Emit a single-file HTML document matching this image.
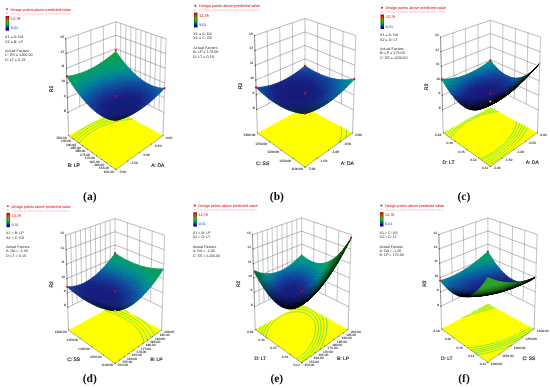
<!DOCTYPE html>
<html><head><meta charset="utf-8"><title>Response surface plots</title><style>html,body{margin:0;padding:0;background:#fff}svg{display:block}text{text-rendering:geometricPrecision}</style></head><body>
<svg width="550" height="388" viewBox="0 0 550 388" font-family="'Liberation Sans',sans-serif">
<defs><linearGradient id="cb" x1="0" y1="0" x2="0" y2="1"><stop offset="0" stop-color="#d80000"/><stop offset="0.12" stop-color="#ff1800"/><stop offset="0.3" stop-color="#a08000"/><stop offset="0.5" stop-color="#00e800"/><stop offset="0.7" stop-color="#008878"/><stop offset="0.86" stop-color="#0008e8"/><stop offset="1" stop-color="#000078"/></linearGradient><linearGradient id="ce" x1="0" y1="0" x2="1" y2="0"><stop offset="0" stop-color="#000" stop-opacity="0.5"/><stop offset="0.45" stop-color="#000" stop-opacity="0"/><stop offset="0.6" stop-color="#000" stop-opacity="0"/><stop offset="1" stop-color="#000" stop-opacity="0.5"/></linearGradient></defs>
<rect width="550" height="388" fill="#fff"/>
<g><g transform="translate(0 0) scale(1 1)">
<g font-size="3.75" stroke-width="0.06">
<circle cx="7.0" cy="9.1" r="0.95" fill="#e00"/>
<text x="10.6" y="10.8" fill="#e8202a" stroke="#e8202a">Design points above predicted value</text>
<circle cx="7.0" cy="13.4" r="0.85" fill="#f3b0b8"/>
<text x="10.6" y="14.7" fill="#f8c4cc">Design points below predicted value</text>
<rect x="5.7" y="16.0" width="3.3" height="14.6" fill="url(#cb)"/>
<rect x="5.7" y="16.0" width="3.3" height="14.6" fill="url(#ce)"/>
<text x="10.8" y="19.8" fill="#e8202a" stroke="#e8202a">12.78</text>
<text x="10.8" y="29.1" fill="#2030e0">9.01</text>
<g fill="#2a2a2a"><text x="5.0" y="38.0">X1 = A: DA</text>
<text x="5.0" y="42.6">X2 = B: LP</text>
<text x="5.0" y="52.2">Actual Factors</text>
<text x="5.0" y="56.4">C: SS = 1200.00</text>
<text x="5.0" y="61.2">D: LT = 0.15</text></g></g>
<path d="M67.8 112.4L65.7 38.8M79.8 106.5L78.2 34.5M91.8 100.6L90.7 30.3M103.8 94.6L103.3 26.1M115.8 88.7L115.8 21.8M163.8 112.5L166.2 38.8M159.0 110.1L161.2 37.1M154.2 107.7L156.1 35.4M149.4 105.3L151.1 33.7M144.6 103.0L146.0 32.0M139.8 100.6L141.0 30.3M135.0 98.2L136.0 28.6M130.2 95.8L130.9 26.9M125.4 93.4L125.9 25.2M120.6 91.1L120.8 23.5" stroke="#6a6a6a" stroke-width="0.4" fill="none"/>
<path d="M67.8 112.4L115.8 88.7M115.8 88.7L163.8 112.5M67.4 97.7L115.8 75.3M115.8 75.3L164.3 97.7M67.0 83.0L115.8 61.9M115.8 61.9L164.7 83.0M66.5 68.3L115.8 48.6M115.8 48.6L165.2 68.3M66.1 53.5L115.8 35.2M115.8 35.2L165.7 53.5M65.7 38.8L115.8 21.8M115.8 21.8L166.2 38.8M68.5 135.6L65.7 38.8M163.0 135.6L163.8 112.5" stroke="#555" stroke-width="0.42" fill="none"/>
<polygon points="115.8,169.6 163.0,135.6 115.8,109.7 68.5,135.6" fill="#ffff00"/>
<path d="M79.6 142.5L79.2 143.2M79.7 142.3L79.6 142.5M79.7 142.3L80.1 141.9M80.6 141.2L80.1 141.9M81.1 140.5L80.6 141.2M81.2 140.5L81.1 140.5M81.2 140.5L81.7 139.9M82.2 139.3L81.7 139.9M82.8 138.7L82.2 139.3M83.1 138.4L82.8 138.7M83.1 138.4L83.4 138.1M84.0 137.5L83.4 138.1M84.6 136.9L84.0 137.5M85.2 136.3L84.6 136.9M85.9 135.8L85.2 136.3M85.9 135.7L85.9 135.8M85.9 135.7L86.5 135.2M87.2 134.7L86.5 135.2M87.9 134.2L87.2 134.7M88.6 133.7L87.9 134.2M89.3 133.2L88.6 133.7M90.0 132.7L89.3 133.2M90.7 132.2L90.0 132.7M91.5 131.7L90.7 132.2M92.2 131.2L91.5 131.7M93.0 130.8L92.2 131.2M93.8 130.3L93.0 130.8M94.6 129.9L93.8 130.3M95.4 129.4L94.6 129.9M96.2 129.0L95.4 129.4M97.0 128.6L96.2 129.0M97.8 128.1L97.0 128.6M98.7 127.7L97.8 128.1M99.6 127.3L98.7 127.7M100.4 126.9L99.6 127.3M101.3 126.5L100.4 126.9M102.2 126.2L101.3 126.5M103.2 125.8L102.2 126.2M104.1 125.4L103.3 125.7M103.3 125.7L103.2 125.8M105.0 125.1L104.1 125.4M106.0 124.7L105.0 125.1M107.0 124.4L106.0 124.7M107.9 124.0L107.8 124.1M107.8 124.1L107.0 124.4M108.9 123.7L107.9 124.0M110.0 123.4L108.9 123.7M111.0 123.1L110.0 123.4M112.0 122.8L111.3 123.0M111.3 123.0L111.0 123.1M113.1 122.5L112.0 122.8M114.2 122.2L113.1 122.5M115.2 121.9L114.4 122.1M114.4 122.1L114.2 122.2M116.4 121.6L115.2 121.9M117.5 121.4L117.1 121.5M117.1 121.5L116.4 121.6M118.6 121.1L117.5 121.4M119.8 120.9L119.6 120.9M119.6 120.9L118.6 121.1M121.0 120.6L119.8 120.9M122.2 120.4L121.9 120.5M121.9 120.5L121.0 120.6M123.4 120.2L122.2 120.4M124.7 120.0L124.0 120.1M124.0 120.1L123.4 120.2M126.0 119.8L124.7 120.0M127.3 119.6L126.1 119.8M126.1 119.8L126.0 119.8M128.6 119.5L128.0 119.5M128.0 119.5L127.3 119.6M130.0 119.3L129.9 119.3M129.9 119.3L128.6 119.5M131.4 119.2L130.0 119.3M132.9 119.1L131.6 119.2M131.6 119.2L131.4 119.2" stroke="#6fe04a" stroke-width="0.5" fill="none" stroke-linecap="round"/>
<path d="M77.0 140.9L76.6 141.4M77.0 140.9L77.1 140.7M77.6 140.1L77.1 140.7M78.2 139.5L77.6 140.1M78.6 138.9L78.2 139.5M78.6 138.9L78.7 138.8M79.3 138.2L78.7 138.8M79.9 137.6L79.3 138.2M80.4 137.0L79.9 137.6M80.8 136.7L80.4 137.0M80.8 136.7L81.0 136.5M81.7 135.9L81.0 136.5M82.3 135.3L81.7 135.9M82.9 134.8L82.3 135.3M83.6 134.2L82.9 134.8M84.2 133.7L83.6 134.2M84.2 133.7L84.3 133.7M84.9 133.2L84.3 133.7M85.6 132.7L84.9 133.2M86.3 132.2L85.6 132.7M87.0 131.7L86.3 132.2M87.8 131.2L87.0 131.7M88.5 130.7L87.8 131.2M89.3 130.2L88.5 130.7M90.0 129.8L89.3 130.2M90.8 129.3L90.0 129.8M91.6 128.9L90.8 129.3M92.4 128.4L91.6 128.9M93.2 128.0L92.4 128.4M94.0 127.6L93.2 128.0M94.8 127.1L94.0 127.6M95.6 126.7L94.8 127.1M96.5 126.3L95.6 126.7M97.4 125.9L96.5 126.3M98.2 125.5L97.4 125.9M99.1 125.2L98.2 125.5M100.0 124.8L99.1 125.2M100.9 124.4L100.1 124.7M100.1 124.7L100.0 124.8M101.8 124.0L100.9 124.4M102.8 123.7L101.8 124.0M103.7 123.3L102.8 123.7M104.7 123.0L103.7 123.3M105.6 122.6L105.1 122.8M105.1 122.8L104.7 123.0M106.6 122.3L105.6 122.6M107.6 122.0L106.6 122.3M108.6 121.7L107.6 122.0M109.6 121.4L109.0 121.6M109.0 121.6L108.6 121.7M110.7 121.0L109.6 121.4M111.7 120.7L110.7 121.0M112.8 120.5L112.2 120.6M112.2 120.6L111.7 120.7M113.9 120.2L112.8 120.5M115.0 119.9L113.9 120.2M116.1 119.6L115.1 119.9M115.1 119.9L115.0 119.9M117.2 119.4L116.1 119.6M118.4 119.1L117.7 119.3M117.7 119.3L117.2 119.4M119.5 118.9L118.4 119.1M120.7 118.6L120.1 118.8M120.1 118.8L119.5 118.9M121.9 118.4L120.7 118.6M123.1 118.2L122.4 118.3M122.4 118.3L121.9 118.4M124.4 118.0L123.1 118.2M125.7 117.8L124.6 118.0M124.6 118.0L124.4 118.0M127.0 117.6L126.6 117.7M126.6 117.7L125.7 117.8M128.3 117.4L127.0 117.6M129.6 117.3L128.5 117.4M128.5 117.4L128.3 117.4" stroke="#6fe04a" stroke-width="0.5" fill="none" stroke-linecap="round"/>
<path d="M74.5 139.3L74.2 139.6M74.5 139.3L74.7 139.0M75.2 138.4L74.7 139.0M75.8 137.8L75.2 138.4M76.3 137.2L75.8 137.8M76.3 137.2L76.4 137.2M76.9 136.6L76.4 137.2M77.5 136.0L76.9 136.6M78.1 135.4L77.5 136.0M78.8 134.9L78.1 135.4M78.8 134.8L78.8 134.9M78.8 134.8L79.4 134.3M80.0 133.8L79.4 134.3M80.7 133.2L80.0 133.8M81.4 132.7L80.7 133.2M82.0 132.2L81.4 132.7M82.7 131.7L82.0 132.2M82.9 131.5L82.7 131.7M82.9 131.5L83.4 131.2M84.1 130.7L83.4 131.2M84.8 130.2L84.1 130.7M85.6 129.7L84.8 130.2M86.3 129.3L85.6 129.7M87.1 128.8L86.3 129.3M87.8 128.3L87.1 128.8M88.6 127.9L87.8 128.3M89.4 127.4L88.6 127.9M90.2 127.0L89.4 127.4M91.0 126.6L90.2 127.0M91.8 126.2L91.0 126.6M92.6 125.7L91.8 126.2M93.5 125.3L92.6 125.7M94.3 124.9L93.5 125.3M95.2 124.5L94.3 124.9M96.0 124.2L95.2 124.5M96.9 123.8L96.6 123.9M96.6 123.9L96.0 124.2M97.8 123.4L96.9 123.8M98.7 123.0L97.8 123.4M99.6 122.7L98.7 123.0M100.5 122.3L99.6 122.7M101.5 121.9L100.5 122.3M102.4 121.6L102.3 121.6M102.3 121.6L101.5 121.9M103.4 121.3L102.4 121.6M104.3 120.9L103.4 121.3M105.3 120.6L104.3 120.9M106.3 120.3L105.3 120.6M107.3 120.0L106.4 120.2M106.4 120.2L106.3 120.3M108.3 119.6L107.3 120.0M109.4 119.3L108.3 119.6M110.4 119.0L109.9 119.2M109.9 119.2L109.4 119.3M111.5 118.8L110.4 119.0M112.5 118.5L111.5 118.8M113.6 118.2L112.9 118.4M112.9 118.4L112.5 118.5M114.7 117.9L113.6 118.2M115.8 117.7L115.7 117.7M115.7 117.7L114.7 117.9M117.0 117.4L115.8 117.7M118.1 117.2L117.0 117.4M119.3 116.9L118.3 117.1M118.3 117.1L118.1 117.2M120.4 116.7L119.3 116.9M121.6 116.5L120.7 116.6M120.7 116.6L120.4 116.7M122.9 116.2L121.6 116.5M124.1 116.0L122.9 116.2M122.9 116.2L122.9 116.2M125.4 115.8L125.0 115.9M125.0 115.9L124.1 116.0M126.7 115.7L125.4 115.8" stroke="#6fe04a" stroke-width="0.5" fill="none" stroke-linecap="round"/>
<path d="M72.5 137.4L71.9 138.0M72.5 137.3L72.5 137.4M72.5 137.3L73.0 136.8M73.6 136.2L73.0 136.8M74.2 135.6L73.6 136.2M74.7 135.1L74.2 135.6M74.7 135.1L74.8 135.0M75.4 134.5L74.8 135.0M76.0 133.9L75.4 134.5M76.6 133.4L76.0 133.9M77.3 132.8L76.6 133.4M77.8 132.4L77.3 132.8M77.8 132.4L77.9 132.3M78.6 131.8L77.9 132.3M79.3 131.3L78.6 131.8M80.0 130.8L79.3 131.3M80.7 130.3L80.0 130.8M81.4 129.8L80.7 130.3M82.1 129.3L81.4 129.8M82.8 128.8L82.1 129.3M83.5 128.4L82.8 128.8M84.3 127.9L83.5 128.4M84.6 127.7L84.3 127.9M84.6 127.7L85.0 127.4M85.8 127.0L85.0 127.4M86.6 126.6L85.8 127.0M87.4 126.1L86.6 126.6M88.2 125.7L87.4 126.1M89.0 125.3L88.2 125.7M89.8 124.8L89.0 125.3M90.6 124.4L90.1 124.7M90.1 124.7L89.8 124.8M91.4 124.0L90.6 124.4M92.3 123.6L91.4 124.0M93.1 123.2L92.3 123.6M94.0 122.9L93.1 123.2M94.9 122.5L94.0 122.9M95.7 122.1L94.9 122.5M96.6 121.7L95.7 122.1M97.5 121.4L96.6 121.7M98.5 121.0L98.4 121.0M98.4 121.0L97.5 121.4M99.4 120.7L98.5 121.0M100.3 120.3L99.4 120.7M101.3 120.0L100.3 120.3M102.2 119.6L101.3 120.0M103.2 119.3L103.2 119.3M103.2 119.3L102.2 119.6M104.2 119.0L103.2 119.3M105.2 118.7L104.2 119.0M106.2 118.4L105.2 118.7M107.2 118.1L107.0 118.1M107.0 118.1L106.2 118.4M108.2 117.8L107.2 118.1M109.2 117.5L108.2 117.8M110.3 117.2L110.3 117.2M110.3 117.2L109.2 117.5M111.3 116.9L110.3 117.2M112.4 116.6L111.3 116.9M113.5 116.3L113.2 116.4M113.2 116.4L112.4 116.6M114.6 116.1L113.5 116.3M115.7 115.8L114.6 116.1M116.9 115.6L115.9 115.8M115.9 115.8L115.7 115.8M118.0 115.3L116.9 115.6M119.2 115.1L118.5 115.2M118.5 115.2L118.0 115.3M120.4 114.8L119.2 115.1M121.6 114.6L120.8 114.8M120.8 114.8L120.4 114.8M122.8 114.4L121.6 114.6M124.0 114.2L123.1 114.4M123.1 114.4L122.8 114.4" stroke="#6fe04a" stroke-width="0.5" fill="none" stroke-linecap="round"/>
<path d="M115.8 169.6L163.0 135.6M115.8 169.6L68.5 135.6" stroke="#333" stroke-width="0.4" fill="none"/>
<g fill="currentColor" stroke="currentColor" stroke-width="0.8" stroke-linejoin="round">
<path color="#0d9f48" d="M115.8 57.2l2.5-2.1l-2.5-3.5l-2.5 2.1z"/>
<path color="#0b9e4d" d="M113.4 59.2l2.4-2l-2.5-3.5l-2.4 2z"/>
<path color="#0a9e53" d="M118.3 60.5l2.4-2.2l-2.4-3.2l-2.5 2.1z"/>
<path color="#0a9e51" d="M110.9 61.1l2.5-1.9l-2.5-3.5l-2.5 1.9z"/>
<path color="#099d57" d="M115.8 62.5l2.5-2l-2.5-3.3l-2.4 2z"/>
<path color="#079d5e" d="M120.7 63.6l2.5-2.2l-2.5-3.1l-2.4 2.2z"/>
<path color="#099e55" d="M108.5 63l2.4-1.9l-2.5-3.5l-2.4 1.8z"/>
<path color="#029c6b" d="M123.1 66.6l2.5-2.2l-2.4-3l-2.5 2.2z"/>
<path color="#079d5d" d="M113.4 64.5l2.4-2l-2.4-3.3l-2.5 1.9z"/>
<path color="#049d65" d="M118.3 65.7l2.4-2.1l-2.4-3.1l-2.5 2z"/>
<path color="#089d58" d="M106 64.7l2.5-1.7l-2.5-3.6l-2.5 1.8z"/>
<path color="#059d62" d="M110.9 66.4l2.5-1.9l-2.5-3.4l-2.4 1.9z"/>
<path color="#029c6b" d="M115.8 67.7l2.5-2l-2.5-3.2l-2.4 2z"/>
<path color="#009b72" d="M120.7 68.7l2.4-2.1l-2.4-3l-2.4 2.1z"/>
<path color="#009879" d="M125.6 69.4l2.4-2.2l-2.4-2.8l-2.5 2.2z"/>
<path color="#079d5c" d="M103.6 66.4l2.4-1.7l-2.5-3.5l-2.4 1.6z"/>
<path color="#039c67" d="M108.5 68.2l2.4-1.8l-2.4-3.4l-2.5 1.7z"/>
<path color="#009c70" d="M113.4 69.6l2.4-1.9l-2.4-3.2l-2.5 1.9z"/>
<path color="#00977a" d="M118.3 70.7l2.4-2l-2.4-3l-2.5 2z"/>
<path color="#009481" d="M123.1 71.6l2.5-2.2l-2.5-2.8l-2.4 2.1z"/>
<path color="#009187" d="M128 72.1l2.5-2.3l-2.5-2.6l-2.4 2.2z"/>
<path color="#069d60" d="M101.1 68l2.5-1.6l-2.5-3.6l-2.5 1.6z"/>
<path color="#029c6b" d="M106 69.9l2.5-1.7l-2.5-3.5l-2.4 1.7z"/>
<path color="#009481" d="M115.8 72.7l2.5-2l-2.5-3l-2.4 1.9z"/>
<path color="#008a8e" d="M125.6 74.3l2.4-2.2l-2.4-2.7l-2.5 2.2z"/>
<path color="#008692" d="M130.4 74.6l2.5-2.3l-2.4-2.5l-2.5 2.3z"/>
<path color="#009977" d="M110.9 71.4l2.5-1.8l-2.5-3.2l-2.4 1.8z"/>
<path color="#008f89" d="M120.7 73.6l2.4-2l-2.4-2.9l-2.4 2z"/>
<path color="#059d63" d="M98.7 69.5l2.4-1.5l-2.5-3.6l-2.4 1.5z"/>
<path color="#009c6f" d="M103.6 71.5l2.4-1.6l-2.4-3.5l-2.5 1.6z"/>
<path color="#00967c" d="M108.5 73.2l2.4-1.8l-2.4-3.2l-2.5 1.7z"/>
<path color="#009187" d="M113.4 74.5l2.4-1.8l-2.4-3.1l-2.5 1.8z"/>
<path color="#00898f" d="M118.3 75.6l2.4-2l-2.4-2.9l-2.5 2z"/>
<path color="#008395" d="M123.1 76.3l2.5-2l-2.5-2.7l-2.4 2z"/>
<path color="#007f99" d="M128 76.8l2.4-2.2l-2.4-2.5l-2.4 2.2z"/>
<path color="#007d9b" d="M132.9 76.9l2.4-2.3l-2.4-2.3l-2.5 2.3z"/>
<path color="#049c66" d="M96.2 71l2.5-1.5l-2.5-3.6l-2.4 1.4z"/>
<path color="#008c8c" d="M110.9 76.3l2.5-1.8l-2.5-3.1l-2.4 1.8z"/>
<path color="#007d9b" d="M120.7 78.3l2.4-2l-2.4-2.7l-2.4 2z"/>
<path color="#03709d" d="M135.3 79.1l2.4-2.3l-2.4-2.2l-2.4 2.3z"/>
<path color="#009b73" d="M101.2 73.1l2.4-1.6l-2.5-3.5l-2.4 1.5z"/>
<path color="#009481" d="M106.1 74.8l2.4-1.6l-2.5-3.3l-2.4 1.6z"/>
<path color="#008395" d="M115.8 77.5l2.5-1.9l-2.5-2.9l-2.4 1.8z"/>
<path color="#02759c" d="M125.6 78.9l2.4-2.1l-2.4-2.5l-2.5 2z"/>
<path color="#03719d" d="M130.4 79.1l2.5-2.2l-2.5-2.3l-2.4 2.2z"/>
<path color="#039c68" d="M93.8 72.3l2.4-1.3l-2.4-3.7l-2.5 1.3z"/>
<path color="#009976" d="M98.7 74.5l2.5-1.4l-2.5-3.6l-2.5 1.5z"/>
<path color="#009285" d="M103.6 76.4l2.5-1.6l-2.5-3.3l-2.4 1.6z"/>
<path color="#008890" d="M108.5 78l2.4-1.7l-2.4-3.1l-2.4 1.6z"/>
<path color="#007e9a" d="M113.4 79.3l2.4-1.8l-2.4-3l-2.5 1.8z"/>
<path color="#02749c" d="M118.2 80.2l2.5-1.9l-2.4-2.7l-2.5 1.9z"/>
<path color="#046c9e" d="M123.1 80.9l2.5-2l-2.5-2.6l-2.4 2z"/>
<path color="#06679f" d="M128 81.3l2.4-2.2l-2.4-2.3l-2.4 2.1z"/>
<path color="#06659f" d="M132.8 81.3l2.5-2.2l-2.4-2.2l-2.5 2.2z"/>
<path color="#06659f" d="M137.7 81.1l2.5-2.4l-2.5-1.9l-2.4 2.3z"/>
<path color="#039c69" d="M91.4 73.5l2.4-1.2l-2.5-3.7l-2.4 1.2z"/>
<path color="#009879" d="M96.3 75.9l2.4-1.4l-2.5-3.5l-2.4 1.3z"/>
<path color="#009088" d="M101.2 77.9l2.4-1.5l-2.4-3.3l-2.5 1.4z"/>
<path color="#008494" d="M106.1 79.6l2.4-1.6l-2.4-3.2l-2.5 1.6z"/>
<path color="#01799c" d="M110.9 81l2.5-1.7l-2.5-3l-2.4 1.7z"/>
<path color="#046d9e" d="M115.8 82.1l2.4-1.9l-2.4-2.7l-2.4 1.8z"/>
<path color="#07639f" d="M120.7 82.8l2.4-1.9l-2.4-2.6l-2.5 1.9z"/>
<path color="#085da0" d="M125.5 83.3l2.5-2l-2.4-2.4l-2.5 2z"/>
<path color="#095a9f" d="M130.4 83.5l2.4-2.2l-2.4-2.2l-2.4 2.2z"/>
<path color="#09599f" d="M135.3 83.3l2.4-2.2l-2.4-2l-2.5 2.2z"/>
<path color="#085ca0" d="M140.1 82.9l2.5-2.4l-2.4-1.8l-2.5 2.4z"/>
<path color="#029c6a" d="M88.9 74.7l2.5-1.2l-2.5-3.7l-2.5 1.1z"/>
<path color="#008197" d="M103.6 81.1l2.5-1.5l-2.5-3.2l-2.4 1.5z"/>
<path color="#06669f" d="M113.4 83.8l2.4-1.7l-2.4-2.8l-2.5 1.7z"/>
<path color="#095c9f" d="M118.2 84.7l2.5-1.9l-2.5-2.6l-2.4 1.9z"/>
<path color="#0c4f9d" d="M128 85.6l2.4-2.1l-2.4-2.2l-2.5 2z"/>
<path color="#0b559e" d="M142.6 84.5l2.4-2.4l-2.4-1.6l-2.5 2.4z"/>
<path color="#00977b" d="M93.8 77.1l2.5-1.2l-2.5-3.6l-2.4 1.2z"/>
<path color="#008e8a" d="M98.7 79.3l2.5-1.4l-2.5-3.4l-2.4 1.4z"/>
<path color="#02739d" d="M108.5 82.6l2.4-1.6l-2.4-3l-2.4 1.6z"/>
<path color="#0b549e" d="M123.1 85.3l2.4-2l-2.4-2.4l-2.4 1.9z"/>
<path color="#0d4e9c" d="M132.8 85.5l2.5-2.2l-2.5-2l-2.4 2.2z"/>
<path color="#0c509d" d="M137.7 85.2l2.4-2.3l-2.4-1.8l-2.4 2.2z"/>
<path color="#029c6a" d="M86.5 75.7l2.4-1l-2.5-3.8l-2.4 1z"/>
<path color="#00967c" d="M91.4 78.3l2.4-1.2l-2.4-3.6l-2.5 1.2z"/>
<path color="#008c8c" d="M96.3 80.5l2.4-1.2l-2.4-3.4l-2.5 1.2z"/>
<path color="#007f99" d="M101.2 82.5l2.4-1.4l-2.4-3.2l-2.5 1.4z"/>
<path color="#046f9d" d="M106.1 84.1l2.4-1.5l-2.4-3l-2.5 1.5z"/>
<path color="#0761a0" d="M111 85.4l2.4-1.6l-2.5-2.8l-2.4 1.6z"/>
<path color="#0b559e" d="M115.8 86.4l2.4-1.7l-2.4-2.6l-2.4 1.7z"/>
<path color="#0d4c9c" d="M120.7 87.1l2.4-1.8l-2.4-2.5l-2.5 1.9z"/>
<path color="#0f469a" d="M125.5 87.5l2.5-1.9l-2.5-2.3l-2.4 2z"/>
<path color="#10449a" d="M130.4 87.6l2.4-2.1l-2.4-2l-2.4 2.1z"/>
<path color="#10449a" d="M135.2 87.4l2.5-2.2l-2.4-1.9l-2.5 2.2z"/>
<path color="#0e499b" d="M140.1 86.8l2.5-2.3l-2.5-1.6l-2.4 2.3z"/>
<path color="#0c509d" d="M145 86l2.4-2.4l-2.4-1.5l-2.4 2.4z"/>
<path color="#029c6a" d="M84 76.7l2.5-1l-2.5-3.8l-2.5 1z"/>
<path color="#095ca0" d="M108.5 87l2.5-1.6l-2.5-2.8l-2.4 1.5z"/>
<path color="#113e98" d="M123.1 89.4l2.4-1.9l-2.4-2.2l-2.4 1.8z"/>
<path color="#0d4d9c" d="M147.4 87.2l2.5-2.4l-2.5-1.2l-2.4 2.4z"/>
<path color="#00967c" d="M89 79.4l2.4-1.1l-2.5-3.6l-2.4 1z"/>
<path color="#008b8d" d="M93.9 81.7l2.4-1.2l-2.5-3.4l-2.4 1.2z"/>
<path color="#007d9b" d="M98.8 83.8l2.4-1.3l-2.5-3.2l-2.4 1.2z"/>
<path color="#056c9e" d="M103.6 85.5l2.5-1.4l-2.5-3l-2.4 1.4z"/>
<path color="#0c4f9c" d="M113.4 88.1l2.4-1.7l-2.4-2.6l-2.4 1.6z"/>
<path color="#0f459a" d="M118.2 88.9l2.5-1.8l-2.5-2.4l-2.4 1.7z"/>
<path color="#123b97" d="M127.9 89.6l2.5-2l-2.4-2l-2.5 1.9z"/>
<path color="#123a97" d="M132.8 89.5l2.4-2.1l-2.4-1.9l-2.4 2.1z"/>
<path color="#123d98" d="M137.7 89.1l2.4-2.3l-2.4-1.6l-2.5 2.2z"/>
<path color="#10439a" d="M142.5 88.3l2.5-2.3l-2.4-1.5l-2.5 2.3z"/>
<path color="#039c69" d="M81.6 77.5l2.4-0.8l-2.5-3.8l-2.4 0.8z"/>
<path color="#00977b" d="M86.5 80.3l2.5-0.9l-2.5-3.7l-2.5 1z"/>
<path color="#008b8d" d="M91.4 82.8l2.5-1.1l-2.5-3.4l-2.4 1.1z"/>
<path color="#007c9b" d="M96.3 85l2.5-1.2l-2.5-3.3l-2.4 1.2z"/>
<path color="#05699e" d="M101.2 86.9l2.4-1.4l-2.4-3l-2.4 1.3z"/>
<path color="#0a589f" d="M106.1 88.4l2.4-1.4l-2.4-2.9l-2.5 1.4z"/>
<path color="#0e4a9b" d="M111 89.7l2.4-1.6l-2.4-2.7l-2.5 1.6z"/>
<path color="#113f99" d="M115.8 90.6l2.4-1.7l-2.4-2.5l-2.4 1.7z"/>
<path color="#123895" d="M120.7 91.2l2.4-1.8l-2.4-2.3l-2.5 1.8z"/>
<path color="#133492" d="M125.5 91.5l2.4-1.9l-2.4-2.1l-2.4 1.9z"/>
<path color="#133391" d="M130.4 91.5l2.4-2l-2.4-1.9l-2.5 2z"/>
<path color="#123592" d="M135.2 91.2l2.5-2.1l-2.5-1.7l-2.4 2.1z"/>
<path color="#123995" d="M140.1 90.5l2.4-2.2l-2.4-1.5l-2.4 2.3z"/>
<path color="#114099" d="M145 89.6l2.4-2.4l-2.4-1.2l-2.5 2.3z"/>
<path color="#0d4c9c" d="M149.8 88.3l2.5-2.4l-2.4-1.1l-2.5 2.4z"/>
<path color="#039c67" d="M79.1 78.3l2.5-0.8l-2.5-3.8l-2.5 0.7z"/>
<path color="#00977a" d="M84.1 81.2l2.4-0.9l-2.5-3.6l-2.4 0.8z"/>
<path color="#008b8d" d="M89 83.8l2.4-1l-2.4-3.4l-2.5 0.9z"/>
<path color="#007c9b" d="M93.9 86.1l2.4-1.1l-2.4-3.3l-2.5 1.1z"/>
<path color="#05689e" d="M98.8 88.1l2.4-1.2l-2.4-3.1l-2.5 1.2z"/>
<path color="#0a569e" d="M103.7 89.8l2.4-1.4l-2.5-2.9l-2.4 1.4z"/>
<path color="#0f469a" d="M108.5 91.2l2.5-1.5l-2.5-2.7l-2.4 1.4z"/>
<path color="#123a97" d="M113.4 92.2l2.4-1.6l-2.4-2.5l-2.4 1.6z"/>
<path color="#133391" d="M118.2 92.9l2.5-1.7l-2.5-2.3l-2.4 1.7z"/>
<path color="#132f8d" d="M123.1 93.4l2.4-1.9l-2.4-2.1l-2.4 1.8z"/>
<path color="#132d8c" d="M127.9 93.5l2.5-2l-2.5-1.9l-2.4 1.9z"/>
<path color="#132d8c" d="M132.8 93.2l2.4-2l-2.4-1.7l-2.4 2z"/>
<path color="#13318f" d="M137.6 92.7l2.5-2.2l-2.4-1.4l-2.5 2.1z"/>
<path color="#123694" d="M142.5 91.9l2.5-2.3l-2.5-1.3l-2.4 2.2z"/>
<path color="#114099" d="M147.4 90.7l2.4-2.4l-2.4-1.1l-2.4 2.4z"/>
<path color="#0d4e9c" d="M152.3 89.2l2.4-2.5l-2.4-0.8l-2.5 2.4z"/>
<path color="#049d65" d="M76.7 79l2.4-0.7l-2.5-3.9l-2.4 0.7z"/>
<path color="#009878" d="M81.6 82l2.5-0.8l-2.5-3.7l-2.5 0.8z"/>
<path color="#007d9b" d="M91.5 87.2l2.4-1.1l-2.5-3.3l-2.4 1z"/>
<path color="#0b559e" d="M101.2 91.1l2.5-1.3l-2.5-2.9l-2.4 1.2z"/>
<path color="#132f8e" d="M115.8 94.6l2.4-1.7l-2.4-2.3l-2.4 1.6z"/>
<path color="#132787" d="M130.4 95.2l2.4-2l-2.4-1.7l-2.5 2z"/>
<path color="#132e8d" d="M140.1 94l2.4-2.1l-2.4-1.4l-2.5 2.2z"/>
<path color="#104199" d="M149.8 91.6l2.5-2.4l-2.5-0.9l-2.4 2.4z"/>
<path color="#0c519d" d="M154.7 89.9l2.5-2.5l-2.5-0.7l-2.4 2.5z"/>
<path color="#008c8c" d="M86.5 84.7l2.5-0.9l-2.5-3.5l-2.4 0.9z"/>
<path color="#06689e" d="M96.4 89.3l2.4-1.2l-2.5-3.1l-2.4 1.1z"/>
<path color="#10449a" d="M106.1 92.6l2.4-1.4l-2.4-2.8l-2.4 1.4z"/>
<path color="#123894" d="M111 93.7l2.4-1.5l-2.4-2.5l-2.5 1.5z"/>
<path color="#132a8a" d="M120.7 95.1l2.4-1.7l-2.4-2.2l-2.5 1.7z"/>
<path color="#132787" d="M125.5 95.3l2.4-1.8l-2.4-2l-2.4 1.9z"/>
<path color="#132989" d="M135.2 94.8l2.4-2.1l-2.4-1.5l-2.4 2z"/>
<path color="#123693" d="M144.9 93l2.5-2.3l-2.4-1.1l-2.5 2.3z"/>
<path color="#059d62" d="M74.2 79.5l2.5-0.5l-2.5-3.9l-2.5 0.5z"/>
<path color="#009a75" d="M79.2 82.7l2.4-0.7l-2.5-3.7l-2.4 0.7z"/>
<path color="#008e8a" d="M84.1 85.5l2.4-0.8l-2.4-3.5l-2.5 0.8z"/>
<path color="#007e9a" d="M89 88.1l2.5-0.9l-2.5-3.4l-2.5 0.9z"/>
<path color="#05689e" d="M93.9 90.3l2.5-1l-2.5-3.2l-2.4 1.1z"/>
<path color="#0b549e" d="M98.8 92.2l2.4-1.1l-2.4-3l-2.4 1.2z"/>
<path color="#10439a" d="M103.7 93.8l2.4-1.2l-2.4-2.8l-2.5 1.3z"/>
<path color="#123693" d="M108.5 95.1l2.5-1.4l-2.5-2.5l-2.4 1.4z"/>
<path color="#132d8c" d="M113.4 96.1l2.4-1.5l-2.4-2.4l-2.4 1.5z"/>
<path color="#132687" d="M118.2 96.7l2.5-1.6l-2.5-2.2l-2.4 1.7z"/>
<path color="#142284" d="M123.1 97.1l2.4-1.8l-2.4-1.9l-2.4 1.7z"/>
<path color="#142183" d="M127.9 97.1l2.5-1.9l-2.5-1.7l-2.4 1.8z"/>
<path color="#142384" d="M132.8 96.8l2.4-2l-2.4-1.6l-2.4 2z"/>
<path color="#132787" d="M137.6 96.1l2.5-2.1l-2.5-1.3l-2.4 2.1z"/>
<path color="#132e8d" d="M142.5 95.2l2.4-2.2l-2.4-1.1l-2.4 2.1z"/>
<path color="#123794" d="M147.4 93.9l2.4-2.3l-2.4-0.9l-2.5 2.3z"/>
<path color="#0f459a" d="M152.3 92.3l2.4-2.4l-2.4-0.7l-2.5 2.4z"/>
<path color="#0a579e" d="M157.2 90.4l2.4-2.5l-2.4-0.5l-2.5 2.5z"/>
<path color="#0b559e" d="M96.4 93.3l2.4-1.1l-2.4-2.9l-2.5 1z"/>
<path color="#142182" d="M135.2 98.1l2.4-2l-2.4-1.3l-2.4 2z"/>
<path color="#069d5f" d="M71.7 80l2.5-0.5l-2.5-3.9l-2.5 0.4z"/>
<path color="#009b72" d="M76.7 83.3l2.5-0.6l-2.5-3.7l-2.5 0.5z"/>
<path color="#009187" d="M81.7 86.2l2.4-0.7l-2.5-3.5l-2.4 0.7z"/>
<path color="#008098" d="M86.6 88.9l2.4-0.8l-2.5-3.4l-2.4 0.8z"/>
<path color="#056a9e" d="M91.5 91.3l2.4-1l-2.4-3.1l-2.5 0.9z"/>
<path color="#104299" d="M101.2 95l2.5-1.2l-2.5-2.7l-2.4 1.1z"/>
<path color="#123592" d="M106.1 96.4l2.4-1.3l-2.4-2.5l-2.4 1.2z"/>
<path color="#132b8a" d="M111 97.5l2.4-1.4l-2.4-2.4l-2.5 1.4z"/>
<path color="#142384" d="M115.8 98.3l2.4-1.6l-2.4-2.1l-2.4 1.5z"/>
<path color="#141f81" d="M120.7 98.7l2.4-1.6l-2.4-2l-2.5 1.6z"/>
<path color="#141e7f" d="M125.5 98.8l2.4-1.7l-2.4-1.8l-2.4 1.8z"/>
<path color="#141e80" d="M130.3 98.6l2.5-1.8l-2.4-1.6l-2.5 1.9z"/>
<path color="#132687" d="M140.1 97.3l2.4-2.1l-2.4-1.2l-2.5 2.1z"/>
<path color="#132f8e" d="M144.9 96.1l2.5-2.2l-2.5-0.9l-2.4 2.2z"/>
<path color="#123a97" d="M149.8 94.6l2.5-2.3l-2.5-0.7l-2.4 2.3z"/>
<path color="#0e4b9c" d="M154.7 92.8l2.5-2.4l-2.5-0.5l-2.4 2.4z"/>
<path color="#085fa0" d="M159.6 90.7l2.5-2.5l-2.5-0.3l-2.4 2.5z"/>
<path color="#089d5b" d="M69.3 80.3l2.4-0.3l-2.5-4l-2.4 0.4z"/>
<path color="#019c6e" d="M74.3 83.7l2.4-0.4l-2.5-3.8l-2.5 0.5z"/>
<path color="#009384" d="M79.2 86.8l2.5-0.6l-2.5-3.5l-2.5 0.6z"/>
<path color="#008296" d="M84.1 89.6l2.5-0.7l-2.5-3.4l-2.4 0.7z"/>
<path color="#046d9e" d="M89 92.1l2.5-0.8l-2.5-3.2l-2.4 0.8z"/>
<path color="#0a579e" d="M93.9 94.3l2.5-1l-2.5-3l-2.4 1z"/>
<path color="#10439a" d="M98.8 96.1l2.4-1.1l-2.4-2.8l-2.4 1.1z"/>
<path color="#133492" d="M103.7 97.6l2.4-1.2l-2.4-2.6l-2.5 1.2z"/>
<path color="#132a89" d="M108.5 98.8l2.5-1.3l-2.5-2.4l-2.4 1.3z"/>
<path color="#142183" d="M113.4 99.7l2.4-1.4l-2.4-2.2l-2.4 1.4z"/>
<path color="#141d7f" d="M118.2 100.3l2.5-1.6l-2.5-2l-2.4 1.6z"/>
<path color="#141c7e" d="M123.1 100.5l2.4-1.7l-2.4-1.7l-2.4 1.6z"/>
<path color="#141c7e" d="M127.9 100.4l2.4-1.8l-2.4-1.5l-2.4 1.7z"/>
<path color="#141d7f" d="M132.8 100l2.4-1.9l-2.4-1.3l-2.5 1.8z"/>
<path color="#142082" d="M137.6 99.3l2.5-2l-2.5-1.2l-2.4 2z"/>
<path color="#132888" d="M142.5 98.2l2.4-2.1l-2.4-0.9l-2.4 2.1z"/>
<path color="#133290" d="M147.4 96.9l2.4-2.3l-2.4-0.7l-2.5 2.2z"/>
<path color="#114099" d="M152.3 95.2l2.4-2.4l-2.4-0.5l-2.5 2.3z"/>
<path color="#0b539d" d="M157.2 93.2l2.4-2.5l-2.4-0.3l-2.5 2.4z"/>
<path color="#05699e" d="M162.1 90.8l2.5-2.5l-2.5-0.1l-2.5 2.5z"/>
<path color="#029c6a" d="M71.8 84.1l2.5-0.4l-2.6-3.7l-2.4 0.3z"/>
<path color="#008692" d="M81.7 90.2l2.4-0.6l-2.4-3.4l-2.5 0.6z"/>
<path color="#03719d" d="M86.6 92.8l2.4-0.7l-2.4-3.2l-2.5 0.7z"/>
<path color="#095a9f" d="M91.5 95.1l2.4-0.8l-2.4-3l-2.5 0.8z"/>
<path color="#0f459a" d="M96.4 97.1l2.4-1l-2.4-2.8l-2.5 1z"/>
<path color="#123593" d="M101.3 98.8l2.4-1.2l-2.5-2.6l-2.4 1.1z"/>
<path color="#132989" d="M106.1 100.1l2.4-1.3l-2.4-2.4l-2.4 1.2z"/>
<path color="#142082" d="M111 101.1l2.4-1.4l-2.4-2.2l-2.5 1.3z"/>
<path color="#141b7d" d="M120.7 102.1l2.4-1.6l-2.4-1.8l-2.5 1.6z"/>
<path color="#141b7c" d="M125.5 102.1l2.4-1.7l-2.4-1.6l-2.4 1.7z"/>
<path color="#141c7d" d="M130.3 101.8l2.5-1.8l-2.5-1.4l-2.4 1.8z"/>
<path color="#141d7f" d="M135.2 101.2l2.4-1.9l-2.4-1.2l-2.4 1.9z"/>
<path color="#142183" d="M140.1 100.3l2.4-2.1l-2.4-0.9l-2.5 2z"/>
<path color="#132b8a" d="M144.9 99l2.5-2.1l-2.5-0.8l-2.4 2.1z"/>
<path color="#123794" d="M149.8 97.4l2.5-2.2l-2.5-0.6l-2.4 2.3z"/>
<path color="#085da0" d="M159.6 93.3l2.5-2.5l-2.5-0.1l-2.4 2.5z"/>
<path color="#00957f" d="M76.8 87.3l2.4-0.5l-2.5-3.5l-2.4 0.4z"/>
<path color="#141d7e" d="M115.8 101.8l2.4-1.5l-2.4-2l-2.4 1.4z"/>
<path color="#0f489b" d="M154.7 95.5l2.5-2.3l-2.5-0.4l-2.4 2.4z"/>
<path color="#00898f" d="M79.2 90.8l2.5-0.6l-2.5-3.4l-2.4 0.5z"/>
<path color="#085fa0" d="M89.1 95.9l2.4-0.8l-2.5-3l-2.4 0.7z"/>
<path color="#132a8a" d="M103.7 101.2l2.4-1.1l-2.4-2.5l-2.4 1.2z"/>
<path color="#141a7b" d="M127.9 103.6l2.4-1.8l-2.4-1.4l-2.4 1.7z"/>
<path color="#142585" d="M142.5 101.1l2.4-2.1l-2.4-0.8l-2.4 2.1z"/>
<path color="#113e98" d="M152.3 97.8l2.4-2.3l-2.4-0.3l-2.5 2.2z"/>
<path color="#00977a" d="M74.3 87.7l2.5-0.4l-2.5-3.6l-2.5 0.4z"/>
<path color="#02769c" d="M84.2 93.5l2.4-0.7l-2.5-3.2l-2.4 0.6z"/>
<path color="#0e489b" d="M94 98l2.4-0.9l-2.5-2.8l-2.4 0.8z"/>
<path color="#123794" d="M98.8 99.8l2.5-1l-2.5-2.7l-2.4 1z"/>
<path color="#142082" d="M108.5 102.3l2.5-1.2l-2.5-2.3l-2.4 1.3z"/>
<path color="#141c7e" d="M113.4 103.1l2.4-1.3l-2.4-2.1l-2.4 1.4z"/>
<path color="#141b7c" d="M118.2 103.6l2.5-1.5l-2.5-1.8l-2.4 1.5z"/>
<path color="#141a7b" d="M123.1 103.7l2.4-1.6l-2.4-1.6l-2.4 1.6z"/>
<path color="#141b7d" d="M132.8 103l2.4-1.8l-2.4-1.2l-2.5 1.8z"/>
<path color="#141d7f" d="M137.6 102.2l2.5-1.9l-2.5-1l-2.4 1.9z"/>
<path color="#13308e" d="M147.4 99.6l2.4-2.2l-2.4-0.5l-2.5 2.1z"/>
<path color="#0b529d" d="M157.2 95.6l2.4-2.3l-2.4-0.1l-2.5 2.3z"/>
<path color="#008e8a" d="M76.8 91.2l2.4-0.4l-2.4-3.5l-2.5 0.4z"/>
<path color="#007c9b" d="M81.7 94l2.5-0.5l-2.5-3.3l-2.5 0.6z"/>
<path color="#07649f" d="M86.6 96.6l2.5-0.7l-2.5-3.1l-2.4 0.7z"/>
<path color="#0d4d9c" d="M91.5 98.8l2.5-0.8l-2.5-2.9l-2.4 0.8z"/>
<path color="#132c8b" d="M101.3 102.2l2.4-1l-2.4-2.4l-2.5 1z"/>
<path color="#142183" d="M106.1 103.5l2.4-1.2l-2.4-2.2l-2.4 1.1z"/>
<path color="#141b7c" d="M115.8 105l2.4-1.4l-2.4-1.8l-2.4 1.3z"/>
<path color="#141a7a" d="M125.5 105.2l2.4-1.6l-2.4-1.5l-2.4 1.6z"/>
<path color="#141a7b" d="M130.3 104.8l2.5-1.8l-2.5-1.2l-2.4 1.8z"/>
<path color="#141f81" d="M140 103l2.5-1.9l-2.4-0.8l-2.5 1.9z"/>
<path color="#132989" d="M144.9 101.6l2.5-2l-2.5-0.6l-2.4 2.1z"/>
<path color="#123693" d="M149.8 99.9l2.5-2.1l-2.5-0.4l-2.4 2.2z"/>
<path color="#0e489b" d="M154.7 97.9l2.5-2.3l-2.5-0.1l-2.4 2.3z"/>
<path color="#123996" d="M96.4 100.7l2.4-0.9l-2.4-2.7l-2.4 0.9z"/>
<path color="#141c7e" d="M111 104.4l2.4-1.3l-2.4-2l-2.5 1.2z"/>
<path color="#141a7a" d="M120.7 105.2l2.4-1.5l-2.4-1.6l-2.5 1.5z"/>
<path color="#141c7d" d="M135.2 104.1l2.4-1.9l-2.4-1l-2.4 1.8z"/>
<path color="#008197" d="M79.3 94.4l2.4-0.4l-2.5-3.2l-2.4 0.4z"/>
<path color="#056a9e" d="M84.2 97.1l2.4-0.5l-2.4-3.1l-2.5 0.5z"/>
<path color="#0b529d" d="M89.1 99.4l2.4-0.6l-2.4-2.9l-2.5 0.7z"/>
<path color="#123d98" d="M94 101.5l2.4-0.8l-2.4-2.7l-2.5 0.8z"/>
<path color="#132f8d" d="M98.8 103.1l2.5-0.9l-2.5-2.4l-2.4 0.9z"/>
<path color="#142384" d="M103.7 104.5l2.4-1l-2.4-2.3l-2.4 1z"/>
<path color="#141d7e" d="M108.5 105.5l2.5-1.1l-2.5-2.1l-2.4 1.2z"/>
<path color="#141b7c" d="M113.4 106.3l2.4-1.3l-2.4-1.9l-2.4 1.3z"/>
<path color="#14197a" d="M118.2 106.6l2.5-1.4l-2.5-1.6l-2.4 1.4z"/>
<path color="#14197a" d="M123.1 106.7l2.4-1.5l-2.4-1.5l-2.4 1.5z"/>
<path color="#14197a" d="M127.9 106.4l2.4-1.6l-2.4-1.2l-2.4 1.6z"/>
<path color="#141b7c" d="M132.8 105.8l2.4-1.7l-2.4-1.1l-2.5 1.8z"/>
<path color="#141d7f" d="M137.6 104.9l2.4-1.9l-2.4-0.8l-2.4 1.9z"/>
<path color="#142485" d="M142.5 103.6l2.4-2l-2.4-0.5l-2.5 1.9z"/>
<path color="#13308e" d="M147.4 102l2.4-2.1l-2.4-0.3l-2.5 2z"/>
<path color="#113f99" d="M152.3 100.1l2.4-2.2l-2.4-0.1l-2.5 2.1z"/>
<path color="#03719d" d="M81.7 97.5l2.5-0.4l-2.5-3.1l-2.4 0.4z"/>
<path color="#133290" d="M96.4 104l2.4-0.9l-2.4-2.4l-2.4 0.8z"/>
<path color="#141b7c" d="M111 107.4l2.4-1.1l-2.4-1.9l-2.5 1.1z"/>
<path color="#141979" d="M120.6 108.1l2.5-1.4l-2.4-1.5l-2.5 1.4z"/>
<path color="#141c7d" d="M135.2 106.6l2.4-1.7l-2.4-0.8l-2.4 1.7z"/>
<path color="#123895" d="M149.8 102.2l2.5-2.1l-2.5-0.2l-2.4 2.1z"/>
<path color="#0a599f" d="M86.6 100l2.5-0.6l-2.5-2.8l-2.4 0.5z"/>
<path color="#10439a" d="M91.5 102.1l2.5-0.6l-2.5-2.7l-2.4 0.6z"/>
<path color="#132686" d="M101.3 105.4l2.4-0.9l-2.4-2.3l-2.5 0.9z"/>
<path color="#141d7f" d="M106.1 106.6l2.4-1.1l-2.4-2l-2.4 1z"/>
<path color="#14197a" d="M115.8 107.9l2.4-1.3l-2.4-1.6l-2.4 1.3z"/>
<path color="#14197a" d="M125.5 107.9l2.4-1.5l-2.4-1.2l-2.4 1.5z"/>
<path color="#141a7b" d="M130.3 107.4l2.5-1.6l-2.5-1l-2.4 1.6z"/>
<path color="#142081" d="M140.1 105.5l2.4-1.9l-2.5-0.6l-2.4 1.9z"/>
<path color="#132b8a" d="M144.9 104l2.5-2l-2.5-0.4l-2.4 2z"/>
<path color="#0760a0" d="M84.2 100.5l2.4-0.5l-2.4-2.9l-2.5 0.4z"/>
<path color="#123794" d="M94 104.7l2.4-0.7l-2.4-2.5l-2.5 0.6z"/>
<path color="#132989" d="M98.8 106.3l2.5-0.9l-2.5-2.3l-2.4 0.9z"/>
<path color="#141b7d" d="M108.5 108.5l2.5-1.1l-2.5-1.9l-2.4 1.1z"/>
<path color="#141a7a" d="M113.4 109.1l2.4-1.2l-2.4-1.6l-2.4 1.1z"/>
<path color="#141979" d="M118.2 109.4l2.4-1.3l-2.4-1.5l-2.4 1.3z"/>
<path color="#141979" d="M123.1 109.4l2.4-1.5l-2.4-1.2l-2.5 1.4z"/>
<path color="#141b7c" d="M132.8 108.3l2.4-1.7l-2.4-0.8l-2.5 1.6z"/>
<path color="#141d7f" d="M137.6 107.2l2.5-1.7l-2.5-0.6l-2.4 1.7z"/>
<path color="#133391" d="M147.4 104.2l2.4-2l-2.4-0.2l-2.5 2z"/>
<path color="#0e499b" d="M89.1 102.7l2.4-0.6l-2.4-2.7l-2.5 0.6z"/>
<path color="#141e80" d="M103.7 107.6l2.4-1l-2.4-2.1l-2.4 0.9z"/>
<path color="#14197a" d="M127.9 109l2.4-1.6l-2.4-1l-2.4 1.5z"/>
<path color="#132687" d="M142.5 105.9l2.4-1.9l-2.4-0.4l-2.4 1.9z"/>
<path color="#123c98" d="M91.5 105.3l2.5-0.6l-2.5-2.6l-2.4 0.6z"/>
<path color="#14197a" d="M115.8 110.6l2.4-1.2l-2.4-1.5l-2.4 1.2z"/>
<path color="#142384" d="M140.1 107.6l2.4-1.7l-2.4-0.4l-2.5 1.7z"/>
<path color="#0c519d" d="M86.6 103.2l2.5-0.5l-2.5-2.7l-2.4 0.5z"/>
<path color="#132e8c" d="M96.4 107l2.4-0.7l-2.4-2.3l-2.4 0.7z"/>
<path color="#142283" d="M101.3 108.4l2.4-0.8l-2.4-2.2l-2.5 0.9z"/>
<path color="#141c7e" d="M106.1 109.5l2.4-1l-2.4-1.9l-2.4 1z"/>
<path color="#141a7b" d="M111 110.2l2.4-1.1l-2.4-1.7l-2.5 1.1z"/>
<path color="#141979" d="M120.6 110.7l2.5-1.3l-2.5-1.3l-2.4 1.3z"/>
<path color="#14197a" d="M125.5 110.4l2.4-1.4l-2.4-1.1l-2.4 1.5z"/>
<path color="#141a7b" d="M130.3 109.8l2.5-1.5l-2.5-0.9l-2.4 1.6z"/>
<path color="#141d7e" d="M135.2 108.9l2.4-1.7l-2.4-0.6l-2.4 1.7z"/>
<path color="#122d87" d="M144.9 106.1l2.5-1.9l-2.5-0.2l-2.4 1.9z"/>
<path color="#10449a" d="M89.1 105.8l2.4-0.5l-2.4-2.6l-2.5 0.5z"/>
<path color="#133391" d="M94 107.6l2.4-0.6l-2.4-2.3l-2.5 0.6z"/>
<path color="#141d7f" d="M103.7 110.3l2.4-0.8l-2.4-1.9l-2.4 0.8z"/>
<path color="#141a7a" d="M113.4 111.7l2.4-1.1l-2.4-1.5l-2.4 1.1z"/>
<path color="#14197a" d="M118.2 111.9l2.4-1.2l-2.4-1.3l-2.4 1.2z"/>
<path color="#141a7b" d="M127.9 111.3l2.4-1.5l-2.4-0.8l-2.4 1.4z"/>
<path color="#142080" d="M137.6 109.3l2.5-1.7l-2.5-0.4l-2.4 1.7z"/>
<path color="#11277e" d="M142.5 107.8l2.4-1.7l-2.4-0.2l-2.4 1.7z"/>
<path color="#132687" d="M98.8 109.1l2.5-0.7l-2.5-2.1l-2.4 0.7z"/>
<path color="#141b7c" d="M108.5 111.2l2.5-1l-2.5-1.7l-2.4 1z"/>
<path color="#14197a" d="M123.1 111.8l2.4-1.4l-2.4-1l-2.5 1.3z"/>
<path color="#141c7d" d="M132.8 110.5l2.4-1.6l-2.4-0.6l-2.5 1.5z"/>
<path color="#123996" d="M91.5 108.1l2.5-0.5l-2.5-2.3l-2.4 0.5z"/>
<path color="#132c8b" d="M96.4 109.8l2.4-0.7l-2.4-2.1l-2.4 0.6z"/>
<path color="#142182" d="M101.3 111.1l2.4-0.8l-2.4-1.9l-2.5 0.7z"/>
<path color="#141c7e" d="M106.1 112.1l2.4-0.9l-2.4-1.7l-2.4 0.8z"/>
<path color="#141a7c" d="M111 112.7l2.4-1l-2.4-1.5l-2.5 1z"/>
<path color="#14197a" d="M115.8 113l2.4-1.1l-2.4-1.3l-2.4 1.1z"/>
<path color="#14197a" d="M120.6 113l2.5-1.2l-2.5-1.1l-2.4 1.2z"/>
<path color="#141a7b" d="M125.5 112.6l2.4-1.3l-2.4-0.9l-2.4 1.4z"/>
<path color="#141c7d" d="M130.3 111.9l2.5-1.4l-2.5-0.7l-2.4 1.5z"/>
<path color="#131c77" d="M135.2 110.9l2.4-1.6l-2.4-0.4l-2.4 1.6z"/>
<path color="#112375" d="M140.1 109.5l2.4-1.7l-2.4-0.2l-2.5 1.7z"/>
<path color="#141c7d" d="M108.5 113.6l2.5-0.9l-2.5-1.5l-2.4 0.9z"/>
<path color="#141a7c" d="M123.1 113.9l2.4-1.3l-2.4-0.8l-2.5 1.2z"/>
<path color="#133290" d="M94 110.3l2.4-0.5l-2.4-2.2l-2.5 0.5z"/>
<path color="#132687" d="M98.8 111.7l2.5-0.6l-2.5-2l-2.4 0.7z"/>
<path color="#141e80" d="M103.7 112.8l2.4-0.7l-2.4-1.8l-2.4 0.8z"/>
<path color="#141a7b" d="M113.4 114l2.4-1l-2.4-1.3l-2.4 1z"/>
<path color="#141a7b" d="M118.2 114.1l2.4-1.1l-2.4-1.1l-2.4 1.1z"/>
<path color="#131a76" d="M127.9 113.3l2.4-1.4l-2.4-0.6l-2.4 1.3z"/>
<path color="#121a70" d="M132.8 112.4l2.4-1.5l-2.4-0.4l-2.5 1.4z"/>
<path color="#10206d" d="M137.6 111.1l2.5-1.6l-2.5-0.2l-2.4 1.6z"/>
<path color="#132d8c" d="M96.4 112.3l2.4-0.6l-2.4-1.9l-2.4 0.5z"/>
<path color="#141d7f" d="M106.1 114.4l2.4-0.8l-2.4-1.5l-2.4 0.7z"/>
<path color="#141c7d" d="M111 114.9l2.4-0.9l-2.4-1.3l-2.5 0.9z"/>
<path color="#131975" d="M120.7 115l2.4-1.1l-2.5-0.9l-2.4 1.1z"/>
<path color="#12196f" d="M125.5 114.6l2.4-1.3l-2.4-0.7l-2.4 1.3z"/>
<path color="#0f1d66" d="M135.2 112.6l2.4-1.5l-2.4-0.2l-2.4 1.5z"/>
<path color="#142384" d="M101.3 113.5l2.4-0.7l-2.4-1.7l-2.5 0.6z"/>
<path color="#141b7c" d="M115.8 115.2l2.4-1.1l-2.4-1.1l-2.4 1z"/>
<path color="#101969" d="M130.4 113.8l2.4-1.4l-2.5-0.5l-2.4 1.4z"/>
<path color="#142182" d="M103.7 115l2.4-0.6l-2.4-1.6l-2.4 0.7z"/>
<path color="#0f1863" d="M127.9 115l2.5-1.2l-2.5-0.5l-2.4 1.3z"/>
<path color="#132989" d="M98.8 114l2.5-0.5l-2.5-1.8l-2.4 0.6z"/>
<path color="#141c7c" d="M108.5 115.7l2.5-0.8l-2.5-1.3l-2.4 0.8z"/>
<path color="#131a75" d="M113.4 116.1l2.4-0.9l-2.4-1.2l-2.4 0.9z"/>
<path color="#12196f" d="M118.2 116.1l2.5-1.1l-2.5-0.9l-2.4 1.1z"/>
<path color="#101868" d="M123.1 115.7l2.4-1.1l-2.4-0.7l-2.4 1.1z"/>
<path color="#0e1b5f" d="M132.8 114l2.4-1.4l-2.4-0.2l-2.4 1.4z"/>
<path color="#122580" d="M101.3 115.6l2.4-0.6l-2.4-1.5l-2.5 0.5z"/>
<path color="#0d1a58" d="M130.4 115.3l2.4-1.3l-2.4-0.2l-2.5 1.2z"/>
<path color="#121e76" d="M106.1 116.4l2.4-0.7l-2.4-1.3l-2.4 0.6z"/>
<path color="#101868" d="M115.8 117l2.4-0.9l-2.4-0.9l-2.4 0.9z"/>
<path color="#0e175d" d="M125.5 116.2l2.4-1.2l-2.4-0.4l-2.4 1.1z"/>
<path color="#111a6f" d="M111 116.9l2.4-0.8l-2.4-1.2l-2.5 0.8z"/>
<path color="#0f1762" d="M120.7 116.7l2.4-1l-2.4-0.7l-2.5 1.1z"/>
<path color="#102172" d="M103.7 117l2.4-0.6l-2.4-1.4l-2.4 0.6z"/>
<path color="#101c6a" d="M108.5 117.5l2.5-0.6l-2.5-1.2l-2.4 0.7z"/>
<path color="#0f1862" d="M113.4 117.8l2.4-0.8l-2.4-0.9l-2.4 0.8z"/>
<path color="#0e175c" d="M118.2 117.7l2.5-1l-2.5-0.6l-2.4 0.9z"/>
<path color="#0d1757" d="M123.1 117.2l2.4-1l-2.4-0.5l-2.4 1z"/>
<path color="#0c1952" d="M127.9 116.4l2.5-1.1l-2.5-0.3l-2.4 1.2z"/>
<path color="#0e1e65" d="M106.1 118.1l2.4-0.6l-2.4-1.1l-2.4 0.6z"/>
<path color="#0e1a5e" d="M111 118.5l2.4-0.7l-2.4-0.9l-2.5 0.6z"/>
<path color="#0d1857" d="M115.8 118.5l2.4-0.8l-2.4-0.7l-2.4 0.8z"/>
<path color="#0c1851" d="M120.7 118.1l2.4-0.9l-2.4-0.5l-2.5 1z"/>
<path color="#0a184d" d="M125.5 117.5l2.4-1.1l-2.4-0.2l-2.4 1z"/>
<path color="#0c1c59" d="M108.5 119l2.5-0.5l-2.5-1l-2.4 0.6z"/>
<path color="#0b1a52" d="M113.4 119.2l2.4-0.7l-2.4-0.7l-2.4 0.7z"/>
<path color="#0a184c" d="M118.2 119l2.5-0.9l-2.5-0.4l-2.4 0.8z"/>
<path color="#091847" d="M123.1 118.4l2.4-0.9l-2.4-0.3l-2.4 0.9z"/>
<path color="#091947" d="M115.8 119.7l2.4-0.7l-2.4-0.5l-2.4 0.7z"/>
<path color="#0a1b4d" d="M110.9 119.7l2.5-0.5l-2.4-0.7l-2.5 0.5z"/>
<path color="#081842" d="M120.7 119.2l2.4-0.8l-2.4-0.3l-2.5 0.9z"/>
<path color="#081942" d="M113.4 120.2l2.4-0.5l-2.4-0.5l-2.5 0.5z"/>
<path color="#07173c" d="M118.2 119.9l2.5-0.7l-2.5-0.2l-2.4 0.7z"/>
<path color="#061836" d="M115.8 120.5l2.4-0.6l-2.4-0.2l-2.4 0.5z"/>
</g>
<circle cx="115.8" cy="120.5" r="1.05" fill="#e00"/>
<circle cx="164.6" cy="88.3" r="1.05" fill="#e00"/>
<circle cx="66.8" cy="76.4" r="1.05" fill="#e00"/>
<circle cx="115.8" cy="50.3" r="1.05" fill="#e00"/>
<circle cx="115.8" cy="96.1" r="1.05" fill="#e00"/>
<g font-size="3.3" fill="#1a1a1a" stroke="#1a1a1a" stroke-width="0.07">
<text x="65.9" y="111.5" text-anchor="end">8</text>
<circle cx="67.8" cy="112.4" r="0.5" fill="#222"/>
<text x="65.5" y="96.8" text-anchor="end">9</text>
<circle cx="67.4" cy="97.7" r="0.5" fill="#222"/>
<text x="65.1" y="82.1" text-anchor="end">10</text>
<circle cx="67.0" cy="83.0" r="0.5" fill="#222"/>
<text x="64.6" y="67.4" text-anchor="end">11</text>
<circle cx="66.5" cy="68.3" r="0.5" fill="#222"/>
<text x="64.2" y="52.6" text-anchor="end">12</text>
<circle cx="66.1" cy="53.5" r="0.5" fill="#222"/>
<text x="63.8" y="37.9" text-anchor="end">13</text>
<circle cx="65.7" cy="38.8" r="0.5" fill="#222"/>
<circle cx="115.8" cy="169.6" r="0.45" fill="#222"/>
<text x="118.6" y="172.7">-2.00</text>
<circle cx="127.6" cy="161.1" r="0.45" fill="#222"/>
<text x="130.4" y="164.2">-1.50</text>
<circle cx="139.4" cy="152.6" r="0.45" fill="#222"/>
<text x="142.2" y="155.7">-1.00</text>
<circle cx="151.2" cy="144.1" r="0.45" fill="#222"/>
<text x="154.0" y="147.2">-0.50</text>
<circle cx="163.0" cy="135.6" r="0.45" fill="#222"/>
<text x="165.8" y="138.7">0.00</text>
<circle cx="115.8" cy="169.6" r="0.45" fill="#222"/>
<text x="113.8" y="172.7" text-anchor="end">150.00</text>
<circle cx="111.1" cy="166.2" r="0.45" fill="#222"/>
<text x="109.1" y="169.3" text-anchor="end">155.00</text>
<circle cx="106.3" cy="162.8" r="0.45" fill="#222"/>
<text x="104.3" y="165.9" text-anchor="end">160.00</text>
<circle cx="101.6" cy="159.4" r="0.45" fill="#222"/>
<text x="99.6" y="162.5" text-anchor="end">165.00</text>
<circle cx="96.9" cy="156.0" r="0.45" fill="#222"/>
<text x="94.9" y="159.1" text-anchor="end">170.00</text>
<circle cx="92.2" cy="152.6" r="0.45" fill="#222"/>
<text x="90.2" y="155.7" text-anchor="end">175.00</text>
<circle cx="87.4" cy="149.2" r="0.45" fill="#222"/>
<text x="85.4" y="152.3" text-anchor="end">180.00</text>
<circle cx="82.7" cy="145.8" r="0.45" fill="#222"/>
<text x="80.7" y="148.9" text-anchor="end">185.00</text>
<circle cx="78.0" cy="142.4" r="0.45" fill="#222"/>
<text x="76.0" y="145.5" text-anchor="end">190.00</text>
<circle cx="73.2" cy="139.0" r="0.45" fill="#222"/>
<text x="71.2" y="142.1" text-anchor="end">195.00</text>
<circle cx="68.5" cy="135.6" r="0.45" fill="#222"/>
<text x="66.5" y="138.7" text-anchor="end">200.00</text>
</g>
<g font-size="5" fill="#222" stroke="#222" stroke-width="0.18">
<text x="157.8" y="167.2" text-anchor="middle">A: DA</text>
<text x="73.8" y="167.2" text-anchor="middle">B: LP</text>
<text transform="translate(53.0 89.0) rotate(-90)" text-anchor="middle">R2</text>
</g>
</g>
<text x="89.8" y="199.6" text-anchor="middle" font-family="'Liberation Serif',serif" font-size="11.5" font-weight="bold" fill="#111">(a)</text></g>
<g><g transform="translate(188.3 -3.4) scale(1.008 1.0054)">
<g font-size="3.75" stroke-width="0.06">
<circle cx="7.0" cy="9.1" r="0.95" fill="#e00"/>
<text x="10.6" y="10.8" fill="#e8202a" stroke="#e8202a">Design points above predicted value</text>
<circle cx="7.0" cy="13.4" r="0.85" fill="#f3b0b8"/>
<text x="10.6" y="14.7" fill="#f8c4cc">Design points below predicted value</text>
<rect x="5.7" y="16.0" width="3.3" height="14.6" fill="url(#cb)"/>
<rect x="5.7" y="16.0" width="3.3" height="14.6" fill="url(#ce)"/>
<text x="10.8" y="19.8" fill="#e8202a" stroke="#e8202a">12.78</text>
<text x="10.8" y="29.1" fill="#2030e0">9.01</text>
<g fill="#2a2a2a"><text x="5.0" y="38.0">X1 = A: DA</text>
<text x="5.0" y="42.6">X2 = C: SS</text>
<text x="5.0" y="52.2">Actual Factors</text>
<text x="5.0" y="56.4">B: LP = 175.00</text>
<text x="5.0" y="61.2">D: LT = 0.15</text></g></g>
<path d="M67.8 112.4L65.7 38.8M79.8 106.5L78.2 34.5M91.8 100.6L90.7 30.3M103.8 94.6L103.3 26.1M115.8 88.7L115.8 21.8M163.8 112.5L166.2 38.8M151.8 106.5L153.6 34.5M139.8 100.6L141.0 30.3M127.8 94.6L128.4 26.1" stroke="#6a6a6a" stroke-width="0.4" fill="none"/>
<path d="M67.8 112.4L115.8 88.7M115.8 88.7L163.8 112.5M67.4 97.7L115.8 75.3M115.8 75.3L164.3 97.7M67.0 83.0L115.8 61.9M115.8 61.9L164.7 83.0M66.5 68.3L115.8 48.6M115.8 48.6L165.2 68.3M66.1 53.5L115.8 35.2M115.8 35.2L165.7 53.5M65.7 38.8L115.8 21.8M115.8 21.8L166.2 38.8M68.5 135.6L65.7 38.8M163.0 135.6L163.8 112.5" stroke="#555" stroke-width="0.42" fill="none"/>
<polygon points="115.8,169.6 163.0,135.6 115.8,109.7 68.5,135.6" fill="#ffff00"/>
<path d="M149.6 145.3L149.6 145.2M150.0 144.4L149.6 145.2M150.2 143.8L150.0 144.4M150.2 143.8L150.3 143.6M150.6 142.7L150.3 143.6M150.7 142.4L150.6 142.7M150.7 142.4L150.8 141.8M151.0 141.1L150.8 141.8M151.0 141.1L151.1 141.0M151.3 140.1L151.1 141.0M151.3 139.9L151.3 140.1M151.3 139.9L151.5 139.2M151.6 138.7L151.5 139.2M151.6 138.7L151.7 138.3M151.8 137.6L151.7 138.3M151.8 137.6L151.8 137.3M151.9 136.5L151.8 137.3M151.9 136.5L151.9 136.4M151.9 135.5L151.9 136.4M151.9 135.5L151.9 135.4M152.0 134.5L151.9 135.4M152.0 134.5L152.0 134.4M152.0 133.5L152.0 134.4M152.0 133.5L152.0 133.4M151.9 132.5L152.0 133.4M151.9 132.5L151.9 132.4M151.8 131.6L151.9 132.4M151.8 131.6L151.8 131.4M151.7 130.7L151.8 131.4M151.7 130.7L151.6 130.3M151.5 129.9L151.6 130.3M151.5 129.9L151.4 129.2" stroke="#6fe04a" stroke-width="0.5" fill="none" stroke-linecap="round"/>
<path d="M156.1 140.6L156.2 139.9M156.3 139.4L156.2 139.9M156.3 139.4L156.4 139.0M156.6 138.2L156.4 139.0M156.6 138.2L156.6 138.0M156.7 137.1L156.6 138.0M156.7 137.1L156.7 137.1M156.8 136.2L156.7 137.1M156.8 136.0L156.8 136.2M156.8 136.0L156.9 135.2M156.9 135.0L156.9 135.2M156.9 135.0L156.9 134.2M156.9 134.0L156.9 134.2M156.9 134.0L156.9 133.2M156.9 133.0L156.9 133.2M156.9 133.0L156.8 132.2" stroke="#6fe04a" stroke-width="0.5" fill="none" stroke-linecap="round"/>
<path d="M115.8 169.6L163.0 135.6M115.8 169.6L68.5 135.6" stroke="#333" stroke-width="0.4" fill="none"/>
<g fill="currentColor" stroke="currentColor" stroke-width="0.8" stroke-linejoin="round">
<path color="#0c529d" d="M115.8 72.5l2.4-2l-2.4-1.6l-2.4 2z"/>
<path color="#0f479b" d="M113.4 74.5l2.4-2l-2.4-1.6l-2.5 1.9z"/>
<path color="#0d4c9c" d="M118.2 74.1l2.5-2.1l-2.5-1.5l-2.4 2z"/>
<path color="#123d98" d="M110.9 76.3l2.5-1.8l-2.5-1.7l-2.4 1.8z"/>
<path color="#114199" d="M115.8 76.1l2.4-2l-2.4-1.6l-2.4 2z"/>
<path color="#0f479b" d="M120.7 75.5l2.4-2.1l-2.4-1.4l-2.5 2.1z"/>
<path color="#123693" d="M108.5 78.1l2.4-1.8l-2.4-1.7l-2.4 1.7z"/>
<path color="#10439a" d="M123.1 76.9l2.4-2.1l-2.4-1.4l-2.4 2.1z"/>
<path color="#123895" d="M113.4 77.9l2.4-1.8l-2.4-1.6l-2.5 1.8z"/>
<path color="#123c98" d="M118.2 77.6l2.5-2.1l-2.5-1.4l-2.4 2z"/>
<path color="#13308f" d="M106.1 79.7l2.4-1.6l-2.4-1.8l-2.4 1.6z"/>
<path color="#13318f" d="M111 79.7l2.4-1.8l-2.5-1.6l-2.4 1.8z"/>
<path color="#133491" d="M115.8 79.5l2.4-1.9l-2.4-1.5l-2.4 1.8z"/>
<path color="#123995" d="M120.7 79l2.4-2.1l-2.4-1.4l-2.5 2.1z"/>
<path color="#114199" d="M125.5 78.2l2.5-2.2l-2.5-1.2l-2.4 2.1z"/>
<path color="#132c8b" d="M103.7 81.3l2.4-1.6l-2.4-1.8l-2.4 1.6z"/>
<path color="#132b8a" d="M108.5 81.4l2.5-1.7l-2.5-1.6l-2.4 1.6z"/>
<path color="#132d8c" d="M113.4 81.3l2.4-1.8l-2.4-1.6l-2.4 1.8z"/>
<path color="#13308f" d="M118.2 80.9l2.5-1.9l-2.5-1.4l-2.4 1.9z"/>
<path color="#123794" d="M123.1 80.3l2.4-2.1l-2.4-1.3l-2.4 2.1z"/>
<path color="#114099" d="M127.9 79.3l2.5-2.2l-2.4-1.1l-2.5 2.2z"/>
<path color="#132888" d="M101.3 82.8l2.4-1.5l-2.4-1.8l-2.5 1.4z"/>
<path color="#132686" d="M106.1 83.1l2.4-1.7l-2.4-1.7l-2.4 1.6z"/>
<path color="#132989" d="M115.8 82.8l2.4-1.9l-2.4-1.4l-2.4 1.8z"/>
<path color="#123593" d="M125.5 81.5l2.4-2.2l-2.4-1.1l-2.4 2.1z"/>
<path color="#114099" d="M130.4 80.4l2.4-2.2l-2.4-1.1l-2.5 2.2z"/>
<path color="#132687" d="M111 83.1l2.4-1.8l-2.4-1.6l-2.5 1.7z"/>
<path color="#132e8d" d="M120.7 82.3l2.4-2l-2.4-1.3l-2.5 1.9z"/>
<path color="#142585" d="M98.8 84.2l2.5-1.4l-2.5-1.9l-2.4 1.4z"/>
<path color="#142283" d="M103.7 84.6l2.4-1.5l-2.4-1.8l-2.4 1.5z"/>
<path color="#142183" d="M108.5 84.7l2.5-1.6l-2.5-1.7l-2.4 1.7z"/>
<path color="#142384" d="M113.4 84.6l2.4-1.8l-2.4-1.5l-2.4 1.8z"/>
<path color="#132787" d="M118.2 84.2l2.5-1.9l-2.5-1.4l-2.4 1.9z"/>
<path color="#132d8c" d="M123.1 83.5l2.4-2l-2.4-1.2l-2.4 2z"/>
<path color="#123593" d="M127.9 82.6l2.5-2.2l-2.5-1.1l-2.4 2.2z"/>
<path color="#114199" d="M132.8 81.4l2.5-2.3l-2.5-0.9l-2.4 2.2z"/>
<path color="#142384" d="M96.4 85.4l2.4-1.2l-2.4-1.9l-2.4 1.2z"/>
<path color="#141e80" d="M111 86.3l2.4-1.7l-2.4-1.5l-2.5 1.6z"/>
<path color="#142586" d="M120.7 85.5l2.4-2l-2.4-1.2l-2.5 1.9z"/>
<path color="#10439a" d="M135.2 82.3l2.5-2.4l-2.4-0.8l-2.5 2.3z"/>
<path color="#141f81" d="M101.3 86l2.4-1.4l-2.4-1.8l-2.5 1.4z"/>
<path color="#141e80" d="M106.1 86.3l2.4-1.6l-2.4-1.6l-2.4 1.5z"/>
<path color="#142082" d="M115.8 86l2.4-1.8l-2.4-1.4l-2.4 1.8z"/>
<path color="#132d8c" d="M125.5 84.7l2.4-2.1l-2.4-1.1l-2.4 2z"/>
<path color="#123693" d="M130.4 83.6l2.4-2.2l-2.4-1l-2.5 2.2z"/>
<path color="#142283" d="M94 86.6l2.4-1.2l-2.4-1.9l-2.4 1.1z"/>
<path color="#141e80" d="M98.9 87.3l2.4-1.3l-2.5-1.8l-2.4 1.2z"/>
<path color="#141d7e" d="M103.7 87.7l2.4-1.4l-2.4-1.7l-2.4 1.4z"/>
<path color="#141d7e" d="M108.5 87.8l2.5-1.5l-2.5-1.6l-2.4 1.6z"/>
<path color="#141d7f" d="M113.4 87.7l2.4-1.7l-2.4-1.4l-2.4 1.7z"/>
<path color="#141f81" d="M118.2 87.3l2.5-1.8l-2.5-1.3l-2.4 1.8z"/>
<path color="#142586" d="M123.1 86.6l2.4-1.9l-2.4-1.2l-2.4 2z"/>
<path color="#132d8c" d="M127.9 85.7l2.5-2.1l-2.5-1l-2.4 2.1z"/>
<path color="#123895" d="M132.8 84.5l2.4-2.2l-2.4-0.9l-2.4 2.2z"/>
<path color="#0f479b" d="M137.7 83l2.4-2.3l-2.4-0.8l-2.5 2.4z"/>
<path color="#142283" d="M91.6 87.7l2.4-1.1l-2.4-2l-2.5 1.1z"/>
<path color="#141d7f" d="M96.4 88.5l2.5-1.2l-2.5-1.9l-2.4 1.2z"/>
<path color="#141c7d" d="M101.3 89.1l2.4-1.4l-2.4-1.7l-2.4 1.3z"/>
<path color="#141b7d" d="M106.1 89.3l2.4-1.5l-2.4-1.5l-2.4 1.4z"/>
<path color="#141c7d" d="M111 89.3l2.4-1.6l-2.4-1.4l-2.5 1.5z"/>
<path color="#141c7e" d="M115.8 89.1l2.4-1.8l-2.4-1.3l-2.4 1.7z"/>
<path color="#141e80" d="M120.7 88.5l2.4-1.9l-2.4-1.1l-2.5 1.8z"/>
<path color="#132686" d="M125.5 87.7l2.4-2l-2.4-1l-2.4 1.9z"/>
<path color="#132f8e" d="M130.4 86.6l2.4-2.1l-2.4-0.9l-2.5 2.1z"/>
<path color="#123b97" d="M135.2 85.3l2.5-2.3l-2.5-0.7l-2.4 2.2z"/>
<path color="#0d4c9c" d="M140.1 83.7l2.5-2.4l-2.5-0.6l-2.4 2.3z"/>
<path color="#142384" d="M89.1 88.7l2.5-1l-2.5-2l-2.4 0.9z"/>
<path color="#141b7c" d="M103.7 90.7l2.4-1.4l-2.4-1.6l-2.4 1.4z"/>
<path color="#141b7c" d="M113.4 90.7l2.4-1.6l-2.4-1.4l-2.4 1.6z"/>
<path color="#141c7e" d="M118.2 90.3l2.5-1.8l-2.5-1.2l-2.4 1.8z"/>
<path color="#132787" d="M127.9 88.7l2.5-2.1l-2.5-0.9l-2.4 2z"/>
<path color="#0b529d" d="M142.6 84.2l2.4-2.4l-2.4-0.5l-2.5 2.4z"/>
<path color="#141d7f" d="M94 89.6l2.4-1.1l-2.4-1.9l-2.4 1.1z"/>
<path color="#141c7d" d="M98.9 90.3l2.4-1.2l-2.4-1.8l-2.5 1.2z"/>
<path color="#141a7c" d="M108.5 90.9l2.5-1.6l-2.5-1.5l-2.4 1.5z"/>
<path color="#141f81" d="M123.1 89.6l2.4-1.9l-2.4-1.1l-2.4 1.9z"/>
<path color="#133290" d="M132.8 87.5l2.4-2.2l-2.4-0.8l-2.4 2.1z"/>
<path color="#113f99" d="M137.7 86l2.4-2.3l-2.4-0.7l-2.5 2.3z"/>
<path color="#142586" d="M86.7 89.6l2.4-0.9l-2.4-2.1l-2.4 0.9z"/>
<path color="#141e7f" d="M91.6 90.7l2.4-1.1l-2.4-1.9l-2.5 1z"/>
<path color="#141c7d" d="M96.4 91.5l2.5-1.2l-2.5-1.8l-2.4 1.1z"/>
<path color="#141a7b" d="M101.3 92l2.4-1.3l-2.4-1.6l-2.4 1.2z"/>
<path color="#141a7b" d="M106.1 92.3l2.4-1.4l-2.4-1.6l-2.4 1.4z"/>
<path color="#141a7b" d="M111 92.3l2.4-1.6l-2.4-1.4l-2.5 1.6z"/>
<path color="#141b7c" d="M115.8 92l2.4-1.7l-2.4-1.2l-2.4 1.6z"/>
<path color="#141c7e" d="M120.7 91.5l2.4-1.9l-2.4-1.1l-2.5 1.8z"/>
<path color="#142082" d="M125.5 90.7l2.4-2l-2.4-1l-2.4 1.9z"/>
<path color="#132a89" d="M130.4 89.6l2.4-2.1l-2.4-0.9l-2.5 2.1z"/>
<path color="#123593" d="M135.2 88.2l2.5-2.2l-2.5-0.7l-2.4 2.2z"/>
<path color="#0f459a" d="M140.1 86.6l2.5-2.4l-2.5-0.5l-2.4 2.3z"/>
<path color="#095a9f" d="M145 84.7l2.5-2.5l-2.5-0.4l-2.4 2.4z"/>
<path color="#132888" d="M84.3 90.3l2.4-0.7l-2.4-2.1l-2.4 0.7z"/>
<path color="#14197a" d="M108.5 93.7l2.5-1.4l-2.5-1.4l-2.4 1.4z"/>
<path color="#141d7e" d="M123.1 92.5l2.4-1.8l-2.4-1.1l-2.4 1.9z"/>
<path color="#07629f" d="M147.5 85l2.4-2.5l-2.4-0.3l-2.5 2.5z"/>
<path color="#141e80" d="M89.2 91.6l2.4-0.9l-2.5-2l-2.4 0.9z"/>
<path color="#141c7d" d="M94 92.5l2.4-1l-2.4-1.9l-2.4 1.1z"/>
<path color="#141a7b" d="M98.9 93.2l2.4-1.2l-2.4-1.7l-2.5 1.2z"/>
<path color="#14197a" d="M103.7 93.6l2.4-1.3l-2.4-1.6l-2.4 1.3z"/>
<path color="#14197a" d="M113.4 93.6l2.4-1.6l-2.4-1.3l-2.4 1.6z"/>
<path color="#141b7c" d="M118.2 93.2l2.5-1.7l-2.5-1.2l-2.4 1.7z"/>
<path color="#142384" d="M127.9 91.6l2.5-2l-2.5-0.9l-2.4 2z"/>
<path color="#132d8c" d="M132.8 90.3l2.4-2.1l-2.4-0.7l-2.4 2.1z"/>
<path color="#123a96" d="M137.7 88.8l2.4-2.2l-2.4-0.6l-2.5 2.2z"/>
<path color="#0d4c9c" d="M142.6 87.1l2.4-2.4l-2.4-0.5l-2.5 2.4z"/>
<path color="#132c8b" d="M81.9 91l2.4-0.7l-2.4-2.1l-2.5 0.6z"/>
<path color="#142183" d="M86.7 92.4l2.5-0.8l-2.5-2l-2.4 0.7z"/>
<path color="#141c7e" d="M91.6 93.5l2.4-1l-2.4-1.8l-2.4 0.9z"/>
<path color="#141a7b" d="M96.4 94.3l2.5-1.1l-2.5-1.7l-2.4 1z"/>
<path color="#14197a" d="M101.3 94.8l2.4-1.2l-2.4-1.6l-2.4 1.2z"/>
<path color="#141879" d="M106.1 95.1l2.4-1.4l-2.4-1.4l-2.4 1.3z"/>
<path color="#141979" d="M111 95.1l2.4-1.5l-2.4-1.3l-2.5 1.4z"/>
<path color="#14197a" d="M115.8 94.8l2.4-1.6l-2.4-1.2l-2.4 1.6z"/>
<path color="#141b7c" d="M120.7 94.3l2.4-1.8l-2.4-1l-2.5 1.7z"/>
<path color="#141d7f" d="M125.5 93.5l2.4-1.9l-2.4-0.9l-2.4 1.8z"/>
<path color="#132686" d="M130.4 92.4l2.4-2.1l-2.4-0.7l-2.5 2z"/>
<path color="#133290" d="M135.2 91l2.5-2.2l-2.5-0.6l-2.4 2.1z"/>
<path color="#114199" d="M140.1 89.3l2.5-2.2l-2.5-0.5l-2.4 2.2z"/>
<path color="#0b559e" d="M145 87.4l2.5-2.4l-2.5-0.3l-2.4 2.4z"/>
<path color="#056b9e" d="M149.9 85.2l2.5-2.5l-2.5-0.2l-2.4 2.5z"/>
<path color="#13318f" d="M79.4 91.6l2.5-0.6l-2.5-2.2l-2.4 0.6z"/>
<path color="#142586" d="M84.3 93.1l2.4-0.7l-2.4-2.1l-2.4 0.7z"/>
<path color="#141d7f" d="M89.2 94.3l2.4-0.8l-2.4-1.9l-2.5 0.8z"/>
<path color="#141b7c" d="M94 95.3l2.4-1l-2.4-1.8l-2.4 1z"/>
<path color="#14197a" d="M98.9 96l2.4-1.2l-2.4-1.6l-2.5 1.1z"/>
<path color="#141879" d="M103.7 96.4l2.4-1.3l-2.4-1.5l-2.4 1.2z"/>
<path color="#141878" d="M108.5 96.5l2.5-1.4l-2.5-1.4l-2.4 1.4z"/>
<path color="#141979" d="M113.4 96.4l2.4-1.6l-2.4-1.2l-2.4 1.5z"/>
<path color="#141a7b" d="M118.2 96l2.5-1.7l-2.5-1.1l-2.4 1.6z"/>
<path color="#141c7d" d="M123.1 95.3l2.4-1.8l-2.4-1l-2.4 1.8z"/>
<path color="#142081" d="M127.9 94.3l2.5-1.9l-2.5-0.8l-2.4 1.9z"/>
<path color="#132a8a" d="M132.8 93.1l2.4-2.1l-2.4-0.7l-2.4 2.1z"/>
<path color="#123794" d="M137.7 91.5l2.4-2.2l-2.4-0.5l-2.5 2.2z"/>
<path color="#0e499b" d="M142.5 89.7l2.5-2.3l-2.4-0.3l-2.5 2.2z"/>
<path color="#085ea0" d="M147.5 87.7l2.4-2.5l-2.4-0.2l-2.5 2.4z"/>
<path color="#02759c" d="M152.4 85.4l2.4-2.6l-2.4-0.1l-2.5 2.5z"/>
<path color="#123794" d="M77 92l2.4-0.4l-2.4-2.2l-2.5 0.4z"/>
<path color="#132a8a" d="M81.9 93.7l2.4-0.6l-2.4-2.1l-2.5 0.6z"/>
<path color="#141c7d" d="M91.6 96.1l2.4-0.8l-2.4-1.8l-2.4 0.8z"/>
<path color="#141879" d="M101.3 97.5l2.4-1.1l-2.4-1.6l-2.4 1.2z"/>
<path color="#141979" d="M115.8 97.5l2.4-1.5l-2.4-1.2l-2.4 1.6z"/>
<path color="#142485" d="M130.4 95l2.4-1.9l-2.4-0.7l-2.5 1.9z"/>
<path color="#113e98" d="M140.1 92l2.4-2.3l-2.4-0.4l-2.4 2.2z"/>
<path color="#05689e" d="M149.9 87.8l2.5-2.4l-2.5-0.2l-2.4 2.5z"/>
<path color="#007f99" d="M154.8 85.4l2.5-2.6l-2.5 0l-2.4 2.6z"/>
<path color="#141f81" d="M86.7 95l2.5-0.7l-2.5-1.9l-2.4 0.7z"/>
<path color="#141a7a" d="M96.4 97l2.5-1l-2.5-1.7l-2.4 1z"/>
<path color="#141878" d="M106.1 97.8l2.4-1.3l-2.4-1.4l-2.4 1.3z"/>
<path color="#141878" d="M111 97.8l2.4-1.4l-2.4-1.3l-2.5 1.4z"/>
<path color="#141a7c" d="M120.7 97l2.4-1.7l-2.4-1l-2.5 1.7z"/>
<path color="#141d7e" d="M125.5 96.1l2.4-1.8l-2.4-0.8l-2.4 1.8z"/>
<path color="#13308e" d="M135.2 93.6l2.5-2.1l-2.5-0.5l-2.4 2.1z"/>
<path color="#0b529d" d="M145 90l2.5-2.3l-2.5-0.3l-2.5 2.3z"/>
<path color="#113e99" d="M74.5 92.3l2.5-0.3l-2.5-2.2l-2.4 0.3z"/>
<path color="#13308e" d="M79.4 94.1l2.5-0.4l-2.5-2.1l-2.4 0.4z"/>
<path color="#142485" d="M84.3 95.7l2.4-0.7l-2.4-1.9l-2.4 0.6z"/>
<path color="#141d7e" d="M89.2 96.9l2.4-0.8l-2.4-1.8l-2.5 0.7z"/>
<path color="#141a7b" d="M94 97.9l2.4-0.9l-2.4-1.7l-2.4 0.8z"/>
<path color="#141979" d="M98.9 98.6l2.4-1.1l-2.4-1.5l-2.5 1z"/>
<path color="#141878" d="M103.7 99l2.4-1.2l-2.4-1.4l-2.4 1.1z"/>
<path color="#141878" d="M108.5 99.1l2.5-1.3l-2.5-1.3l-2.4 1.3z"/>
<path color="#141879" d="M113.4 99l2.4-1.5l-2.4-1.1l-2.4 1.4z"/>
<path color="#14197a" d="M118.2 98.6l2.5-1.6l-2.5-1l-2.4 1.5z"/>
<path color="#141b7d" d="M123.1 97.9l2.4-1.8l-2.4-0.8l-2.4 1.7z"/>
<path color="#141e80" d="M127.9 96.9l2.5-1.9l-2.5-0.7l-2.4 1.8z"/>
<path color="#132989" d="M132.8 95.6l2.4-2l-2.4-0.5l-2.4 1.9z"/>
<path color="#123693" d="M137.7 94.1l2.4-2.1l-2.4-0.5l-2.5 2.1z"/>
<path color="#0f479b" d="M142.5 92.3l2.5-2.3l-2.5-0.3l-2.4 2.3z"/>
<path color="#085da0" d="M147.5 90.2l2.4-2.4l-2.4-0.1l-2.5 2.3z"/>
<path color="#03739d" d="M152.4 87.9l2.4-2.5l-2.4 0l-2.5 2.4z"/>
<path color="#008791" d="M157.3 85.2l2.5-2.6l-2.5 0.2l-2.5 2.6z"/>
<path color="#14197a" d="M96.4 99.5l2.5-0.9l-2.5-1.6l-2.4 0.9z"/>
<path color="#132f8e" d="M135.2 96.1l2.5-2l-2.5-0.5l-2.4 2z"/>
<path color="#0e489b" d="M72.1 92.6l2.4-0.3l-2.4-2.2l-2.5 0.2z"/>
<path color="#123694" d="M77 94.5l2.4-0.4l-2.4-2.1l-2.5 0.3z"/>
<path color="#132989" d="M81.9 96.2l2.4-0.5l-2.4-2l-2.5 0.4z"/>
<path color="#141f81" d="M86.7 97.6l2.5-0.7l-2.5-1.9l-2.4 0.7z"/>
<path color="#141b7d" d="M91.6 98.7l2.4-0.8l-2.4-1.8l-2.4 0.8z"/>
<path color="#141879" d="M101.3 100.1l2.4-1.1l-2.4-1.5l-2.4 1.1z"/>
<path color="#141878" d="M106.1 100.3l2.4-1.2l-2.4-1.3l-2.4 1.2z"/>
<path color="#141878" d="M111 100.3l2.4-1.3l-2.4-1.2l-2.5 1.3z"/>
<path color="#141979" d="M115.8 100.1l2.4-1.5l-2.4-1.1l-2.4 1.5z"/>
<path color="#141a7b" d="M120.7 99.5l2.4-1.6l-2.4-0.9l-2.5 1.6z"/>
<path color="#141d7e" d="M125.5 98.7l2.4-1.8l-2.4-0.8l-2.4 1.8z"/>
<path color="#142384" d="M130.4 97.5l2.4-1.9l-2.4-0.6l-2.5 1.9z"/>
<path color="#123d98" d="M140.1 94.5l2.4-2.2l-2.4-0.3l-2.4 2.1z"/>
<path color="#0c529d" d="M145 92.5l2.5-2.3l-2.5-0.2l-2.5 2.3z"/>
<path color="#05689e" d="M149.9 90.3l2.5-2.4l-2.5-0.1l-2.4 2.4z"/>
<path color="#007f99" d="M154.8 87.8l2.5-2.6l-2.5 0.2l-2.4 2.5z"/>
<path color="#008f89" d="M159.8 85l2.5-2.7l-2.5 0.3l-2.5 2.6z"/>
<path color="#0b539d" d="M69.6 92.7l2.5-0.1l-2.5-2.3l-2.4 0z"/>
<path color="#113f99" d="M74.5 94.7l2.5-0.2l-2.5-2.2l-2.4 0.3z"/>
<path color="#13308e" d="M79.4 96.6l2.5-0.4l-2.5-2.1l-2.4 0.4z"/>
<path color="#142485" d="M84.3 98.1l2.4-0.5l-2.4-1.9l-2.4 0.5z"/>
<path color="#141d7f" d="M89.2 99.4l2.4-0.7l-2.4-1.8l-2.5 0.7z"/>
<path color="#141a7c" d="M94 100.3l2.4-0.8l-2.4-1.6l-2.4 0.8z"/>
<path color="#14197a" d="M98.9 101l2.4-0.9l-2.4-1.5l-2.5 0.9z"/>
<path color="#141878" d="M103.7 101.5l2.4-1.2l-2.4-1.3l-2.4 1.1z"/>
<path color="#141878" d="M108.5 101.6l2.5-1.3l-2.5-1.2l-2.4 1.2z"/>
<path color="#141879" d="M113.4 101.5l2.4-1.4l-2.4-1.1l-2.4 1.3z"/>
<path color="#14197a" d="M118.2 101l2.5-1.5l-2.5-0.9l-2.4 1.5z"/>
<path color="#141b7d" d="M123.1 100.3l2.4-1.6l-2.4-0.8l-2.4 1.6z"/>
<path color="#141f81" d="M127.9 99.3l2.5-1.8l-2.5-0.6l-2.4 1.8z"/>
<path color="#132989" d="M132.8 98.1l2.4-2l-2.4-0.5l-2.4 1.9z"/>
<path color="#123693" d="M137.7 96.5l2.4-2l-2.4-0.4l-2.5 2z"/>
<path color="#0f489b" d="M142.6 94.7l2.4-2.2l-2.5-0.2l-2.4 2.2z"/>
<path color="#085da0" d="M147.5 92.6l2.4-2.3l-2.4-0.1l-2.5 2.3z"/>
<path color="#02749d" d="M152.4 90.2l2.4-2.4l-2.4 0.1l-2.5 2.4z"/>
<path color="#008791" d="M157.3 87.6l2.5-2.6l-2.5 0.2l-2.5 2.6z"/>
<path color="#00957e" d="M162.3 84.7l2.5-2.7l-2.5 0.3l-2.5 2.7z"/>
<path color="#0e499b" d="M72.1 94.9l2.4-0.2l-2.4-2.1l-2.5 0.1z"/>
<path color="#132b8a" d="M81.9 98.5l2.4-0.4l-2.4-1.9l-2.5 0.4z"/>
<path color="#142081" d="M86.7 99.9l2.5-0.5l-2.5-1.8l-2.4 0.5z"/>
<path color="#141c7d" d="M91.6 101.1l2.4-0.8l-2.4-1.6l-2.4 0.7z"/>
<path color="#141a7b" d="M96.4 101.9l2.5-0.9l-2.5-1.5l-2.4 0.8z"/>
<path color="#141979" d="M101.3 102.5l2.4-1l-2.4-1.4l-2.4 0.9z"/>
<path color="#141878" d="M106.1 102.7l2.4-1.1l-2.4-1.3l-2.4 1.2z"/>
<path color="#141879" d="M111 102.7l2.4-1.2l-2.4-1.2l-2.5 1.3z"/>
<path color="#141b7c" d="M120.7 101.9l2.4-1.6l-2.4-0.8l-2.5 1.5z"/>
<path color="#141d7f" d="M125.5 101l2.4-1.7l-2.4-0.6l-2.4 1.6z"/>
<path color="#142485" d="M130.4 99.9l2.4-1.8l-2.4-0.6l-2.5 1.8z"/>
<path color="#13308f" d="M135.2 98.5l2.5-2l-2.5-0.4l-2.4 2z"/>
<path color="#113f99" d="M140.1 96.8l2.5-2.1l-2.5-0.2l-2.4 2z"/>
<path color="#0b539d" d="M145 94.8l2.5-2.2l-2.5-0.1l-2.4 2.2z"/>
<path color="#05699e" d="M149.9 92.6l2.5-2.4l-2.5 0.1l-2.4 2.3z"/>
<path color="#009088" d="M159.8 87.3l2.5-2.6l-2.5 0.3l-2.5 2.6z"/>
<path color="#123894" d="M77 96.8l2.4-0.2l-2.4-2.1l-2.5 0.2z"/>
<path color="#14197a" d="M115.8 102.5l2.4-1.5l-2.4-0.9l-2.4 1.4z"/>
<path color="#007f99" d="M154.8 90.1l2.5-2.5l-2.5 0.2l-2.4 2.4z"/>
<path color="#133290" d="M79.4 98.8l2.5-0.3l-2.5-1.9l-2.4 0.2z"/>
<path color="#141e7f" d="M89.2 101.7l2.4-0.6l-2.4-1.7l-2.5 0.5z"/>
<path color="#141979" d="M103.7 103.8l2.4-1.1l-2.4-1.2l-2.4 1z"/>
<path color="#142182" d="M127.9 101.6l2.5-1.7l-2.5-0.6l-2.4 1.7z"/>
<path color="#0e4a9b" d="M142.6 97l2.4-2.2l-2.4-0.1l-2.5 2.1z"/>
<path color="#02769c" d="M152.4 92.4l2.4-2.3l-2.4 0.1l-2.5 2.4z"/>
<path color="#104199" d="M74.5 97l2.5-0.2l-2.5-2.1l-2.4 0.2z"/>
<path color="#132687" d="M84.3 100.4l2.4-0.5l-2.4-1.8l-2.4 0.4z"/>
<path color="#141b7c" d="M94 102.7l2.4-0.8l-2.4-1.6l-2.4 0.8z"/>
<path color="#14197a" d="M98.9 103.4l2.4-0.9l-2.4-1.5l-2.5 0.9z"/>
<path color="#141879" d="M108.5 103.9l2.5-1.2l-2.5-1.1l-2.4 1.1z"/>
<path color="#14197a" d="M113.4 103.8l2.4-1.3l-2.4-1l-2.4 1.2z"/>
<path color="#141a7b" d="M118.2 103.3l2.5-1.4l-2.5-0.9l-2.4 1.5z"/>
<path color="#141c7e" d="M123.1 102.6l2.4-1.6l-2.4-0.7l-2.4 1.6z"/>
<path color="#132b8b" d="M132.8 100.4l2.4-1.9l-2.4-0.4l-2.4 1.8z"/>
<path color="#123895" d="M137.7 98.8l2.4-2l-2.4-0.3l-2.5 2z"/>
<path color="#0860a0" d="M147.5 94.8l2.4-2.2l-2.4 0l-2.5 2.2z"/>
<path color="#00868d" d="M157.3 89.8l2.5-2.5l-2.5 0.3l-2.5 2.5z"/>
<path color="#123a97" d="M77 99l2.4-0.2l-2.4-2l-2.5 0.2z"/>
<path color="#132d8c" d="M81.8 100.7l2.5-0.3l-2.4-1.9l-2.5 0.3z"/>
<path color="#142384" d="M86.7 102.2l2.5-0.5l-2.5-1.8l-2.4 0.5z"/>
<path color="#141d7e" d="M91.6 103.3l2.4-0.6l-2.4-1.6l-2.4 0.6z"/>
<path color="#14197a" d="M101.3 104.7l2.4-0.9l-2.4-1.3l-2.4 0.9z"/>
<path color="#14197a" d="M106.1 105l2.4-1.1l-2.4-1.2l-2.4 1.1z"/>
<path color="#141a7b" d="M115.8 104.7l2.4-1.4l-2.4-0.8l-2.4 1.3z"/>
<path color="#141e80" d="M125.5 103.3l2.4-1.7l-2.4-0.6l-2.4 1.6z"/>
<path color="#132787" d="M130.4 102.1l2.4-1.7l-2.4-0.5l-2.5 1.7z"/>
<path color="#104299" d="M140.1 99l2.5-2l-2.5-0.2l-2.4 2z"/>
<path color="#0a579e" d="M145 97l2.5-2.2l-2.5 0l-2.4 2.2z"/>
<path color="#046b9c" d="M149.9 94.7l2.5-2.3l-2.5 0.2l-2.4 2.2z"/>
<path color="#007c90" d="M154.9 92.2l2.4-2.4l-2.5 0.3l-2.4 2.3z"/>
<path color="#141b7c" d="M96.4 104.1l2.5-0.7l-2.5-1.5l-2.4 0.8z"/>
<path color="#14197a" d="M111 105l2.4-1.2l-2.4-1.1l-2.5 1.2z"/>
<path color="#141c7d" d="M120.7 104.1l2.4-1.5l-2.4-0.7l-2.5 1.4z"/>
<path color="#133391" d="M135.2 100.7l2.5-1.9l-2.5-0.3l-2.4 1.9z"/>
<path color="#123590" d="M79.4 101l2.4-0.3l-2.4-1.9l-2.4 0.2z"/>
<path color="#132a89" d="M84.3 102.5l2.4-0.3l-2.4-1.8l-2.5 0.3z"/>
<path color="#142082" d="M89.1 103.8l2.5-0.5l-2.4-1.6l-2.5 0.5z"/>
<path color="#141c7e" d="M94 104.8l2.4-0.7l-2.4-1.4l-2.4 0.6z"/>
<path color="#141b7c" d="M98.9 105.5l2.4-0.8l-2.4-1.3l-2.5 0.7z"/>
<path color="#141a7b" d="M103.7 105.9l2.4-0.9l-2.4-1.2l-2.4 0.9z"/>
<path color="#141a7a" d="M108.5 106.1l2.5-1.1l-2.5-1.1l-2.4 1.1z"/>
<path color="#141a7b" d="M113.4 105.9l2.4-1.2l-2.4-0.9l-2.4 1.2z"/>
<path color="#141b7d" d="M118.2 105.5l2.5-1.4l-2.5-0.8l-2.4 1.4z"/>
<path color="#141d7f" d="M123.1 104.8l2.4-1.5l-2.4-0.7l-2.4 1.5z"/>
<path color="#142485" d="M127.9 103.8l2.5-1.7l-2.5-0.5l-2.4 1.7z"/>
<path color="#132f8e" d="M132.8 102.5l2.4-1.8l-2.4-0.3l-2.4 1.7z"/>
<path color="#123c98" d="M137.7 100.9l2.4-1.9l-2.4-0.2l-2.5 1.9z"/>
<path color="#0c4d9a" d="M142.6 99.1l2.4-2.1l-2.4 0l-2.5 2z"/>
<path color="#065f98" d="M147.5 96.9l2.4-2.2l-2.4 0.1l-2.5 2.2z"/>
<path color="#017190" d="M152.4 94.5l2.5-2.3l-2.5 0.2l-2.5 2.3z"/>
<path color="#122f88" d="M81.8 102.8l2.5-0.3l-2.5-1.8l-2.4 0.3z"/>
<path color="#141c7e" d="M96.4 106.2l2.5-0.7l-2.5-1.4l-2.4 0.7z"/>
<path color="#141a7c" d="M111 107.1l2.4-1.2l-2.4-0.9l-2.5 1.1z"/>
<path color="#141d7f" d="M120.7 106.2l2.4-1.4l-2.4-0.7l-2.5 1.4z"/>
<path color="#123690" d="M135.2 102.7l2.5-1.8l-2.5-0.2l-2.4 1.8z"/>
<path color="#03658c" d="M149.9 96.7l2.5-2.2l-2.5 0.2l-2.4 2.2z"/>
<path color="#132683" d="M86.7 104.2l2.4-0.4l-2.4-1.6l-2.4 0.3z"/>
<path color="#141e7f" d="M91.6 105.4l2.4-0.6l-2.4-1.5l-2.5 0.5z"/>
<path color="#141b7c" d="M101.3 106.8l2.4-0.9l-2.4-1.2l-2.4 0.8z"/>
<path color="#141a7b" d="M106.1 107.1l2.4-1l-2.4-1.1l-2.4 0.9z"/>
<path color="#141b7d" d="M115.8 106.8l2.4-1.3l-2.4-0.8l-2.4 1.2z"/>
<path color="#142283" d="M125.5 105.3l2.4-1.5l-2.4-0.5l-2.4 1.5z"/>
<path color="#132b89" d="M130.4 104.2l2.4-1.7l-2.4-0.4l-2.5 1.7z"/>
<path color="#0e4492" d="M140.1 101l2.5-1.9l-2.5-0.1l-2.4 1.9z"/>
<path color="#085593" d="M145 99l2.5-2.1l-2.5 0.1l-2.4 2.1z"/>
<path color="#112b80" d="M84.3 104.5l2.4-0.3l-2.4-1.7l-2.5 0.3z"/>
<path color="#131c79" d="M94 106.8l2.4-0.6l-2.4-1.4l-2.4 0.6z"/>
<path color="#131b79" d="M98.8 107.5l2.5-0.7l-2.4-1.3l-2.5 0.7z"/>
<path color="#131b79" d="M108.5 108.1l2.5-1l-2.5-1l-2.4 1z"/>
<path color="#131b7a" d="M113.4 107.9l2.4-1.1l-2.4-0.9l-2.4 1.2z"/>
<path color="#131c7b" d="M118.2 107.5l2.5-1.3l-2.5-0.7l-2.4 1.3z"/>
<path color="#13207d" d="M123.1 106.8l2.4-1.5l-2.4-0.5l-2.4 1.4z"/>
<path color="#113087" d="M132.8 104.5l2.4-1.8l-2.4-0.2l-2.4 1.7z"/>
<path color="#0f3c8b" d="M137.7 102.9l2.4-1.9l-2.4-0.1l-2.5 1.8z"/>
<path color="#045b88" d="M147.5 98.8l2.4-2.1l-2.4 0.2l-2.5 2.1z"/>
<path color="#12237c" d="M89.1 105.8l2.5-0.4l-2.5-1.6l-2.4 0.4z"/>
<path color="#131b79" d="M103.7 108l2.4-0.9l-2.4-1.2l-2.4 0.9z"/>
<path color="#122782" d="M127.9 105.8l2.5-1.6l-2.5-0.4l-2.4 1.5z"/>
<path color="#094c8c" d="M142.6 101l2.4-2l-2.4 0.1l-2.5 1.9z"/>
<path color="#112076" d="M91.6 107.3l2.4-0.5l-2.4-1.4l-2.5 0.4z"/>
<path color="#121b75" d="M115.8 108.7l2.4-1.2l-2.4-0.7l-2.4 1.1z"/>
<path color="#0a4485" d="M140.1 102.9l2.5-1.9l-2.5 0l-2.4 1.9z"/>
<path color="#102779" d="M86.7 106.1l2.4-0.3l-2.4-1.6l-2.4 0.3z"/>
<path color="#121b73" d="M96.4 108.1l2.4-0.6l-2.4-1.3l-2.4 0.6z"/>
<path color="#121a73" d="M101.3 108.7l2.4-0.7l-2.4-1.2l-2.5 0.7z"/>
<path color="#121a74" d="M106.1 109l2.4-0.9l-2.4-1l-2.4 0.9z"/>
<path color="#121a74" d="M111 109l2.4-1.1l-2.4-0.8l-2.5 1z"/>
<path color="#121e77" d="M120.7 108.1l2.4-1.3l-2.4-0.6l-2.5 1.3z"/>
<path color="#11247b" d="M125.5 107.2l2.4-1.4l-2.4-0.5l-2.4 1.5z"/>
<path color="#112c80" d="M130.4 106.1l2.4-1.6l-2.4-0.3l-2.5 1.6z"/>
<path color="#0f3685" d="M135.2 104.6l2.5-1.7l-2.5-0.2l-2.4 1.8z"/>
<path color="#065284" d="M145 100.9l2.5-2.1l-2.5 0.2l-2.4 2z"/>
<path color="#102573" d="M89.1 107.6l2.5-0.3l-2.5-1.5l-2.4 0.3z"/>
<path color="#101f70" d="M94 108.6l2.4-0.5l-2.4-1.3l-2.4 0.5z"/>
<path color="#111a6e" d="M103.7 109.8l2.4-0.8l-2.4-1l-2.4 0.7z"/>
<path color="#111a6f" d="M113.4 109.8l2.4-1.1l-2.4-0.8l-2.4 1.1z"/>
<path color="#111d71" d="M118.2 109.3l2.5-1.2l-2.5-0.6l-2.4 1.2z"/>
<path color="#102978" d="M127.9 107.6l2.5-1.5l-2.5-0.3l-2.4 1.4z"/>
<path color="#0b3d7e" d="M137.7 104.7l2.4-1.8l-2.4 0l-2.5 1.7z"/>
<path color="#064a7f" d="M142.6 102.8l2.4-1.9l-2.4 0.1l-2.5 1.9z"/>
<path color="#111b6e" d="M98.8 109.4l2.5-0.7l-2.5-1.2l-2.4 0.6z"/>
<path color="#111a6e" d="M108.5 109.9l2.5-0.9l-2.5-0.9l-2.4 0.9z"/>
<path color="#112274" d="M123.1 108.6l2.4-1.4l-2.4-0.4l-2.4 1.3z"/>
<path color="#0f317d" d="M132.8 106.3l2.4-1.7l-2.4-0.1l-2.4 1.6z"/>
<path color="#0f236d" d="M91.5 109l2.5-0.4l-2.4-1.3l-2.5 0.3z"/>
<path color="#0f1e6b" d="M96.4 109.9l2.4-0.5l-2.4-1.3l-2.4 0.5z"/>
<path color="#101c6a" d="M101.3 110.5l2.4-0.7l-2.4-1.1l-2.5 0.7z"/>
<path color="#101a6a" d="M106.1 110.8l2.4-0.9l-2.4-0.9l-2.4 0.8z"/>
<path color="#101b6a" d="M111 110.7l2.4-0.9l-2.4-0.8l-2.5 0.9z"/>
<path color="#101d6c" d="M115.8 110.4l2.4-1.1l-2.4-0.6l-2.4 1.1z"/>
<path color="#10216e" d="M120.7 109.9l2.4-1.3l-2.4-0.5l-2.5 1.2z"/>
<path color="#0f2672" d="M125.5 109l2.4-1.4l-2.4-0.4l-2.4 1.4z"/>
<path color="#0e2d76" d="M130.4 107.8l2.4-1.5l-2.4-0.2l-2.5 1.5z"/>
<path color="#0b3777" d="M135.3 106.3l2.4-1.6l-2.5-0.1l-2.4 1.7z"/>
<path color="#074378" d="M140.1 104.6l2.5-1.8l-2.5 0.1l-2.4 1.8z"/>
<path color="#0f1c66" d="M108.5 111.6l2.5-0.9l-2.5-0.8l-2.4 0.9z"/>
<path color="#0e256c" d="M123.1 110.3l2.4-1.3l-2.4-0.4l-2.4 1.3z"/>
<path color="#0e2268" d="M94 110.3l2.4-0.4l-2.4-1.3l-2.5 0.4z"/>
<path color="#0e1e66" d="M98.8 111l2.5-0.5l-2.5-1.1l-2.4 0.5z"/>
<path color="#0f1c65" d="M103.7 111.5l2.4-0.7l-2.4-1l-2.4 0.7z"/>
<path color="#0f1d67" d="M113.4 111.4l2.4-1l-2.4-0.6l-2.4 0.9z"/>
<path color="#0f2069" d="M118.2 111l2.5-1.1l-2.5-0.6l-2.4 1.1z"/>
<path color="#0e2a6f" d="M128 109.2l2.4-1.4l-2.5-0.2l-2.4 1.4z"/>
<path color="#0b3371" d="M132.8 107.9l2.5-1.6l-2.5 0l-2.4 1.5z"/>
<path color="#073d71" d="M137.7 106.3l2.4-1.7l-2.4 0.1l-2.4 1.6z"/>
<path color="#0d2163" d="M96.4 111.5l2.4-0.5l-2.4-1.1l-2.4 0.4z"/>
<path color="#0e1e61" d="M106.1 112.3l2.4-0.7l-2.4-0.8l-2.4 0.7z"/>
<path color="#0e1e62" d="M111 112.3l2.4-0.9l-2.4-0.7l-2.5 0.9z"/>
<path color="#0d2366" d="M120.7 111.4l2.4-1.1l-2.4-0.4l-2.5 1.1z"/>
<path color="#0d2869" d="M125.5 110.5l2.5-1.3l-2.5-0.2l-2.4 1.3z"/>
<path color="#08386b" d="M135.3 107.9l2.4-1.6l-2.4 0l-2.5 1.6z"/>
<path color="#0d1f62" d="M101.2 112l2.5-0.5l-2.4-1l-2.5 0.5z"/>
<path color="#0d2064" d="M115.8 112l2.4-1l-2.4-0.6l-2.4 1z"/>
<path color="#0b2f6a" d="M130.4 109.3l2.4-1.4l-2.4-0.1l-2.4 1.4z"/>
<path color="#0c1f5d" d="M103.7 112.9l2.4-0.6l-2.4-0.8l-2.5 0.5z"/>
<path color="#0a2d64" d="M128 110.7l2.4-1.4l-2.4-0.1l-2.5 1.3z"/>
<path color="#0c215e" d="M98.8 112.5l2.4-0.5l-2.4-1l-2.4 0.5z"/>
<path color="#0c1f5e" d="M108.5 113.1l2.5-0.8l-2.5-0.7l-2.4 0.7z"/>
<path color="#0c205f" d="M113.4 112.9l2.4-0.9l-2.4-0.6l-2.4 0.9z"/>
<path color="#0c2360" d="M118.2 112.5l2.5-1.1l-2.5-0.4l-2.4 1z"/>
<path color="#0c2763" d="M123.1 111.7l2.4-1.2l-2.4-0.2l-2.4 1.1z"/>
<path color="#073464" d="M132.8 109.3l2.5-1.4l-2.5 0l-2.4 1.4z"/>
<path color="#0b2159" d="M101.2 113.4l2.5-0.5l-2.5-0.9l-2.4 0.5z"/>
<path color="#07315e" d="M130.4 110.7l2.4-1.4l-2.4 0l-2.4 1.4z"/>
<path color="#0b2059" d="M106.1 113.7l2.4-0.6l-2.4-0.8l-2.4 0.6z"/>
<path color="#0b225b" d="M115.8 113.4l2.4-0.9l-2.4-0.5l-2.4 0.9z"/>
<path color="#092b5d" d="M125.5 111.9l2.5-1.2l-2.5-0.2l-2.4 1.2z"/>
<path color="#0b215a" d="M110.9 113.7l2.5-0.8l-2.4-0.6l-2.5 0.8z"/>
<path color="#0b255d" d="M120.7 112.8l2.4-1.1l-2.4-0.3l-2.5 1.1z"/>
<path color="#0a2155" d="M103.7 114.2l2.4-0.5l-2.4-0.8l-2.5 0.5z"/>
<path color="#0a2155" d="M108.5 114.4l2.4-0.7l-2.4-0.6l-2.4 0.6z"/>
<path color="#0a2256" d="M113.4 114.2l2.4-0.8l-2.4-0.5l-2.5 0.8z"/>
<path color="#092556" d="M118.2 113.8l2.5-1l-2.5-0.3l-2.4 0.9z"/>
<path color="#082957" d="M123.1 113l2.4-1.1l-2.4-0.2l-2.4 1.1z"/>
<path color="#062e57" d="M128 111.9l2.4-1.2l-2.4 0l-2.5 1.2z"/>
<path color="#08234f" d="M106.1 114.9l2.4-0.5l-2.4-0.7l-2.4 0.5z"/>
<path color="#082350" d="M110.9 114.9l2.5-0.7l-2.5-0.5l-2.4 0.7z"/>
<path color="#082550" d="M115.8 114.6l2.4-0.8l-2.4-0.4l-2.4 0.8z"/>
<path color="#072851" d="M120.7 114l2.4-1l-2.4-0.2l-2.5 1z"/>
<path color="#052c51" d="M125.5 113.1l2.5-1.2l-2.5 0l-2.4 1.1z"/>
<path color="#062449" d="M108.5 115.5l2.4-0.6l-2.4-0.5l-2.4 0.5z"/>
<path color="#06254a" d="M113.4 115.3l2.4-0.7l-2.4-0.4l-2.5 0.7z"/>
<path color="#05274a" d="M118.2 114.8l2.5-0.8l-2.5-0.2l-2.4 0.8z"/>
<path color="#042a4b" d="M123.1 114.1l2.4-1l-2.4-0.1l-2.4 1z"/>
<path color="#042644" d="M115.8 115.6l2.4-0.8l-2.4-0.2l-2.4 0.7z"/>
<path color="#042544" d="M110.9 115.9l2.5-0.6l-2.5-0.4l-2.4 0.6z"/>
<path color="#032944" d="M120.7 115l2.4-0.9l-2.4-0.1l-2.5 0.8z"/>
<path color="#03253e" d="M113.4 116.2l2.4-0.6l-2.4-0.3l-2.5 0.6z"/>
<path color="#02273e" d="M118.2 115.7l2.5-0.7l-2.5-0.2l-2.4 0.8z"/>
<path color="#022537" d="M115.8 116.4l2.4-0.7l-2.4-0.1l-2.4 0.6z"/>
</g>
<circle cx="115.8" cy="116.4" r="1.05" fill="#e00"/>
<circle cx="164.8" cy="82.0" r="1.05" fill="#e00"/>
<circle cx="67.2" cy="90.3" r="1.05" fill="#e00"/>
<circle cx="115.8" cy="68.9" r="1.05" fill="#e00"/>
<circle cx="115.8" cy="96.1" r="1.05" fill="#e00"/>
<g font-size="3.3" fill="#1a1a1a" stroke="#1a1a1a" stroke-width="0.07">
<text x="65.9" y="111.5" text-anchor="end">8</text>
<circle cx="67.8" cy="112.4" r="0.5" fill="#222"/>
<text x="65.5" y="96.8" text-anchor="end">9</text>
<circle cx="67.4" cy="97.7" r="0.5" fill="#222"/>
<text x="65.1" y="82.1" text-anchor="end">10</text>
<circle cx="67.0" cy="83.0" r="0.5" fill="#222"/>
<text x="64.6" y="67.4" text-anchor="end">11</text>
<circle cx="66.5" cy="68.3" r="0.5" fill="#222"/>
<text x="64.2" y="52.6" text-anchor="end">12</text>
<circle cx="66.1" cy="53.5" r="0.5" fill="#222"/>
<text x="63.8" y="37.9" text-anchor="end">13</text>
<circle cx="65.7" cy="38.8" r="0.5" fill="#222"/>
<circle cx="115.8" cy="169.6" r="0.45" fill="#222"/>
<text x="118.6" y="172.7">-2.00</text>
<circle cx="127.6" cy="161.1" r="0.45" fill="#222"/>
<text x="130.4" y="164.2">-1.50</text>
<circle cx="139.4" cy="152.6" r="0.45" fill="#222"/>
<text x="142.2" y="155.7">-1.00</text>
<circle cx="151.2" cy="144.1" r="0.45" fill="#222"/>
<text x="154.0" y="147.2">-0.50</text>
<circle cx="163.0" cy="135.6" r="0.45" fill="#222"/>
<text x="165.8" y="138.7">0.00</text>
<circle cx="115.8" cy="169.6" r="0.45" fill="#222"/>
<text x="113.8" y="172.7" text-anchor="end">1100.00</text>
<circle cx="104.0" cy="161.1" r="0.45" fill="#222"/>
<text x="102.0" y="164.2" text-anchor="end">1150.00</text>
<circle cx="92.2" cy="152.6" r="0.45" fill="#222"/>
<text x="90.2" y="155.7" text-anchor="end">1200.00</text>
<circle cx="80.3" cy="144.1" r="0.45" fill="#222"/>
<text x="78.3" y="147.2" text-anchor="end">1250.00</text>
<circle cx="68.5" cy="135.6" r="0.45" fill="#222"/>
<text x="66.5" y="138.7" text-anchor="end">1300.00</text>
</g>
<g font-size="5" fill="#222" stroke="#222" stroke-width="0.18">
<text x="157.8" y="167.2" text-anchor="middle">A: DA</text>
<text x="73.8" y="167.2" text-anchor="middle">C: SS</text>
<text transform="translate(53.0 89.0) rotate(-90)" text-anchor="middle">R2</text>
</g>
</g>
<text x="276.9" y="199.6" text-anchor="middle" font-family="'Liberation Serif',serif" font-size="11.5" font-weight="bold" fill="#111">(b)</text></g>
<g><g transform="translate(375.0 -1.25) scale(0.9965 0.9885)">
<g font-size="3.75" stroke-width="0.06">
<circle cx="7.0" cy="9.1" r="0.95" fill="#e00"/>
<text x="10.6" y="10.8" fill="#e8202a" stroke="#e8202a">Design points above predicted value</text>
<circle cx="7.0" cy="13.4" r="0.85" fill="#f3b0b8"/>
<text x="10.6" y="14.7" fill="#f8c4cc">Design points below predicted value</text>
<rect x="5.7" y="16.0" width="3.3" height="14.6" fill="url(#cb)"/>
<rect x="5.7" y="16.0" width="3.3" height="14.6" fill="url(#ce)"/>
<text x="10.8" y="19.8" fill="#e8202a" stroke="#e8202a">12.78</text>
<text x="10.8" y="29.1" fill="#2030e0">9.01</text>
<g fill="#2a2a2a"><text x="5.0" y="38.0">X1 = A: DA</text>
<text x="5.0" y="42.6">X2 = D: LT</text>
<text x="5.0" y="52.2">Actual Factors</text>
<text x="5.0" y="56.4">B: LP = 175.00</text>
<text x="5.0" y="61.2">C: SS = 1200.00</text></g></g>
<path d="M67.8 112.4L65.7 38.8M79.8 106.5L78.2 34.5M91.8 100.6L90.7 30.3M103.8 94.6L103.3 26.1M115.8 88.7L115.8 21.8M163.8 112.5L166.2 38.8M151.8 106.5L153.6 34.5M139.8 100.6L141.0 30.3M127.8 94.6L128.4 26.1" stroke="#6a6a6a" stroke-width="0.4" fill="none"/>
<path d="M67.8 112.4L115.8 88.7M115.8 88.7L163.8 112.5M67.4 97.7L115.8 75.3M115.8 75.3L164.3 97.7M67.0 83.0L115.8 61.9M115.8 61.9L164.7 83.0M66.5 68.3L115.8 48.6M115.8 48.6L165.2 68.3M66.1 53.5L115.8 35.2M115.8 35.2L165.7 53.5M65.7 38.8L115.8 21.8M115.8 21.8L166.2 38.8M68.5 135.6L65.7 38.8M163.0 135.6L163.8 112.5" stroke="#555" stroke-width="0.42" fill="none"/>
<polygon points="115.8,169.6 163.0,135.6 115.8,109.7 68.5,135.6" fill="#ffff00"/>
<path d="M106.1 161.5L105.1 161.9M76.7 140.4L76.3 141.2M107.1 161.1L106.1 161.5M77.0 139.9L76.7 140.4M77.0 139.9L77.1 139.7M108.1 160.7L107.2 161.1M107.2 161.1L107.1 161.1M77.5 139.0L77.1 139.7M109.0 160.3L108.1 160.7M78.0 138.3L77.5 139.0M110.0 159.9L109.0 160.3M78.0 138.3L78.0 138.3M78.0 138.3L78.4 137.6M110.9 159.5L110.0 159.9M78.9 137.0L78.4 137.6M111.8 159.0L110.9 159.5M79.2 136.6L78.9 137.0M79.2 136.6L79.4 136.3M112.7 158.5L111.9 159.0M111.9 159.0L111.8 159.0M79.9 135.7L79.4 136.3M113.6 158.1L112.7 158.5M80.4 135.0L79.9 135.7M114.5 157.6L113.6 158.1M80.6 134.8L80.4 135.0M80.6 134.8L81.0 134.4M115.4 157.1L114.5 157.6M81.5 133.8L81.0 134.4M116.2 156.6L115.4 157.1M82.1 133.2L81.5 133.8M117.0 156.1L116.2 156.6M82.5 132.7L82.1 133.2M82.5 132.7L82.6 132.6M117.9 155.6L117.0 156.1M83.2 132.0L82.6 132.6M118.7 155.1L117.9 155.6M83.8 131.5L83.2 132.0M119.5 154.5L118.7 155.1M84.4 130.9L83.8 131.5M120.3 154.0L119.5 154.5M85.0 130.4L84.4 130.9M85.0 130.4L85.0 130.3M121.0 153.4L120.3 154.0M85.7 129.8L85.0 130.3M121.8 152.9L121.0 153.4M86.3 129.3L85.7 129.8M122.6 152.3L121.8 152.9M87.0 128.7L86.3 129.3M123.3 151.8L122.6 152.3M87.6 128.2L87.0 128.7M124.0 151.2L123.3 151.8M88.3 127.7L87.6 128.2M124.8 150.6L124.0 151.2M88.9 127.2L88.3 127.7M88.9 127.2L89.0 127.2M125.5 150.0L124.8 150.6M89.7 126.7L89.0 127.2M126.2 149.4L125.5 150.0M90.4 126.2L89.7 126.7M126.9 148.8L126.2 149.4M91.1 125.7L90.4 126.2M127.4 148.3L126.9 148.8M127.4 148.3L127.6 148.2M91.8 125.2L91.1 125.7M128.2 147.6L127.6 148.2M92.6 124.8L91.8 125.2M128.9 147.0L128.2 147.6M93.3 124.3L92.6 124.8M129.5 146.3L128.9 147.0M94.1 123.8L93.3 124.3M130.2 145.7L129.5 146.3M94.8 123.4L94.1 123.8M130.8 145.1L130.2 145.7M95.6 122.9L94.8 123.4M131.1 144.8L130.8 145.1M131.1 144.8L131.4 144.4M96.4 122.5L95.6 122.9M132.0 143.8L131.4 144.4M97.2 122.1L96.4 122.5M132.6 143.1L132.0 143.8M98.0 121.7L97.2 122.1M133.2 142.5L132.6 143.1M98.8 121.2L98.0 121.7M133.5 142.1L133.2 142.5M133.5 142.1L133.8 141.8M99.7 120.8L98.8 121.2M134.3 141.1L133.8 141.8M100.5 120.4L99.7 120.8M134.9 140.4L134.3 141.1M101.4 120.1L100.5 120.4M135.4 139.8L134.9 140.4M135.4 139.8L135.4 139.8M102.3 119.7L101.4 120.1M135.9 139.1L135.4 139.8M103.1 119.3L102.3 119.7M136.5 138.4L135.9 139.1M104.0 118.9L103.5 119.2M103.5 119.2L103.1 119.3M136.8 137.9L136.5 138.4M136.8 137.9L136.9 137.7M105.0 118.6L104.0 118.9M137.4 136.9L136.9 137.7M105.9 118.2L105.0 118.6M137.9 136.2L137.4 136.9M106.8 117.9L105.9 118.2M138.0 136.1L137.9 136.2M138.0 136.1L138.3 135.5M107.8 117.5L106.8 117.9M138.8 134.8L138.3 135.5M108.8 117.2L108.4 117.3M108.4 117.3L107.8 117.5M138.9 134.4L138.8 134.8M138.9 134.4L139.2 134.0M109.8 116.9L108.8 117.2M139.6 133.3L139.2 134.0M110.8 116.6L109.8 116.9M139.7 132.9L139.6 133.3M139.7 132.9L139.9 132.5M111.8 116.3L110.8 116.6M140.3 131.7L139.9 132.5M112.9 116.0L111.9 116.2M111.9 116.2L111.8 116.3M140.4 131.5L140.3 131.7M140.4 131.5L140.6 130.9M114.0 115.7L112.9 116.0M140.9 130.2L140.6 130.9M140.9 130.2L140.9 130.1M115.1 115.4L114.8 115.5M114.8 115.5L114.0 115.7M141.2 129.3L140.9 130.1M116.2 115.2L115.1 115.4M141.3 129.0L141.2 129.3M141.3 129.0L141.4 128.5M117.4 115.0L116.2 115.2M141.6 127.8L141.4 128.5M141.6 127.8L141.6 127.7M118.6 114.7L117.4 115.0M117.4 115.0L117.4 115.0M141.8 126.8L141.6 127.7M119.8 114.5L119.6 114.6M119.6 114.6L118.6 114.7M141.8 126.7L141.8 126.8M141.8 126.7L141.9 125.9M121.1 114.4L119.8 114.5M142.0 125.7L141.9 125.9M142.0 125.7L142.0 125.0M122.4 114.2L121.6 114.3M121.6 114.3L121.1 114.4M142.0 124.7L142.0 125.0M142.0 124.7L142.0 124.1M123.8 114.1L123.5 114.1M123.5 114.1L122.4 114.2" stroke="#6fe04a" stroke-width="0.5" fill="none" stroke-linecap="round"/>
<path d="M108.1 163.0L107.2 163.4M74.5 139.3L74.2 139.7M74.5 139.3L74.7 139.0M109.1 162.6L108.1 163.0M75.1 138.3L74.7 139.0M110.1 162.1L109.1 162.6M75.5 137.7L75.1 138.3M75.5 137.7L75.6 137.6M111.0 161.7L110.1 162.1M76.0 136.9L75.6 137.6M111.9 161.2L111.5 161.4M111.5 161.4L111.0 161.7M76.5 136.3L76.0 136.9M112.8 160.8L111.9 161.2M76.8 136.0L76.5 136.3M76.8 136.0L77.0 135.6M113.7 160.3L112.8 160.8M77.5 135.0L77.0 135.6M114.6 159.8L113.7 160.3M78.1 134.4L77.5 135.0M115.4 159.3L114.6 159.8M78.3 134.1L78.1 134.4M78.3 134.1L78.6 133.8M116.3 158.8L115.4 159.3M79.2 133.2L78.6 133.8M117.1 158.3L116.3 158.8M79.7 132.6L79.2 133.2M118.0 157.8L117.1 158.3M80.2 132.1L79.7 132.6M80.2 132.1L80.3 132.0M118.8 157.3L118.0 157.8M80.9 131.4L80.3 132.0M119.6 156.8L118.8 157.3M81.5 130.8L80.9 131.4M120.4 156.2L119.6 156.8M82.1 130.3L81.5 130.8M121.2 155.7L120.4 156.2M82.7 129.7L82.1 130.3M122.0 155.1L121.2 155.7M82.7 129.7L82.7 129.7M82.7 129.7L83.3 129.2M122.8 154.6L122.0 155.1M84.0 128.6L83.3 129.2M123.5 154.0L122.8 154.6M84.6 128.1L84.0 128.6M124.3 153.5L123.5 154.0M85.3 127.6L84.6 128.1M125.0 152.9L124.3 153.5M85.9 127.1L85.3 127.6M125.8 152.3L125.0 152.9M86.4 126.7L85.9 127.1M86.4 126.7L86.6 126.6M126.5 151.7L125.8 152.3M87.3 126.1L86.6 126.6M127.2 151.1L126.5 151.7M88.0 125.6L87.3 126.1M127.9 150.5L127.2 151.1M88.7 125.1L88.0 125.6M128.6 149.9L127.9 150.5M89.4 124.6L88.7 125.1M129.3 149.3L128.6 149.9M90.1 124.1L89.4 124.6M129.9 148.7L129.3 149.3M129.9 148.7L129.9 148.7M90.9 123.7L90.1 124.1M130.6 148.1L129.9 148.7M91.6 123.2L90.9 123.7M131.3 147.4L130.6 148.1M92.3 122.8L91.6 123.2M131.9 146.8L131.3 147.4M93.1 122.3L92.3 122.8M132.5 146.2L131.9 146.8M93.9 121.9L93.1 122.3M133.2 145.5L132.5 146.2M94.7 121.4L93.9 121.9M133.4 145.3L133.2 145.5M133.4 145.3L133.8 144.9M95.5 121.0L94.7 121.4M134.4 144.2L133.8 144.9M96.3 120.6L95.5 121.0M135.0 143.6L134.4 144.2M97.1 120.2L96.3 120.6M135.6 142.9L135.0 143.6M97.9 119.8L97.1 120.2M135.9 142.6L135.6 142.9M135.9 142.6L136.1 142.2M98.7 119.3L97.9 119.8M136.7 141.5L136.1 142.2M99.6 119.0L98.7 119.3M137.2 140.9L136.7 141.5M100.4 118.6L99.6 119.0M137.7 140.3L137.2 140.9M137.7 140.3L137.8 140.2M101.3 118.2L100.4 118.6M138.3 139.5L137.8 140.2M102.2 117.8L101.3 118.2M138.8 138.8L138.3 139.5M103.1 117.4L102.2 117.8M139.2 138.2L138.8 138.8M139.2 138.2L139.3 138.1M104.0 117.1L103.9 117.1M103.9 117.1L103.1 117.4M139.8 137.4L139.3 138.1M104.9 116.7L104.0 117.1M140.3 136.6L139.8 137.4M105.8 116.4L104.9 116.7M140.5 136.4L140.3 136.6M140.5 136.4L140.8 135.9M106.8 116.0L105.8 116.4M141.2 135.2L140.8 135.9M107.7 115.7L106.8 116.0M141.5 134.7L141.2 135.2M141.5 134.7L141.6 134.5M108.7 115.4L108.6 115.4M108.6 115.4L107.7 115.7M142.0 133.7L141.6 134.5M109.7 115.0L108.7 115.4M142.3 133.1L142.0 133.7M142.3 133.1L142.4 133.0M110.7 114.7L109.7 115.0M142.8 132.2L142.4 133.0M111.8 114.4L110.7 114.7M143.1 131.7L142.8 132.2M143.1 131.7L143.2 131.4M112.8 114.2L112.2 114.3M112.2 114.3L111.8 114.4M143.5 130.6L143.2 131.4M113.9 113.9L112.8 114.2M143.7 130.3L143.5 130.6M143.7 130.3L143.8 129.9M115.0 113.6L113.9 113.9M144.1 129.1L143.8 129.9M116.1 113.3L115.1 113.6M115.1 113.6L115.0 113.6M144.1 129.0L144.1 129.1M144.1 129.0L144.4 128.2M117.2 113.1L116.1 113.3M144.5 127.8L144.4 128.2M144.5 127.8L144.6 127.4M118.4 112.9L117.7 113.0M117.7 113.0L117.2 113.1M144.8 126.7L144.6 127.4M144.8 126.7L144.8 126.6M119.6 112.7L118.4 112.9M145.0 125.7L144.8 126.6M120.8 112.5L120.0 112.6M120.0 112.6L119.6 112.7" stroke="#6fe04a" stroke-width="0.5" fill="none" stroke-linecap="round"/>
<path d="M110.3 164.6L109.9 164.8M109.9 164.8L109.4 165.0M72.4 137.4L72.0 138.1M111.3 164.1L110.3 164.6M72.5 137.4L72.4 137.4M72.5 137.4L72.9 136.7M112.2 163.7L111.3 164.1M73.4 136.1L72.9 136.7M113.1 163.2L112.2 163.7M73.7 135.7L73.4 136.1M73.7 135.7L73.9 135.4M114.0 162.7L113.1 163.2M74.4 134.8L73.9 135.4M114.9 162.2L114.0 162.7M74.9 134.2L74.4 134.8M115.8 161.8L114.9 162.2M75.2 133.8L74.9 134.2M75.2 133.8L75.5 133.6M116.6 161.3L116.1 161.5M116.1 161.5L115.8 161.8M76.0 133.0L75.5 133.6M117.5 160.7L116.6 161.3M76.6 132.4L76.0 133.0M118.3 160.2L117.5 160.7M77.1 131.8L76.6 132.4M77.1 131.8L77.1 131.8M119.1 159.7L118.3 160.2M77.7 131.2L77.1 131.8M120.0 159.2L119.1 159.7M78.3 130.6L77.7 131.2M120.8 158.6L120.0 159.2M78.9 130.1L78.3 130.6M121.6 158.1L120.8 158.6M79.4 129.6L78.9 130.1M122.4 157.6L121.6 158.1M123.2 157.0L122.4 157.6M123.9 156.4L123.2 157.0M124.7 155.9L123.9 156.4M125.4 155.3L124.7 155.9M126.2 154.7L125.4 155.3M126.9 154.1L126.2 154.7M127.7 153.6L126.9 154.1M128.4 153.0L127.7 153.6M128.5 152.9L128.4 153.0M128.5 152.9L129.1 152.4M129.8 151.8L129.1 152.4M130.5 151.1L129.8 151.8M131.2 150.5L130.5 151.1M131.9 149.9L131.2 150.5M132.5 149.3L131.9 149.9M133.2 148.7L132.5 149.3M133.6 148.3L133.2 148.7M133.6 148.3L133.8 148.0M134.5 147.4L133.8 148.0M135.1 146.7L134.5 147.4M135.7 146.1L135.1 146.7M136.3 145.4L135.7 146.1M136.7 145.1L136.3 145.4M136.7 145.1L136.9 144.8M137.5 144.1L136.9 144.8M138.1 143.4L137.5 144.1M138.7 142.8L138.1 143.4M139.0 142.5L138.7 142.8M139.0 142.5L139.3 142.1M139.8 141.4L139.3 142.1M140.4 140.7L139.8 141.4M140.8 140.2L140.4 140.7M140.8 140.2L140.9 140.0M141.4 139.3L140.9 140.0M141.9 138.6L141.4 139.3M142.3 138.2L141.9 138.6M142.3 138.2L142.4 137.9M142.9 137.2L142.4 137.9M143.4 136.5L142.9 137.2M143.5 136.3L143.4 136.5M143.5 136.3L143.9 135.7M144.3 135.0L143.9 135.7M144.6 134.6L144.3 135.0M144.6 134.6L144.7 134.3M145.2 133.5L144.7 134.3M145.5 133.0L145.2 133.5M145.5 133.0L145.6 132.8M110.4 112.8L109.8 113.0M146.0 132.0L145.6 132.8M111.4 112.5L110.4 112.8M146.2 131.5L146.0 132.0M146.2 131.5L146.3 131.3M112.5 112.2L111.4 112.5M146.7 130.5L146.3 131.3M113.5 111.9L113.2 112.0M113.2 112.0L112.5 112.2M146.9 130.1L146.7 130.5M146.9 130.1L147.0 129.7M114.6 111.6L113.5 111.9M147.3 128.9L147.0 129.7M115.7 111.4L114.6 111.6M147.4 128.8L147.3 128.9M147.4 128.8L147.6 128.1M116.8 111.1L116.1 111.3M116.1 111.3L115.7 111.4M147.8 127.5L147.6 128.1M147.8 127.5L147.9 127.3M117.9 110.9L116.8 111.1" stroke="#6fe04a" stroke-width="0.5" fill="none" stroke-linecap="round"/>
<path d="M112.4 166.1L111.5 166.5M70.4 135.9L69.9 136.5M113.3 165.6L112.4 166.1M70.8 135.3L70.4 135.9M70.8 135.3L70.9 135.2M114.2 165.1L114.0 165.2M114.0 165.2L113.3 165.6M71.4 134.6L70.9 135.2M115.1 164.6L114.2 165.1M71.9 134.0L71.4 134.6M116.0 164.1L115.1 164.6M72.4 133.4L71.9 134.0M116.9 163.6L116.0 164.1M117.7 163.1L116.9 163.6M118.6 162.6L117.7 163.1M119.4 162.1L118.6 162.6M120.2 161.6L119.4 162.1M121.1 161.0L120.2 161.6M121.9 160.5L121.1 161.0M122.7 159.9L121.9 160.5M123.5 159.4L122.7 159.9M124.3 158.8L123.5 159.4M125.0 158.3L124.3 158.8M125.8 157.7L125.0 158.3M126.6 157.1L125.8 157.7M127.3 156.6L126.6 157.1M128.1 156.0L127.3 156.6M128.8 155.4L128.1 156.0M129.5 154.8L128.8 155.4M130.2 154.2L129.5 154.8M131.0 153.6L130.2 154.2M131.7 153.0L131.0 153.6M132.4 152.3L131.7 153.0M132.6 152.1L132.4 152.3M132.6 152.1L133.0 151.7M133.7 151.1L133.0 151.7M134.4 150.5L133.7 151.1M135.1 149.8L134.4 150.5M135.7 149.2L135.1 149.8M136.4 148.6L135.7 149.2M136.8 148.1L136.4 148.6M136.8 148.1L137.0 147.9M137.6 147.3L137.0 147.9M138.2 146.6L137.6 147.3M138.9 145.9L138.2 146.6M139.5 145.3L138.9 145.9M139.7 145.1L139.5 145.3M139.7 145.1L140.1 144.6M140.6 143.9L140.1 144.6M141.2 143.3L140.6 143.9M141.8 142.6L141.2 143.3M141.9 142.5L141.8 142.6M141.9 142.5L142.3 141.9M142.9 141.2L142.3 141.9M143.4 140.5L142.9 141.2M143.6 140.2L143.4 140.5M143.6 140.2L144.0 139.8M144.5 139.1L144.0 139.8M145.0 138.4L144.5 139.1M145.1 138.2L145.0 138.4M145.1 138.2L145.5 137.7M146.0 137.0L145.5 137.7M146.4 136.3L146.0 137.0M146.4 136.3L146.4 136.3M146.9 135.5L146.4 136.3M147.4 134.8L146.9 135.5M147.5 134.6L147.4 134.8M147.5 134.6L147.8 134.1M148.2 133.3L147.8 134.1M148.4 133.0L148.2 133.3M148.4 133.0L148.6 132.6M149.0 131.8L148.6 132.6M149.2 131.4L149.0 131.8M149.2 131.4L149.4 131.0M149.8 130.3L149.4 131.0M149.9 130.0L149.8 130.3M149.9 130.0L150.1 129.5M150.5 128.7L150.1 129.5" stroke="#6fe04a" stroke-width="0.5" fill="none" stroke-linecap="round"/>
<path d="M114.8 167.7L113.9 168.2M115.7 167.2L114.8 167.7M116.5 166.7L115.7 167.2M117.4 166.2L117.1 166.4M117.1 166.4L116.5 166.7M118.3 165.7L117.4 166.2M119.1 165.2L118.3 165.7M120.0 164.7L119.1 165.2M120.8 164.2L120.0 164.7M121.6 163.6L120.8 164.2M122.4 163.1L121.6 163.6M123.2 162.5L122.4 163.1M124.0 162.0L123.2 162.5M124.8 161.4L124.0 162.0M125.6 160.9L124.8 161.4M126.4 160.3L125.6 160.9M127.2 159.7L126.4 160.3M127.9 159.1L127.2 159.7M128.7 158.6L127.9 159.1M129.4 158.0L128.7 158.6M130.2 157.4L129.4 158.0M130.9 156.8L130.2 157.4M131.6 156.2L130.9 156.8M132.4 155.6L131.6 156.2M132.7 155.3L132.4 155.6M132.7 155.3L133.1 154.9M133.8 154.3L133.1 154.9M134.5 153.7L133.8 154.3M135.1 153.1L134.5 153.7M135.8 152.5L135.1 153.1M136.5 151.8L135.8 152.5M137.2 151.2L136.5 151.8M137.8 150.5L137.2 151.2M137.9 150.5L137.8 150.5M137.9 150.5L138.5 149.9M139.1 149.2L138.5 149.9M139.8 148.6L139.1 149.2M140.4 147.9L139.8 148.6M141.0 147.3L140.4 147.9M141.1 147.1L141.0 147.3M141.1 147.1L141.6 146.6M142.2 145.9L141.6 146.6M142.8 145.3L142.2 145.9M143.4 144.6L142.8 145.3M143.6 144.3L143.4 144.6M143.6 144.3L144.0 143.9M144.6 143.2L144.0 143.9M145.1 142.5L144.6 143.2M145.6 141.9L145.1 142.5M145.6 141.9L145.7 141.9M146.2 141.2L145.7 141.9M146.8 140.5L146.2 141.2M147.3 139.8L146.8 140.5M147.3 139.7L147.3 139.8M147.3 139.7L147.8 139.0M148.3 138.3L147.8 139.0M148.8 137.7L148.3 138.3M148.8 137.7L148.8 137.6M149.3 136.9L148.8 137.6M149.8 136.2L149.3 136.9M150.0 135.8L149.8 136.2M150.0 135.8L150.2 135.4M150.7 134.7L150.2 135.4M151.1 134.1L150.7 134.7M151.1 134.1L151.1 134.0M151.6 133.2L151.1 134.0M152.0 132.5L151.6 133.2M152.0 132.5L152.0 132.5M152.0 132.5L152.4 131.7M152.8 131.0L152.4 131.7M152.8 130.9L152.8 131.0M152.8 130.9L153.2 130.2" stroke="#6fe04a" stroke-width="0.5" fill="none" stroke-linecap="round"/>
<path d="M115.8 169.6L163.0 135.6M115.8 169.6L68.5 135.6" stroke="#333" stroke-width="0.4" fill="none"/>
<g fill="currentColor" stroke="currentColor" stroke-width="0.8" stroke-linejoin="round">
<path color="#008f89" d="M115.4 66.8l2.4-1.9l-2-2.6l-2.4 1.9z"/>
<path color="#008395" d="M117.3 69.2l2.5-1.9l-2-2.4l-2.4 1.9z"/>
<path color="#00898f" d="M112.9 68.7l2.5-1.9l-2-2.6l-2.5 1.8z"/>
<path color="#02759c" d="M119.3 71.4l2.4-2l-1.9-2.1l-2.5 1.9z"/>
<path color="#007c9b" d="M114.9 71.1l2.4-1.9l-1.9-2.4l-2.5 1.9z"/>
<path color="#008494" d="M110.5 70.4l2.4-1.7l-2-2.7l-2.4 1.7z"/>
<path color="#05689e" d="M121.2 73.4l2.4-2.1l-1.9-1.9l-2.4 2z"/>
<path color="#046c9e" d="M116.8 73.4l2.5-2l-2-2.2l-2.4 1.9z"/>
<path color="#02749c" d="M112.5 72.9l2.4-1.8l-2-2.4l-2.4 1.7z"/>
<path color="#007f99" d="M108.1 72.1l2.4-1.7l-2-2.7l-2.4 1.6z"/>
<path color="#095ca0" d="M123.1 75.2l2.4-2.1l-1.9-1.8l-2.4 2.1z"/>
<path color="#085ea0" d="M118.8 75.4l2.4-2l-1.9-2l-2.5 2z"/>
<path color="#07639f" d="M114.4 75.2l2.4-1.8l-1.9-2.3l-2.4 1.8z"/>
<path color="#046d9e" d="M110 74.6l2.5-1.7l-2-2.5l-2.4 1.7z"/>
<path color="#0b529d" d="M124.9 76.8l2.5-2.2l-1.9-1.5l-2.4 2.1z"/>
<path color="#017b9b" d="M105.6 73.6l2.5-1.5l-2-2.8l-2.5 1.5z"/>
<path color="#0c519d" d="M120.6 77.2l2.5-2l-1.9-1.8l-2.4 2z"/>
<path color="#0b549e" d="M116.3 77.3l2.5-1.9l-2-2l-2.4 1.8z"/>
<path color="#095c9f" d="M112 77l2.4-1.8l-1.9-2.3l-2.5 1.7z"/>
<path color="#0e4b9b" d="M126.8 78.1l2.4-2.2l-1.8-1.3l-2.5 2.2z"/>
<path color="#06679f" d="M107.6 76.2l2.4-1.6l-1.9-2.5l-2.5 1.5z"/>
<path color="#0f479b" d="M122.5 78.8l2.4-2l-1.8-1.6l-2.5 2z"/>
<path color="#02769c" d="M103.2 75.1l2.4-1.5l-2-2.8l-2.4 1.4z"/>
<path color="#0f479b" d="M118.2 79.2l2.4-2l-1.8-1.8l-2.5 1.9z"/>
<path color="#0d4c9c" d="M113.9 79.1l2.4-1.8l-1.9-2.1l-2.4 1.8z"/>
<path color="#0f469a" d="M128.6 79.3l2.4-2.2l-1.8-1.2l-2.4 2.2z"/>
<path color="#0b559e" d="M109.6 78.6l2.4-1.6l-2-2.4l-2.4 1.6z"/>
<path color="#113f99" d="M124.3 80.3l2.5-2.2l-1.9-1.3l-2.4 2z"/>
<path color="#07629f" d="M105.2 77.8l2.4-1.6l-2-2.6l-2.4 1.5z"/>
<path color="#123c98" d="M120.1 80.8l2.4-2l-1.9-1.6l-2.4 2z"/>
<path color="#03739d" d="M100.8 76.5l2.4-1.4l-2-2.9l-2.5 1.3z"/>
<path color="#113e99" d="M115.8 81l2.4-1.8l-1.9-1.9l-2.4 1.8z"/>
<path color="#10439a" d="M130.4 80.3l2.4-2.3l-1.8-0.9l-2.4 2.2z"/>
<path color="#10449a" d="M111.5 80.8l2.4-1.7l-1.9-2.1l-2.4 1.6z"/>
<path color="#123a96" d="M126.2 81.5l2.4-2.2l-1.8-1.2l-2.5 2.2z"/>
<path color="#0c4f9c" d="M107.1 80.2l2.5-1.6l-2-2.4l-2.4 1.6z"/>
<path color="#123693" d="M121.9 82.3l2.4-2l-1.8-1.5l-2.4 2z"/>
<path color="#085ea0" d="M102.7 79.2l2.5-1.4l-2-2.7l-2.4 1.4z"/>
<path color="#104299" d="M132.1 81.1l2.5-2.3l-1.8-0.8l-2.4 2.3z"/>
<path color="#123592" d="M117.7 82.7l2.4-1.9l-1.9-1.6l-2.4 1.8z"/>
<path color="#03709d" d="M98.3 77.7l2.5-1.2l-2.1-3l-2.4 1.2z"/>
<path color="#123895" d="M113.4 82.8l2.4-1.8l-1.9-1.9l-2.4 1.7z"/>
<path color="#123794" d="M127.9 82.5l2.5-2.2l-1.8-1l-2.4 2.2z"/>
<path color="#113e99" d="M109 82.4l2.5-1.6l-1.9-2.2l-2.5 1.6z"/>
<path color="#13318f" d="M123.7 83.6l2.5-2.1l-1.9-1.2l-2.4 2z"/>
<path color="#0e4b9b" d="M104.7 81.7l2.4-1.5l-1.9-2.4l-2.5 1.4z"/>
<path color="#10439a" d="M133.9 81.7l2.4-2.3l-1.7-0.6l-2.5 2.3z"/>
<path color="#132e8d" d="M119.5 84.2l2.4-1.9l-1.8-1.5l-2.4 1.9z"/>
<path color="#095b9f" d="M100.3 80.5l2.4-1.3l-1.9-2.7l-2.5 1.2z"/>
<path color="#123693" d="M129.7 83.4l2.4-2.3l-1.7-0.8l-2.5 2.2z"/>
<path color="#132f8d" d="M115.2 84.5l2.5-1.8l-1.9-1.7l-2.4 1.8z"/>
<path color="#046f9d" d="M95.9 78.9l2.4-1.2l-2-3l-2.4 1.2z"/>
<path color="#133391" d="M110.9 84.4l2.5-1.6l-1.9-2l-2.5 1.6z"/>
<path color="#132e8d" d="M125.5 84.6l2.4-2.1l-1.7-1l-2.5 2.1z"/>
<path color="#0f469a" d="M135.6 82.2l2.4-2.4l-1.7-0.4l-2.4 2.3z"/>
<path color="#123a97" d="M106.6 83.9l2.4-1.5l-1.9-2.2l-2.4 1.5z"/>
<path color="#132989" d="M121.3 85.5l2.4-1.9l-1.8-1.3l-2.4 1.9z"/>
<path color="#0f479b" d="M102.3 83l2.4-1.3l-2-2.5l-2.4 1.3z"/>
<path color="#123794" d="M131.4 84l2.5-2.3l-1.8-0.6l-2.4 2.3z"/>
<path color="#132888" d="M117.1 86.1l2.4-1.9l-1.8-1.5l-2.5 1.8z"/>
<path color="#095a9f" d="M97.9 81.7l2.4-1.2l-2-2.8l-2.4 1.2z"/>
<path color="#132d8c" d="M127.3 85.5l2.4-2.1l-1.8-0.9l-2.4 2.1z"/>
<path color="#132989" d="M112.8 86.2l2.4-1.7l-1.8-1.7l-2.5 1.6z"/>
<path color="#046f9d" d="M93.5 80l2.4-1.1l-2-3l-2.5 1z"/>
<path color="#0e4b9b" d="M137.2 82.5l2.5-2.4l-1.7-0.3l-2.4 2.4z"/>
<path color="#132f8d" d="M108.5 86l2.4-1.6l-1.9-2l-2.4 1.5z"/>
<path color="#132687" d="M123.1 86.7l2.4-2.1l-1.8-1l-2.4 1.9z"/>
<path color="#123996" d="M133.1 84.5l2.5-2.3l-1.7-0.5l-2.5 2.3z"/>
<path color="#123794" d="M104.2 85.4l2.4-1.5l-1.9-2.2l-2.4 1.3z"/>
<path color="#142384" d="M118.9 87.4l2.4-1.9l-1.8-1.3l-2.4 1.9z"/>
<path color="#0f459a" d="M99.8 84.3l2.5-1.3l-2-2.5l-2.4 1.2z"/>
<path color="#132d8c" d="M129 86.2l2.4-2.2l-1.7-0.6l-2.4 2.1z"/>
<path color="#142283" d="M114.6 87.8l2.5-1.7l-1.9-1.6l-2.4 1.7z"/>
<path color="#0c519d" d="M138.9 82.7l2.4-2.5l-1.6-0.1l-2.5 2.4z"/>
<path color="#09599f" d="M95.5 82.8l2.4-1.1l-2-2.8l-2.4 1.1z"/>
<path color="#142585" d="M124.8 87.6l2.5-2.1l-1.8-0.9l-2.4 2.1z"/>
<path color="#142586" d="M110.4 87.8l2.4-1.6l-1.9-1.8l-2.4 1.6z"/>
<path color="#03709d" d="M91 80.9l2.5-0.9l-2.1-3.1l-2.4 0.9z"/>
<path color="#123d98" d="M134.8 84.9l2.4-2.4l-1.6-0.3l-2.5 2.3z"/>
<path color="#132c8b" d="M106.1 87.5l2.4-1.5l-1.9-2.1l-2.4 1.5z"/>
<path color="#141f81" d="M120.6 88.6l2.5-1.9l-1.8-1.2l-2.4 1.9z"/>
<path color="#132f8e" d="M130.7 86.8l2.4-2.3l-1.7-0.5l-2.4 2.2z"/>
<path color="#095699" d="M140.5 82.6l2.4-2.5l-1.6 0.1l-2.4 2.5z"/>
<path color="#123593" d="M101.8 86.7l2.4-1.3l-1.9-2.4l-2.5 1.3z"/>
<path color="#141e7f" d="M116.4 89.2l2.5-1.8l-1.8-1.3l-2.5 1.7z"/>
<path color="#0f459a" d="M97.4 85.5l2.4-1.2l-1.9-2.6l-2.4 1.1z"/>
<path color="#142586" d="M126.5 88.3l2.5-2.1l-1.7-0.7l-2.5 2.1z"/>
<path color="#141e80" d="M112.2 89.5l2.4-1.7l-1.8-1.6l-2.4 1.6z"/>
<path color="#10439a" d="M136.4 85l2.5-2.3l-1.7-0.2l-2.4 2.4z"/>
<path color="#095a9f" d="M93 83.9l2.5-1.1l-2-2.8l-2.5 0.9z"/>
<path color="#141e80" d="M122.4 89.6l2.4-2l-1.7-0.9l-2.5 1.9z"/>
<path color="#142283" d="M108 89.4l2.4-1.6l-1.9-1.8l-2.4 1.5z"/>
<path color="#03729d" d="M88.6 81.8l2.4-0.9l-2-3.1l-2.4 0.8z"/>
<path color="#06568a" d="M142.1 82.5l2.4-2.5l-1.6 0.1l-2.4 2.5z"/>
<path color="#133391" d="M132.3 87.1l2.5-2.2l-1.7-0.4l-2.4 2.3z"/>
<path color="#132989" d="M103.7 88.8l2.4-1.3l-1.9-2.1l-2.4 1.3z"/>
<path color="#141c7e" d="M118.2 90.4l2.4-1.8l-1.7-1.2l-2.5 1.8z"/>
<path color="#132787" d="M128.2 88.9l2.5-2.1l-1.7-0.6l-2.5 2.1z"/>
<path color="#0d4691" d="M138 85.1l2.5-2.5l-1.6 0.1l-2.5 2.3z"/>
<path color="#123592" d="M99.3 87.9l2.5-1.2l-2-2.4l-2.4 1.2z"/>
<path color="#141c7e" d="M114 90.9l2.4-1.7l-1.8-1.4l-2.4 1.7z"/>
<path color="#0f459a" d="M95 86.5l2.4-1l-1.9-2.7l-2.5 1.1z"/>
<path color="#141e80" d="M124.1 90.3l2.4-2l-1.7-0.7l-2.4 2z"/>
<path color="#03557b" d="M143.6 82.2l2.5-2.6l-1.6 0.4l-2.4 2.5z"/>
<path color="#141d7e" d="M109.8 91l2.4-1.5l-1.8-1.7l-2.4 1.6z"/>
<path color="#123895" d="M134 87.4l2.4-2.4l-1.6-0.1l-2.5 2.2z"/>
<path color="#095ca0" d="M90.6 84.8l2.4-0.9l-2-3l-2.4 0.9z"/>
<path color="#141c7d" d="M120 91.4l2.4-1.8l-1.8-1l-2.4 1.8z"/>
<path color="#141f81" d="M105.5 90.8l2.5-1.4l-1.9-1.9l-2.4 1.3z"/>
<path color="#02759c" d="M86.2 82.6l2.4-0.8l-2-3.2l-2.5 0.7z"/>
<path color="#094785" d="M139.6 85l2.5-2.5l-1.6 0.1l-2.5 2.5z"/>
<path color="#132a8a" d="M129.9 89.3l2.4-2.2l-1.6-0.3l-2.5 2.1z"/>
<path color="#132888" d="M101.2 90.1l2.5-1.3l-1.9-2.1l-2.5 1.2z"/>
<path color="#141b7c" d="M115.8 92.2l2.4-1.8l-1.8-1.2l-2.4 1.7z"/>
<path color="#01546d" d="M145.2 81.8l2.4-2.6l-1.5 0.4l-2.5 2.6z"/>
<path color="#141f81" d="M125.8 91l2.4-2.1l-1.7-0.6l-2.4 2z"/>
<path color="#10398a" d="M135.6 87.4l2.4-2.3l-1.6-0.1l-2.4 2.4z"/>
<path color="#123592" d="M96.9 89l2.4-1.1l-1.9-2.4l-2.4 1z"/>
<path color="#141b7c" d="M111.6 92.5l2.4-1.6l-1.8-1.4l-2.4 1.5z"/>
<path color="#0f479b" d="M92.6 87.5l2.4-1l-2-2.6l-2.4 0.9z"/>
<path color="#141c7d" d="M121.7 92.3l2.4-2l-1.7-0.7l-2.4 1.8z"/>
<path color="#064878" d="M141.2 84.7l2.4-2.5l-1.5 0.3l-2.5 2.5z"/>
<path color="#141c7d" d="M107.4 92.5l2.4-1.5l-1.8-1.6l-2.5 1.4z"/>
<path color="#122d8a" d="M131.5 89.6l2.5-2.2l-1.7-0.3l-2.4 2.2z"/>
<path color="#085fa0" d="M88.2 85.6l2.4-0.8l-2-3l-2.4 0.8z"/>
<path color="#00505d" d="M146.6 81.3l2.5-2.6l-1.5 0.5l-2.4 2.6z"/>
<path color="#141a7b" d="M117.5 93.2l2.5-1.8l-1.8-1l-2.4 1.8z"/>
<path color="#141e80" d="M103.1 92.1l2.4-1.3l-1.8-2l-2.5 1.3z"/>
<path color="#017a9c" d="M83.7 83.2l2.5-0.6l-2.1-3.3l-2.4 0.6z"/>
<path color="#0c3a7e" d="M137.2 87.3l2.4-2.3l-1.6 0.1l-2.4 2.3z"/>
<path color="#142283" d="M127.5 91.4l2.4-2.1l-1.7-0.4l-2.4 2.1z"/>
<path color="#132888" d="M98.8 91.3l2.4-1.2l-1.9-2.2l-2.4 1.1z"/>
<path color="#14197a" d="M113.4 93.8l2.4-1.6l-1.8-1.3l-2.4 1.6z"/>
<path color="#03476a" d="M142.7 84.3l2.5-2.5l-1.6 0.4l-2.4 2.5z"/>
<path color="#141c7e" d="M123.4 92.9l2.4-1.9l-1.7-0.7l-2.4 2z"/>
<path color="#102e80" d="M133.2 89.7l2.4-2.3l-1.6 0l-2.5 2.2z"/>
<path color="#123693" d="M94.5 90l2.4-1l-1.9-2.5l-2.4 1z"/>
<path color="#141a7b" d="M109.2 94l2.4-1.5l-1.8-1.5l-2.4 1.5z"/>
<path color="#004b4d" d="M148.1 80.7l2.5-2.7l-1.5 0.7l-2.5 2.6z"/>
<path color="#0e4a9b" d="M90.1 88.4l2.5-0.9l-2-2.7l-2.4 0.8z"/>
<path color="#141a7b" d="M119.3 94.1l2.4-1.8l-1.7-0.9l-2.5 1.8z"/>
<path color="#083b72" d="M138.7 87.1l2.5-2.4l-1.6 0.3l-2.4 2.3z"/>
<path color="#141b7d" d="M105 93.8l2.4-1.3l-1.9-1.7l-2.4 1.3z"/>
<path color="#12247f" d="M129.1 91.7l2.4-2.1l-1.6-0.3l-2.4 2.1z"/>
<path color="#07639f" d="M85.7 86.3l2.5-0.7l-2-3l-2.5 0.6z"/>
<path color="#01465c" d="M144.2 83.9l2.4-2.6l-1.4 0.5l-2.5 2.5z"/>
<path color="#141979" d="M115.1 94.9l2.4-1.7l-1.7-1l-2.4 1.6z"/>
<path color="#141e80" d="M100.7 93.3l2.4-1.2l-1.9-2l-2.4 1.2z"/>
<path color="#007e9a" d="M81.3 83.8l2.4-0.6l-2-3.3l-2.5 0.5z"/>
<path color="#0e2f77" d="M134.7 89.6l2.5-2.3l-1.6 0.1l-2.4 2.3z"/>
<path color="#141d7f" d="M125 93.4l2.5-2l-1.7-0.4l-2.4 1.9z"/>
<path color="#00463f" d="M149.5 79.9l2.5-2.6l-1.4 0.7l-2.5 2.7z"/>
<path color="#132989" d="M96.4 92.3l2.4-1l-1.9-2.3l-2.4 1z"/>
<path color="#141879" d="M111 95.3l2.4-1.5l-1.8-1.3l-2.4 1.5z"/>
<path color="#053c66" d="M140.2 86.8l2.5-2.5l-1.5 0.4l-2.5 2.4z"/>
<path color="#141a7b" d="M121 94.8l2.4-1.9l-1.7-0.6l-2.4 1.8z"/>
<path color="#102576" d="M130.7 91.8l2.5-2.1l-1.7-0.1l-2.4 2.1z"/>
<path color="#123895" d="M92.1 90.9l2.4-0.9l-1.9-2.5l-2.5 0.9z"/>
<path color="#14197a" d="M106.8 95.4l2.4-1.4l-1.8-1.5l-2.4 1.3z"/>
<path color="#00434e" d="M145.6 83.2l2.5-2.5l-1.5 0.6l-2.4 2.6z"/>
<path color="#0d4e9c" d="M87.7 89.1l2.4-0.7l-1.9-2.8l-2.5 0.7z"/>
<path color="#003f32" d="M150.9 79.1l2.5-2.7l-1.4 0.9l-2.5 2.6z"/>
<path color="#141879" d="M116.8 95.8l2.5-1.7l-1.8-0.9l-2.4 1.7z"/>
<path color="#0b306b" d="M136.3 89.4l2.4-2.3l-1.5 0.2l-2.5 2.3z"/>
<path color="#141b7c" d="M102.5 95.1l2.5-1.3l-1.9-1.7l-2.4 1.2z"/>
<path color="#121c75" d="M126.7 93.7l2.4-2l-1.6-0.3l-2.5 2z"/>
<path color="#05689e" d="M83.3 86.9l2.4-0.6l-2-3.1l-2.4 0.6z"/>
<path color="#033b59" d="M141.7 86.3l2.5-2.4l-1.5 0.4l-2.5 2.5z"/>
<path color="#141878" d="M112.7 96.5l2.4-1.6l-1.7-1.1l-2.4 1.5z"/>
<path color="#141e80" d="M98.3 94.4l2.4-1.1l-1.9-2l-2.4 1z"/>
<path color="#008395" d="M78.8 84.2l2.5-0.4l-2.1-3.4l-2.4 0.4z"/>
<path color="#0e266d" d="M132.3 91.8l2.4-2.2l-1.5 0.1l-2.5 2.1z"/>
<path color="#131a79" d="M122.6 95.3l2.4-1.9l-1.6-0.5l-2.4 1.9z"/>
<path color="#003e40" d="M147.1 82.6l2.4-2.7l-1.4 0.8l-2.5 2.5z"/>
<path color="#132b8a" d="M94 93.3l2.4-1l-1.9-2.3l-2.4 0.9z"/>
<path color="#003727" d="M152.3 78.2l2.4-2.7l-1.3 0.9l-2.5 2.7z"/>
<path color="#141878" d="M108.5 96.8l2.5-1.5l-1.8-1.3l-2.4 1.4z"/>
<path color="#073260" d="M137.8 89.1l2.4-2.3l-1.5 0.3l-2.4 2.3z"/>
<path color="#141979" d="M118.5 96.5l2.5-1.7l-1.7-0.7l-2.5 1.7z"/>
<path color="#101e6c" d="M128.3 93.9l2.4-2.1l-1.6-0.1l-2.4 2z"/>
<path color="#123b97" d="M89.6 91.7l2.5-0.8l-2-2.5l-2.4 0.7z"/>
<path color="#14197a" d="M104.3 96.7l2.5-1.3l-1.8-1.6l-2.5 1.3z"/>
<path color="#013a4c" d="M143.2 85.7l2.4-2.5l-1.4 0.7l-2.5 2.4z"/>
<path color="#0b539d" d="M85.3 89.8l2.4-0.7l-2-2.8l-2.4 0.6z"/>
<path color="#003833" d="M148.4 81.8l2.5-2.7l-1.4 0.8l-2.4 2.7z"/>
<path color="#141778" d="M114.4 97.4l2.4-1.6l-1.7-0.9l-2.4 1.6z"/>
<path color="#0c2764" d="M133.8 91.6l2.5-2.2l-1.6 0.2l-2.4 2.2z"/>
<path color="#012f1e" d="M153.6 77.3l2.4-2.8l-1.3 1l-2.4 2.7z"/>
<path color="#141b7c" d="M100.1 96.2l2.4-1.1l-1.8-1.8l-2.4 1.1z"/>
<path color="#12196e" d="M124.3 95.6l2.4-1.9l-1.7-0.3l-2.4 1.9z"/>
<path color="#046f9d" d="M80.8 87.4l2.5-0.5l-2-3.1l-2.5 0.4z"/>
<path color="#043255" d="M139.3 88.7l2.4-2.4l-1.5 0.5l-2.4 2.3z"/>
<path color="#141777" d="M110.3 97.9l2.4-1.4l-1.7-1.2l-2.5 1.5z"/>
<path color="#142081" d="M95.8 95.4l2.5-1l-1.9-2.1l-2.4 1z"/>
<path color="#008890" d="M76.4 84.5l2.4-0.3l-2-3.4l-2.5 0.3z"/>
<path color="#0e1f64" d="M129.9 93.9l2.4-2.1l-1.6 0l-2.4 2.1z"/>
<path color="#131873" d="M120.2 97.1l2.4-1.8l-1.6-0.5l-2.5 1.7z"/>
<path color="#00363f" d="M144.6 85.1l2.5-2.5l-1.5 0.6l-2.4 2.5z"/>
<path color="#132d8c" d="M91.5 94.1l2.5-0.8l-1.9-2.4l-2.5 0.8z"/>
<path color="#003127" d="M149.8 80.9l2.5-2.7l-1.4 0.9l-2.5 2.7z"/>
<path color="#141778" d="M106.1 98.1l2.4-1.3l-1.7-1.4l-2.5 1.3z"/>
<path color="#022717" d="M154.8 76.3l2.5-2.8l-1.3 1l-2.4 2.8z"/>
<path color="#092859" d="M135.3 91.4l2.5-2.3l-1.5 0.3l-2.5 2.2z"/>
<path color="#141777" d="M116.1 98.2l2.4-1.7l-1.7-0.7l-2.4 1.6z"/>
<path color="#101764" d="M125.9 95.8l2.4-1.9l-1.6-0.2l-2.4 1.9z"/>
<path color="#113f99" d="M87.2 92.4l2.4-0.7l-1.9-2.6l-2.4 0.7z"/>
<path color="#14197a" d="M101.9 97.9l2.4-1.2l-1.8-1.6l-2.4 1.1z"/>
<path color="#023048" d="M140.7 88.1l2.5-2.4l-1.5 0.6l-2.4 2.4z"/>
<path color="#095a9f" d="M82.8 90.3l2.5-0.5l-2-2.9l-2.5 0.5z"/>
<path color="#003132" d="M146 84.3l2.4-2.5l-1.3 0.8l-2.5 2.5z"/>
<path color="#141676" d="M112 98.9l2.4-1.5l-1.7-0.9l-2.4 1.4z"/>
<path color="#0c205b" d="M131.4 93.8l2.4-2.2l-1.5 0.2l-2.4 2.1z"/>
<path color="#022011" d="M156 75.2l2.5-2.7l-1.2 1l-2.5 2.8z"/>
<path color="#002a1d" d="M151.1 80l2.5-2.7l-1.3 0.9l-2.5 2.7z"/>
<path color="#141c7d" d="M97.7 97.3l2.4-1.1l-1.8-1.8l-2.5 1z"/>
<path color="#111668" d="M121.8 97.5l2.5-1.9l-1.7-0.3l-2.4 1.8z"/>
<path color="#02769c" d="M78.4 87.7l2.4-0.3l-2-3.2l-2.4 0.3z"/>
<path color="#06294e" d="M136.8 91l2.5-2.3l-1.5 0.4l-2.5 2.3z"/>
<path color="#141676" d="M107.9 99.3l2.4-1.4l-1.8-1.1l-2.4 1.3z"/>
<path color="#142283" d="M93.4 96.3l2.4-0.9l-1.8-2.1l-2.5 0.8z"/>
<path color="#008d8b" d="M73.9 84.7l2.5-0.2l-2.1-3.4l-2.5 0.1z"/>
<path color="#0d195b" d="M127.4 95.9l2.5-2l-1.6 0l-2.4 1.9z"/>
<path color="#12166c" d="M117.8 98.8l2.4-1.7l-1.7-0.6l-2.4 1.7z"/>
<path color="#002e3c" d="M142.1 87.5l2.5-2.4l-1.4 0.6l-2.5 2.4z"/>
<path color="#02190c" d="M157.2 74.2l2.5-2.8l-1.2 1.1l-2.5 2.7z"/>
<path color="#13318f" d="M89.1 94.8l2.4-0.7l-1.9-2.4l-2.4 0.7z"/>
<path color="#002b26" d="M147.3 83.5l2.5-2.6l-1.4 0.9l-2.4 2.5z"/>
<path color="#141778" d="M103.7 99.3l2.4-1.2l-1.8-1.4l-2.4 1.2z"/>
<path color="#012216" d="M152.3 79l2.5-2.7l-1.2 1l-2.5 2.7z"/>
<path color="#0a2152" d="M132.9 93.5l2.4-2.1l-1.5 0.2l-2.4 2.2z"/>
<path color="#131571" d="M113.7 99.7l2.4-1.5l-1.7-0.8l-2.4 1.5z"/>
<path color="#0f155d" d="M123.4 97.7l2.5-1.9l-1.6-0.2l-2.5 1.9z"/>
<path color="#0f469a" d="M84.8 93l2.4-0.6l-1.9-2.6l-2.5 0.5z"/>
<path color="#14197a" d="M99.5 99l2.4-1.1l-1.8-1.7l-2.4 1.1z"/>
<path color="#032843" d="M138.3 90.4l2.4-2.3l-1.4 0.6l-2.5 2.3z"/>
<path color="#011208" d="M158.2 73.1l2.6-2.8l-1.1 1.1l-2.5 2.8z"/>
<path color="#0761a0" d="M80.4 90.7l2.4-0.4l-2-2.9l-2.4 0.3z"/>
<path color="#002a30" d="M143.5 86.7l2.5-2.4l-1.4 0.8l-2.5 2.4z"/>
<path color="#141675" d="M109.6 100.3l2.4-1.4l-1.7-1l-2.4 1.4z"/>
<path color="#0b1a53" d="M129 95.8l2.4-2l-1.5 0.1l-2.5 2z"/>
<path color="#011a0f" d="M153.5 78l2.5-2.8l-1.2 1.1l-2.5 2.7z"/>
<path color="#00241c" d="M148.6 82.5l2.5-2.5l-1.3 0.9l-2.5 2.6z"/>
<path color="#141c7e" d="M95.3 98.2l2.4-0.9l-1.9-1.9l-2.4 0.9z"/>
<path color="#101462" d="M119.4 99.2l2.4-1.7l-1.6-0.4l-2.4 1.7z"/>
<path color="#007e9a" d="M75.9 88l2.5-0.3l-2-3.2l-2.5 0.2z"/>
<path color="#072148" d="M134.4 93.1l2.4-2.1l-1.5 0.4l-2.4 2.1z"/>
<path color="#141676" d="M105.5 100.6l2.4-1.3l-1.8-1.2l-2.4 1.2z"/>
<path color="#132686" d="M91 97l2.4-0.7l-1.9-2.2l-2.4 0.7z"/>
<path color="#009384" d="M71.4 84.8l2.5-0.1l-2.1-3.5l-2.4 0.1z"/>
<path color="#010c05" d="M159.3 72l2.5-2.8l-1 1.1l-2.6 2.8z"/>
<path color="#0d1453" d="M125 97.8l2.4-1.9l-1.5-0.1l-2.5 1.9z"/>
<path color="#111466" d="M115.4 100.4l2.4-1.6l-1.7-0.6l-2.4 1.5z"/>
<path color="#012637" d="M139.7 89.8l2.4-2.3l-1.4 0.6l-2.4 2.3z"/>
<path color="#01130a" d="M154.7 76.9l2.5-2.7l-1.2 1l-2.5 2.8z"/>
<path color="#123693" d="M86.7 95.5l2.4-0.7l-1.9-2.4l-2.4 0.6z"/>
<path color="#002424" d="M144.8 85.9l2.5-2.4l-1.3 0.8l-2.5 2.4z"/>
<path color="#141878" d="M101.3 100.5l2.4-1.2l-1.8-1.4l-2.4 1.1z"/>
<path color="#001d14" d="M149.8 81.6l2.5-2.6l-1.2 1l-2.5 2.5z"/>
<path color="#091b4a" d="M130.5 95.6l2.4-2.1l-1.5 0.3l-2.4 2z"/>
<path color="#12146b" d="M111.3 101.2l2.4-1.5l-1.7-0.8l-2.4 1.4z"/>
<path color="#0e1357" d="M121 99.5l2.4-1.8l-1.6-0.2l-2.4 1.7z"/>
<path color="#010602" d="M160.2 71l2.5-2.9l-0.9 1.1l-2.5 2.8z"/>
<path color="#0d4d9c" d="M82.3 93.5l2.5-0.5l-2-2.7l-2.4 0.4z"/>
<path color="#141a7b" d="M97.1 99.9l2.4-0.9l-1.8-1.7l-2.4 0.9z"/>
<path color="#04213d" d="M135.8 92.6l2.5-2.2l-1.5 0.6l-2.4 2.1z"/>
<path color="#010c06" d="M155.7 75.8l2.5-2.7l-1 1.1l-2.5 2.7z"/>
<path color="#05699e" d="M77.9 91l2.5-0.3l-2-3l-2.5 0.3z"/>
<path color="#00232c" d="M141 89.1l2.5-2.4l-1.4 0.8l-2.4 2.3z"/>
<path color="#131570" d="M107.2 101.7l2.4-1.4l-1.7-1l-2.4 1.3z"/>
<path color="#0b154b" d="M126.5 97.7l2.5-1.9l-1.6 0.1l-2.4 1.9z"/>
<path color="#01150d" d="M151 80.6l2.5-2.6l-1.2 1l-2.5 2.6z"/>
<path color="#001e1a" d="M146.1 85l2.5-2.5l-1.3 1l-2.5 2.4z"/>
<path color="#141d7f" d="M92.8 99l2.5-0.8l-1.9-1.9l-2.4 0.7z"/>
<path color="#0f125c" d="M117 100.8l2.4-1.6l-1.6-0.4l-2.4 1.6z"/>
<path color="#020702" d="M161.1 70l2.5-2.8l-0.9 0.9l-2.5 2.9z"/>
<path color="#008494" d="M73.5 88.1l2.4-0.1l-2-3.3l-2.5 0.1z"/>
<path color="#071b41" d="M131.9 95.2l2.5-2.1l-1.5 0.4l-2.4 2.1z"/>
<path color="#141674" d="M103 101.8l2.5-1.2l-1.8-1.3l-2.4 1.2z"/>
<path color="#132a8a" d="M88.6 97.7l2.4-0.7l-1.9-2.2l-2.4 0.7z"/>
<path color="#00967c" d="M69 84.8l2.4 0l-2-3.5l-2.5-0.1z"/>
<path color="#010603" d="M156.8 74.8l2.5-2.8l-1.1 1.1l-2.5 2.7z"/>
<path color="#0c114d" d="M122.6 99.6l2.4-1.8l-1.6-0.1l-2.4 1.8z"/>
<path color="#101260" d="M112.9 101.9l2.5-1.5l-1.7-0.7l-2.4 1.5z"/>
<path color="#020702" d="M161.8 69.1l2.5-2.8l-0.7 0.9l-2.5 2.8z"/>
<path color="#021f32" d="M137.2 92l2.5-2.2l-1.4 0.6l-2.5 2.2z"/>
<path color="#010d08" d="M152.2 79.5l2.5-2.6l-1.2 1.1l-2.5 2.6z"/>
<path color="#123c98" d="M84.2 96l2.5-0.5l-1.9-2.5l-2.5 0.5z"/>
<path color="#001e21" d="M142.4 88.3l2.4-2.4l-1.3 0.8l-2.5 2.4z"/>
<path color="#141879" d="M98.9 101.5l2.4-1l-1.8-1.5l-2.4 0.9z"/>
<path color="#001711" d="M147.4 84.1l2.4-2.5l-1.2 0.9l-2.5 2.5z"/>
<path color="#091642" d="M128 97.5l2.5-1.9l-1.5 0.2l-2.5 1.9z"/>
<path color="#020702" d="M162.4 68.4l2.6-2.9l-0.7 0.8l-2.5 2.8z"/>
<path color="#111365" d="M108.9 102.5l2.4-1.3l-1.7-0.9l-2.4 1.4z"/>
<path color="#0d1151" d="M118.6 101.1l2.4-1.6l-1.6-0.3l-2.4 1.6z"/>
<path color="#010603" d="M157.7 73.8l2.5-2.8l-0.9 1l-2.5 2.8z"/>
<path color="#0a569e" d="M79.9 93.8l2.4-0.3l-1.9-2.8l-2.5 0.3z"/>
<path color="#141b7c" d="M94.7 100.8l2.4-0.9l-1.8-1.7l-2.5 0.8z"/>
<path color="#020702" d="M162.8 67.9l2.5-2.9l-0.3 0.5l-2.6 2.9z"/>
<path color="#051b36" d="M133.4 94.7l2.4-2.1l-1.4 0.5l-2.5 2.1z"/>
<path color="#000603" d="M153.3 78.5l2.4-2.7l-1 1.1l-2.5 2.6z"/>
<path color="#03739d" d="M75.5 91.2l2.4-0.2l-2-3l-2.4 0.1z"/>
<path color="#011c27" d="M138.6 91.3l2.4-2.2l-1.3 0.7l-2.5 2.2z"/>
<path color="#12146a" d="M104.7 102.9l2.5-1.2l-1.7-1.1l-2.5 1.2z"/>
<path color="#0a1143" d="M124.1 99.5l2.4-1.8l-1.5 0.1l-2.4 1.8z"/>
<path color="#000f0a" d="M148.6 83.1l2.4-2.5l-1.2 1l-2.4 2.5z"/>
<path color="#001817" d="M143.7 87.4l2.4-2.4l-1.3 0.9l-2.4 2.4z"/>
<path color="#142082" d="M90.4 99.7l2.4-0.7l-1.8-2l-2.4 0.7z"/>
<path color="#0e1156" d="M114.6 102.3l2.4-1.5l-1.6-0.4l-2.5 1.5z"/>
<path color="#020702" d="M158.6 72.8l2.5-2.8l-0.9 1l-2.5 2.8z"/>
<path color="#008a8c" d="M71 88.2l2.5-0.1l-2.1-3.3l-2.4 0z"/>
<path color="#07163a" d="M129.5 97.2l2.4-2l-1.4 0.4l-2.5 1.9z"/>
<path color="#13156f" d="M100.6 102.8l2.4-1l-1.7-1.3l-2.4 1z"/>
<path color="#13308e" d="M86.1 98.3l2.5-0.6l-1.9-2.2l-2.5 0.5z"/>
<path color="#000603" d="M154.3 77.5l2.5-2.7l-1.1 1l-2.4 2.7z"/>
<path color="#0b1047" d="M120.1 101.3l2.5-1.7l-1.6-0.1l-2.4 1.6z"/>
<path color="#0f115a" d="M110.5 103.2l2.4-1.3l-1.6-0.7l-2.4 1.3z"/>
<path color="#020702" d="M159.3 71.9l2.5-2.8l-0.7 0.9l-2.5 2.8z"/>
<path color="#03192c" d="M134.8 94.2l2.4-2.2l-1.4 0.6l-2.4 2.1z"/>
<path color="#000704" d="M149.7 82.1l2.5-2.6l-1.2 1.1l-2.4 2.5z"/>
<path color="#104499" d="M81.8 96.4l2.4-0.4l-1.9-2.5l-2.4 0.3z"/>
<path color="#00171c" d="M139.9 90.6l2.5-2.3l-1.4 0.8l-2.4 2.2z"/>
<path color="#131874" d="M96.4 102.4l2.5-0.9l-1.8-1.6l-2.4 0.9z"/>
<path color="#00100e" d="M144.9 86.5l2.5-2.4l-1.3 0.9l-2.4 2.4z"/>
<path color="#08123b" d="M125.6 99.4l2.4-1.9l-1.5 0.2l-2.4 1.8z"/>
<path color="#020702" d="M159.9 71.2l2.5-2.8l-0.6 0.7l-2.5 2.8z"/>
<path color="#101260" d="M106.4 103.8l2.5-1.3l-1.7-0.8l-2.5 1.2z"/>
<path color="#0c0f4b" d="M116.2 102.7l2.4-1.6l-1.6-0.3l-2.4 1.5z"/>
<path color="#020702" d="M155.2 76.4l2.5-2.6l-0.9 1l-2.5 2.7z"/>
<path color="#075e9d" d="M77.4 94l2.5-0.2l-2-2.8l-2.4 0.2z"/>
<path color="#131b79" d="M92.2 101.6l2.5-0.8l-1.9-1.8l-2.4 0.7z"/>
<path color="#020702" d="M160.3 70.7l2.5-2.8l-0.4 0.5l-2.5 2.8z"/>
<path color="#051530" d="M130.9 96.8l2.5-2.1l-1.5 0.5l-2.4 2z"/>
<path color="#000604" d="M150.8 81.1l2.5-2.6l-1.1 1l-2.5 2.6z"/>
<path color="#007996" d="M73 91.3l2.5-0.1l-2-3.1l-2.5 0.1z"/>
<path color="#011621" d="M136.1 93.5l2.5-2.2l-1.4 0.7l-2.4 2.2z"/>
<path color="#111364" d="M102.3 103.9l2.4-1l-1.7-1.1l-2.4 1z"/>
<path color="#0a0e3d" d="M121.7 101.3l2.4-1.8l-1.5 0.1l-2.5 1.7z"/>
<path color="#000806" d="M146.1 85.5l2.5-2.4l-1.2 1l-2.5 2.4z"/>
<path color="#001112" d="M141.2 89.7l2.5-2.3l-1.3 0.9l-2.5 2.3z"/>
<path color="#132481" d="M88 100.3l2.4-0.6l-1.8-2l-2.5 0.6z"/>
<path color="#0d0f50" d="M112.1 103.8l2.5-1.5l-1.7-0.4l-2.4 1.3z"/>
<path color="#020702" d="M156.1 75.5l2.5-2.7l-0.9 1l-2.5 2.6z"/>
<path color="#061232" d="M127.1 99.1l2.4-1.9l-1.5 0.3l-2.4 1.9z"/>
<path color="#121569" d="M98.2 103.8l2.4-1l-1.7-1.3l-2.5 0.9z"/>
<path color="#12348d" d="M83.7 98.7l2.4-0.4l-1.9-2.3l-2.4 0.4z"/>
<path color="#000603" d="M151.8 80l2.5-2.5l-1 1l-2.5 2.6z"/>
<path color="#0a0e41" d="M117.7 102.9l2.4-1.6l-1.5-0.2l-2.4 1.6z"/>
<path color="#0e1055" d="M108.1 104.5l2.4-1.3l-1.6-0.7l-2.5 1.3z"/>
<path color="#020702" d="M156.8 74.6l2.5-2.7l-0.7 0.9l-2.5 2.7z"/>
<path color="#031325" d="M132.3 96.2l2.5-2l-1.4 0.5l-2.5 2.1z"/>
<path color="#000604" d="M147.2 84.5l2.5-2.4l-1.1 1l-2.5 2.4z"/>
<path color="#0c4994" d="M79.3 96.6l2.5-0.2l-1.9-2.6l-2.5 0.2z"/>
<path color="#001117" d="M137.5 92.8l2.4-2.2l-1.3 0.7l-2.5 2.2z"/>
<path color="#12176e" d="M94 103.2l2.4-0.8l-1.7-1.6l-2.5 0.8z"/>
<path color="#000a09" d="M142.4 88.8l2.5-2.3l-1.2 0.9l-2.5 2.3z"/>
<path color="#080e34" d="M123.2 101.1l2.4-1.7l-1.5 0.1l-2.4 1.8z"/>
<path color="#020702" d="M157.4 73.9l2.5-2.7l-0.6 0.7l-2.5 2.7z"/>
<path color="#0f115a" d="M104 104.9l2.4-1.1l-1.7-0.9l-2.4 1z"/>
<path color="#0b0e45" d="M113.7 104.1l2.5-1.4l-1.6-0.4l-2.5 1.5z"/>
<path color="#020702" d="M152.7 79l2.5-2.6l-0.9 1.1l-2.5 2.5z"/>
<path color="#056394" d="M75 94.2l2.4-0.2l-1.9-2.8l-2.5 0.1z"/>
<path color="#121b74" d="M89.8 102.2l2.4-0.6l-1.8-1.9l-2.4 0.6z"/>
<path color="#020702" d="M157.8 73.4l2.5-2.7l-0.4 0.5l-2.5 2.7z"/>
<path color="#051029" d="M128.5 98.7l2.4-1.9l-1.4 0.4l-2.4 1.9z"/>
<path color="#000604" d="M148.3 83.5l2.5-2.4l-1.1 1l-2.5 2.4z"/>
<path color="#01101b" d="M133.7 95.6l2.4-2.1l-1.3 0.7l-2.5 2z"/>
<path color="#10125f" d="M99.9 104.9l2.4-1l-1.7-1.1l-2.4 1z"/>
<path color="#090c37" d="M119.3 102.9l2.4-1.6l-1.6 0l-2.4 1.6z"/>
<path color="#000605" d="M143.6 87.9l2.5-2.4l-1.2 1l-2.5 2.3z"/>
<path color="#000b0d" d="M138.7 91.9l2.5-2.2l-1.3 0.9l-2.4 2.2z"/>
<path color="#11287e" d="M85.5 100.8l2.5-0.5l-1.9-2l-2.4 0.4z"/>
<path color="#0c0e4a" d="M109.7 105.1l2.4-1.3l-1.6-0.6l-2.4 1.3z"/>
<path color="#020702" d="M153.6 78.1l2.5-2.6l-0.9 0.9l-2.5 2.6z"/>
<path color="#060e2b" d="M124.6 100.9l2.5-1.8l-1.5 0.3l-2.4 1.7z"/>
<path color="#101464" d="M95.8 104.6l2.4-0.8l-1.8-1.4l-2.4 0.8z"/>
<path color="#10388a" d="M81.2 99l2.5-0.3l-1.9-2.3l-2.5 0.2z"/>
<path color="#020702" d="M149.3 82.5l2.5-2.5l-1 1.1l-2.5 2.4z"/>
<path color="#0a0c3b" d="M115.3 104.3l2.4-1.4l-1.5-0.2l-2.5 1.4z"/>
<path color="#0d0f4f" d="M105.7 105.7l2.4-1.2l-1.7-0.7l-2.4 1.1z"/>
<path color="#020702" d="M154.3 77.2l2.5-2.6l-0.7 0.9l-2.5 2.6z"/>
<path color="#030f1f" d="M129.9 98.1l2.4-1.9l-1.4 0.6l-2.4 1.9z"/>
<path color="#000604" d="M144.7 86.9l2.5-2.4l-1.1 1l-2.5 2.4z"/>
<path color="#094f8f" d="M76.9 96.8l2.4-0.2l-1.9-2.6l-2.4 0.2z"/>
<path color="#000b10" d="M135 94.8l2.5-2l-1.4 0.7l-2.4 2.1z"/>
<path color="#11176a" d="M91.6 103.8l2.4-0.6l-1.8-1.6l-2.4 0.6z"/>
<path color="#000606" d="M140 91l2.4-2.2l-1.2 0.9l-2.5 2.2z"/>
<path color="#070c2d" d="M120.8 102.8l2.4-1.7l-1.5 0.2l-2.4 1.6z"/>
<path color="#020702" d="M154.9 76.5l2.5-2.6l-0.6 0.7l-2.5 2.6z"/>
<path color="#0e1054" d="M101.6 105.9l2.4-1l-1.7-1l-2.4 1z"/>
<path color="#0b0d40" d="M111.3 105.5l2.4-1.4l-1.6-0.3l-2.4 1.3z"/>
<path color="#020702" d="M150.2 81.5l2.5-2.5l-0.9 1l-2.5 2.5z"/>
<path color="#111e71" d="M87.4 102.7l2.4-0.5l-1.8-1.9l-2.5 0.5z"/>
<path color="#020702" d="M155.3 76.1l2.5-2.7l-0.4 0.5l-2.5 2.6z"/>
<path color="#040d22" d="M126.1 100.5l2.4-1.8l-1.4 0.4l-2.5 1.8z"/>
<path color="#000604" d="M145.8 85.9l2.5-2.4l-1.1 1l-2.5 2.4z"/>
<path color="#010b14" d="M131.3 97.5l2.4-1.9l-1.4 0.6l-2.4 1.9z"/>
<path color="#0f125a" d="M97.5 105.8l2.4-0.9l-1.7-1.1l-2.4 0.8z"/>
<path color="#080b31" d="M116.8 104.4l2.5-1.5l-1.6 0l-2.4 1.4z"/>
<path color="#000605" d="M141.2 90.1l2.4-2.2l-1.2 0.9l-2.4 2.2z"/>
<path color="#000506" d="M136.3 94l2.4-2.1l-1.2 0.9l-2.5 2z"/>
<path color="#102c7c" d="M83.1 101.2l2.4-0.4l-1.8-2.1l-2.5 0.3z"/>
<path color="#0b0d44" d="M107.3 106.3l2.4-1.2l-1.6-0.6l-2.4 1.2z"/>
<path color="#020702" d="M151.1 80.6l2.5-2.5l-0.9 0.9l-2.5 2.5z"/>
<path color="#050b24" d="M122.2 102.5l2.4-1.6l-1.4 0.2l-2.4 1.7z"/>
<path color="#0f145f" d="M93.3 105.3l2.5-0.7l-1.8-1.4l-2.4 0.6z"/>
<path color="#0c3e85" d="M78.8 99.2l2.4-0.2l-1.9-2.4l-2.4 0.2z"/>
<path color="#020702" d="M146.8 84.9l2.5-2.4l-1 1l-2.5 2.4z"/>
<path color="#090b35" d="M112.9 105.7l2.4-1.4l-1.6-0.2l-2.4 1.4z"/>
<path color="#0c0e4a" d="M103.3 106.7l2.4-1l-1.7-0.8l-2.4 1z"/>
<path color="#020702" d="M151.8 79.7l2.5-2.5l-0.7 0.9l-2.5 2.5z"/>
<path color="#020a17" d="M127.5 100l2.4-1.9l-1.4 0.6l-2.4 1.8z"/>
<path color="#000605" d="M142.3 89.1l2.4-2.2l-1.1 1l-2.4 2.2z"/>
<path color="#000609" d="M132.6 96.8l2.4-2l-1.3 0.8l-2.4 1.9z"/>
<path color="#101765" d="M89.1 104.4l2.5-0.6l-1.8-1.6l-2.4 0.5z"/>
<path color="#000506" d="M137.5 93.2l2.5-2.2l-1.3 0.9l-2.4 2.1z"/>
<path color="#060a27" d="M118.3 104.3l2.5-1.5l-1.5 0.1l-2.5 1.5z"/>
<path color="#020702" d="M152.4 79l2.5-2.5l-0.6 0.7l-2.5 2.5z"/>
<path color="#0d104f" d="M99.2 106.8l2.4-0.9l-1.7-1l-2.4 0.9z"/>
<path color="#0a0c3a" d="M108.9 106.7l2.4-1.2l-1.6-0.4l-2.4 1.2z"/>
<path color="#020702" d="M147.7 83.9l2.5-2.4l-0.9 1l-2.5 2.4z"/>
<path color="#0f226e" d="M84.9 103.1l2.5-0.4l-1.9-1.9l-2.4 0.4z"/>
<path color="#020702" d="M152.8 78.6l2.5-2.5l-0.4 0.4l-2.5 2.5z"/>
<path color="#030a1b" d="M123.6 102.2l2.5-1.7l-1.5 0.4l-2.4 1.6z"/>
<path color="#020702" d="M143.3 88.2l2.5-2.3l-1.1 1l-2.4 2.2z"/>
<path color="#01070c" d="M128.8 99.4l2.5-1.9l-1.4 0.6l-2.4 1.9z"/>
<path color="#0e1154" d="M95.1 106.6l2.4-0.8l-1.7-1.2l-2.5 0.7z"/>
<path color="#07092b" d="M114.4 105.8l2.4-1.4l-1.5-0.1l-2.4 1.4z"/>
<path color="#000605" d="M138.7 92.3l2.5-2.2l-1.2 0.9l-2.5 2.2z"/>
<path color="#000506" d="M133.8 96l2.5-2l-1.3 0.8l-2.4 2z"/>
<path color="#0f307a" d="M80.6 101.4l2.5-0.2l-1.9-2.2l-2.4 0.2z"/>
<path color="#0a0c3f" d="M104.9 107.4l2.4-1.1l-1.6-0.6l-2.4 1z"/>
<path color="#020702" d="M148.6 83l2.5-2.4l-0.9 0.9l-2.5 2.4z"/>
<path color="#04091d" d="M119.8 104.1l2.4-1.6l-1.4 0.3l-2.5 1.5z"/>
<path color="#0e145a" d="M90.9 105.9l2.4-0.6l-1.7-1.5l-2.5 0.6z"/>
<path color="#020702" d="M144.3 87.2l2.5-2.3l-1 1l-2.5 2.3z"/>
<path color="#080a2f" d="M110.5 107l2.4-1.3l-1.6-0.2l-2.4 1.2z"/>
<path color="#0b0d44" d="M100.8 107.7l2.5-1l-1.7-0.8l-2.4 0.9z"/>
<path color="#020702" d="M149.3 82.2l2.5-2.5l-0.7 0.9l-2.5 2.4z"/>
<path color="#020710" d="M125 101.7l2.5-1.7l-1.4 0.5l-2.5 1.7z"/>
<path color="#000605" d="M139.8 91.3l2.5-2.2l-1.1 1l-2.5 2.2z"/>
<path color="#000406" d="M130.1 98.7l2.5-1.9l-1.3 0.7l-2.5 1.9z"/>
<path color="#0e1a61" d="M86.7 104.9l2.4-0.5l-1.7-1.7l-2.5 0.4z"/>
<path color="#000506" d="M135.1 95.2l2.4-2l-1.2 0.8l-2.5 2z"/>
<path color="#050820" d="M115.9 105.7l2.4-1.4l-1.5 0.1l-2.4 1.4z"/>
<path color="#020702" d="M149.9 81.5l2.5-2.5l-0.6 0.7l-2.5 2.5z"/>
<path color="#0c0f4a" d="M96.7 107.6l2.5-0.8l-1.7-1l-2.4 0.8z"/>
<path color="#090b34" d="M106.5 107.8l2.4-1.1l-1.6-0.4l-2.4 1.1z"/>
<path color="#020702" d="M145.3 86.2l2.4-2.3l-0.9 1l-2.5 2.3z"/>
<path color="#0e256c" d="M82.5 103.4l2.4-0.3l-1.8-1.9l-2.5 0.2z"/>
<path color="#020702" d="M150.3 81l2.5-2.4l-0.4 0.4l-2.5 2.5z"/>
<path color="#030713" d="M121.2 103.8l2.4-1.6l-1.4 0.3l-2.4 1.6z"/>
<path color="#020702" d="M140.9 90.3l2.4-2.1l-1 0.9l-2.5 2.2z"/>
<path color="#010306" d="M126.4 101.1l2.4-1.7l-1.3 0.6l-2.5 1.7z"/>
<path color="#0d114f" d="M92.6 107.2l2.5-0.6l-1.8-1.3l-2.4 0.6z"/>
<path color="#060825" d="M112 107.1l2.4-1.3l-1.5-0.1l-2.4 1.3z"/>
<path color="#000606" d="M136.2 94.3l2.5-2l-1.2 0.9l-2.4 2z"/>
<path color="#000406" d="M131.4 97.9l2.4-1.9l-1.2 0.8l-2.5 1.9z"/>
<path color="#090c39" d="M102.5 108.3l2.4-0.9l-1.6-0.7l-2.5 1z"/>
<path color="#020702" d="M146.1 85.3l2.5-2.3l-0.9 0.9l-2.4 2.3z"/>
<path color="#030717" d="M117.4 105.6l2.4-1.5l-1.5 0.2l-2.4 1.4z"/>
<path color="#0d1455" d="M88.5 106.4l2.4-0.5l-1.8-1.5l-2.4 0.5z"/>
<path color="#020702" d="M141.9 89.4l2.4-2.2l-1 1l-2.4 2.1z"/>
<path color="#070929" d="M108 108.1l2.5-1.1l-1.6-0.3l-2.4 1.1z"/>
<path color="#0a0d3f" d="M98.4 108.5l2.4-0.8l-1.6-0.9l-2.5 0.8z"/>
<path color="#020702" d="M146.8 84.5l2.5-2.3l-0.7 0.8l-2.5 2.3z"/>
<path color="#010308" d="M122.6 103.3l2.4-1.6l-1.4 0.5l-2.4 1.6z"/>
<path color="#020702" d="M137.4 93.4l2.4-2.1l-1.1 1l-2.5 2z"/>
<path color="#000406" d="M127.7 100.5l2.4-1.8l-1.3 0.7l-2.4 1.7z"/>
<path color="#0d1d5e" d="M84.3 105.2l2.4-0.3l-1.8-1.8l-2.4 0.3z"/>
<path color="#000506" d="M132.6 97.1l2.5-1.9l-1.3 0.8l-2.4 1.9z"/>
<path color="#04061a" d="M113.5 107.1l2.4-1.4l-1.5 0.1l-2.4 1.3z"/>
<path color="#020702" d="M147.4 83.8l2.5-2.3l-0.6 0.7l-2.5 2.3z"/>
<path color="#0b0f44" d="M94.3 108.3l2.4-0.7l-1.6-1l-2.5 0.6z"/>
<path color="#080a2e" d="M104.1 108.8l2.4-1l-1.6-0.4l-2.4 0.9z"/>
<path color="#020702" d="M142.8 88.4l2.5-2.2l-1 1l-2.4 2.2z"/>
<path color="#020702" d="M147.8 83.3l2.5-2.3l-0.4 0.5l-2.5 2.3z"/>
<path color="#02040c" d="M118.8 105.3l2.4-1.5l-1.4 0.3l-2.4 1.5z"/>
<path color="#020702" d="M138.4 92.4l2.5-2.1l-1.1 1l-2.4 2.1z"/>
<path color="#010306" d="M123.9 102.8l2.5-1.7l-1.4 0.6l-2.4 1.6z"/>
<path color="#0c114a" d="M90.2 107.7l2.4-0.5l-1.7-1.3l-2.4 0.5z"/>
<path color="#05071e" d="M109.6 108.3l2.4-1.2l-1.5-0.1l-2.5 1.1z"/>
<path color="#000506" d="M133.8 96.2l2.4-1.9l-1.1 0.9l-2.5 1.9z"/>
<path color="#000406" d="M129 99.7l2.4-1.8l-1.3 0.8l-2.4 1.8z"/>
<path color="#080b33" d="M100 109.2l2.5-0.9l-1.7-0.6l-2.4 0.8z"/>
<path color="#020702" d="M143.6 87.5l2.5-2.2l-0.8 0.9l-2.5 2.2z"/>
<path color="#020410" d="M114.9 106.9l2.5-1.3l-1.5 0.1l-2.4 1.4z"/>
<path color="#0c1752" d="M86 106.8l2.5-0.4l-1.8-1.5l-2.4 0.3z"/>
<path color="#020702" d="M139.4 91.5l2.5-2.1l-1 0.9l-2.5 2.1z"/>
<path color="#060823" d="M105.6 109.2l2.4-1.1l-1.5-0.3l-2.4 1z"/>
<path color="#090c39" d="M96 109.2l2.4-0.7l-1.7-0.9l-2.4 0.7z"/>
<path color="#020702" d="M144.4 86.7l2.4-2.2l-0.7 0.8l-2.5 2.2z"/>
<path color="#010206" d="M120.2 104.8l2.4-1.5l-1.4 0.5l-2.4 1.5z"/>
<path color="#020702" d="M134.9 95.3l2.5-1.9l-1.2 0.9l-2.4 1.9z"/>
<path color="#000406" d="M125.3 102.1l2.4-1.6l-1.3 0.6l-2.5 1.7z"/>
<path color="#000506" d="M130.2 98.9l2.4-1.8l-1.2 0.8l-2.4 1.8z"/>
<path color="#030514" d="M111.1 108.3l2.4-1.2l-1.5 0l-2.4 1.2z"/>
<path color="#020702" d="M145 86l2.4-2.2l-0.6 0.7l-2.4 2.2z"/>
<path color="#0a0e3f" d="M91.9 108.8l2.4-0.5l-1.7-1.1l-2.4 0.5z"/>
<path color="#070928" d="M101.6 109.7l2.5-0.9l-1.6-0.5l-2.5 0.9z"/>
<path color="#020702" d="M140.3 90.5l2.5-2.1l-0.9 1l-2.5 2.1z"/>
<path color="#020702" d="M145.3 85.6l2.5-2.3l-0.4 0.5l-2.4 2.2z"/>
<path color="#010206" d="M116.4 106.6l2.4-1.3l-1.4 0.3l-2.5 1.3z"/>
<path color="#020702" d="M136 94.4l2.4-2l-1 1l-2.5 1.9z"/>
<path color="#010306" d="M121.5 104.3l2.4-1.5l-1.3 0.5l-2.4 1.5z"/>
<path color="#0a1246" d="M87.8 108.1l2.4-0.4l-1.7-1.3l-2.5 0.4z"/>
<path color="#040518" d="M107.1 109.3l2.5-1l-1.6-0.2l-2.4 1.1z"/>
<path color="#000506" d="M131.3 98.1l2.5-1.9l-1.2 0.9l-2.4 1.8z"/>
<path color="#000406" d="M126.5 101.4l2.5-1.7l-1.3 0.8l-2.4 1.6z"/>
<path color="#070a2e" d="M97.6 109.9l2.4-0.7l-1.6-0.7l-2.4 0.7z"/>
<path color="#020702" d="M141.2 89.6l2.4-2.1l-0.8 0.9l-2.5 2.1z"/>
<path color="#010208" d="M112.5 108.1l2.4-1.2l-1.4 0.2l-2.4 1.2z"/>
<path color="#020702" d="M137 93.4l2.4-1.9l-1 0.9l-2.4 2z"/>
<path color="#05061d" d="M103.2 110.1l2.4-0.9l-1.5-0.4l-2.5 0.9z"/>
<path color="#080c33" d="M93.5 109.8l2.5-0.6l-1.7-0.9l-2.4 0.5z"/>
<path color="#020702" d="M141.9 88.8l2.5-2.1l-0.8 0.8l-2.4 2.1z"/>
<path color="#010206" d="M117.7 106.2l2.5-1.4l-1.4 0.5l-2.4 1.3z"/>
<path color="#020702" d="M132.5 97.2l2.4-1.9l-1.1 0.9l-2.5 1.9z"/>
<path color="#000306" d="M122.8 103.7l2.5-1.6l-1.4 0.7l-2.4 1.5z"/>
<path color="#000506" d="M127.7 100.6l2.5-1.7l-1.2 0.8l-2.5 1.7z"/>
<path color="#02030d" d="M108.6 109.4l2.5-1.1l-1.5 0l-2.5 1z"/>
<path color="#020702" d="M142.5 88.1l2.5-2.1l-0.6 0.7l-2.5 2.1z"/>
<path color="#090e3a" d="M89.5 109.3l2.4-0.5l-1.7-1.1l-2.4 0.4z"/>
<path color="#050822" d="M99.2 110.5l2.4-0.8l-1.6-0.5l-2.4 0.7z"/>
<path color="#020702" d="M137.9 92.5l2.4-2l-0.9 1l-2.4 1.9z"/>
<path color="#020702" d="M142.8 87.7l2.5-2.1l-0.3 0.4l-2.5 2.1z"/>
<path color="#010206" d="M113.9 107.9l2.5-1.3l-1.5 0.3l-2.4 1.2z"/>
<path color="#020702" d="M133.5 96.2l2.5-1.8l-1.1 0.9l-2.4 1.9z"/>
<path color="#010306" d="M119.1 105.7l2.4-1.4l-1.3 0.5l-2.5 1.4z"/>
<path color="#030411" d="M104.7 110.3l2.4-1l-1.5-0.1l-2.4 0.9z"/>
<path color="#020702" d="M128.9 99.8l2.4-1.7l-1.1 0.8l-2.5 1.7z"/>
<path color="#000406" d="M124.1 103l2.4-1.6l-1.2 0.7l-2.5 1.6z"/>
<path color="#060928" d="M95.2 110.6l2.4-0.7l-1.6-0.7l-2.5 0.6z"/>
<path color="#020702" d="M138.7 91.7l2.5-2.1l-0.9 0.9l-2.4 2z"/>
<path color="#010205" d="M110.1 109.3l2.4-1.2l-1.4 0.2l-2.5 1.1z"/>
<path color="#020702" d="M134.5 95.3l2.5-1.9l-1 1l-2.5 1.8z"/>
<path color="#040516" d="M100.8 110.9l2.4-0.8l-1.6-0.4l-2.4 0.8z"/>
<path color="#070b2e" d="M91.1 110.3l2.4-0.5l-1.6-1l-2.4 0.5z"/>
<path color="#020702" d="M139.4 90.8l2.5-2l-0.7 0.8l-2.5 2.1z"/>
<path color="#010206" d="M115.3 107.5l2.4-1.3l-1.3 0.4l-2.5 1.3z"/>
<path color="#020702" d="M130 98.9l2.5-1.7l-1.2 0.9l-2.4 1.7z"/>
<path color="#000306" d="M120.4 105.1l2.4-1.4l-1.3 0.6l-2.4 1.4z"/>
<path color="#000506" d="M125.3 102.2l2.4-1.6l-1.2 0.8l-2.4 1.6z"/>
<path color="#010105" d="M106.2 110.4l2.4-1l-1.5-0.1l-2.4 1z"/>
<path color="#020702" d="M140 90.2l2.5-2.1l-0.6 0.7l-2.5 2z"/>
<path color="#04061c" d="M96.8 111.2l2.4-0.7l-1.6-0.6l-2.4 0.7z"/>
<path color="#020702" d="M135.4 94.4l2.5-1.9l-0.9 0.9l-2.5 1.9z"/>
<path color="#020702" d="M140.4 89.8l2.4-2.1l-0.3 0.4l-2.5 2.1z"/>
<path color="#010206" d="M111.5 109l2.4-1.1l-1.4 0.2l-2.4 1.2z"/>
<path color="#020702" d="M131.1 98l2.4-1.8l-1 1l-2.5 1.7z"/>
<path color="#010306" d="M116.7 107l2.4-1.3l-1.4 0.5l-2.4 1.3z"/>
<path color="#02030a" d="M102.3 111.1l2.4-0.8l-1.5-0.2l-2.4 0.8z"/>
<path color="#020702" d="M126.5 101.4l2.4-1.6l-1.2 0.8l-2.4 1.6z"/>
<path color="#000406" d="M121.6 104.5l2.5-1.5l-1.3 0.7l-2.4 1.4z"/>
<path color="#050822" d="M92.7 111.1l2.5-0.5l-1.7-0.8l-2.4 0.5z"/>
<path color="#020702" d="M136.2 93.6l2.5-1.9l-0.8 0.8l-2.5 1.9z"/>
<path color="#010206" d="M107.7 110.3l2.4-1l-1.5 0.1l-2.4 1z"/>
<path color="#020702" d="M132 97.1l2.5-1.8l-1 0.9l-2.4 1.8z"/>
<path color="#02040f" d="M98.3 111.6l2.5-0.7l-1.6-0.4l-2.4 0.7z"/>
<path color="#020702" d="M137 92.8l2.4-2l-0.7 0.9l-2.5 1.9z"/>
<path color="#010206" d="M112.9 108.7l2.4-1.2l-1.4 0.4l-2.4 1.1z"/>
<path color="#020702" d="M127.6 100.5l2.4-1.6l-1.1 0.9l-2.4 1.6z"/>
<path color="#000306" d="M118 106.5l2.4-1.4l-1.3 0.6l-2.4 1.3z"/>
<path color="#020702" d="M122.9 103.7l2.4-1.5l-1.2 0.8l-2.5 1.5z"/>
<path color="#010205" d="M103.8 111.2l2.4-0.8l-1.5-0.1l-2.4 0.8z"/>
<path color="#020702" d="M137.6 92.1l2.4-1.9l-0.6 0.6l-2.4 2z"/>
<path color="#030615" d="M94.3 111.7l2.5-0.5l-1.6-0.6l-2.5 0.5z"/>
<path color="#020702" d="M133 96.2l2.4-1.8l-0.9 0.9l-2.5 1.8z"/>
<path color="#020702" d="M137.9 91.7l2.5-1.9l-0.4 0.4l-2.4 1.9z"/>
<path color="#010206" d="M109.1 110.1l2.4-1.1l-1.4 0.3l-2.4 1z"/>
<path color="#020702" d="M128.6 99.7l2.5-1.7l-1.1 0.9l-2.4 1.6z"/>
<path color="#010306" d="M114.2 108.2l2.5-1.2l-1.4 0.5l-2.4 1.2z"/>
<path color="#010205" d="M99.9 111.8l2.4-0.7l-1.5-0.2l-2.5 0.7z"/>
<path color="#020702" d="M124 102.9l2.5-1.5l-1.2 0.8l-2.4 1.5z"/>
<path color="#000406" d="M119.2 105.8l2.4-1.3l-1.2 0.6l-2.4 1.4z"/>
<path color="#020702" d="M133.8 95.4l2.4-1.8l-0.8 0.8l-2.4 1.8z"/>
<path color="#010206" d="M105.2 111.2l2.5-0.9l-1.5 0.1l-2.4 0.8z"/>
<path color="#020702" d="M129.6 98.8l2.4-1.7l-0.9 0.9l-2.5 1.7z"/>
<path color="#010208" d="M95.9 112.1l2.4-0.5l-1.5-0.4l-2.5 0.5z"/>
<path color="#020702" d="M134.5 94.6l2.5-1.8l-0.8 0.8l-2.4 1.8z"/>
<path color="#010206" d="M110.4 109.8l2.5-1.1l-1.4 0.3l-2.4 1.1z"/>
<path color="#020702" d="M125.1 102.1l2.5-1.6l-1.1 0.9l-2.5 1.5z"/>
<path color="#000306" d="M115.5 107.7l2.5-1.2l-1.3 0.5l-2.5 1.2z"/>
<path color="#020702" d="M120.4 105.1l2.5-1.4l-1.3 0.8l-2.4 1.3z"/>
<path color="#010206" d="M101.3 112l2.5-0.8l-1.5-0.1l-2.4 0.7z"/>
<path color="#020702" d="M135.1 93.9l2.5-1.8l-0.6 0.7l-2.5 1.8z"/>
<path color="#020702" d="M130.5 97.9l2.5-1.7l-1 0.9l-2.4 1.7z"/>
<path color="#020702" d="M135.5 93.5l2.4-1.8l-0.3 0.4l-2.5 1.8z"/>
<path color="#010206" d="M106.6 111l2.5-0.9l-1.4 0.2l-2.5 0.9z"/>
<path color="#020702" d="M126.2 101.2l2.4-1.5l-1 0.8l-2.5 1.6z"/>
<path color="#010306" d="M111.8 109.3l2.4-1.1l-1.3 0.5l-2.5 1.1z"/>
<path color="#010206" d="M97.4 112.4l2.5-0.6l-1.6-0.2l-2.4 0.5z"/>
<path color="#020702" d="M121.6 104.3l2.4-1.4l-1.1 0.8l-2.5 1.4z"/>
<path color="#020702" d="M116.8 107.1l2.4-1.3l-1.2 0.7l-2.5 1.2z"/>
<path color="#020702" d="M131.3 97l2.5-1.6l-0.8 0.8l-2.5 1.7z"/>
<path color="#010206" d="M102.8 111.9l2.4-0.7l-1.4 0l-2.5 0.8z"/>
<path color="#020702" d="M127.1 100.3l2.5-1.5l-1 0.9l-2.4 1.5z"/>
<path color="#020702" d="M132 96.3l2.5-1.7l-0.7 0.8l-2.5 1.6z"/>
<path color="#010306" d="M108 110.7l2.4-0.9l-1.3 0.3l-2.5 0.9z"/>
<path color="#020702" d="M122.7 103.5l2.4-1.4l-1.1 0.8l-2.4 1.4z"/>
<path color="#000306" d="M113.1 108.8l2.4-1.1l-1.3 0.5l-2.4 1.1z"/>
<path color="#020702" d="M118 106.4l2.4-1.3l-1.2 0.7l-2.4 1.3z"/>
<path color="#010206" d="M98.9 112.6l2.4-0.6l-1.4-0.2l-2.5 0.6z"/>
<path color="#020702" d="M132.6 95.6l2.5-1.7l-0.6 0.7l-2.5 1.7z"/>
<path color="#020702" d="M128.1 99.4l2.4-1.5l-0.9 0.9l-2.5 1.5z"/>
<path color="#020702" d="M133 95.2l2.5-1.7l-0.4 0.4l-2.5 1.7z"/>
<path color="#010206" d="M104.2 111.8l2.4-0.8l-1.4 0.2l-2.4 0.7z"/>
<path color="#020702" d="M123.7 102.6l2.5-1.4l-1.1 0.9l-2.4 1.4z"/>
<path color="#010306" d="M109.4 110.3l2.4-1l-1.4 0.5l-2.4 0.9z"/>
<path color="#020702" d="M119.1 105.6l2.5-1.3l-1.2 0.8l-2.4 1.3z"/>
<path color="#020702" d="M114.3 108.2l2.5-1.1l-1.3 0.6l-2.4 1.1z"/>
<path color="#020702" d="M128.9 98.6l2.4-1.6l-0.8 0.9l-2.4 1.5z"/>
<path color="#010206" d="M100.4 112.6l2.4-0.7l-1.5 0.1l-2.4 0.6z"/>
<path color="#020702" d="M124.7 101.8l2.4-1.5l-0.9 0.9l-2.5 1.4z"/>
<path color="#020702" d="M129.6 97.9l2.4-1.6l-0.7 0.7l-2.4 1.6z"/>
<path color="#010306" d="M105.6 111.5l2.4-0.8l-1.4 0.3l-2.4 0.8z"/>
<path color="#020702" d="M120.2 104.8l2.5-1.3l-1.1 0.8l-2.5 1.3z"/>
<path color="#000406" d="M110.6 109.8l2.5-1l-1.3 0.5l-2.4 1z"/>
<path color="#020702" d="M115.5 107.5l2.5-1.1l-1.2 0.7l-2.5 1.1z"/>
<path color="#020702" d="M130.2 97.2l2.4-1.6l-0.6 0.7l-2.4 1.6z"/>
<path color="#020702" d="M125.6 100.9l2.5-1.5l-1 0.9l-2.4 1.5z"/>
<path color="#020702" d="M130.5 96.8l2.5-1.6l-0.4 0.4l-2.4 1.6z"/>
<path color="#010306" d="M101.8 112.5l2.4-0.7l-1.4 0.1l-2.4 0.7z"/>
<path color="#020702" d="M121.3 103.9l2.4-1.3l-1 0.9l-2.5 1.3z"/>
<path color="#000306" d="M106.9 111.1l2.5-0.8l-1.4 0.4l-2.4 0.8z"/>
<path color="#020702" d="M116.7 106.7l2.4-1.1l-1.1 0.8l-2.5 1.1z"/>
<path color="#020702" d="M111.9 109.2l2.4-1l-1.2 0.6l-2.5 1z"/>
<path color="#020702" d="M126.4 100.1l2.5-1.5l-0.8 0.8l-2.5 1.5z"/>
<path color="#020702" d="M122.3 103.1l2.4-1.3l-1 0.8l-2.4 1.3z"/>
<path color="#020702" d="M127.1 99.3l2.5-1.4l-0.7 0.7l-2.5 1.5z"/>
<path color="#010306" d="M103.1 112.2l2.5-0.7l-1.4 0.3l-2.4 0.7z"/>
<path color="#020702" d="M117.8 106l2.4-1.2l-1.1 0.8l-2.4 1.1z"/>
<path color="#020702" d="M108.2 110.7l2.4-0.9l-1.2 0.5l-2.5 0.8z"/>
<path color="#020702" d="M113.1 108.5l2.4-1l-1.2 0.7l-2.4 1z"/>
<path color="#020702" d="M127.7 98.7l2.5-1.5l-0.6 0.7l-2.5 1.4z"/>
<path color="#020702" d="M123.2 102.2l2.4-1.3l-0.9 0.9l-2.4 1.3z"/>
<path color="#020702" d="M128.1 98.3l2.4-1.5l-0.3 0.4l-2.5 1.5z"/>
<path color="#020702" d="M118.8 105.1l2.5-1.2l-1.1 0.9l-2.4 1.2z"/>
<path color="#000406" d="M104.5 111.9l2.4-0.8l-1.3 0.4l-2.5 0.7z"/>
<path color="#020702" d="M114.3 107.8l2.4-1.1l-1.2 0.8l-2.4 1z"/>
<path color="#020702" d="M109.5 110.1l2.4-0.9l-1.3 0.6l-2.4 0.9z"/>
<path color="#020702" d="M124 101.4l2.4-1.3l-0.8 0.8l-2.4 1.3z"/>
<path color="#020702" d="M119.8 104.3l2.5-1.2l-1 0.8l-2.5 1.2z"/>
<path color="#020702" d="M124.7 100.7l2.4-1.4l-0.7 0.8l-2.4 1.3z"/>
<path color="#020702" d="M115.3 107l2.5-1l-1.1 0.7l-2.4 1.1z"/>
<path color="#020702" d="M105.8 111.4l2.4-0.7l-1.3 0.4l-2.4 0.8z"/>
<path color="#020702" d="M110.7 109.4l2.4-0.9l-1.2 0.7l-2.4 0.9z"/>
<path color="#020702" d="M125.3 100.1l2.4-1.4l-0.6 0.6l-2.4 1.4z"/>
<path color="#020702" d="M120.7 103.5l2.5-1.3l-0.9 0.9l-2.5 1.2z"/>
<path color="#020702" d="M125.6 99.7l2.5-1.4l-0.4 0.4l-2.4 1.4z"/>
<path color="#020702" d="M116.4 106.2l2.4-1.1l-1 0.9l-2.5 1z"/>
<path color="#020702" d="M111.8 108.7l2.5-0.9l-1.2 0.7l-2.4 0.9z"/>
<path color="#020702" d="M107 110.8l2.5-0.7l-1.3 0.6l-2.4 0.7z"/>
<path color="#020702" d="M121.5 102.7l2.5-1.3l-0.8 0.8l-2.5 1.3z"/>
<path color="#020702" d="M117.4 105.4l2.4-1.1l-1 0.8l-2.4 1.1z"/>
<path color="#020702" d="M122.2 101.9l2.5-1.2l-0.7 0.7l-2.5 1.3z"/>
<path color="#020702" d="M112.9 108l2.4-1l-1 0.8l-2.5 0.9z"/>
<path color="#020702" d="M108.2 110.2l2.5-0.8l-1.2 0.7l-2.5 0.7z"/>
<path color="#020702" d="M122.8 101.3l2.5-1.2l-0.6 0.6l-2.5 1.2z"/>
<path color="#020702" d="M118.3 104.6l2.4-1.1l-0.9 0.8l-2.4 1.1z"/>
<path color="#020702" d="M123.2 100.9l2.4-1.2l-0.3 0.4l-2.5 1.2z"/>
<path color="#020702" d="M113.9 107.2l2.5-1l-1.1 0.8l-2.4 1z"/>
<path color="#020702" d="M109.4 109.5l2.4-0.8l-1.1 0.7l-2.5 0.8z"/>
<path color="#020702" d="M119.1 103.8l2.4-1.1l-0.8 0.8l-2.4 1.1z"/>
<path color="#020702" d="M114.9 106.4l2.5-1l-1 0.8l-2.5 1z"/>
<path color="#020702" d="M119.8 103.1l2.4-1.2l-0.7 0.8l-2.4 1.1z"/>
<path color="#020702" d="M110.5 108.8l2.4-0.8l-1.1 0.7l-2.4 0.8z"/>
<path color="#020702" d="M120.4 102.5l2.4-1.2l-0.6 0.6l-2.4 1.2z"/>
<path color="#020702" d="M115.8 105.6l2.5-1l-0.9 0.8l-2.5 1z"/>
<path color="#020702" d="M120.7 102.1l2.5-1.2l-0.4 0.4l-2.4 1.2z"/>
<path color="#020702" d="M111.5 108l2.4-0.8l-1 0.8l-2.4 0.8z"/>
<path color="#020702" d="M116.6 104.8l2.5-1l-0.8 0.8l-2.5 1z"/>
<path color="#020702" d="M112.5 107.2l2.4-0.8l-1 0.8l-2.4 0.8z"/>
<path color="#020702" d="M117.3 104.1l2.5-1l-0.7 0.7l-2.5 1z"/>
<path color="#020702" d="M117.9 103.5l2.5-1l-0.6 0.6l-2.5 1z"/>
<path color="#020702" d="M113.4 106.4l2.4-0.8l-0.9 0.8l-2.4 0.8z"/>
<path color="#020702" d="M118.3 103.1l2.4-1l-0.3 0.4l-2.5 1z"/>
<path color="#020702" d="M114.2 105.7l2.4-0.9l-0.8 0.8l-2.4 0.8z"/>
<path color="#020702" d="M114.9 105l2.4-0.9l-0.7 0.7l-2.4 0.9z"/>
<path color="#030902" d="M115.4 104.4l2.5-0.9l-0.6 0.6l-2.4 0.9z"/>
<path color="#040d03" d="M115.8 104l2.5-0.9l-0.4 0.4l-2.5 0.9z"/>
</g>
<circle cx="115.8" cy="104.0" r="1.05" fill="#f3a0b0"/>
<circle cx="165.3" cy="65.0" r="1.05" fill="#f3a0b0"/>
<circle cx="66.9" cy="81.2" r="1.05" fill="#e00"/>
<circle cx="115.8" cy="62.3" r="1.05" fill="#e00"/>
<circle cx="115.8" cy="96.1" r="1.05" fill="#e00"/>
<g font-size="3.3" fill="#1a1a1a" stroke="#1a1a1a" stroke-width="0.07">
<text x="65.9" y="111.5" text-anchor="end">8</text>
<circle cx="67.8" cy="112.4" r="0.5" fill="#222"/>
<text x="65.5" y="96.8" text-anchor="end">9</text>
<circle cx="67.4" cy="97.7" r="0.5" fill="#222"/>
<text x="65.1" y="82.1" text-anchor="end">10</text>
<circle cx="67.0" cy="83.0" r="0.5" fill="#222"/>
<text x="64.6" y="67.4" text-anchor="end">11</text>
<circle cx="66.5" cy="68.3" r="0.5" fill="#222"/>
<text x="64.2" y="52.6" text-anchor="end">12</text>
<circle cx="66.1" cy="53.5" r="0.5" fill="#222"/>
<text x="63.8" y="37.9" text-anchor="end">13</text>
<circle cx="65.7" cy="38.8" r="0.5" fill="#222"/>
<circle cx="115.8" cy="169.6" r="0.45" fill="#222"/>
<text x="118.6" y="172.7">-2.00</text>
<circle cx="127.6" cy="161.1" r="0.45" fill="#222"/>
<text x="130.4" y="164.2">-1.50</text>
<circle cx="139.4" cy="152.6" r="0.45" fill="#222"/>
<text x="142.2" y="155.7">-1.00</text>
<circle cx="151.2" cy="144.1" r="0.45" fill="#222"/>
<text x="154.0" y="147.2">-0.50</text>
<circle cx="163.0" cy="135.6" r="0.45" fill="#222"/>
<text x="165.8" y="138.7">0.00</text>
<circle cx="115.8" cy="169.6" r="0.45" fill="#222"/>
<text x="113.8" y="172.7" text-anchor="end">0.12</text>
<circle cx="104.0" cy="161.1" r="0.45" fill="#222"/>
<text x="102.0" y="164.2" text-anchor="end">0.14</text>
<circle cx="92.2" cy="152.6" r="0.45" fill="#222"/>
<text x="90.2" y="155.7" text-anchor="end">0.15</text>
<circle cx="80.3" cy="144.1" r="0.45" fill="#222"/>
<text x="78.3" y="147.2" text-anchor="end">0.16</text>
<circle cx="68.5" cy="135.6" r="0.45" fill="#222"/>
<text x="66.5" y="138.7" text-anchor="end">0.18</text>
</g>
<g font-size="5" fill="#222" stroke="#222" stroke-width="0.18">
<text x="157.8" y="167.2" text-anchor="middle">A: DA</text>
<text x="73.8" y="167.2" text-anchor="middle">D: LT</text>
<text transform="translate(53.0 89.0) rotate(-90)" text-anchor="middle">R2</text>
</g>
</g>
<text x="463.9" y="199.6" text-anchor="middle" font-family="'Liberation Serif',serif" font-size="11.5" font-weight="bold" fill="#111">(c)</text></g>
<g><g transform="translate(0.98 197.2) scale(0.985 0.98)">
<g font-size="3.75" stroke-width="0.06">
<circle cx="7.0" cy="9.1" r="0.95" fill="#e00"/>
<text x="10.6" y="10.8" fill="#e8202a" stroke="#e8202a">Design points above predicted value</text>
<circle cx="7.0" cy="13.4" r="0.85" fill="#f3b0b8"/>
<text x="10.6" y="14.7" fill="#f8c4cc">Design points below predicted value</text>
<rect x="5.7" y="16.0" width="3.3" height="14.6" fill="url(#cb)"/>
<rect x="5.7" y="16.0" width="3.3" height="14.6" fill="url(#ce)"/>
<text x="10.8" y="19.8" fill="#e8202a" stroke="#e8202a">12.78</text>
<text x="10.8" y="29.1" fill="#2030e0">9.01</text>
<g fill="#2a2a2a"><text x="5.0" y="38.0">X1 = B: LP</text>
<text x="5.0" y="42.6">X2 = C: SS</text>
<text x="5.0" y="52.2">Actual Factors</text>
<text x="5.0" y="56.4">A: DA = -1.00</text>
<text x="5.0" y="61.2">D: LT = 0.15</text></g></g>
<path d="M67.8 112.4L65.7 38.8M72.6 110.1L70.7 37.1M77.4 107.7L75.7 35.4M82.2 105.3L80.7 33.7M87.0 102.9L85.7 32.0M91.8 100.6L90.7 30.3M96.6 98.2L95.7 28.6M101.4 95.8L100.8 26.9M106.2 93.4L105.8 25.2M111.0 91.1L110.8 23.5M115.8 88.7L115.8 21.8M163.8 112.5L166.2 38.8M151.8 106.5L153.6 34.5M139.8 100.6L141.0 30.3M127.8 94.6L128.4 26.1" stroke="#6a6a6a" stroke-width="0.4" fill="none"/>
<path d="M67.8 112.4L115.8 88.7M115.8 88.7L163.8 112.5M67.4 97.7L115.8 75.3M115.8 75.3L164.3 97.7M67.0 83.0L115.8 61.9M115.8 61.9L164.7 83.0M66.5 68.3L115.8 48.6M115.8 48.6L165.2 68.3M66.1 53.5L115.8 35.2M115.8 35.2L165.7 53.5M65.7 38.8L115.8 21.8M115.8 21.8L166.2 38.8M68.5 135.6L65.7 38.8M163.0 135.6L163.8 112.5" stroke="#555" stroke-width="0.42" fill="none"/>
<polygon points="115.8,169.6 163.0,135.6 115.8,109.7 68.5,135.6" fill="#ffff00"/>
<path d="M115.8 169.6L115.8 169.6M145.0 148.6L144.9 147.6M144.9 147.6L144.9 147.6M144.8 146.6L144.9 147.6M144.8 146.6L144.7 146.4M144.6 145.7L144.7 146.4M144.6 145.7L144.5 145.3M144.4 144.8L144.5 145.3M144.4 144.8L144.2 144.0M144.2 144.0L144.2 144.0M144.2 144.0L143.9 143.1M143.9 143.1L143.8 142.8M143.6 142.3L143.8 142.8M143.6 142.3L143.3 141.5M143.3 141.5L143.2 141.4M142.9 140.7L143.2 141.4M142.9 140.7L142.6 140.0M142.5 140.0L142.6 140.0M142.5 140.0L142.1 139.3M142.1 139.3L141.7 138.5M141.7 138.5L141.7 138.5M141.3 137.8L141.7 138.5M141.3 137.8L140.8 137.1M140.8 137.1L140.6 136.9M140.4 136.5L140.6 136.9M140.4 136.5L139.9 135.8M139.9 135.8L139.4 135.2M139.4 135.2L139.3 135.1M107.2 116.3L107.1 116.2M107.1 116.2L106.0 115.9M106.0 115.9L104.9 115.6M138.8 134.5L139.3 135.1M138.8 134.5L138.3 133.9M138.3 133.9L137.7 133.3M137.7 133.3L137.5 133.0M110.5 117.3L110.2 117.2M110.2 117.2L109.2 116.9M109.2 116.9L108.1 116.6M108.1 116.6L107.2 116.3M137.2 132.7L137.5 133.0M137.2 132.7L136.6 132.1M136.6 132.1L136.0 131.5M136.0 131.5L135.4 130.9M135.4 130.9L135.0 130.6M114.6 118.8L114.1 118.6M114.1 118.6L113.2 118.2M113.2 118.2L112.2 117.9M112.2 117.9L111.2 117.5M111.2 117.5L110.5 117.3M134.7 130.4L135.0 130.6M134.7 130.4L134.1 129.8M134.1 129.8L133.4 129.3M133.4 129.3L132.8 128.7M132.8 128.7L132.1 128.2M132.1 128.2L131.4 127.7M131.4 127.7L130.7 127.2M130.7 127.2L130.5 127.0M120.6 121.3L120.5 121.3M120.5 121.3L119.6 120.9M119.6 120.9L118.7 120.5M118.7 120.5L117.8 120.1M117.8 120.1L116.9 119.7M116.9 119.7L116.0 119.3M116.0 119.3L115.1 119.0M115.1 119.0L114.6 118.8M130.0 126.7L130.5 127.0M130.0 126.7L129.3 126.2M129.3 126.2L128.5 125.7M128.5 125.7L127.8 125.2M127.8 125.2L127.0 124.8M127.0 124.8L126.2 124.3M126.2 124.3L125.5 123.9M125.5 123.9L124.7 123.4M124.7 123.4L123.9 123.0M123.9 123.0L123.0 122.5M123.0 122.5L122.2 122.1M122.2 122.1L121.4 121.7M121.4 121.7L120.6 121.3" stroke="#6fe04a" stroke-width="0.5" fill="none" stroke-linecap="round"/>
<path d="M148.6 146.0L148.6 145.6M148.4 145.1L148.6 145.6M148.4 145.1L148.2 144.4M148.2 144.2L148.2 144.4M148.2 144.2L147.9 143.4M147.9 143.4L147.8 143.1M147.6 142.5L147.8 143.1M147.6 142.5L147.3 141.8M147.3 141.7L147.3 141.8M147.3 141.7L147.0 141.0M147.0 141.0L146.7 140.4M146.6 140.2L146.7 140.4M146.6 140.2L146.2 139.5M146.2 139.5L145.9 138.9M145.8 138.7L145.9 138.9M145.8 138.7L145.4 138.0M145.4 138.0L145.0 137.4M144.9 137.3L145.0 137.4M144.9 137.3L144.5 136.7M144.5 136.7L144.0 136.0M144.0 136.0L143.8 135.7M143.5 135.3L143.8 135.7M143.5 135.3L143.0 134.7M143.0 134.7L142.5 134.1M142.5 134.1L142.3 133.9M108.8 114.5L108.7 114.5M108.7 114.5L107.6 114.2M141.9 133.4L142.3 133.9M141.9 133.4L141.4 132.8M141.4 132.8L140.8 132.2M140.8 132.2L140.4 131.8M112.3 115.6L111.7 115.4M111.7 115.4L110.7 115.1M110.7 115.1L109.7 114.8M109.7 114.8L108.8 114.5M140.2 131.6L140.4 131.8M140.2 131.6L139.6 131.0M139.6 131.0L139.0 130.5M139.0 130.5L138.4 129.9M138.4 129.9L137.8 129.4M137.8 129.4L137.7 129.3M116.5 117.2L115.6 116.8M115.6 116.8L114.7 116.5M114.7 116.5L113.7 116.1M113.7 116.1L112.7 115.8M112.7 115.8L112.3 115.6M137.2 128.8L137.7 129.3M137.2 128.8L136.5 128.3M136.5 128.3L135.8 127.7M135.8 127.7L135.2 127.2M135.2 127.2L134.5 126.7M134.5 126.7L133.8 126.2M133.8 126.2L133.1 125.7M133.1 125.7L132.7 125.5M123.0 119.9L122.9 119.9M122.9 119.9L122.0 119.5M122.0 119.5L121.1 119.1M121.1 119.1L120.2 118.7M120.2 118.7L119.3 118.3M119.3 118.3L118.4 117.9M118.4 117.9L117.5 117.6M117.5 117.6L116.6 117.2M116.6 117.2L116.5 117.2M132.3 125.2L132.7 125.5M132.3 125.2L131.6 124.7M131.6 124.7L130.9 124.3M130.9 124.3L130.1 123.8M130.1 123.8L129.4 123.3M129.4 123.3L128.6 122.9M128.6 122.9L127.8 122.4M127.8 122.4L127.0 122.0M127.0 122.0L126.2 121.6M126.2 121.6L125.4 121.1M125.4 121.1L124.6 120.7M124.6 120.7L123.7 120.3M123.7 120.3L123.0 119.9" stroke="#6fe04a" stroke-width="0.5" fill="none" stroke-linecap="round"/>
<path d="M152.1 143.5L151.8 142.7M151.8 142.7L151.6 142.3M151.5 141.9L151.6 142.3M151.5 141.9L151.1 141.1M151.1 141.1L151.1 140.9M150.8 140.3L151.1 140.9M150.8 140.3L150.4 139.6M150.4 139.6L150.3 139.5M150.0 138.8L150.3 139.5M150.0 138.8L149.6 138.1M149.6 138.1L149.5 138.0M149.1 137.4L149.5 138.0M149.1 137.4L148.7 136.7M148.7 136.7L148.5 136.4M148.2 136.1L148.5 136.4M148.2 136.1L147.7 135.4M147.7 135.4L147.2 134.8M147.2 134.8L147.2 134.7M146.7 134.1L147.2 134.7M146.7 134.1L146.2 133.5M146.2 133.5L145.7 132.9M145.7 132.9L145.6 132.8M145.1 132.3L145.6 132.8M145.1 132.3L144.6 131.7M144.6 131.7L144.0 131.1M144.0 131.1L143.6 130.7M113.6 113.7L113.4 113.6M113.4 113.6L112.4 113.3M112.4 113.3L111.4 113.0M111.4 113.0L110.4 112.7M143.4 130.5L143.6 130.7M143.4 130.5L142.8 129.9M142.8 129.9L142.2 129.4M142.2 129.4L141.6 128.8M141.6 128.8L141.0 128.3M141.0 128.3L140.9 128.2M117.9 115.2L117.3 115.0M117.3 115.0L116.3 114.7M116.3 114.7L115.3 114.3M115.3 114.3L114.4 114.0M114.4 114.0L113.6 113.7M140.3 127.7L140.9 128.2M140.3 127.7L139.7 127.2M139.7 127.2L139.0 126.7M139.0 126.7L138.3 126.2M138.3 126.2L137.6 125.6M137.6 125.6L136.9 125.1M136.9 125.1L136.2 124.6M136.2 124.6L136.2 124.6M124.1 117.8L123.6 117.6M123.6 117.6L122.7 117.2M122.7 117.2L121.9 116.8M121.9 116.8L121.0 116.5M121.0 116.5L120.1 116.1M120.1 116.1L119.1 115.7M119.1 115.7L118.2 115.4M118.2 115.4L117.9 115.2M135.5 124.2L136.2 124.6M135.5 124.2L134.8 123.7M134.8 123.7L134.1 123.2M134.1 123.2L133.3 122.7M133.3 122.7L132.6 122.3M132.6 122.3L131.8 121.8M131.8 121.8L131.0 121.4M131.0 121.4L130.2 120.9M130.2 120.9L129.5 120.5M129.5 120.5L128.7 120.1M128.7 120.1L127.8 119.7M127.8 119.7L127.0 119.2M127.0 119.2L126.2 118.8M126.2 118.8L125.3 118.4M125.3 118.4L124.5 118.0M124.5 118.0L124.1 117.8" stroke="#6fe04a" stroke-width="0.5" fill="none" stroke-linecap="round"/>
<path d="M155.9 140.7L155.9 140.7M155.5 140.0L155.9 140.7M155.5 140.0L155.2 139.3M155.1 139.2L155.2 139.3M155.1 139.2L154.7 138.5M154.7 138.5L154.3 137.8M154.3 137.8L154.3 137.8M153.9 137.1L154.3 137.8M153.9 137.1L153.5 136.4M153.5 136.4L153.3 136.2M153.0 135.7L153.3 136.2M153.0 135.7L152.5 135.1M152.5 135.1L152.1 134.5M152.0 134.4L152.1 134.5M152.0 134.4L151.5 133.8M151.5 133.8L151.0 133.1M151.0 133.1L150.6 132.7M150.5 132.5L150.6 132.7M150.5 132.5L150.0 131.9M150.0 131.9L149.4 131.3M149.4 131.3L148.9 130.7M148.8 130.7L148.9 130.7M148.8 130.7L148.3 130.1M148.3 130.1L147.7 129.6M147.7 129.6L147.1 129.0M147.1 129.0L146.5 128.5M116.8 112.0L116.5 111.9M116.5 111.9L115.6 111.6M115.6 111.6L114.6 111.2M114.6 111.2L113.6 110.9M146.5 128.4L146.5 128.5M146.5 128.4L145.9 127.9M145.9 127.9L145.3 127.3M145.3 127.3L144.6 126.8M144.6 126.8L144.0 126.3M144.0 126.3L143.3 125.8M143.3 125.8L143.3 125.7M121.6 113.8L121.3 113.6M121.3 113.6L120.3 113.3M120.3 113.3L119.4 112.9M119.4 112.9L118.4 112.6M118.4 112.6L117.5 112.2M117.5 112.2L116.8 112.0M142.7 125.2L143.3 125.7M142.7 125.2L142.0 124.7M142.0 124.7L141.3 124.2M141.3 124.2L140.6 123.7M140.6 123.7L139.9 123.3M139.9 123.3L139.2 122.8M139.2 122.8L138.5 122.3M138.5 122.3L137.7 121.8M137.7 121.8L137.0 121.4M137.0 121.4L136.4 121.0M130.0 117.5L129.1 117.1M129.1 117.1L128.3 116.7M128.3 116.7L127.4 116.3M127.4 116.3L126.6 115.9M126.6 115.9L125.7 115.5M125.7 115.5L124.8 115.1M124.8 115.1L124.0 114.7M124.0 114.7L123.1 114.4M123.1 114.4L122.2 114.0M122.2 114.0L121.6 113.8" stroke="#6fe04a" stroke-width="0.5" fill="none" stroke-linecap="round"/>
<path d="M115.8 169.6L163.0 135.6M115.8 169.6L68.5 135.6" stroke="#333" stroke-width="0.4" fill="none"/>
<g fill="currentColor" stroke="currentColor" stroke-width="0.8" stroke-linejoin="round">
<path color="#059d63" d="M115.8 62.2l2.5-3.4l-2.5-1.5l-2.4 3.3z"/>
<path color="#009b72" d="M113.4 65.4l2.4-3.2l-2.4-1.6l-2.5 3.1z"/>
<path color="#039c67" d="M118.3 63.7l2.4-3.3l-2.4-1.6l-2.5 3.4z"/>
<path color="#009383" d="M110.9 68.4l2.5-3l-2.5-1.7l-2.4 3z"/>
<path color="#009977" d="M115.8 66.9l2.5-3.2l-2.5-1.5l-2.4 3.2z"/>
<path color="#029c6a" d="M120.7 65.2l2.5-3.4l-2.5-1.4l-2.4 3.3z"/>
<path color="#008791" d="M108.5 71.3l2.4-2.9l-2.4-1.7l-2.4 2.8z"/>
<path color="#019c6c" d="M123.1 66.6l2.5-3.4l-2.4-1.4l-2.5 3.4z"/>
<path color="#009088" d="M113.4 70l2.4-3.1l-2.4-1.5l-2.5 3z"/>
<path color="#00977a" d="M118.3 68.4l2.4-3.2l-2.4-1.5l-2.5 3.2z"/>
<path color="#01799c" d="M106.1 74l2.4-2.7l-2.4-1.8l-2.5 2.7z"/>
<path color="#008395" d="M110.9 72.9l2.5-2.9l-2.5-1.6l-2.4 2.9z"/>
<path color="#008d8b" d="M115.8 71.5l2.5-3.1l-2.5-1.5l-2.4 3.1z"/>
<path color="#00967d" d="M120.7 69.9l2.4-3.3l-2.4-1.4l-2.4 3.2z"/>
<path color="#019c6e" d="M125.6 67.9l2.5-3.5l-2.5-1.2l-2.5 3.4z"/>
<path color="#06679e" d="M103.6 76.5l2.5-2.5l-2.5-1.8l-2.4 2.5z"/>
<path color="#03729d" d="M108.5 75.6l2.4-2.7l-2.4-1.6l-2.4 2.7z"/>
<path color="#007f99" d="M113.4 74.5l2.4-3l-2.4-1.5l-2.5 2.9z"/>
<path color="#008a8e" d="M118.3 73l2.4-3.1l-2.4-1.5l-2.5 3.1z"/>
<path color="#009480" d="M123.1 71.2l2.5-3.3l-2.5-1.3l-2.4 3.3z"/>
<path color="#009c6f" d="M128 69.1l2.5-3.5l-2.4-1.2l-2.5 3.5z"/>
<path color="#0a589f" d="M101.2 78.9l2.4-2.4l-2.4-1.8l-2.4 2.4z"/>
<path color="#07619f" d="M106.1 78.2l2.4-2.6l-2.4-1.6l-2.5 2.5z"/>
<path color="#007c9b" d="M115.8 75.9l2.5-2.9l-2.5-1.5l-2.4 3z"/>
<path color="#009482" d="M125.6 72.5l2.4-3.4l-2.4-1.2l-2.5 3.3z"/>
<path color="#009c70" d="M130.5 70.3l2.5-3.5l-2.5-1.2l-2.5 3.5z"/>
<path color="#046d9e" d="M110.9 77.2l2.5-2.7l-2.5-1.6l-2.4 2.7z"/>
<path color="#008890" d="M120.7 74.4l2.4-3.2l-2.4-1.3l-2.4 3.1z"/>
<path color="#0e499b" d="M98.8 81.1l2.4-2.2l-2.4-1.8l-2.4 2.2z"/>
<path color="#0c519d" d="M103.7 80.6l2.4-2.4l-2.5-1.7l-2.4 2.4z"/>
<path color="#095c9f" d="M108.5 79.8l2.4-2.6l-2.4-1.6l-2.4 2.6z"/>
<path color="#05699e" d="M113.4 78.7l2.4-2.8l-2.4-1.4l-2.5 2.7z"/>
<path color="#01799c" d="M118.2 77.4l2.5-3l-2.4-1.4l-2.5 2.9z"/>
<path color="#008791" d="M123.1 75.7l2.5-3.2l-2.5-1.3l-2.4 3.2z"/>
<path color="#009383" d="M128 73.6l2.5-3.3l-2.5-1.2l-2.4 3.4z"/>
<path color="#009c70" d="M132.9 71.3l2.5-3.5l-2.4-1l-2.5 3.5z"/>
<path color="#123d98" d="M96.4 83.1l2.4-2l-2.4-1.8l-2.4 2z"/>
<path color="#0a579e" d="M110.9 81.4l2.5-2.7l-2.5-1.5l-2.4 2.6z"/>
<path color="#02779c" d="M120.7 78.7l2.4-3l-2.4-1.3l-2.5 3z"/>
<path color="#009c70" d="M135.4 72.3l2.5-3.6l-2.5-0.9l-2.5 3.5z"/>
<path color="#10429a" d="M101.2 82.9l2.5-2.3l-2.5-1.7l-2.4 2.2z"/>
<path color="#0e4b9c" d="M106.1 82.3l2.4-2.5l-2.4-1.6l-2.4 2.4z"/>
<path color="#06669f" d="M115.8 80.2l2.4-2.8l-2.4-1.5l-2.4 2.8z"/>
<path color="#008692" d="M125.6 76.9l2.4-3.3l-2.4-1.1l-2.5 3.2z"/>
<path color="#009383" d="M130.5 74.7l2.4-3.4l-2.4-1l-2.5 3.3z"/>
<path color="#123592" d="M94 85l2.4-1.9l-2.4-1.8l-2.5 1.8z"/>
<path color="#123794" d="M98.8 84.9l2.4-2l-2.4-1.8l-2.4 2z"/>
<path color="#123d98" d="M103.7 84.5l2.4-2.2l-2.4-1.7l-2.5 2.3z"/>
<path color="#0f469a" d="M108.5 83.8l2.4-2.4l-2.4-1.6l-2.4 2.5z"/>
<path color="#0b539e" d="M113.4 82.8l2.4-2.6l-2.4-1.5l-2.5 2.7z"/>
<path color="#07639f" d="M118.2 81.5l2.5-2.8l-2.5-1.3l-2.4 2.8z"/>
<path color="#02759c" d="M123.1 79.9l2.5-3l-2.5-1.2l-2.4 3z"/>
<path color="#008593" d="M128 78l2.5-3.3l-2.5-1.1l-2.4 3.3z"/>
<path color="#009382" d="M132.9 75.7l2.5-3.4l-2.5-1l-2.4 3.4z"/>
<path color="#009c6f" d="M137.8 73.2l2.5-3.6l-2.4-0.9l-2.5 3.6z"/>
<path color="#132e8d" d="M91.6 86.7l2.4-1.7l-2.5-1.9l-2.4 1.7z"/>
<path color="#132f8e" d="M96.4 86.8l2.4-1.9l-2.4-1.8l-2.4 1.9z"/>
<path color="#133390" d="M101.3 86.6l2.4-2.1l-2.5-1.6l-2.4 2z"/>
<path color="#123995" d="M106.1 86.1l2.4-2.3l-2.4-1.5l-2.4 2.2z"/>
<path color="#10439a" d="M111 85.3l2.4-2.5l-2.5-1.4l-2.4 2.4z"/>
<path color="#0c519d" d="M115.8 84.2l2.4-2.7l-2.4-1.3l-2.4 2.6z"/>
<path color="#07629f" d="M120.7 82.8l2.4-2.9l-2.4-1.2l-2.5 2.8z"/>
<path color="#02759c" d="M125.6 81.1l2.4-3.1l-2.4-1.1l-2.5 3z"/>
<path color="#008692" d="M130.4 79l2.5-3.3l-2.4-1l-2.5 3.3z"/>
<path color="#009481" d="M135.4 76.7l2.4-3.5l-2.4-0.9l-2.5 3.4z"/>
<path color="#019c6d" d="M140.3 74l2.5-3.6l-2.5-0.8l-2.5 3.6z"/>
<path color="#132a8a" d="M89.1 88.2l2.5-1.5l-2.5-1.9l-2.4 1.4z"/>
<path color="#132f8d" d="M103.7 88.3l2.4-2.2l-2.4-1.6l-2.4 2.1z"/>
<path color="#114099" d="M113.4 86.7l2.4-2.5l-2.4-1.4l-2.4 2.5z"/>
<path color="#0c4f9d" d="M118.2 85.5l2.5-2.7l-2.5-1.3l-2.4 2.7z"/>
<path color="#02759c" d="M128 82.1l2.4-3.1l-2.4-1l-2.4 3.1z"/>
<path color="#029c6b" d="M142.7 74.7l2.5-3.7l-2.4-0.6l-2.5 3.6z"/>
<path color="#132989" d="M94 88.5l2.4-1.7l-2.4-1.8l-2.4 1.7z"/>
<path color="#132b8a" d="M98.8 88.5l2.5-1.9l-2.5-1.7l-2.4 1.9z"/>
<path color="#123693" d="M108.5 87.6l2.5-2.3l-2.5-1.5l-2.4 2.3z"/>
<path color="#07619f" d="M123.1 84l2.5-2.9l-2.5-1.2l-2.4 2.9z"/>
<path color="#008791" d="M132.9 80l2.5-3.3l-2.5-1l-2.5 3.3z"/>
<path color="#009580" d="M137.8 77.5l2.5-3.5l-2.5-0.8l-2.4 3.5z"/>
<path color="#132787" d="M86.7 89.5l2.4-1.3l-2.4-2l-2.4 1.4z"/>
<path color="#142485" d="M91.6 90.1l2.4-1.6l-2.4-1.8l-2.5 1.5z"/>
<path color="#142485" d="M96.4 90.3l2.4-1.8l-2.4-1.7l-2.4 1.7z"/>
<path color="#132787" d="M101.3 90.2l2.4-1.9l-2.4-1.7l-2.5 1.9z"/>
<path color="#132c8b" d="M106.1 89.8l2.4-2.2l-2.4-1.5l-2.4 2.2z"/>
<path color="#133491" d="M111 89.1l2.4-2.4l-2.4-1.4l-2.5 2.3z"/>
<path color="#113e99" d="M115.8 88l2.4-2.5l-2.4-1.3l-2.4 2.5z"/>
<path color="#0d4f9c" d="M120.7 86.7l2.4-2.7l-2.4-1.2l-2.5 2.7z"/>
<path color="#07629f" d="M125.5 85.1l2.5-3l-2.4-1l-2.5 2.9z"/>
<path color="#02779c" d="M130.4 83.1l2.5-3.1l-2.5-1l-2.4 3.1z"/>
<path color="#008890" d="M135.3 80.8l2.5-3.3l-2.4-0.8l-2.5 3.3z"/>
<path color="#00967d" d="M140.3 78.2l2.4-3.5l-2.4-0.7l-2.5 3.5z"/>
<path color="#039c69" d="M145.2 75.3l2.5-3.7l-2.5-0.6l-2.5 3.7z"/>
<path color="#132687" d="M84.3 90.7l2.4-1.2l-2.4-1.9l-2.4 1.1z"/>
<path color="#132a89" d="M108.5 91.2l2.5-2.1l-2.5-1.5l-2.4 2.2z"/>
<path color="#0c4f9d" d="M123.1 87.8l2.4-2.7l-2.4-1.1l-2.4 2.7z"/>
<path color="#049c66" d="M147.7 75.9l2.5-3.8l-2.5-0.5l-2.5 3.7z"/>
<path color="#142283" d="M89.2 91.4l2.4-1.3l-2.5-1.9l-2.4 1.3z"/>
<path color="#142081" d="M94 91.8l2.4-1.5l-2.4-1.8l-2.4 1.6z"/>
<path color="#142082" d="M98.8 92l2.5-1.8l-2.5-1.7l-2.4 1.8z"/>
<path color="#142484" d="M103.7 91.8l2.4-2l-2.4-1.5l-2.4 1.9z"/>
<path color="#133290" d="M113.4 90.4l2.4-2.4l-2.4-1.3l-2.4 2.4z"/>
<path color="#113e98" d="M118.2 89.3l2.5-2.6l-2.5-1.2l-2.4 2.5z"/>
<path color="#07639f" d="M128 86.1l2.4-3l-2.4-1l-2.5 3z"/>
<path color="#01799c" d="M132.9 84l2.4-3.2l-2.4-0.8l-2.5 3.1z"/>
<path color="#008b8d" d="M137.8 81.6l2.5-3.4l-2.5-0.7l-2.5 3.3z"/>
<path color="#00977a" d="M142.7 78.9l2.5-3.6l-2.5-0.6l-2.4 3.5z"/>
<path color="#132787" d="M81.9 91.6l2.4-0.9l-2.4-2l-2.5 0.9z"/>
<path color="#142182" d="M86.7 92.6l2.5-1.2l-2.5-1.9l-2.4 1.2z"/>
<path color="#141e80" d="M91.6 93.2l2.4-1.4l-2.4-1.7l-2.4 1.3z"/>
<path color="#141d7f" d="M96.4 93.5l2.4-1.5l-2.4-1.7l-2.4 1.5z"/>
<path color="#141e80" d="M101.3 93.5l2.4-1.7l-2.4-1.6l-2.5 1.8z"/>
<path color="#142183" d="M106.1 93.2l2.4-2l-2.4-1.4l-2.4 2z"/>
<path color="#132888" d="M111 92.6l2.4-2.2l-2.4-1.3l-2.5 2.1z"/>
<path color="#133290" d="M115.8 91.7l2.4-2.4l-2.4-1.3l-2.4 2.4z"/>
<path color="#113e99" d="M120.7 90.4l2.4-2.6l-2.4-1.1l-2.5 2.6z"/>
<path color="#0c519d" d="M125.5 88.8l2.5-2.7l-2.5-1l-2.4 2.7z"/>
<path color="#06669f" d="M130.4 87l2.5-3l-2.5-0.9l-2.4 3z"/>
<path color="#007c9b" d="M135.3 84.8l2.5-3.2l-2.5-0.8l-2.4 3.2z"/>
<path color="#008d8b" d="M140.2 82.2l2.5-3.3l-2.4-0.7l-2.5 3.4z"/>
<path color="#009976" d="M145.2 79.4l2.5-3.5l-2.5-0.6l-2.5 3.6z"/>
<path color="#059d62" d="M150.1 76.3l2.5-3.8l-2.4-0.4l-2.5 3.8z"/>
<path color="#132a89" d="M79.4 92.4l2.5-0.8l-2.5-2l-2.4 0.7z"/>
<path color="#142183" d="M84.3 93.5l2.4-0.9l-2.4-1.9l-2.4 0.9z"/>
<path color="#141d7f" d="M89.2 94.4l2.4-1.2l-2.4-1.8l-2.5 1.2z"/>
<path color="#141c7e" d="M94 94.9l2.4-1.4l-2.4-1.7l-2.4 1.4z"/>
<path color="#141c7e" d="M98.9 95.2l2.4-1.7l-2.5-1.5l-2.4 1.5z"/>
<path color="#141d7f" d="M103.7 95.1l2.4-1.9l-2.4-1.4l-2.4 1.7z"/>
<path color="#142082" d="M108.5 94.6l2.5-2l-2.5-1.4l-2.4 2z"/>
<path color="#132888" d="M113.4 93.9l2.4-2.2l-2.4-1.3l-2.4 2.2z"/>
<path color="#133290" d="M118.2 92.8l2.5-2.4l-2.5-1.1l-2.4 2.4z"/>
<path color="#114099" d="M123.1 91.5l2.4-2.7l-2.4-1l-2.4 2.6z"/>
<path color="#0b539d" d="M128 89.8l2.4-2.8l-2.4-0.9l-2.5 2.7z"/>
<path color="#05699e" d="M132.9 87.8l2.4-3l-2.4-0.8l-2.5 3z"/>
<path color="#007f99" d="M137.8 85.5l2.4-3.3l-2.4-0.6l-2.5 3.2z"/>
<path color="#009187" d="M142.7 82.8l2.5-3.4l-2.5-0.5l-2.5 3.3z"/>
<path color="#009b71" d="M147.6 79.9l2.5-3.6l-2.4-0.4l-2.5 3.5z"/>
<path color="#069d5e" d="M152.6 76.6l2.5-3.8l-2.5-0.3l-2.5 3.8z"/>
<path color="#132e8d" d="M77 92.9l2.4-0.5l-2.4-2.1l-2.4 0.6z"/>
<path color="#142485" d="M81.9 94.3l2.4-0.8l-2.4-1.9l-2.5 0.8z"/>
<path color="#141c7d" d="M91.6 96.1l2.4-1.2l-2.4-1.7l-2.4 1.2z"/>
<path color="#141c7d" d="M101.3 96.7l2.4-1.6l-2.4-1.6l-2.4 1.7z"/>
<path color="#132888" d="M115.8 95.1l2.4-2.3l-2.4-1.1l-2.4 2.2z"/>
<path color="#0a579e" d="M130.4 90.6l2.5-2.8l-2.5-0.8l-2.4 2.8z"/>
<path color="#008395" d="M140.2 86.1l2.5-3.3l-2.5-0.6l-2.4 3.3z"/>
<path color="#019c6d" d="M150.1 80.2l2.5-3.6l-2.5-0.3l-2.5 3.6z"/>
<path color="#089d5a" d="M155.1 76.9l2.5-3.8l-2.5-0.3l-2.5 3.8z"/>
<path color="#141e7f" d="M86.7 95.4l2.5-1l-2.5-1.8l-2.4 0.9z"/>
<path color="#141b7d" d="M96.4 96.6l2.5-1.4l-2.5-1.7l-2.4 1.4z"/>
<path color="#141d7e" d="M106.1 96.5l2.4-1.9l-2.4-1.4l-2.4 1.9z"/>
<path color="#142081" d="M111 95.9l2.4-2l-2.4-1.3l-2.5 2z"/>
<path color="#133391" d="M120.7 93.9l2.4-2.4l-2.4-1.1l-2.5 2.4z"/>
<path color="#104299" d="M125.5 92.4l2.5-2.6l-2.5-1l-2.4 2.7z"/>
<path color="#046d9e" d="M135.3 88.5l2.5-3l-2.5-0.7l-2.4 3z"/>
<path color="#009383" d="M145.1 83.3l2.5-3.4l-2.4-0.5l-2.5 3.4z"/>
<path color="#133492" d="M74.6 93.3l2.4-0.4l-2.4-2l-2.5 0.4z"/>
<path color="#132888" d="M79.4 94.9l2.5-0.6l-2.5-1.9l-2.4 0.5z"/>
<path color="#141f81" d="M84.3 96.2l2.4-0.8l-2.4-1.9l-2.4 0.8z"/>
<path color="#141c7e" d="M89.2 97.2l2.4-1.1l-2.4-1.7l-2.5 1z"/>
<path color="#141b7c" d="M94 97.8l2.4-1.2l-2.4-1.7l-2.4 1.2z"/>
<path color="#141b7c" d="M98.9 98.1l2.4-1.4l-2.4-1.5l-2.5 1.4z"/>
<path color="#141b7c" d="M103.7 98.1l2.4-1.6l-2.4-1.4l-2.4 1.6z"/>
<path color="#141c7e" d="M108.5 97.8l2.5-1.9l-2.5-1.3l-2.4 1.9z"/>
<path color="#142081" d="M113.4 97.2l2.4-2.1l-2.4-1.2l-2.4 2z"/>
<path color="#132989" d="M118.2 96.2l2.5-2.3l-2.5-1.1l-2.4 2.3z"/>
<path color="#123593" d="M123.1 94.9l2.4-2.5l-2.4-0.9l-2.4 2.4z"/>
<path color="#0f469a" d="M128 93.3l2.4-2.7l-2.4-0.8l-2.5 2.6z"/>
<path color="#095b9f" d="M132.8 91.4l2.5-2.9l-2.4-0.7l-2.5 2.8z"/>
<path color="#03729d" d="M137.7 89.1l2.5-3l-2.4-0.6l-2.5 3z"/>
<path color="#008791" d="M142.7 86.6l2.4-3.3l-2.4-0.5l-2.5 3.3z"/>
<path color="#00967d" d="M147.6 83.7l2.5-3.5l-2.5-0.3l-2.5 3.4z"/>
<path color="#039c68" d="M152.6 80.5l2.5-3.6l-2.5-0.3l-2.5 3.6z"/>
<path color="#099d56" d="M157.5 77l2.6-3.8l-2.5-0.1l-2.5 3.8z"/>
<path color="#141a7b" d="M96.4 99.4l2.5-1.3l-2.5-1.5l-2.4 1.2z"/>
<path color="#0761a0" d="M135.3 92l2.4-2.9l-2.4-0.6l-2.5 2.9z"/>
<path color="#123c98" d="M72.1 93.5l2.5-0.2l-2.5-2l-2.4 0.1z"/>
<path color="#132e8d" d="M77 95.3l2.4-0.4l-2.4-2l-2.4 0.4z"/>
<path color="#142384" d="M81.9 96.8l2.4-0.6l-2.4-1.9l-2.5 0.6z"/>
<path color="#141d7f" d="M86.7 98l2.5-0.8l-2.5-1.8l-2.4 0.8z"/>
<path color="#141b7c" d="M91.6 98.8l2.4-1l-2.4-1.7l-2.4 1.1z"/>
<path color="#141a7b" d="M101.3 99.6l2.4-1.5l-2.4-1.4l-2.4 1.4z"/>
<path color="#141b7c" d="M106.1 99.5l2.4-1.7l-2.4-1.3l-2.4 1.6z"/>
<path color="#141c7e" d="M111 99l2.4-1.8l-2.4-1.3l-2.5 1.9z"/>
<path color="#142182" d="M115.8 98.3l2.4-2.1l-2.4-1.1l-2.4 2.1z"/>
<path color="#132b8b" d="M120.7 97.2l2.4-2.3l-2.4-1l-2.5 2.3z"/>
<path color="#123895" d="M125.5 95.8l2.5-2.5l-2.5-0.9l-2.4 2.5z"/>
<path color="#0e4a9b" d="M130.4 94.1l2.4-2.7l-2.4-0.8l-2.4 2.7z"/>
<path color="#01799c" d="M140.2 89.7l2.5-3.1l-2.5-0.5l-2.5 3z"/>
<path color="#008b8d" d="M145.1 87l2.5-3.3l-2.5-0.4l-2.4 3.3z"/>
<path color="#009878" d="M150.1 84l2.5-3.5l-2.5-0.3l-2.5 3.5z"/>
<path color="#059d63" d="M155 80.7l2.5-3.7l-2.4-0.1l-2.5 3.6z"/>
<path color="#0a9e52" d="M160 77.1l2.6-3.9l-2.5 0l-2.6 3.8z"/>
<path color="#0e4391" d="M69.6 93.5l2.5 0l-2.4-2.1l-2.5 0z"/>
<path color="#123693" d="M74.5 95.5l2.5-0.2l-2.4-2l-2.5 0.2z"/>
<path color="#132989" d="M79.4 97.2l2.5-0.4l-2.5-1.9l-2.4 0.4z"/>
<path color="#141f81" d="M84.3 98.6l2.4-0.6l-2.4-1.8l-2.4 0.6z"/>
<path color="#141c7d" d="M89.2 99.7l2.4-0.9l-2.4-1.6l-2.5 0.8z"/>
<path color="#141a7c" d="M94 100.4l2.4-1l-2.4-1.6l-2.4 1z"/>
<path color="#141a7b" d="M98.9 100.9l2.4-1.3l-2.4-1.5l-2.5 1.3z"/>
<path color="#141a7b" d="M103.7 101l2.4-1.5l-2.4-1.4l-2.4 1.5z"/>
<path color="#141b7c" d="M108.5 100.7l2.5-1.7l-2.5-1.2l-2.4 1.7z"/>
<path color="#141d7f" d="M113.4 100.2l2.4-1.9l-2.4-1.1l-2.4 1.8z"/>
<path color="#142384" d="M118.2 99.3l2.5-2.1l-2.5-1l-2.4 2.1z"/>
<path color="#132e8d" d="M123.1 98.1l2.4-2.3l-2.4-0.9l-2.4 2.3z"/>
<path color="#123c98" d="M128 96.6l2.4-2.5l-2.4-0.8l-2.5 2.5z"/>
<path color="#0c509d" d="M132.8 94.8l2.5-2.8l-2.5-0.6l-2.4 2.7z"/>
<path color="#06679f" d="M137.7 92.6l2.5-2.9l-2.5-0.6l-2.4 2.9z"/>
<path color="#007f99" d="M142.6 90.1l2.5-3.1l-2.4-0.4l-2.5 3.1z"/>
<path color="#009187" d="M147.6 87.3l2.5-3.3l-2.5-0.3l-2.5 3.3z"/>
<path color="#009c71" d="M152.5 84.2l2.5-3.5l-2.4-0.2l-2.5 3.5z"/>
<path color="#079d5e" d="M157.5 80.8l2.5-3.7l-2.5-0.1l-2.5 3.7z"/>
<path color="#0b9e4e" d="M162.5 77l2.6-3.9l-2.5 0.1l-2.6 3.9z"/>
<path color="#0f3a8a" d="M72.1 95.5l2.4 0l-2.4-2l-2.5 0z"/>
<path color="#142586" d="M81.9 99l2.4-0.4l-2.4-1.8l-2.5 0.4z"/>
<path color="#141d7f" d="M86.7 100.3l2.5-0.6l-2.5-1.7l-2.4 0.6z"/>
<path color="#141b7d" d="M91.6 101.3l2.4-0.9l-2.4-1.6l-2.4 0.9z"/>
<path color="#141a7b" d="M96.4 101.9l2.5-1l-2.5-1.5l-2.4 1z"/>
<path color="#141a7a" d="M101.3 102.2l2.4-1.2l-2.4-1.4l-2.4 1.3z"/>
<path color="#141a7b" d="M106.1 102.2l2.4-1.5l-2.4-1.2l-2.4 1.5z"/>
<path color="#141b7d" d="M111 101.9l2.4-1.7l-2.4-1.2l-2.5 1.7z"/>
<path color="#132686" d="M120.7 100.2l2.4-2.1l-2.4-0.9l-2.5 2.1z"/>
<path color="#133290" d="M125.5 98.9l2.5-2.3l-2.5-0.8l-2.4 2.3z"/>
<path color="#104199" d="M130.4 97.3l2.4-2.5l-2.4-0.7l-2.4 2.5z"/>
<path color="#0a579e" d="M135.3 95.3l2.4-2.7l-2.4-0.6l-2.5 2.8z"/>
<path color="#046e9d" d="M140.2 93.1l2.4-3l-2.4-0.4l-2.5 2.9z"/>
<path color="#008494" d="M145.1 90.4l2.5-3.1l-2.5-0.3l-2.5 3.1z"/>
<path color="#009481" d="M150 87.5l2.5-3.3l-2.4-0.2l-2.5 3.3z"/>
<path color="#089d58" d="M160 80.7l2.5-3.7l-2.5 0.1l-2.5 3.7z"/>
<path color="#13318e" d="M77 97.4l2.4-0.2l-2.4-1.9l-2.5 0.2z"/>
<path color="#141d7f" d="M115.8 101.2l2.4-1.9l-2.4-1l-2.4 1.9z"/>
<path color="#029c6b" d="M155 84.3l2.5-3.5l-2.5-0.1l-2.5 3.5z"/>
<path color="#122b86" d="M79.4 99.3l2.5-0.3l-2.5-1.8l-2.4 0.2z"/>
<path color="#141d7e" d="M89.2 102l2.4-0.7l-2.4-1.6l-2.5 0.6z"/>
<path color="#141a7b" d="M103.7 103.5l2.4-1.3l-2.4-1.2l-2.4 1.2z"/>
<path color="#123693" d="M127.9 99.7l2.5-2.4l-2.4-0.7l-2.5 2.3z"/>
<path color="#02769c" d="M142.6 93.4l2.5-3l-2.5-0.3l-2.4 3z"/>
<path color="#009779" d="M152.5 87.6l2.5-3.3l-2.5-0.1l-2.5 3.3z"/>
<path color="#103383" d="M74.5 97.4l2.5 0l-2.5-1.9l-2.4 0z"/>
<path color="#142283" d="M84.3 100.8l2.4-0.5l-2.4-1.7l-2.4 0.4z"/>
<path color="#141b7c" d="M94 102.8l2.4-0.9l-2.4-1.5l-2.4 0.9z"/>
<path color="#141a7b" d="M98.9 103.3l2.4-1.1l-2.4-1.3l-2.5 1z"/>
<path color="#141a7b" d="M108.5 103.4l2.5-1.5l-2.5-1.2l-2.4 1.5z"/>
<path color="#141c7d" d="M113.4 103l2.4-1.8l-2.4-1l-2.4 1.7z"/>
<path color="#141f81" d="M118.2 102.2l2.5-2l-2.5-0.9l-2.4 1.9z"/>
<path color="#132989" d="M123.1 101.1l2.4-2.2l-2.4-0.8l-2.4 2.1z"/>
<path color="#0e489b" d="M132.8 97.9l2.5-2.6l-2.5-0.5l-2.4 2.5z"/>
<path color="#085ea0" d="M137.7 95.8l2.5-2.7l-2.5-0.5l-2.4 2.7z"/>
<path color="#008a8e" d="M147.5 90.7l2.5-3.2l-2.4-0.2l-2.5 3.1z"/>
<path color="#049d65" d="M157.5 84.3l2.5-3.6l-2.5 0.1l-2.5 3.5z"/>
<path color="#0f2d7b" d="M77 99.3l2.4 0l-2.4-1.9l-2.5 0z"/>
<path color="#12267e" d="M81.9 101l2.4-0.2l-2.4-1.8l-2.5 0.3z"/>
<path color="#142081" d="M86.7 102.4l2.5-0.4l-2.5-1.7l-2.4 0.5z"/>
<path color="#141c7e" d="M91.6 103.5l2.4-0.7l-2.4-1.5l-2.4 0.7z"/>
<path color="#141a7b" d="M101.3 104.7l2.4-1.2l-2.4-1.3l-2.4 1.1z"/>
<path color="#141a7b" d="M106.1 104.8l2.4-1.4l-2.4-1.2l-2.4 1.3z"/>
<path color="#141d7f" d="M115.8 104l2.4-1.8l-2.4-1l-2.4 1.8z"/>
<path color="#132e8d" d="M125.5 101.8l2.4-2.1l-2.4-0.8l-2.4 2.2z"/>
<path color="#123b98" d="M130.4 100.3l2.4-2.4l-2.4-0.6l-2.5 2.4z"/>
<path color="#06669f" d="M140.2 96.2l2.4-2.8l-2.4-0.3l-2.5 2.7z"/>
<path color="#007e9a" d="M145.1 93.7l2.4-3l-2.4-0.3l-2.5 3z"/>
<path color="#009088" d="M150 90.8l2.5-3.2l-2.5-0.1l-2.5 3.2z"/>
<path color="#009b71" d="M155 87.7l2.5-3.4l-2.5 0l-2.5 3.3z"/>
<path color="#141b7c" d="M96.4 104.2l2.5-0.9l-2.5-1.4l-2.4 0.9z"/>
<path color="#141b7c" d="M111 104.5l2.4-1.5l-2.4-1.1l-2.5 1.5z"/>
<path color="#142384" d="M120.7 103.1l2.4-2l-2.4-0.9l-2.5 2z"/>
<path color="#0c509d" d="M135.3 98.4l2.4-2.6l-2.4-0.5l-2.5 2.6z"/>
<path color="#0f2973" d="M79.4 101.1l2.5-0.1l-2.5-1.7l-2.4 0z"/>
<path color="#112277" d="M84.3 102.7l2.4-0.3l-2.4-1.6l-2.4 0.2z"/>
<path color="#131d7b" d="M89.1 104l2.5-0.5l-2.4-1.5l-2.5 0.4z"/>
<path color="#141c7d" d="M94 104.9l2.4-0.7l-2.4-1.4l-2.4 0.7z"/>
<path color="#141b7c" d="M98.9 105.6l2.4-0.9l-2.4-1.4l-2.5 0.9z"/>
<path color="#141a7b" d="M103.7 105.9l2.4-1.1l-2.4-1.3l-2.4 1.2z"/>
<path color="#141b7c" d="M108.5 105.9l2.5-1.4l-2.5-1.1l-2.4 1.4z"/>
<path color="#141c7d" d="M113.4 105.5l2.4-1.5l-2.4-1l-2.4 1.5z"/>
<path color="#141e80" d="M118.2 104.8l2.5-1.7l-2.5-0.9l-2.4 1.8z"/>
<path color="#132787" d="M123.1 103.8l2.4-2l-2.4-0.7l-2.4 2z"/>
<path color="#133391" d="M127.9 102.5l2.5-2.2l-2.5-0.6l-2.4 2.1z"/>
<path color="#10439a" d="M132.8 100.8l2.5-2.4l-2.5-0.5l-2.4 2.4z"/>
<path color="#0a589f" d="M137.7 98.8l2.5-2.6l-2.5-0.4l-2.4 2.6z"/>
<path color="#046f9d" d="M142.6 96.5l2.5-2.8l-2.5-0.3l-2.4 2.8z"/>
<path color="#008593" d="M147.5 93.8l2.5-3l-2.5-0.1l-2.4 3z"/>
<path color="#009480" d="M152.5 90.9l2.5-3.2l-2.5-0.1l-2.5 3.2z"/>
<path color="#0e256c" d="M81.8 102.7l2.5 0l-2.4-1.7l-2.5 0.1z"/>
<path color="#141c7d" d="M96.4 106.3l2.5-0.7l-2.5-1.4l-2.4 0.7z"/>
<path color="#141b7d" d="M111 106.9l2.4-1.4l-2.4-1l-2.5 1.4z"/>
<path color="#142283" d="M120.7 105.6l2.4-1.8l-2.4-0.7l-2.5 1.7z"/>
<path color="#0d4c9c" d="M135.3 101.2l2.4-2.4l-2.4-0.4l-2.5 2.4z"/>
<path color="#008c8c" d="M150 93.9l2.5-3l-2.5-0.1l-2.5 3z"/>
<path color="#102070" d="M86.7 104.2l2.4-0.2l-2.4-1.6l-2.4 0.3z"/>
<path color="#121b75" d="M91.6 105.4l2.4-0.5l-2.4-1.4l-2.5 0.5z"/>
<path color="#141b7c" d="M101.3 106.8l2.4-0.9l-2.4-1.2l-2.4 0.9z"/>
<path color="#141b7c" d="M106.1 107l2.4-1.1l-2.4-1.1l-2.4 1.1z"/>
<path color="#141d7f" d="M115.8 106.4l2.4-1.6l-2.4-0.8l-2.4 1.5z"/>
<path color="#132c8c" d="M125.5 104.5l2.4-2l-2.4-0.7l-2.4 2z"/>
<path color="#123996" d="M130.4 103l2.4-2.2l-2.4-0.5l-2.5 2.2z"/>
<path color="#07629f" d="M140.2 99.1l2.4-2.6l-2.4-0.3l-2.5 2.6z"/>
<path color="#01799c" d="M145.1 96.7l2.4-2.9l-2.4-0.1l-2.5 2.8z"/>
<path color="#0d2265" d="M84.3 104.3l2.4-0.1l-2.4-1.5l-2.5 0z"/>
<path color="#111a6f" d="M94 106.8l2.4-0.5l-2.4-1.4l-2.4 0.5z"/>
<path color="#131b77" d="M98.8 107.6l2.5-0.8l-2.4-1.2l-2.5 0.7z"/>
<path color="#141c7d" d="M108.5 108.1l2.5-1.2l-2.5-1l-2.4 1.1z"/>
<path color="#141d7e" d="M113.4 107.8l2.4-1.4l-2.4-0.9l-2.4 1.4z"/>
<path color="#141f81" d="M118.2 107.2l2.5-1.6l-2.5-0.8l-2.4 1.6z"/>
<path color="#132888" d="M123.1 106.3l2.4-1.8l-2.4-0.7l-2.4 1.8z"/>
<path color="#114199" d="M132.8 103.5l2.5-2.3l-2.5-0.4l-2.4 2.2z"/>
<path color="#0b559e" d="M137.7 101.6l2.5-2.5l-2.5-0.3l-2.4 2.4z"/>
<path color="#008296" d="M147.5 96.7l2.5-2.8l-2.5-0.1l-2.4 2.9z"/>
<path color="#0f1d6a" d="M89.1 105.7l2.5-0.3l-2.5-1.4l-2.4 0.2z"/>
<path color="#141b7d" d="M103.7 108l2.4-1l-2.4-1.1l-2.4 0.9z"/>
<path color="#133290" d="M127.9 105.1l2.5-2.1l-2.5-0.5l-2.4 2z"/>
<path color="#056c9e" d="M142.6 99.3l2.5-2.6l-2.5-0.2l-2.4 2.6z"/>
<path color="#0f1c64" d="M91.6 107.1l2.4-0.3l-2.4-1.4l-2.5 0.3z"/>
<path color="#141e80" d="M115.8 108.6l2.4-1.4l-2.4-0.8l-2.4 1.4z"/>
<path color="#0860a0" d="M140.2 101.8l2.4-2.5l-2.4-0.2l-2.5 2.5z"/>
<path color="#0d1f5f" d="M86.7 105.8l2.4-0.1l-2.4-1.5l-2.4 0.1z"/>
<path color="#10196a" d="M96.4 108.1l2.4-0.5l-2.4-1.3l-2.4 0.5z"/>
<path color="#121a71" d="M101.3 108.7l2.4-0.7l-2.4-1.2l-2.5 0.8z"/>
<path color="#131b7a" d="M106.1 109l2.4-0.9l-2.4-1.1l-2.4 1z"/>
<path color="#141d7e" d="M111 109l2.4-1.2l-2.4-0.9l-2.5 1.2z"/>
<path color="#142485" d="M120.7 107.9l2.4-1.6l-2.4-0.7l-2.5 1.6z"/>
<path color="#132e8c" d="M125.5 106.9l2.4-1.8l-2.4-0.6l-2.4 1.8z"/>
<path color="#123996" d="M130.4 105.5l2.4-2l-2.4-0.5l-2.5 2.1z"/>
<path color="#0e4b9b" d="M135.3 103.8l2.4-2.2l-2.4-0.4l-2.5 2.3z"/>
<path color="#02769c" d="M145.1 99.4l2.4-2.7l-2.4 0l-2.5 2.6z"/>
<path color="#0c1e5a" d="M89.1 107.2l2.5-0.1l-2.5-1.4l-2.4 0.1z"/>
<path color="#0e1b5f" d="M94 108.4l2.4-0.3l-2.4-1.3l-2.4 0.3z"/>
<path color="#11196c" d="M103.7 109.8l2.4-0.8l-2.4-1l-2.4 0.7z"/>
<path color="#131e7d" d="M113.4 109.8l2.4-1.2l-2.4-0.8l-2.4 1.2z"/>
<path color="#142384" d="M118.2 109.3l2.5-1.4l-2.5-0.7l-2.4 1.4z"/>
<path color="#123592" d="M127.9 107.4l2.5-1.9l-2.5-0.4l-2.4 1.8z"/>
<path color="#0b559e" d="M137.7 104.1l2.5-2.3l-2.5-0.2l-2.4 2.2z"/>
<path color="#056b9e" d="M142.6 101.9l2.5-2.5l-2.5-0.1l-2.4 2.5z"/>
<path color="#0f1965" d="M98.8 109.3l2.5-0.6l-2.5-1.1l-2.4 0.5z"/>
<path color="#121b74" d="M108.5 110l2.5-1l-2.5-0.9l-2.4 0.9z"/>
<path color="#132a8a" d="M123.1 108.5l2.4-1.6l-2.4-0.6l-2.4 1.6z"/>
<path color="#10429a" d="M132.8 105.9l2.5-2.1l-2.5-0.3l-2.4 2z"/>
<path color="#0b1c54" d="M91.5 108.5l2.5-0.1l-2.4-1.3l-2.5 0.1z"/>
<path color="#0d1a5a" d="M96.4 109.6l2.4-0.3l-2.4-1.2l-2.4 0.3z"/>
<path color="#0e1960" d="M101.3 110.3l2.4-0.5l-2.4-1.1l-2.5 0.6z"/>
<path color="#101a68" d="M106.1 110.8l2.4-0.8l-2.4-1l-2.4 0.8z"/>
<path color="#111c70" d="M111 110.8l2.4-1l-2.4-0.8l-2.5 1z"/>
<path color="#12217a" d="M115.8 110.6l2.4-1.3l-2.4-0.7l-2.4 1.2z"/>
<path color="#132885" d="M120.7 110l2.4-1.5l-2.4-0.6l-2.5 1.4z"/>
<path color="#13318f" d="M125.5 109l2.4-1.6l-2.4-0.5l-2.4 1.6z"/>
<path color="#123c98" d="M130.4 107.7l2.4-1.8l-2.4-0.4l-2.5 1.9z"/>
<path color="#0d4d9c" d="M135.3 106.1l2.4-2l-2.4-0.3l-2.5 2.1z"/>
<path color="#0761a0" d="M140.2 104.2l2.4-2.3l-2.4-0.1l-2.5 2.3z"/>
<path color="#0f1b64" d="M108.5 111.6l2.5-0.8l-2.5-0.8l-2.4 0.8z"/>
<path color="#112c82" d="M123.1 110.5l2.4-1.5l-2.4-0.5l-2.4 1.5z"/>
<path color="#0a1b4f" d="M94 109.7l2.4-0.1l-2.4-1.2l-2.5 0.1z"/>
<path color="#0c1a55" d="M98.8 110.7l2.5-0.4l-2.5-1l-2.4 0.3z"/>
<path color="#0d1a5c" d="M103.7 111.3l2.4-0.5l-2.4-1l-2.4 0.5z"/>
<path color="#101f6d" d="M113.4 111.6l2.4-1l-2.4-0.8l-2.4 1z"/>
<path color="#112477" d="M118.2 111.2l2.5-1.2l-2.5-0.7l-2.4 1.3z"/>
<path color="#11378f" d="M128 109.4l2.4-1.7l-2.5-0.3l-2.4 1.6z"/>
<path color="#0f4699" d="M132.8 108l2.5-1.9l-2.5-0.2l-2.4 1.8z"/>
<path color="#0a599f" d="M137.7 106.3l2.5-2.1l-2.5-0.1l-2.4 2z"/>
<path color="#0a1b4b" d="M96.4 110.8l2.4-0.1l-2.4-1.1l-2.4 0.1z"/>
<path color="#0c1b58" d="M106.1 112.2l2.4-0.6l-2.4-0.8l-2.4 0.5z"/>
<path color="#0d1d60" d="M111 112.4l2.4-0.8l-2.4-0.8l-2.5 0.8z"/>
<path color="#0f2774" d="M120.7 111.7l2.4-1.2l-2.4-0.5l-2.5 1.2z"/>
<path color="#103080" d="M125.5 110.9l2.5-1.5l-2.5-0.4l-2.4 1.5z"/>
<path color="#0b4d93" d="M135.3 108.2l2.4-1.9l-2.4-0.2l-2.5 1.9z"/>
<path color="#0b1a51" d="M101.2 111.7l2.5-0.4l-2.4-1l-2.5 0.4z"/>
<path color="#0e2169" d="M115.8 112.2l2.4-1l-2.4-0.6l-2.4 1z"/>
<path color="#0e3c8a" d="M130.4 109.7l2.4-1.7l-2.4-0.3l-2.4 1.7z"/>
<path color="#0a1b4d" d="M103.7 112.6l2.4-0.4l-2.4-0.9l-2.5 0.4z"/>
<path color="#0d347b" d="M128 111.2l2.4-1.5l-2.4-0.3l-2.5 1.5z"/>
<path color="#091a46" d="M98.8 111.8l2.4-0.1l-2.4-1l-2.4 0.1z"/>
<path color="#0b1c54" d="M108.5 113l2.5-0.6l-2.5-0.8l-2.4 0.6z"/>
<path color="#0c1f5d" d="M113.4 113l2.4-0.8l-2.4-0.6l-2.4 0.8z"/>
<path color="#0d2466" d="M118.2 112.8l2.5-1.1l-2.5-0.5l-2.4 1z"/>
<path color="#0e2b71" d="M123.1 112.1l2.4-1.2l-2.4-0.4l-2.4 1.2z"/>
<path color="#0b4284" d="M132.8 109.9l2.5-1.7l-2.5-0.2l-2.4 1.7z"/>
<path color="#081a42" d="M101.2 112.7l2.5-0.1l-2.5-0.9l-2.4 0.1z"/>
<path color="#0a3a75" d="M130.4 111.4l2.4-1.5l-2.4-0.2l-2.4 1.5z"/>
<path color="#091b49" d="M106.1 113.4l2.4-0.4l-2.4-0.8l-2.4 0.4z"/>
<path color="#0b2159" d="M115.8 113.6l2.4-0.8l-2.4-0.6l-2.4 0.8z"/>
<path color="#0c2e6c" d="M125.5 112.5l2.5-1.3l-2.5-0.3l-2.4 1.2z"/>
<path color="#0a1d51" d="M110.9 113.6l2.5-0.6l-2.4-0.6l-2.5 0.6z"/>
<path color="#0c2663" d="M120.7 113.2l2.4-1.1l-2.4-0.4l-2.5 1.1z"/>
<path color="#061a3d" d="M103.7 113.5l2.4-0.1l-2.4-0.8l-2.5 0.1z"/>
<path color="#081c45" d="M108.5 114l2.4-0.4l-2.4-0.6l-2.4 0.4z"/>
<path color="#091e4d" d="M113.4 114.2l2.4-0.6l-2.4-0.6l-2.5 0.6z"/>
<path color="#0a2355" d="M118.2 114l2.5-0.8l-2.5-0.4l-2.4 0.8z"/>
<path color="#092a5e" d="M123.1 113.5l2.4-1l-2.4-0.4l-2.4 1.1z"/>
<path color="#083366" d="M128 112.7l2.4-1.3l-2.4-0.2l-2.5 1.3z"/>
<path color="#051a37" d="M106.1 114.2l2.4-0.2l-2.4-0.6l-2.4 0.1z"/>
<path color="#061c3f" d="M110.9 114.6l2.5-0.4l-2.5-0.6l-2.4 0.4z"/>
<path color="#072047" d="M115.8 114.7l2.4-0.7l-2.4-0.4l-2.4 0.6z"/>
<path color="#072650" d="M120.7 114.4l2.4-0.9l-2.4-0.3l-2.5 0.8z"/>
<path color="#072d58" d="M125.5 113.7l2.5-1l-2.5-0.2l-2.4 1z"/>
<path color="#041a32" d="M108.5 114.8l2.4-0.2l-2.4-0.6l-2.4 0.2z"/>
<path color="#051d3a" d="M113.4 115.1l2.4-0.4l-2.4-0.5l-2.5 0.4z"/>
<path color="#052242" d="M118.2 115l2.5-0.6l-2.5-0.4l-2.4 0.7z"/>
<path color="#05284a" d="M123.1 114.6l2.4-0.9l-2.4-0.2l-2.4 0.9z"/>
<path color="#031e35" d="M115.8 115.4l2.4-0.4l-2.4-0.3l-2.4 0.4z"/>
<path color="#031a2d" d="M110.9 115.3l2.5-0.2l-2.5-0.5l-2.4 0.2z"/>
<path color="#03233d" d="M120.7 115.3l2.4-0.7l-2.4-0.2l-2.5 0.6z"/>
<path color="#021928" d="M113.4 115.6l2.4-0.2l-2.4-0.3l-2.5 0.2z"/>
<path color="#021e2f" d="M118.2 115.7l2.5-0.4l-2.5-0.3l-2.4 0.4z"/>
<path color="#011822" d="M115.8 115.9l2.4-0.2l-2.4-0.3l-2.4 0.2z"/>
</g>
<circle cx="115.8" cy="115.9" r="1.05" fill="#f3a0b0"/>
<circle cx="165.1" cy="73.1" r="1.05" fill="#f3a0b0"/>
<circle cx="67.2" cy="91.4" r="1.05" fill="#e00"/>
<circle cx="115.8" cy="57.3" r="1.05" fill="#e00"/>
<circle cx="115.8" cy="96.1" r="1.05" fill="#e00"/>
<g font-size="3.3" fill="#1a1a1a" stroke="#1a1a1a" stroke-width="0.07">
<text x="65.9" y="111.5" text-anchor="end">8</text>
<circle cx="67.8" cy="112.4" r="0.5" fill="#222"/>
<text x="65.5" y="96.8" text-anchor="end">9</text>
<circle cx="67.4" cy="97.7" r="0.5" fill="#222"/>
<text x="65.1" y="82.1" text-anchor="end">10</text>
<circle cx="67.0" cy="83.0" r="0.5" fill="#222"/>
<text x="64.6" y="67.4" text-anchor="end">11</text>
<circle cx="66.5" cy="68.3" r="0.5" fill="#222"/>
<text x="64.2" y="52.6" text-anchor="end">12</text>
<circle cx="66.1" cy="53.5" r="0.5" fill="#222"/>
<text x="63.8" y="37.9" text-anchor="end">13</text>
<circle cx="65.7" cy="38.8" r="0.5" fill="#222"/>
<circle cx="115.8" cy="169.6" r="0.45" fill="#222"/>
<text x="118.6" y="172.7">150.00</text>
<circle cx="120.5" cy="166.2" r="0.45" fill="#222"/>
<text x="123.3" y="169.3">155.00</text>
<circle cx="125.2" cy="162.8" r="0.45" fill="#222"/>
<text x="128.0" y="165.9">160.00</text>
<circle cx="130.0" cy="159.4" r="0.45" fill="#222"/>
<text x="132.8" y="162.5">165.00</text>
<circle cx="134.7" cy="156.0" r="0.45" fill="#222"/>
<text x="137.5" y="159.1">170.00</text>
<circle cx="139.4" cy="152.6" r="0.45" fill="#222"/>
<text x="142.2" y="155.7">175.00</text>
<circle cx="144.1" cy="149.2" r="0.45" fill="#222"/>
<text x="146.9" y="152.3">180.00</text>
<circle cx="148.8" cy="145.8" r="0.45" fill="#222"/>
<text x="151.6" y="148.9">185.00</text>
<circle cx="153.6" cy="142.4" r="0.45" fill="#222"/>
<text x="156.4" y="145.5">190.00</text>
<circle cx="158.3" cy="139.0" r="0.45" fill="#222"/>
<text x="161.1" y="142.1">195.00</text>
<circle cx="163.0" cy="135.6" r="0.45" fill="#222"/>
<text x="165.8" y="138.7">200.00</text>
<circle cx="115.8" cy="169.6" r="0.45" fill="#222"/>
<text x="113.8" y="172.7" text-anchor="end">1100.00</text>
<circle cx="104.0" cy="161.1" r="0.45" fill="#222"/>
<text x="102.0" y="164.2" text-anchor="end">1150.00</text>
<circle cx="92.2" cy="152.6" r="0.45" fill="#222"/>
<text x="90.2" y="155.7" text-anchor="end">1200.00</text>
<circle cx="80.3" cy="144.1" r="0.45" fill="#222"/>
<text x="78.3" y="147.2" text-anchor="end">1250.00</text>
<circle cx="68.5" cy="135.6" r="0.45" fill="#222"/>
<text x="66.5" y="138.7" text-anchor="end">1300.00</text>
</g>
<g font-size="5" fill="#222" stroke="#222" stroke-width="0.18">
<text x="157.8" y="167.2" text-anchor="middle">B: LP</text>
<text x="73.8" y="167.2" text-anchor="middle">C: SS</text>
<text transform="translate(53.0 89.0) rotate(-90)" text-anchor="middle">R2</text>
</g>
</g>
<text x="89.8" y="382.2" text-anchor="middle" font-family="'Liberation Serif',serif" font-size="11.5" font-weight="bold" fill="#111">(d)</text></g>
<g><g transform="translate(187.9 196.6) scale(0.9826 0.98)">
<g font-size="3.75" stroke-width="0.06">
<circle cx="7.0" cy="9.1" r="0.95" fill="#e00"/>
<text x="10.6" y="10.8" fill="#e8202a" stroke="#e8202a">Design points above predicted value</text>
<circle cx="7.0" cy="13.4" r="0.85" fill="#f3b0b8"/>
<text x="10.6" y="14.7" fill="#f8c4cc">Design points below predicted value</text>
<rect x="5.7" y="16.0" width="3.3" height="14.6" fill="url(#cb)"/>
<rect x="5.7" y="16.0" width="3.3" height="14.6" fill="url(#ce)"/>
<text x="10.8" y="19.8" fill="#e8202a" stroke="#e8202a">12.78</text>
<text x="10.8" y="29.1" fill="#2030e0">9.01</text>
<g fill="#2a2a2a"><text x="5.0" y="38.0">X1 = B: LP</text>
<text x="5.0" y="42.6">X2 = D: LT</text>
<text x="5.0" y="52.2">Actual Factors</text>
<text x="5.0" y="56.4">A: DA = -1.00</text>
<text x="5.0" y="61.2">C: SS = 1200.00</text></g></g>
<path d="M67.8 112.4L65.7 38.8M72.6 110.1L70.7 37.1M77.4 107.7L75.7 35.4M82.2 105.3L80.7 33.7M87.0 102.9L85.7 32.0M91.8 100.6L90.7 30.3M96.6 98.2L95.7 28.6M101.4 95.8L100.8 26.9M106.2 93.4L105.8 25.2M111.0 91.1L110.8 23.5M115.8 88.7L115.8 21.8M163.8 112.5L166.2 38.8M151.8 106.5L153.6 34.5M139.8 100.6L141.0 30.3M127.8 94.6L128.4 26.1" stroke="#6a6a6a" stroke-width="0.4" fill="none"/>
<path d="M67.8 112.4L115.8 88.7M115.8 88.7L163.8 112.5M67.4 97.7L115.8 75.3M115.8 75.3L164.3 97.7M67.0 83.0L115.8 61.9M115.8 61.9L164.7 83.0M66.5 68.3L115.8 48.6M115.8 48.6L165.2 68.3M66.1 53.5L115.8 35.2M115.8 35.2L165.7 53.5M65.7 38.8L115.8 21.8M115.8 21.8L166.2 38.8M68.5 135.6L65.7 38.8M163.0 135.6L163.8 112.5" stroke="#555" stroke-width="0.42" fill="none"/>
<polygon points="115.8,169.6 163.0,135.6 115.8,109.7 68.5,135.6" fill="#ffff00"/>
<path d="M111.2 165.1L110.3 165.6M79.5 142.5L79.3 143.3M79.5 142.5L79.5 142.4M112.0 164.6L111.2 165.1M79.7 141.5L79.5 142.4M112.8 164.1L112.0 164.6M79.7 141.3L79.7 141.5M79.7 141.3L79.9 140.7M113.6 163.6L112.8 164.1M80.0 140.1L79.9 140.7M80.0 140.1L80.1 139.8M114.4 163.0L113.6 163.6M80.4 139.0L80.1 139.8M115.2 162.4L114.4 163.0M80.4 138.9L80.4 139.0M80.4 138.9L80.7 138.2M115.9 161.8L115.2 162.4M80.9 137.6L80.7 138.2M80.9 137.6L81.0 137.4M116.6 161.2L115.9 161.8M81.3 136.6L81.0 137.4M116.8 161.1L116.6 161.2M116.8 161.1L117.3 160.6M81.4 136.3L81.3 136.6M81.4 136.3L81.6 135.9M118.0 160.0L117.3 160.6M82.0 135.1L81.6 135.9M118.6 159.3L118.0 160.0M82.1 134.9L82.0 135.1M82.1 134.9L82.4 134.4M119.3 158.7L118.6 159.3M82.8 133.7L82.4 134.4M119.9 158.0L119.3 158.7M82.9 133.5L82.8 133.7M82.9 133.5L83.2 133.0M120.4 157.5L119.9 158.0M120.4 157.5L120.5 157.4M83.6 132.3L83.2 133.0M121.1 156.7L120.5 157.4M83.8 132.0L83.6 132.3M83.8 132.0L84.1 131.6M121.6 156.0L121.1 156.7M84.6 131.0L84.1 131.6M122.2 155.3L121.6 156.0M85.0 130.4L84.6 131.0M85.0 130.4L85.0 130.3M122.4 155.0L122.2 155.3M122.4 155.0L122.7 154.6M85.5 129.7L85.0 130.3M123.2 153.8L122.7 154.6M86.1 129.1L85.5 129.7M123.7 153.1L123.2 153.8M86.5 128.6L86.1 129.1M86.5 128.6L86.6 128.5M123.9 152.9L123.7 153.1M123.9 152.9L124.2 152.4M87.1 127.9L86.6 128.5M124.7 151.6L124.2 152.4M87.7 127.3L87.1 127.9M125.0 151.0L124.7 151.6M125.0 151.0L125.1 150.8M88.3 126.7L87.7 127.3M125.6 150.1L125.1 150.8M88.6 126.5L88.3 126.7M88.6 126.5L88.9 126.2M126.0 149.3L125.6 150.1M126.0 149.3L126.0 149.3M89.5 125.6L88.9 126.2M126.4 148.5L126.0 149.3M90.2 125.1L89.5 125.6M126.7 147.8L126.4 148.5M126.7 147.8L126.8 147.7M90.8 124.6L90.2 125.1M127.1 146.9L126.8 147.7M91.5 124.1L90.8 124.6M127.4 146.3L127.1 146.9M127.4 146.3L127.5 146.1M92.2 123.6L91.5 124.1M127.8 145.2L127.5 146.1M92.4 123.4L92.2 123.6M92.4 123.4L92.9 123.1M127.9 144.9L127.8 145.2M127.9 144.9L128.1 144.4M93.6 122.6L92.9 123.1M128.4 143.6L128.1 144.4M94.4 122.2L93.6 122.6M128.4 143.5L128.4 143.6M128.4 143.5L128.7 142.7M95.1 121.7L94.4 122.2M128.8 142.2L128.7 142.7M128.8 142.2L128.9 141.8M95.9 121.3L95.1 121.7M129.1 141.0L128.9 141.8M129.1 141.0L129.1 141.0M96.8 120.9L95.9 121.3M129.3 140.1L129.1 141.0M97.6 120.5L96.8 120.9M129.4 139.8L129.3 140.1M129.4 139.8L129.5 139.2M98.5 120.1L98.4 120.1M98.4 120.1L97.6 120.5M129.5 138.7L129.5 139.2M129.5 138.7L129.6 138.2M99.4 119.7L98.5 120.1M129.7 137.6L129.6 138.2M129.7 137.6L129.7 137.3M100.3 119.4L99.4 119.7M129.8 136.6L129.7 137.3M129.8 136.6L129.8 136.3M101.3 119.1L100.3 119.4M129.8 135.5L129.8 136.3M129.8 135.5L129.8 135.4M102.3 118.8L101.3 119.1M129.8 134.5L129.8 135.4M129.8 134.5L129.8 134.4M103.3 118.5L102.8 118.6M102.8 118.6L102.3 118.8M129.8 133.6L129.8 134.4M129.8 133.6L129.8 133.4M104.4 118.2L103.3 118.5M129.7 132.7L129.8 133.4M129.7 132.7L129.7 132.3M105.5 118.0L104.4 118.2M129.6 131.8L129.7 132.3M129.6 131.8L129.5 131.3M106.7 117.8L105.6 118.0M105.6 118.0L105.5 118.0M129.4 130.9L129.5 131.3M129.4 130.9L129.3 130.2M108.0 117.6L107.8 117.7M107.8 117.7L106.7 117.8M129.3 130.0L129.3 130.2M129.3 130.0L129.0 129.2M129.0 129.2L129.0 129.0M109.4 117.5L108.0 117.6M128.8 128.4L129.0 129.0M128.8 128.4L128.5 127.8M110.8 117.5L109.7 117.5M109.7 117.5L109.4 117.5M128.5 127.7L128.5 127.8M128.5 127.7L128.1 126.9M128.1 126.9L127.9 126.5M112.5 117.5L111.3 117.5M111.3 117.5L110.8 117.5M127.8 126.2L127.9 126.5M127.8 126.2L127.4 125.5M127.4 125.5L127.1 125.1M114.3 117.7L114.1 117.7M114.1 117.7L112.8 117.6M112.8 117.6L112.5 117.5M126.9 124.8L127.1 125.1M126.9 124.8L126.5 124.2M126.5 124.2L126.0 123.6M126.0 123.6L125.8 123.4M116.6 118.1L116.6 118.1M116.6 118.1L115.4 117.9M115.4 117.9L114.3 117.7M125.4 123.0L125.8 123.4M125.4 123.0L124.8 122.4M124.8 122.4L124.2 121.8M124.2 121.8L123.6 121.3M123.6 121.3L122.9 120.8M122.9 120.8L122.7 120.7M120.8 119.6L120.5 119.5M120.5 119.5L119.6 119.1M119.6 119.1L118.6 118.7M118.6 118.7L117.6 118.4M117.6 118.4L116.6 118.1M122.1 120.3L122.7 120.7M122.1 120.3L121.3 119.9M121.3 119.9L120.8 119.6" stroke="#6fe04a" stroke-width="0.5" fill="none" stroke-linecap="round"/>
<path d="M113.7 166.9L112.8 167.5M76.9 140.9L76.8 141.5M76.9 140.9L77.0 140.6M114.5 166.4L113.7 166.9M77.2 139.8L77.0 140.6M115.2 165.8L114.5 166.4M77.2 139.7L77.2 139.8M77.2 139.7L77.5 139.0M116.0 165.2L115.2 165.8M77.6 138.5L77.5 139.0M77.6 138.5L77.7 138.1M116.7 164.7L116.0 165.2M78.0 137.3L77.7 138.1M117.5 164.1L116.7 164.7M78.1 137.2L78.0 137.3M78.1 137.2L78.3 136.6M118.2 163.4L117.5 164.1M78.6 135.9L78.3 136.6M78.6 135.9L78.7 135.8M118.4 163.3L118.2 163.4M118.4 163.3L118.9 162.8M79.0 135.0L78.7 135.8M119.5 162.2L118.9 162.8M79.3 134.6L79.0 135.0M79.3 134.6L79.4 134.3M120.2 161.5L119.5 162.2M79.8 133.6L79.4 134.3M120.8 160.9L120.2 161.5M80.0 133.2L79.8 133.6M80.0 133.2L80.2 132.9M121.5 160.2L120.8 160.9M80.6 132.2L80.2 132.9M122.0 159.6L121.5 160.2M122.0 159.6L122.1 159.5M80.9 131.7L80.6 132.2M80.9 131.7L81.0 131.5M122.7 158.8L122.1 159.5M81.4 130.8L81.0 131.5M123.2 158.1L122.7 158.8M81.9 130.2L81.4 130.8M123.8 157.4L123.2 158.1M81.9 130.1L81.9 130.2M81.9 130.1L82.4 129.5M124.1 157.0L123.8 157.4M124.1 157.0L124.3 156.7M82.9 128.9L82.4 129.5M124.9 156.0L124.3 156.7M83.2 128.5L82.9 128.9M83.2 128.5L83.4 128.3M125.4 155.3L124.9 156.0M83.9 127.6L83.4 128.3M125.7 154.8L125.4 155.3M125.7 154.8L125.9 154.5M84.4 127.0L83.9 127.6M126.4 153.8L125.9 154.5M84.8 126.7L84.4 127.0M126.9 153.0L126.4 153.8M126.9 152.9L126.9 153.0M126.9 152.9L127.3 152.3M127.8 151.5L127.3 152.3M128.0 151.1L127.8 151.5M128.0 151.1L128.2 150.7M128.6 149.9L128.2 150.7M128.8 149.5L128.6 149.9M128.8 149.5L129.0 149.1M129.4 148.3L129.0 149.1M129.6 147.9L129.4 148.3M129.6 147.9L129.7 147.5M130.1 146.7L129.7 147.5M130.2 146.4L130.1 146.7M130.2 146.4L130.4 145.9M130.7 145.0L130.4 145.9M130.7 145.0L130.7 145.0M130.7 145.0L131.0 144.2M131.2 143.7L131.0 144.2M131.2 143.7L131.3 143.3M131.6 142.5L131.3 143.3M131.6 142.4L131.6 142.5M131.6 142.4L131.8 141.6M131.9 141.2L131.8 141.6M131.9 141.2L132.0 140.7M132.2 140.0L132.0 140.7M132.2 140.0L132.2 139.8M132.4 138.9L132.2 139.8M132.4 138.8L132.4 138.9M132.4 138.8L132.5 138.0M132.6 137.7L132.5 138.0M132.6 137.7L132.6 137.1M132.7 136.6L132.6 137.1M132.7 136.6L132.7 136.1M132.8 135.6L132.7 136.1M132.8 135.6L132.8 135.2M132.8 134.6L132.8 135.2M132.8 134.6L132.8 134.2M132.8 133.6L132.8 134.2M132.8 133.6L132.8 133.2M132.8 132.6L132.8 133.2M132.8 132.6L132.7 132.2M132.7 131.7L132.7 132.2M132.7 131.7L132.6 131.2M105.7 115.4L105.2 115.5M132.6 130.8L132.6 131.2M132.6 130.8L132.5 130.1M106.9 115.2L105.7 115.4M132.4 129.9L132.5 130.1M132.4 129.9L132.3 129.1M132.3 129.1L132.2 129.0M108.2 115.0L107.5 115.1M107.5 115.1L106.9 115.2M132.0 128.3L132.2 129.0M132.0 128.3L131.9 127.9M109.5 114.9L108.2 115.0M131.8 127.5L131.9 127.9M131.8 127.5L131.5 126.7M110.9 114.9L109.5 114.9M109.5 114.9L109.5 114.9M131.5 126.7L131.5 126.7M131.5 126.7L131.2 125.9M131.2 125.9L131.0 125.5M112.5 114.9L111.2 114.8M111.2 114.8L110.9 114.9M130.9 125.2L131.0 125.5M130.9 125.2L130.5 124.5M130.5 124.5L130.3 124.1M114.2 114.9L112.8 114.9M112.8 114.9L112.5 114.9M130.1 123.8L130.3 124.1M130.1 123.8L129.7 123.1M129.7 123.1L129.4 122.7M116.2 115.2L115.6 115.1M115.6 115.1L114.2 114.9M114.2 114.9L114.2 114.9M129.3 122.5L129.4 122.7M129.3 122.5L128.8 121.8M128.8 121.8L128.3 121.2M128.3 121.2L127.9 120.9M118.7 115.7L118.0 115.5M118.0 115.5L116.8 115.3M116.8 115.3L116.2 115.2M127.7 120.7L127.9 120.9M127.7 120.7L127.1 120.1M127.1 120.1L126.5 119.5M126.5 119.5L125.8 119.0M125.8 119.0L125.1 118.5M125.1 118.5L124.4 118.1M124.4 118.1L123.6 117.6M123.6 117.6L122.8 117.2M122.8 117.2L121.9 116.8M121.9 116.8L121.0 116.4M121.0 116.4L120.1 116.1M120.1 116.1L119.0 115.8M119.0 115.8L118.7 115.7" stroke="#6fe04a" stroke-width="0.5" fill="none" stroke-linecap="round"/>
<path d="M116.0 168.6L115.2 169.2M74.6 139.2L74.4 139.8M74.6 139.2L74.7 139.0M116.7 168.0L116.0 168.6M74.9 138.2L74.7 139.0M117.5 167.4L116.7 168.0M75.0 138.0L74.9 138.2M75.0 138.0L75.2 137.3M118.2 166.8L117.5 167.4M75.5 136.7L75.2 137.3M75.5 136.7L75.5 136.6M119.0 166.2L118.2 166.8M75.8 135.8L75.5 136.6M119.1 166.1L119.0 166.2M119.1 166.1L119.7 165.6M76.0 135.4L75.8 135.8M76.0 135.4L76.2 135.0M120.3 165.0L119.7 165.6M76.5 134.3L76.2 135.0M121.0 164.3L120.3 165.0M76.6 134.1L76.5 134.3M76.6 134.1L76.9 133.5M121.7 163.7L121.0 164.3M77.3 132.8L76.9 133.5M122.3 163.0L121.7 163.7M77.3 132.7L77.3 132.8M77.3 132.7L77.6 132.1M122.9 162.3L122.3 163.0M78.1 131.4L77.6 132.1M123.2 162.1L122.9 162.3M123.2 162.1L123.6 161.6M78.2 131.2L78.1 131.4M78.2 131.2L78.5 130.7M124.2 161.0L123.6 161.6M78.9 130.1L78.5 130.7M124.7 160.3L124.2 161.0M79.1 129.7L78.9 130.1M125.3 159.6L124.7 160.3M125.5 159.3L125.3 159.6M125.5 159.3L125.9 158.8M126.4 158.1L125.9 158.8M126.9 157.4L126.4 158.1M127.2 157.0L126.9 157.4M127.2 157.0L127.5 156.6M128.0 155.9L127.5 156.6M128.5 155.2L128.0 155.9M128.6 155.0L128.5 155.2M128.6 155.0L128.9 154.4M129.4 153.6L128.9 154.4M129.7 153.1L129.4 153.6M129.7 153.1L129.9 152.9M130.3 152.1L129.9 152.9M130.7 151.3L130.3 152.1M130.7 151.3L130.7 151.3M131.1 150.5L130.7 151.3M131.5 149.7L131.1 150.5M131.5 149.7L131.5 149.7M131.9 148.9L131.5 149.7M132.2 148.2L131.9 148.9M132.2 148.2L132.3 148.1M132.6 147.2L132.3 148.1M132.8 146.7L132.6 147.2M132.8 146.7L132.9 146.4M133.3 145.6L132.9 146.4M133.4 145.3L133.3 145.6M133.4 145.3L133.6 144.7M133.8 144.0L133.6 144.7M133.8 144.0L133.8 143.9M134.1 143.0L133.8 143.9M134.2 142.7L134.1 143.0M134.2 142.7L134.4 142.2M134.6 141.4L134.4 142.2M134.6 141.4L134.6 141.3M134.8 140.4L134.6 141.3M134.8 140.2L134.8 140.4M134.8 140.2L135.0 139.5M135.1 139.0L135.0 139.5M135.1 139.0L135.2 138.6M135.3 137.9L135.2 138.6M135.3 137.9L135.3 137.7M135.4 136.8L135.3 137.7M135.4 136.8L135.4 136.7M135.5 135.8L135.4 136.7M135.5 135.7L135.5 135.8M135.5 135.7L135.6 134.9M135.6 134.7L135.6 134.9M135.6 134.7L135.6 133.9M135.6 133.7L135.6 133.9M135.6 133.7L135.6 132.9M135.6 132.7L135.6 132.9M135.6 132.7L135.6 131.9M135.6 131.8L135.6 131.9M135.6 131.8L135.5 130.9M135.5 130.8L135.5 130.9M135.5 130.8L135.4 129.9M135.4 129.9L135.4 129.9M135.3 129.1L135.4 129.9M135.3 129.1L135.2 128.8M135.1 128.2L135.2 128.8M135.1 128.2L135.0 127.7M134.9 127.4L135.0 127.7M134.9 127.4L134.7 126.6M134.7 126.6L134.7 126.6M134.7 126.6L134.5 125.8M134.5 125.8L134.3 125.5M111.2 112.4L110.9 112.4M134.2 125.0L134.3 125.5M134.2 125.0L133.9 124.3M133.9 124.3L133.9 124.2M112.7 112.4L112.5 112.4M112.5 112.4L111.2 112.4M133.5 123.5L133.9 124.2M133.5 123.5L133.3 123.0M114.4 112.4L114.1 112.4M114.1 112.4L112.7 112.4M133.2 122.8L133.3 123.0M133.2 122.8L132.8 122.1M132.8 122.1L132.4 121.6M116.3 112.6L115.5 112.5M115.5 112.5L114.4 112.4M132.4 121.5L132.4 121.6M132.4 121.5L131.9 120.8M131.9 120.8L131.5 120.2M131.5 120.2L131.3 120.0M118.4 112.9L118.0 112.8M118.0 112.8L116.8 112.6M116.8 112.6L116.3 112.6M130.9 119.6L131.3 120.0M130.9 119.6L130.4 119.0M130.4 119.0L129.8 118.4M129.8 118.4L129.5 118.1M121.2 113.6L120.3 113.3M120.3 113.3L119.2 113.0M119.2 113.0L118.4 112.9M129.3 117.9L129.5 118.1M129.3 117.9L128.6 117.4M128.6 117.4L128.0 116.9M128.0 116.9L127.3 116.4M127.3 116.4L126.5 115.9M126.5 115.9L125.8 115.5M125.8 115.5L125.0 115.0M125.0 115.0L124.1 114.6M124.1 114.6L123.2 114.3M123.2 114.3L122.3 113.9M122.3 113.9L121.3 113.6M121.3 113.6L121.2 113.6" stroke="#6fe04a" stroke-width="0.5" fill="none" stroke-linecap="round"/>
<path d="M72.3 137.5L72.1 138.1M72.3 137.5L72.4 137.3M72.7 136.5L72.4 137.3M72.8 136.2L72.7 136.5M72.8 136.2L73.0 135.7M73.3 135.0L73.0 135.7M73.3 134.9L73.3 135.0M73.3 134.9L73.6 134.2M73.9 133.6L73.6 134.2M73.9 133.6L74.0 133.5M74.3 132.8L74.0 133.5M74.6 132.2L74.3 132.8M127.0 161.6L127.4 161.0M128.0 160.3L127.4 161.0M128.5 159.5L128.0 160.3M128.8 159.1L128.5 159.5M128.8 159.1L129.0 158.8M129.6 158.0L129.0 158.8M130.1 157.3L129.6 158.0M130.3 157.0L130.1 157.3M130.3 157.0L130.6 156.5M131.0 155.8L130.6 156.5M131.5 155.0L131.0 155.8M131.5 155.0L131.5 155.0M132.0 154.2L131.5 155.0M132.4 153.5L132.0 154.2M132.5 153.2L132.4 153.5M132.5 153.2L132.8 152.7M133.3 151.9L132.8 152.7M133.4 151.5L133.3 151.9M133.4 151.5L133.7 151.1M134.1 150.3L133.7 151.1M134.2 149.9L134.1 150.3M134.2 149.9L134.4 149.4M134.8 148.6L134.4 149.4M134.9 148.4L134.8 148.6M134.9 148.4L135.1 147.8M135.5 147.0L135.1 147.8M135.5 146.9L135.5 147.0M135.5 146.9L135.8 146.1M136.0 145.5L135.8 146.1M136.0 145.5L136.1 145.3M136.4 144.4L136.1 145.3M136.5 144.2L136.4 144.4M136.5 144.2L136.7 143.6M136.9 142.9L136.7 143.6M136.9 142.9L136.9 142.7M137.2 141.8L136.9 142.7M137.2 141.6L137.2 141.8M137.2 141.6L137.4 141.0M137.5 140.4L137.4 141.0M137.5 140.4L137.6 140.1M137.8 139.2L137.6 140.1M137.8 139.2L137.8 139.2M138.0 138.3L137.8 139.2M138.0 138.1L138.0 138.3M138.0 138.1L138.1 137.4M138.2 136.9L138.1 137.4M138.2 136.9L138.2 136.4M138.3 135.9L138.2 136.4M138.3 135.9L138.3 135.5M138.4 134.8L138.3 135.5M138.4 134.8L138.4 134.6M138.5 133.8L138.4 134.6M138.5 133.8L138.5 133.6M138.5 132.8L138.5 133.6M138.5 132.8L138.5 132.6M138.5 131.8L138.5 132.6M138.5 131.8L138.5 131.7M138.5 130.9L138.5 131.7M138.5 130.9L138.4 130.7M138.4 129.9L138.4 130.7M138.4 129.9L138.4 129.6M138.3 129.0L138.4 129.6M138.3 129.0L138.2 128.6M138.2 128.2L138.2 128.6M138.2 128.2L138.1 127.6M138.0 127.3L138.1 127.6M138.0 127.3L137.9 126.5M137.8 126.5L137.9 126.5M137.8 126.5L137.6 125.6M137.6 125.6L137.6 125.4M137.4 124.8L137.6 125.4M137.4 124.8L137.2 124.2M137.2 124.1L137.2 124.2M137.2 124.1L136.9 123.3M136.9 123.3L136.8 123.1M136.6 122.6L136.8 123.1M136.6 122.6L136.2 121.9M136.2 121.9L136.2 121.8M135.9 121.2L136.2 121.8M135.9 121.2L135.5 120.5M116.3 110.0L115.4 109.9" stroke="#6fe04a" stroke-width="0.5" fill="none" stroke-linecap="round"/>
<path d="M69.7 135.9L69.6 136.3M69.7 135.9L69.9 135.5M70.2 134.8L69.9 135.5M70.3 134.6L70.2 134.8M133.7 156.7L133.8 156.5M134.3 155.7L133.8 156.5M134.7 155.0L134.3 155.7M134.8 154.8L134.7 155.0M134.8 154.8L135.2 154.2M135.6 153.4L135.2 154.2M135.8 153.1L135.6 153.4M135.8 153.1L136.0 152.6M136.4 151.8L136.0 152.6M136.6 151.4L136.4 151.8M136.6 151.4L136.8 151.0M137.2 150.1L136.8 151.0M137.3 149.8L137.2 150.1M137.3 149.8L137.6 149.3M137.9 148.5L137.6 149.3M138.0 148.3L137.9 148.5M138.0 148.3L138.2 147.7M138.6 146.9L138.2 147.7M138.6 146.9L138.6 146.8M138.9 146.0L138.6 146.8M139.1 145.5L138.9 146.0M139.1 145.5L139.2 145.1M139.5 144.3L139.2 145.1M139.5 144.1L139.5 144.3M139.5 144.1L139.7 143.4M139.9 142.8L139.7 143.4M139.9 142.8L140.0 142.5M140.2 141.7L140.0 142.5M140.3 141.6L140.2 141.7M140.3 141.6L140.5 140.8M140.6 140.3L140.5 140.8M140.6 140.3L140.7 139.9M140.8 139.1L140.7 139.9M140.8 139.1L140.9 139.0M141.0 138.1L140.9 139.0M141.1 138.0L141.0 138.1M141.1 138.0L141.2 137.2M141.2 136.9L141.2 137.2M141.2 136.9L141.3 136.3M141.4 135.8L141.3 136.3M141.4 135.8L141.4 135.3M141.5 134.7L141.4 135.3M141.5 134.7L141.5 134.4M141.6 133.7L141.5 134.4M141.6 133.7L141.6 133.4M141.6 132.6L141.6 133.4M141.6 132.6L141.6 132.5M141.7 131.7L141.6 132.5M141.7 131.7L141.7 131.5M141.6 130.7L141.7 131.5M141.6 130.7L141.6 130.5M141.6 129.7L141.6 130.5M141.6 129.7L141.6 129.6M141.5 128.8L141.6 129.6M141.5 128.8L141.5 128.6M141.4 127.9L141.5 128.6M141.4 127.9L141.4 127.5M141.3 127.1L141.4 127.5M141.3 127.1L141.2 126.5M141.2 126.2L141.2 126.5M141.2 126.2L141.0 125.4M141.0 125.4L141.0 125.4M141.0 125.4L140.8 124.5M140.8 124.5L140.8 124.3M140.6 123.7L140.8 124.3M140.6 123.7L140.5 123.2" stroke="#6fe04a" stroke-width="0.5" fill="none" stroke-linecap="round"/>
<path d="M115.8 169.6L163.0 135.6M115.8 169.6L68.5 135.6" stroke="#333" stroke-width="0.4" fill="none"/>
<g fill="currentColor" stroke="currentColor" stroke-width="0.8" stroke-linejoin="round">
<path color="#009c6f" d="M115.4 63.7l2.4-2.6l-2-1.8l-2.4 2.5z"/>
<path color="#009977" d="M117.3 65.4l2.5-2.8l-2-1.5l-2.4 2.6z"/>
<path color="#00967c" d="M112.9 66.2l2.5-2.5l-2-1.9l-2.5 2.4z"/>
<path color="#00967d" d="M119.3 66.9l2.4-2.9l-1.9-1.4l-2.5 2.8z"/>
<path color="#009284" d="M114.9 68l2.4-2.6l-1.9-1.7l-2.5 2.5z"/>
<path color="#009187" d="M110.5 68.6l2.4-2.4l-2-2l-2.4 2.2z"/>
<path color="#009481" d="M121.2 68.2l2.5-3l-2-1.2l-2.4 2.9z"/>
<path color="#008e8a" d="M116.8 69.6l2.5-2.7l-2-1.5l-2.4 2.6z"/>
<path color="#00898f" d="M112.5 70.5l2.4-2.5l-2-1.8l-2.4 2.4z"/>
<path color="#00898f" d="M108.1 70.7l2.4-2.1l-2-2.2l-2.5 2.1z"/>
<path color="#009383" d="M123.1 69.3l2.5-3.1l-1.9-1l-2.5 3z"/>
<path color="#008a8e" d="M118.8 71l2.4-2.8l-1.9-1.3l-2.5 2.7z"/>
<path color="#008395" d="M114.4 72.2l2.4-2.6l-1.9-1.6l-2.4 2.5z"/>
<path color="#008098" d="M110 72.7l2.5-2.2l-2-1.9l-2.4 2.1z"/>
<path color="#009284" d="M125 70.2l2.4-3.2l-1.8-0.8l-2.5 3.1z"/>
<path color="#008296" d="M105.6 72.7l2.5-2l-2.1-2.2l-2.4 1.8z"/>
<path color="#008791" d="M120.7 72.2l2.4-2.9l-1.9-1.1l-2.4 2.8z"/>
<path color="#007e9a" d="M116.3 73.7l2.5-2.7l-2-1.4l-2.4 2.6z"/>
<path color="#01789c" d="M112 74.5l2.4-2.3l-1.9-1.7l-2.5 2.2z"/>
<path color="#009384" d="M126.8 70.9l2.5-3.3l-1.9-0.6l-2.4 3.2z"/>
<path color="#02779c" d="M107.6 74.8l2.4-2.1l-1.9-2l-2.5 2z"/>
<path color="#008593" d="M122.5 73.2l2.5-3l-1.9-0.9l-2.4 2.9z"/>
<path color="#007c9b" d="M103.2 74.5l2.4-1.8l-2-2.4l-2.4 1.7z"/>
<path color="#017a9c" d="M118.2 74.9l2.5-2.7l-1.9-1.2l-2.5 2.7z"/>
<path color="#046f9d" d="M113.9 76.1l2.4-2.4l-1.9-1.5l-2.4 2.3z"/>
<path color="#009482" d="M128.7 71.4l2.4-3.4l-1.8-0.4l-2.5 3.3z"/>
<path color="#056b9e" d="M109.5 76.7l2.5-2.2l-2-1.8l-2.4 2.1z"/>
<path color="#008593" d="M124.4 74l2.4-3.1l-1.8-0.7l-2.5 3z"/>
<path color="#046d9e" d="M105.2 76.7l2.4-1.9l-2-2.1l-2.4 1.8z"/>
<path color="#02779c" d="M120.1 76l2.4-2.8l-1.8-1l-2.5 2.7z"/>
<path color="#02769c" d="M100.8 76.1l2.4-1.6l-2-2.5l-2.5 1.5z"/>
<path color="#05699e" d="M115.8 77.5l2.4-2.6l-1.9-1.2l-2.4 2.4z"/>
<path color="#00957e" d="M130.5 71.7l2.4-3.5l-1.8-0.2l-2.4 3.4z"/>
<path color="#07629f" d="M111.5 78.4l2.4-2.3l-1.9-1.6l-2.5 2.2z"/>
<path color="#008791" d="M126.2 74.6l2.5-3.2l-1.9-0.5l-2.4 3.1z"/>
<path color="#0761a0" d="M107.1 78.7l2.4-2l-1.9-1.9l-2.4 1.9z"/>
<path color="#02769c" d="M121.9 76.9l2.5-2.9l-1.9-0.8l-2.4 2.8z"/>
<path color="#06669f" d="M102.7 78.4l2.5-1.7l-2-2.2l-2.4 1.6z"/>
<path color="#009879" d="M132.2 71.9l2.5-3.6l-1.8-0.1l-2.4 3.5z"/>
<path color="#06659f" d="M117.7 78.7l2.4-2.7l-1.9-1.1l-2.4 2.6z"/>
<path color="#03729d" d="M98.3 77.5l2.5-1.4l-2.1-2.6l-2.4 1.4z"/>
<path color="#095a9f" d="M113.4 79.9l2.4-2.4l-1.9-1.4l-2.4 2.3z"/>
<path color="#00898f" d="M128 75l2.5-3.3l-1.8-0.3l-2.5 3.2z"/>
<path color="#0a569e" d="M109 80.6l2.5-2.2l-2-1.7l-2.4 2z"/>
<path color="#02779c" d="M123.8 77.6l2.4-3l-1.8-0.6l-2.5 2.9z"/>
<path color="#0a589f" d="M104.7 80.6l2.4-1.9l-1.9-2l-2.5 1.7z"/>
<path color="#009a73" d="M134 71.9l2.5-3.7l-1.8 0.1l-2.5 3.6z"/>
<path color="#07639f" d="M119.5 79.7l2.4-2.8l-1.8-0.9l-2.4 2.7z"/>
<path color="#0761a0" d="M100.3 80l2.4-1.6l-1.9-2.3l-2.5 1.4z"/>
<path color="#008d8b" d="M129.8 75.3l2.4-3.4l-1.7-0.2l-2.5 3.3z"/>
<path color="#0b559e" d="M115.2 81.2l2.5-2.5l-1.9-1.2l-2.4 2.4z"/>
<path color="#046f9d" d="M95.9 78.8l2.4-1.3l-2-2.6l-2.4 1.1z"/>
<path color="#0d4d9c" d="M110.9 82.1l2.5-2.2l-1.9-1.5l-2.5 2.2z"/>
<path color="#01799c" d="M125.5 78.2l2.5-3.2l-1.8-0.4l-2.4 3z"/>
<path color="#019c6d" d="M135.7 71.7l2.5-3.8l-1.7 0.3l-2.5 3.7z"/>
<path color="#0d4b9c" d="M106.6 82.5l2.4-1.9l-1.9-1.9l-2.4 1.9z"/>
<path color="#07639f" d="M121.3 80.5l2.5-2.9l-1.9-0.7l-2.4 2.8z"/>
<path color="#0c519d" d="M102.3 82.2l2.4-1.6l-2-2.2l-2.4 1.6z"/>
<path color="#009187" d="M131.5 75.4l2.5-3.5l-1.8 0l-2.4 3.4z"/>
<path color="#0c529d" d="M117.1 82.3l2.4-2.6l-1.8-1l-2.5 2.5z"/>
<path color="#085da0" d="M97.9 81.3l2.4-1.3l-2-2.5l-2.4 1.3z"/>
<path color="#007e9a" d="M127.3 78.5l2.5-3.2l-1.8-0.3l-2.5 3.2z"/>
<path color="#0f479a" d="M112.8 83.5l2.4-2.3l-1.8-1.3l-2.5 2.2z"/>
<path color="#046f9d" d="M93.5 79.8l2.4-1l-2-2.8l-2.5 0.9z"/>
<path color="#039c67" d="M137.4 71.4l2.5-3.9l-1.7 0.4l-2.5 3.8z"/>
<path color="#104299" d="M108.5 84.2l2.4-2.1l-1.9-1.5l-2.4 1.9z"/>
<path color="#06659f" d="M123.1 81.1l2.4-2.9l-1.7-0.6l-2.5 2.9z"/>
<path color="#009480" d="M133.2 75.3l2.5-3.6l-1.7 0.2l-2.5 3.5z"/>
<path color="#10449a" d="M104.2 84.2l2.4-1.7l-1.9-1.9l-2.4 1.6z"/>
<path color="#0c519d" d="M118.9 83.2l2.4-2.7l-1.8-0.8l-2.4 2.6z"/>
<path color="#0d4d9c" d="M99.8 83.7l2.5-1.5l-2-2.2l-2.4 1.3z"/>
<path color="#008296" d="M129.1 78.7l2.4-3.3l-1.7-0.1l-2.5 3.2z"/>
<path color="#10429a" d="M114.6 84.7l2.5-2.4l-1.9-1.1l-2.4 2.3z"/>
<path color="#069d60" d="M139.1 70.9l2.5-3.9l-1.7 0.5l-2.5 3.9z"/>
<path color="#085ca0" d="M95.5 82.5l2.4-1.2l-2-2.5l-2.4 1z"/>
<path color="#05699e" d="M124.9 81.6l2.4-3.1l-1.8-0.3l-2.4 2.9z"/>
<path color="#123b97" d="M110.4 85.7l2.4-2.2l-1.9-1.4l-2.4 2.1z"/>
<path color="#03719d" d="M91 80.7l2.5-0.9l-2.1-2.9l-2.4 0.8z"/>
<path color="#009879" d="M134.9 75.1l2.5-3.7l-1.7 0.3l-2.5 3.6z"/>
<path color="#123a96" d="M106.1 86l2.4-1.8l-1.9-1.7l-2.4 1.7z"/>
<path color="#0b529d" d="M120.7 83.9l2.4-2.8l-1.8-0.6l-2.4 2.7z"/>
<path color="#008791" d="M130.8 78.7l2.4-3.4l-1.7 0.1l-2.4 3.3z"/>
<path color="#089d58" d="M140.7 70.3l2.5-4l-1.6 0.7l-2.5 3.9z"/>
<path color="#113e99" d="M101.8 85.8l2.4-1.6l-1.9-2l-2.5 1.5z"/>
<path color="#114199" d="M116.4 85.7l2.5-2.5l-1.8-0.9l-2.5 2.4z"/>
<path color="#0e4a9b" d="M97.4 84.9l2.4-1.2l-1.9-2.4l-2.4 1.2z"/>
<path color="#046f9d" d="M126.6 81.9l2.5-3.2l-1.8-0.2l-2.4 3.1z"/>
<path color="#123794" d="M112.2 87l2.4-2.3l-1.8-1.2l-2.4 2.2z"/>
<path color="#009c70" d="M136.6 74.7l2.5-3.8l-1.7 0.5l-2.5 3.7z"/>
<path color="#085ea0" d="M93 83.5l2.5-1l-2-2.7l-2.5 0.9z"/>
<path color="#0b559e" d="M122.4 84.5l2.5-2.9l-1.8-0.5l-2.4 2.8z"/>
<path color="#133391" d="M108 87.6l2.4-1.9l-1.9-1.5l-2.4 1.8z"/>
<path color="#02769c" d="M88.6 81.3l2.4-0.6l-2-3l-2.4 0.5z"/>
<path color="#0a9c51" d="M142.3 69.6l2.5-4.1l-1.6 0.8l-2.5 4z"/>
<path color="#008d8b" d="M132.4 78.6l2.5-3.5l-1.7 0.2l-2.4 3.4z"/>
<path color="#133492" d="M103.7 87.7l2.4-1.7l-1.9-1.8l-2.4 1.6z"/>
<path color="#114199" d="M118.2 86.6l2.5-2.7l-1.8-0.7l-2.5 2.5z"/>
<path color="#02769c" d="M128.3 82l2.5-3.3l-1.7 0l-2.5 3.2z"/>
<path color="#039c68" d="M138.2 74.2l2.5-3.9l-1.6 0.6l-2.5 3.8z"/>
<path color="#123b97" d="M99.3 87.2l2.5-1.4l-2-2.1l-2.4 1.2z"/>
<path color="#133492" d="M114 88.1l2.4-2.4l-1.8-1l-2.4 2.3z"/>
<path color="#0e4b9b" d="M95 86l2.4-1.1l-1.9-2.4l-2.5 1z"/>
<path color="#095b9f" d="M124.2 84.8l2.4-2.9l-1.7-0.3l-2.5 2.9z"/>
<path color="#0b9447" d="M143.9 68.7l2.5-4.1l-1.6 0.9l-2.5 4.1z"/>
<path color="#132e8d" d="M109.8 89l2.4-2l-1.8-1.3l-2.4 1.9z"/>
<path color="#009383" d="M134.1 78.3l2.5-3.6l-1.7 0.4l-2.5 3.5z"/>
<path color="#0761a0" d="M90.6 84.2l2.4-0.7l-2-2.8l-2.4 0.6z"/>
<path color="#10439a" d="M120 87.2l2.4-2.7l-1.7-0.6l-2.5 2.7z"/>
<path color="#132d8c" d="M105.5 89.4l2.5-1.8l-1.9-1.6l-2.4 1.7z"/>
<path color="#007c9b" d="M86.1 81.8l2.5-0.5l-2-3.1l-2.5 0.4z"/>
<path color="#069a5f" d="M139.8 73.5l2.5-3.9l-1.6 0.7l-2.5 3.9z"/>
<path color="#007e9a" d="M130 81.9l2.4-3.3l-1.6 0.1l-2.5 3.3z"/>
<path color="#13318f" d="M101.2 89.2l2.5-1.5l-1.9-1.9l-2.5 1.4z"/>
<path color="#133491" d="M115.8 89l2.4-2.4l-1.8-0.9l-2.4 2.4z"/>
<path color="#0c8c3d" d="M145.4 67.8l2.6-4.3l-1.6 1.1l-2.5 4.1z"/>
<path color="#07619f" d="M125.9 85l2.4-3l-1.7-0.1l-2.4 2.9z"/>
<path color="#00977a" d="M135.7 77.8l2.5-3.6l-1.6 0.5l-2.5 3.6z"/>
<path color="#123b97" d="M96.9 88.3l2.4-1.1l-1.9-2.3l-2.4 1.1z"/>
<path color="#132b8a" d="M111.6 90.2l2.4-2.1l-1.8-1.1l-2.4 2z"/>
<path color="#0d4d9c" d="M92.6 86.9l2.4-0.9l-2-2.5l-2.4 0.7z"/>
<path color="#0f479b" d="M121.7 87.6l2.5-2.8l-1.8-0.3l-2.4 2.7z"/>
<path color="#089252" d="M141.4 72.8l2.5-4.1l-1.6 0.9l-2.5 3.9z"/>
<path color="#132787" d="M107.4 90.9l2.4-1.9l-1.8-1.4l-2.5 1.8z"/>
<path color="#008593" d="M131.6 81.7l2.5-3.4l-1.7 0.3l-2.4 3.3z"/>
<path color="#06669f" d="M88.1 84.8l2.5-0.6l-2-2.9l-2.5 0.5z"/>
<path color="#0d8534" d="M147 66.7l2.5-4.3l-1.5 1.1l-2.6 4.3z"/>
<path color="#123592" d="M117.6 89.7l2.4-2.5l-1.8-0.6l-2.4 2.4z"/>
<path color="#132988" d="M103.1 91l2.4-1.6l-1.8-1.7l-2.5 1.5z"/>
<path color="#008296" d="M83.7 82l2.4-0.2l-2-3.2l-2.5 0.1z"/>
<path color="#00986d" d="M137.3 77.3l2.5-3.8l-1.6 0.7l-2.5 3.6z"/>
<path color="#05699e" d="M127.5 85.1l2.5-3.2l-1.7 0.1l-2.4 3z"/>
<path color="#132f8e" d="M98.8 90.5l2.4-1.3l-1.9-2l-2.4 1.1z"/>
<path color="#132a89" d="M113.4 91.2l2.4-2.2l-1.8-0.9l-2.4 2.1z"/>
<path color="#098a47" d="M142.9 71.9l2.5-4.1l-1.5 0.9l-2.5 4.1z"/>
<path color="#0d4d9c" d="M123.4 87.9l2.5-2.9l-1.7-0.2l-2.5 2.8z"/>
<path color="#008c8c" d="M133.3 81.4l2.4-3.6l-1.6 0.5l-2.5 3.4z"/>
<path color="#123c98" d="M94.5 89.3l2.4-1l-1.9-2.3l-2.4 0.9z"/>
<path color="#142384" d="M109.2 92.2l2.4-2l-1.8-1.2l-2.4 1.9z"/>
<path color="#0e7e2f" d="M148.4 65.6l2.6-4.4l-1.5 1.2l-2.5 4.3z"/>
<path color="#0c529d" d="M90.1 87.6l2.5-0.7l-2-2.7l-2.5 0.6z"/>
<path color="#123894" d="M119.3 90.3l2.4-2.7l-1.7-0.4l-2.4 2.5z"/>
<path color="#038f5f" d="M138.9 76.6l2.5-3.8l-1.6 0.7l-2.5 3.8z"/>
<path color="#142283" d="M104.9 92.6l2.5-1.7l-1.9-1.5l-2.4 1.6z"/>
<path color="#03739d" d="M129.2 85l2.4-3.3l-1.6 0.2l-2.5 3.2z"/>
<path color="#046e9d" d="M85.7 85.1l2.4-0.3l-2-3l-2.4 0.2z"/>
<path color="#0a833d" d="M144.4 70.9l2.6-4.2l-1.6 1.1l-2.5 4.1z"/>
<path color="#132a8a" d="M115.1 92.1l2.5-2.4l-1.8-0.7l-2.4 2.2z"/>
<path color="#132687" d="M100.7 92.4l2.4-1.4l-1.9-1.8l-2.4 1.3z"/>
<path color="#00898f" d="M81.2 82.1l2.5-0.1l-2.1-3.3l-2.4 0z"/>
<path color="#008e7f" d="M134.8 80.9l2.5-3.6l-1.6 0.5l-2.4 3.6z"/>
<path color="#0b559e" d="M125.1 88.1l2.4-3l-1.6-0.1l-2.5 2.9z"/>
<path color="#0f772b" d="M149.9 64.3l2.5-4.4l-1.4 1.3l-2.6 4.4z"/>
<path color="#13308e" d="M96.4 91.5l2.4-1l-1.9-2.2l-2.4 1z"/>
<path color="#142183" d="M111 93.3l2.4-2.1l-1.8-1l-2.4 2z"/>
<path color="#058752" d="M140.4 75.8l2.5-3.9l-1.5 0.9l-2.5 3.8z"/>
<path color="#123c98" d="M121 90.7l2.4-2.8l-1.7-0.3l-2.4 2.7z"/>
<path color="#007d9b" d="M130.8 84.7l2.5-3.3l-1.7 0.3l-2.4 3.3z"/>
<path color="#113f99" d="M92.1 90.1l2.4-0.8l-1.9-2.4l-2.5 0.7z"/>
<path color="#141e80" d="M106.8 94l2.4-1.8l-1.8-1.3l-2.5 1.7z"/>
<path color="#0b7c34" d="M145.9 69.8l2.5-4.2l-1.4 1.1l-2.6 4.2z"/>
<path color="#09599f" d="M87.7 88l2.4-0.4l-2-2.8l-2.4 0.3z"/>
<path color="#107127" d="M151.3 63l2.6-4.5l-1.5 1.4l-2.5 4.4z"/>
<path color="#132c8b" d="M116.9 92.7l2.4-2.4l-1.7-0.6l-2.5 2.4z"/>
<path color="#00896e" d="M136.4 80.3l2.5-3.7l-1.6 0.7l-2.5 3.6z"/>
<path color="#141f81" d="M102.5 94.1l2.4-1.5l-1.8-1.6l-2.4 1.4z"/>
<path color="#085ea0" d="M126.7 88l2.5-3l-1.7 0.1l-2.4 3z"/>
<path color="#01779c" d="M83.2 85.3l2.5-0.2l-2-3.1l-2.5 0.1z"/>
<path color="#078046" d="M141.9 74.9l2.5-4l-1.5 1l-2.5 3.9z"/>
<path color="#142182" d="M112.7 94.2l2.4-2.1l-1.7-0.9l-2.4 2.1z"/>
<path color="#132686" d="M98.3 93.6l2.4-1.2l-1.9-1.9l-2.4 1z"/>
<path color="#00877e" d="M78.8 81.9l2.4 0.2l-2-3.4l-2.5-0.3z"/>
<path color="#007f8d" d="M132.4 84.3l2.4-3.4l-1.5 0.5l-2.5 3.3z"/>
<path color="#10429a" d="M122.6 90.9l2.5-2.8l-1.7-0.2l-2.4 2.8z"/>
<path color="#0b752d" d="M147.4 68.6l2.5-4.3l-1.5 1.3l-2.5 4.2z"/>
<path color="#133290" d="M94 92.4l2.4-0.9l-1.9-2.2l-2.4 0.8z"/>
<path color="#106b23" d="M152.7 61.6l2.5-4.6l-1.3 1.5l-2.6 4.5z"/>
<path color="#141d7f" d="M108.5 95.2l2.5-1.9l-1.8-1.1l-2.4 1.8z"/>
<path color="#00855e" d="M137.9 79.5l2.5-3.7l-1.5 0.8l-2.5 3.7z"/>
<path color="#132f8e" d="M118.5 93.2l2.5-2.5l-1.7-0.4l-2.4 2.4z"/>
<path color="#05689e" d="M128.3 87.9l2.5-3.2l-1.6 0.3l-2.5 3z"/>
<path color="#0f469a" d="M89.6 90.7l2.5-0.6l-2-2.5l-2.4 0.4z"/>
<path color="#141d7e" d="M104.3 95.6l2.5-1.6l-1.9-1.4l-2.4 1.5z"/>
<path color="#08793d" d="M143.4 73.9l2.5-4.1l-1.5 1.1l-2.5 4z"/>
<path color="#07629f" d="M85.2 88.3l2.5-0.3l-2-2.9l-2.5 0.2z"/>
<path color="#0c6f29" d="M148.8 67.4l2.5-4.4l-1.4 1.3l-2.5 4.3z"/>
<path color="#142283" d="M114.4 95l2.5-2.3l-1.8-0.6l-2.4 2.1z"/>
<path color="#007e7c" d="M133.9 83.8l2.5-3.5l-1.6 0.6l-2.4 3.4z"/>
<path color="#11651f" d="M154 60.2l2.6-4.6l-1.4 1.4l-2.5 4.6z"/>
<path color="#141e80" d="M100.1 95.4l2.4-1.3l-1.8-1.7l-2.4 1.2z"/>
<path color="#0e4b9c" d="M124.3 90.9l2.4-2.9l-1.6 0.1l-2.5 2.8z"/>
<path color="#00788d" d="M80.8 85.3l2.4 0l-2-3.2l-2.4-0.2z"/>
<path color="#037d51" d="M139.4 78.7l2.5-3.8l-1.5 0.9l-2.5 3.7z"/>
<path color="#141d7e" d="M110.3 96.2l2.4-2l-1.7-0.9l-2.5 1.9z"/>
<path color="#132787" d="M95.8 94.5l2.5-0.9l-1.9-2.1l-2.4 0.9z"/>
<path color="#00816b" d="M76.3 81.6l2.5 0.3l-2.1-3.5l-2.5-0.5z"/>
<path color="#026d93" d="M129.9 87.5l2.5-3.2l-1.6 0.4l-2.5 3.2z"/>
<path color="#133492" d="M120.2 93.5l2.4-2.6l-1.6-0.2l-2.5 2.5z"/>
<path color="#097234" d="M144.8 72.8l2.6-4.2l-1.5 1.2l-2.5 4.1z"/>
<path color="#123693" d="M91.5 93.1l2.5-0.7l-1.9-2.3l-2.5 0.6z"/>
<path color="#0d6925" d="M150.1 66.1l2.6-4.5l-1.4 1.4l-2.5 4.4z"/>
<path color="#141b7d" d="M106.1 96.9l2.4-1.7l-1.7-1.2l-2.5 1.6z"/>
<path color="#11601d" d="M155.3 58.8l2.6-4.7l-1.3 1.5l-2.6 4.6z"/>
<path color="#007c6b" d="M135.5 83.1l2.4-3.6l-1.5 0.8l-2.5 3.5z"/>
<path color="#142585" d="M116.1 95.5l2.4-2.3l-1.6-0.5l-2.5 2.3z"/>
<path color="#0b549d" d="M125.9 90.8l2.4-2.9l-1.6 0.1l-2.4 2.9z"/>
<path color="#0d4e9c" d="M87.2 91l2.4-0.3l-1.9-2.7l-2.5 0.3z"/>
<path color="#141c7d" d="M101.9 97l2.4-1.4l-1.8-1.5l-2.4 1.3z"/>
<path color="#057545" d="M140.9 77.8l2.5-3.9l-1.5 1l-2.5 3.8z"/>
<path color="#046693" d="M82.8 88.3l2.4 0l-2-3l-2.4 0z"/>
<path color="#0a6c2c" d="M146.2 71.6l2.6-4.2l-1.4 1.2l-2.6 4.2z"/>
<path color="#141d7e" d="M112 97l2.4-2l-1.7-0.8l-2.4 2z"/>
<path color="#006f86" d="M131.5 87.1l2.4-3.3l-1.5 0.5l-2.5 3.2z"/>
<path color="#115b1b" d="M156.5 57.3l2.6-4.8l-1.2 1.6l-2.6 4.7z"/>
<path color="#0e6321" d="M151.4 64.7l2.6-4.5l-1.3 1.4l-2.6 4.5z"/>
<path color="#141e80" d="M97.7 96.4l2.4-1l-1.8-1.8l-2.5 0.9z"/>
<path color="#123a96" d="M121.8 93.6l2.5-2.7l-1.7 0l-2.4 2.6z"/>
<path color="#00777a" d="M78.3 85l2.5 0.3l-2-3.4l-2.5-0.3z"/>
<path color="#00785c" d="M137 82.3l2.4-3.6l-1.5 0.8l-2.4 3.6z"/>
<path color="#141b7c" d="M107.9 98l2.4-1.8l-1.8-1l-2.4 1.7z"/>
<path color="#132b8a" d="M93.4 95.3l2.4-0.8l-1.8-2.1l-2.5 0.7z"/>
<path color="#007c59" d="M73.8 81l2.5 0.6l-2.1-3.7l-2.5-0.7z"/>
<path color="#075994" d="M127.5 90.6l2.4-3.1l-1.6 0.4l-2.4 2.9z"/>
<path color="#132988" d="M117.8 95.9l2.4-2.4l-1.7-0.3l-2.4 2.3z"/>
<path color="#076f3b" d="M142.3 76.7l2.5-3.9l-1.4 1.1l-2.5 3.9z"/>
<path color="#11561a" d="M157.7 55.8l2.6-4.8l-1.2 1.5l-2.6 4.8z"/>
<path color="#123c98" d="M89.1 93.6l2.4-0.5l-1.9-2.4l-2.4 0.3z"/>
<path color="#0a6627" d="M147.6 70.3l2.5-4.2l-1.3 1.3l-2.6 4.2z"/>
<path color="#141b7c" d="M103.7 98.4l2.4-1.5l-1.8-1.3l-2.4 1.4z"/>
<path color="#0f5e1e" d="M152.7 63.3l2.6-4.5l-1.3 1.4l-2.6 4.5z"/>
<path color="#006f76" d="M133 86.5l2.5-3.4l-1.6 0.7l-2.4 3.3z"/>
<path color="#141d7f" d="M113.7 97.7l2.4-2.2l-1.7-0.5l-2.4 2z"/>
<path color="#104196" d="M123.5 93.6l2.4-2.8l-1.6 0.1l-2.5 2.7z"/>
<path color="#095394" d="M84.7 91.2l2.5-0.2l-2-2.7l-2.4 0z"/>
<path color="#141c7d" d="M99.5 98.1l2.4-1.1l-1.8-1.6l-2.4 1z"/>
<path color="#01724e" d="M138.4 81.5l2.5-3.7l-1.5 0.9l-2.4 3.6z"/>
<path color="#115218" d="M158.8 54.3l2.6-4.8l-1.1 1.5l-2.6 4.8z"/>
<path color="#016886" d="M80.3 88.2l2.5 0.1l-2-3l-2.5-0.3z"/>
<path color="#076933" d="M143.7 75.6l2.5-4l-1.4 1.2l-2.5 3.9z"/>
<path color="#141b7c" d="M109.6 98.9l2.4-1.9l-1.7-0.8l-2.4 1.8z"/>
<path color="#045d88" d="M129 90.2l2.5-3.1l-1.6 0.4l-2.4 3.1z"/>
<path color="#0f591b" d="M153.9 61.9l2.6-4.6l-1.2 1.5l-2.6 4.5z"/>
<path color="#0b6023" d="M148.9 69l2.5-4.3l-1.3 1.4l-2.5 4.2z"/>
<path color="#142182" d="M95.3 97.3l2.4-0.9l-1.9-1.9l-2.4 0.8z"/>
<path color="#132e8d" d="M119.4 96.2l2.4-2.6l-1.6-0.1l-2.4 2.4z"/>
<path color="#007468" d="M75.8 84.5l2.5 0.5l-2-3.4l-2.5-0.6z"/>
<path color="#006f67" d="M134.5 85.8l2.5-3.5l-1.5 0.8l-2.5 3.4z"/>
<path color="#141a7b" d="M105.4 99.6l2.5-1.6l-1.8-1.1l-2.4 1.5z"/>
<path color="#13308e" d="M91 95.9l2.4-0.6l-1.9-2.2l-2.4 0.5z"/>
<path color="#03724a" d="M71.3 80.2l2.5 0.8l-2.1-3.8l-2.5-0.9z"/>
<path color="#114e17" d="M159.8 52.9l2.6-4.9l-1 1.5l-2.6 4.8z"/>
<path color="#0c468d" d="M125 93.5l2.5-2.9l-1.6 0.2l-2.4 2.8z"/>
<path color="#141f81" d="M115.4 98.2l2.4-2.3l-1.7-0.4l-2.4 2.2z"/>
<path color="#046b43" d="M139.8 80.5l2.5-3.8l-1.4 1.1l-2.5 3.7z"/>
<path color="#0f5419" d="M155.1 60.5l2.6-4.7l-1.2 1.5l-2.6 4.6z"/>
<path color="#0e4190" d="M86.6 93.8l2.5-0.2l-1.9-2.6l-2.5 0.2z"/>
<path color="#08632b" d="M145.1 74.4l2.5-4.1l-1.4 1.3l-2.5 4z"/>
<path color="#141a7b" d="M101.3 99.6l2.4-1.2l-1.8-1.4l-2.4 1.1z"/>
<path color="#0c5b20" d="M150.2 67.7l2.5-4.4l-1.3 1.4l-2.5 4.3z"/>
<path color="#01607c" d="M130.5 89.7l2.5-3.2l-1.5 0.6l-2.5 3.1z"/>
<path color="#141b7c" d="M111.3 99.7l2.4-2l-1.7-0.7l-2.4 1.9z"/>
<path color="#12328b" d="M121 96.2l2.5-2.6l-1.7 0l-2.4 2.6z"/>
<path color="#104b15" d="M160.8 51.5l2.6-4.9l-1 1.4l-2.6 4.9z"/>
<path color="#055688" d="M82.3 91.1l2.4 0.1l-1.9-2.9l-2.5-0.1z"/>
<path color="#141c7e" d="M97.1 99.1l2.4-1l-1.8-1.7l-2.4 0.9z"/>
<path color="#006b58" d="M135.9 85l2.5-3.5l-1.4 0.8l-2.5 3.5z"/>
<path color="#0f5018" d="M156.2 59.1l2.6-4.8l-1.1 1.5l-2.6 4.7z"/>
<path color="#006874" d="M77.8 87.8l2.5 0.4l-2-3.2l-2.5-0.5z"/>
<path color="#056539" d="M141.2 79.5l2.5-3.9l-1.4 1.1l-2.5 3.8z"/>
<path color="#14197a" d="M107.2 100.6l2.4-1.7l-1.7-0.9l-2.5 1.6z"/>
<path color="#084b85" d="M126.6 93.2l2.4-3l-1.5 0.4l-2.5 2.9z"/>
<path color="#0d561d" d="M151.4 66.3l2.5-4.4l-1.2 1.4l-2.5 4.4z"/>
<path color="#095e24" d="M146.4 73.2l2.5-4.2l-1.3 1.3l-2.5 4.1z"/>
<path color="#132586" d="M92.8 98l2.5-0.7l-1.9-2l-2.4 0.6z"/>
<path color="#132484" d="M117 98.5l2.4-2.3l-1.6-0.3l-2.4 2.3z"/>
<path color="#104814" d="M161.7 50.3l2.6-5l-0.9 1.3l-2.6 4.9z"/>
<path color="#006f55" d="M73.4 83.8l2.4 0.7l-2-3.5l-2.5-0.8z"/>
<path color="#00616f" d="M132 89.1l2.5-3.3l-1.5 0.7l-2.5 3.2z"/>
<path color="#14197a" d="M103 100.9l2.4-1.3l-1.7-1.2l-2.4 1.2z"/>
<path color="#113388" d="M88.5 96.3l2.5-0.4l-1.9-2.3l-2.5 0.2z"/>
<path color="#05693c" d="M68.8 79.2l2.5 1l-2.1-3.9l-2.5-1.1z"/>
<path color="#0f4c16" d="M157.2 57.7l2.6-4.8l-1 1.4l-2.6 4.8z"/>
<path color="#103586" d="M122.6 96.2l2.4-2.7l-1.5 0.1l-2.5 2.6z"/>
<path color="#141c7d" d="M112.9 100.2l2.5-2l-1.7-0.5l-2.4 2z"/>
<path color="#104514" d="M162.4 49.1l2.7-5l-0.8 1.2l-2.6 5z"/>
<path color="#00684a" d="M137.3 84.1l2.5-3.6l-1.4 1l-2.5 3.5z"/>
<path color="#0d521a" d="M152.5 65l2.6-4.5l-1.2 1.4l-2.5 4.4z"/>
<path color="#0a4585" d="M84.2 93.9l2.4-0.1l-1.9-2.6l-2.4-0.1z"/>
<path color="#065f31" d="M142.6 78.4l2.5-4l-1.4 1.2l-2.5 3.9z"/>
<path color="#141b7c" d="M98.9 100.7l2.4-1.1l-1.8-1.5l-2.4 1z"/>
<path color="#0a5821" d="M147.6 71.9l2.6-4.2l-1.3 1.3l-2.5 4.2z"/>
<path color="#054f7b" d="M128.1 92.8l2.4-3.1l-1.5 0.5l-2.4 3z"/>
<path color="#104313" d="M163.1 48.2l2.6-5.1l-0.6 1l-2.7 5z"/>
<path color="#14197a" d="M108.9 101.4l2.4-1.7l-1.7-0.8l-2.4 1.7z"/>
<path color="#12277f" d="M118.6 98.7l2.4-2.5l-1.6 0l-2.4 2.3z"/>
<path color="#0f4915" d="M158.2 56.3l2.6-4.8l-1 1.4l-2.6 4.8z"/>
<path color="#025a7a" d="M79.8 90.9l2.5 0.2l-2-2.9l-2.5-0.4z"/>
<path color="#141d7d" d="M94.6 99.9l2.5-0.8l-1.8-1.8l-2.5 0.7z"/>
<path color="#104212" d="M163.4 47.6l2.7-5.1l-0.4 0.6l-2.6 5.1z"/>
<path color="#006160" d="M133.5 88.4l2.4-3.4l-1.4 0.8l-2.5 3.3z"/>
<path color="#0e4d18" d="M153.6 63.6l2.6-4.5l-1.1 1.4l-2.6 4.5z"/>
<path color="#006762" d="M75.4 87.2l2.4 0.6l-2-3.3l-2.4-0.7z"/>
<path color="#02613f" d="M138.7 83.2l2.5-3.7l-1.4 1l-2.5 3.6z"/>
<path color="#141879" d="M104.7 102.1l2.5-1.5l-1.8-1l-2.4 1.3z"/>
<path color="#0c3a7e" d="M124.1 96l2.5-2.8l-1.6 0.3l-2.4 2.7z"/>
<path color="#0a531e" d="M148.8 70.6l2.6-4.3l-1.2 1.4l-2.6 4.2z"/>
<path color="#075a2a" d="M143.8 77.2l2.6-4l-1.3 1.2l-2.5 4z"/>
<path color="#11287f" d="M90.4 98.5l2.4-0.5l-1.8-2.1l-2.5 0.4z"/>
<path color="#131c79" d="M114.6 100.6l2.4-2.1l-1.6-0.3l-2.5 2z"/>
<path color="#0f4614" d="M159.1 55.1l2.6-4.8l-0.9 1.2l-2.6 4.8z"/>
<path color="#026745" d="M70.9 82.9l2.5 0.9l-2.1-3.6l-2.5-1z"/>
<path color="#025371" d="M129.6 92.2l2.4-3.1l-1.5 0.6l-2.4 3.1z"/>
<path color="#14197a" d="M100.6 102.1l2.4-1.2l-1.7-1.3l-2.4 1.1z"/>
<path color="#0e3680" d="M86.1 96.4l2.4-0.1l-1.9-2.5l-2.4 0.1z"/>
<path color="#0e4a16" d="M154.7 62.3l2.5-4.6l-1 1.4l-2.6 4.5z"/>
<path color="#102a7a" d="M120.2 98.7l2.4-2.5l-1.6 0l-2.4 2.5z"/>
<path color="#141a79" d="M110.5 102.1l2.4-1.9l-1.6-0.5l-2.4 1.7z"/>
<path color="#0f4313" d="M159.8 54l2.6-4.9l-0.7 1.2l-2.6 4.8z"/>
<path color="#005f53" d="M134.9 87.6l2.4-3.5l-1.4 0.9l-2.4 3.4z"/>
<path color="#0b4f1b" d="M150 69.3l2.5-4.3l-1.1 1.3l-2.6 4.3z"/>
<path color="#064a7b" d="M81.7 93.7l2.5 0.2l-1.9-2.8l-2.5-0.2z"/>
<path color="#045b36" d="M140.1 82.1l2.5-3.7l-1.4 1.1l-2.5 3.7z"/>
<path color="#131a78" d="M96.4 101.6l2.5-0.9l-1.8-1.6l-2.5 0.8z"/>
<path color="#075523" d="M145.1 76l2.5-4.1l-1.2 1.3l-2.6 4z"/>
<path color="#083f76" d="M125.6 95.6l2.5-2.8l-1.5 0.4l-2.5 2.8z"/>
<path color="#0e4112" d="M160.4 53.1l2.7-4.9l-0.7 0.9l-2.6 4.9z"/>
<path color="#141877" d="M106.4 103l2.5-1.6l-1.7-0.8l-2.5 1.5z"/>
<path color="#121d73" d="M116.2 100.9l2.4-2.2l-1.6-0.2l-2.4 2.1z"/>
<path color="#0d4615" d="M155.6 61l2.6-4.7l-1 1.4l-2.5 4.6z"/>
<path color="#005b6b" d="M77.3 90.4l2.5 0.5l-2-3.1l-2.4-0.6z"/>
<path color="#121f76" d="M92.2 100.5l2.4-0.6l-1.8-1.9l-2.4 0.5z"/>
<path color="#0e3f12" d="M160.8 52.5l2.6-4.9l-0.3 0.6l-2.7 4.9z"/>
<path color="#005566" d="M131 91.6l2.5-3.2l-1.5 0.7l-2.4 3.1z"/>
<path color="#0b4a19" d="M151.1 68l2.5-4.4l-1.1 1.4l-2.5 4.3z"/>
<path color="#00624f" d="M72.9 86.4l2.5 0.8l-2-3.4l-2.5-0.9z"/>
<path color="#005c46" d="M136.2 86.7l2.5-3.5l-1.4 0.9l-2.4 3.5z"/>
<path color="#131875" d="M102.3 103.3l2.4-1.2l-1.7-1.2l-2.4 1.2z"/>
<path color="#0e2d75" d="M121.7 98.6l2.4-2.6l-1.5 0.2l-2.4 2.5z"/>
<path color="#08501f" d="M146.3 74.7l2.5-4.1l-1.2 1.3l-2.5 4.1z"/>
<path color="#05552e" d="M141.3 81l2.5-3.8l-1.2 1.2l-2.5 3.7z"/>
<path color="#0f2b78" d="M87.9 98.7l2.5-0.2l-1.9-2.2l-2.4 0.1z"/>
<path color="#121972" d="M112.1 102.6l2.5-2l-1.7-0.4l-2.4 1.9z"/>
<path color="#0d4314" d="M156.5 59.8l2.6-4.7l-0.9 1.2l-2.6 4.7z"/>
<path color="#05436e" d="M127.1 95.2l2.5-3l-1.5 0.6l-2.5 2.8z"/>
<path color="#131872" d="M98.2 103.1l2.4-1l-1.7-1.4l-2.5 0.9z"/>
<path color="#0a3b76" d="M83.6 96.4l2.5 0l-1.9-2.5l-2.5-0.2z"/>
<path color="#0c4716" d="M152.1 66.7l2.6-4.4l-1.1 1.3l-2.5 4.4z"/>
<path color="#10206f" d="M117.7 101l2.5-2.3l-1.6 0l-2.4 2.2z"/>
<path color="#131770" d="M108.1 103.7l2.4-1.6l-1.6-0.7l-2.5 1.6z"/>
<path color="#0d4013" d="M157.2 58.7l2.6-4.7l-0.7 1.1l-2.6 4.7z"/>
<path color="#005458" d="M132.4 90.9l2.5-3.3l-1.4 0.8l-2.5 3.2z"/>
<path color="#094b1c" d="M147.4 73.5l2.6-4.2l-1.2 1.3l-2.5 4.1z"/>
<path color="#024d6d" d="M79.3 93.3l2.4 0.4l-1.9-2.8l-2.5-0.5z"/>
<path color="#01573b" d="M137.6 85.7l2.5-3.6l-1.4 1.1l-2.5 3.5z"/>
<path color="#11196f" d="M94 102.3l2.4-0.7l-1.8-1.7l-2.4 0.6z"/>
<path color="#065027" d="M142.6 79.9l2.5-3.9l-1.3 1.2l-2.5 3.8z"/>
<path color="#0b316f" d="M123.2 98.3l2.4-2.7l-1.5 0.4l-2.4 2.6z"/>
<path color="#0d3e12" d="M157.8 57.8l2.6-4.7l-0.6 0.9l-2.6 4.7z"/>
<path color="#12166f" d="M104 104.3l2.4-1.3l-1.7-0.9l-2.4 1.2z"/>
<path color="#11186b" d="M113.7 102.9l2.5-2l-1.6-0.3l-2.5 2z"/>
<path color="#0c4314" d="M153 65.5l2.6-4.5l-0.9 1.3l-2.6 4.4z"/>
<path color="#005a59" d="M74.9 89.7l2.4 0.7l-1.9-3.2l-2.5-0.8z"/>
<path color="#10226f" d="M89.8 100.8l2.4-0.3l-1.8-2l-2.5 0.2z"/>
<path color="#0d3c12" d="M158.2 57.2l2.6-4.7l-0.4 0.6l-2.6 4.7z"/>
<path color="#024664" d="M128.5 94.6l2.5-3l-1.4 0.6l-2.5 3z"/>
<path color="#094719" d="M148.5 72.2l2.6-4.2l-1.1 1.3l-2.6 4.2z"/>
<path color="#00534c" d="M133.8 90l2.4-3.3l-1.3 0.9l-2.5 3.3z"/>
<path color="#12166c" d="M99.9 104.4l2.4-1.1l-1.7-1.2l-2.4 1z"/>
<path color="#0e236a" d="M119.3 100.9l2.4-2.3l-1.5 0.1l-2.5 2.3z"/>
<path color="#064c22" d="M143.8 78.7l2.5-4l-1.2 1.3l-2.5 3.9z"/>
<path color="#035132" d="M138.9 84.7l2.4-3.7l-1.2 1.1l-2.5 3.6z"/>
<path color="#0d2e71" d="M85.5 98.8l2.4-0.1l-1.8-2.3l-2.5 0z"/>
<path color="#111669" d="M109.7 104.3l2.4-1.7l-1.6-0.5l-2.4 1.6z"/>
<path color="#0c4013" d="M153.9 64.3l2.6-4.5l-0.9 1.2l-2.6 4.5z"/>
<path color="#083568" d="M124.7 97.9l2.4-2.7l-1.5 0.4l-2.4 2.7z"/>
<path color="#111769" d="M95.8 103.8l2.4-0.7l-1.8-1.5l-2.4 0.7z"/>
<path color="#06406d" d="M81.2 96.1l2.4 0.3l-1.9-2.7l-2.4-0.4z"/>
<path color="#094317" d="M149.5 71l2.6-4.3l-1 1.3l-2.6 4.2z"/>
<path color="#0f1864" d="M115.3 103.1l2.4-2.1l-1.5-0.1l-2.5 2z"/>
<path color="#111568" d="M105.7 105.2l2.4-1.5l-1.7-0.7l-2.4 1.3z"/>
<path color="#0c3d12" d="M154.7 63.2l2.5-4.5l-0.7 1.1l-2.6 4.5z"/>
<path color="#00495b" d="M129.9 93.9l2.5-3l-1.4 0.7l-2.5 3z"/>
<path color="#07471c" d="M144.9 77.5l2.5-4l-1.1 1.2l-2.5 4z"/>
<path color="#004f5f" d="M76.8 92.7l2.5 0.6l-2-2.9l-2.4-0.7z"/>
<path color="#005040" d="M135.1 89.1l2.5-3.4l-1.4 1l-2.4 3.3z"/>
<path color="#101a67" d="M91.6 102.7l2.4-0.4l-1.8-1.8l-2.4 0.3z"/>
<path color="#044c2a" d="M140.1 83.6l2.5-3.7l-1.3 1.1l-2.4 3.7z"/>
<path color="#0d2666" d="M120.8 100.8l2.4-2.5l-1.5 0.3l-2.4 2.3z"/>
<path color="#0b3b11" d="M155.3 62.4l2.5-4.6l-0.6 0.9l-2.5 4.5z"/>
<path color="#111466" d="M101.6 105.5l2.4-1.2l-1.7-1l-2.4 1.1z"/>
<path color="#101563" d="M111.3 104.8l2.4-1.9l-1.6-0.3l-2.4 1.7z"/>
<path color="#0a4015" d="M150.5 69.8l2.5-4.3l-0.9 1.2l-2.6 4.3z"/>
<path color="#0d2569" d="M87.3 101l2.5-0.2l-1.9-2.1l-2.4 0.1z"/>
<path color="#0b3911" d="M155.6 61.8l2.6-4.6l-0.4 0.6l-2.5 4.6z"/>
<path color="#053961" d="M126.1 97.4l2.4-2.8l-1.4 0.6l-2.4 2.7z"/>
<path color="#074319" d="M146 76.3l2.5-4.1l-1.1 1.3l-2.5 4z"/>
<path color="#00494f" d="M131.3 93.2l2.5-3.2l-1.4 0.9l-2.5 3z"/>
<path color="#101563" d="M97.5 105.2l2.4-0.8l-1.7-1.3l-2.4 0.7z"/>
<path color="#0e1b60" d="M116.8 103.1l2.5-2.2l-1.6 0.1l-2.4 2.1z"/>
<path color="#054724" d="M141.3 82.4l2.5-3.7l-1.2 1.2l-2.5 3.7z"/>
<path color="#004c36" d="M136.4 88.1l2.5-3.4l-1.3 1l-2.5 3.4z"/>
<path color="#093367" d="M83 98.6l2.5 0.2l-1.9-2.4l-2.4-0.3z"/>
<path color="#101461" d="M107.3 105.9l2.4-1.6l-1.6-0.6l-2.4 1.5z"/>
<path color="#0a3c13" d="M151.3 68.6l2.6-4.3l-0.9 1.2l-2.5 4.3z"/>
<path color="#0a2a60" d="M122.2 100.5l2.5-2.6l-1.5 0.4l-2.4 2.5z"/>
<path color="#0f1660" d="M93.3 104.4l2.5-0.6l-1.8-1.5l-2.4 0.4z"/>
<path color="#02435f" d="M78.7 95.6l2.5 0.5l-1.9-2.8l-2.5-0.6z"/>
<path color="#073f17" d="M147 75.1l2.5-4.1l-1 1.2l-2.5 4.1z"/>
<path color="#0f155c" d="M112.9 105l2.4-1.9l-1.6-0.2l-2.4 1.9z"/>
<path color="#10135f" d="M103.3 106.4l2.4-1.2l-1.7-0.9l-2.4 1.2z"/>
<path color="#0a3a12" d="M152.1 67.6l2.6-4.4l-0.8 1.1l-2.6 4.3z"/>
<path color="#023c58" d="M127.5 96.8l2.4-2.9l-1.4 0.7l-2.4 2.8z"/>
<path color="#05431f" d="M142.4 81.3l2.5-3.8l-1.1 1.2l-2.5 3.7z"/>
<path color="#004844" d="M132.6 92.3l2.5-3.2l-1.3 0.9l-2.5 3.2z"/>
<path color="#0d1d60" d="M89.1 102.9l2.5-0.2l-1.8-1.9l-2.5 0.2z"/>
<path color="#02472d" d="M137.6 87.1l2.5-3.5l-1.2 1.1l-2.5 3.4z"/>
<path color="#0c1e5b" d="M118.3 103.1l2.5-2.3l-1.5 0.1l-2.5 2.2z"/>
<path color="#0a3811" d="M152.7 66.8l2.6-4.4l-0.6 0.8l-2.6 4.4z"/>
<path color="#0f135d" d="M99.2 106.5l2.4-1l-1.7-1.1l-2.4 0.8z"/>
<path color="#0f135b" d="M108.9 106.4l2.4-1.6l-1.6-0.5l-2.4 1.6z"/>
<path color="#083c15" d="M148 73.9l2.5-4.1l-1 1.2l-2.5 4.1z"/>
<path color="#0b2862" d="M84.9 100.9l2.4 0.1l-1.8-2.2l-2.5-0.2z"/>
<path color="#0a3610" d="M153.1 66.2l2.5-4.4l-0.3 0.6l-2.6 4.4z"/>
<path color="#072d59" d="M123.7 100.1l2.4-2.7l-1.4 0.5l-2.5 2.6z"/>
<path color="#053f1a" d="M143.5 80.1l2.5-3.8l-1.1 1.2l-2.5 3.8z"/>
<path color="#003e4f" d="M128.8 96.1l2.5-2.9l-1.4 0.7l-2.4 2.9z"/>
<path color="#0e145a" d="M95 105.9l2.5-0.7l-1.7-1.4l-2.5 0.6z"/>
<path color="#0d1556" d="M114.4 105.1l2.4-2l-1.5 0l-2.4 1.9z"/>
<path color="#034226" d="M138.8 86l2.5-3.6l-1.2 1.2l-2.5 3.5z"/>
<path color="#004539" d="M133.9 91.4l2.5-3.3l-1.3 1l-2.5 3.2z"/>
<path color="#05375e" d="M80.6 98.2l2.4 0.4l-1.8-2.5l-2.5-0.5z"/>
<path color="#0f1259" d="M104.9 107.2l2.4-1.3l-1.6-0.7l-2.4 1.2z"/>
<path color="#083913" d="M148.8 72.8l2.5-4.2l-0.8 1.2l-2.5 4.1z"/>
<path color="#0b2057" d="M119.8 102.8l2.4-2.3l-1.4 0.3l-2.5 2.3z"/>
<path color="#0d1758" d="M90.9 104.7l2.4-0.3l-1.7-1.7l-2.5 0.2z"/>
<path color="#063b17" d="M144.5 79l2.5-3.9l-1 1.2l-2.5 3.8z"/>
<path color="#0d1254" d="M110.5 106.7l2.4-1.7l-1.6-0.2l-2.4 1.6z"/>
<path color="#0e1257" d="M100.8 107.5l2.5-1.1l-1.7-0.9l-2.4 1z"/>
<path color="#083612" d="M149.5 71.8l2.6-4.2l-0.8 1l-2.5 4.2z"/>
<path color="#043053" d="M125 99.5l2.5-2.7l-1.4 0.6l-2.4 2.7z"/>
<path color="#043e21" d="M139.9 84.9l2.5-3.6l-1.1 1.1l-2.5 3.6z"/>
<path color="#003d45" d="M130.2 95.4l2.4-3.1l-1.3 0.9l-2.5 2.9z"/>
<path color="#0b205a" d="M86.7 103l2.4-0.1l-1.8-1.9l-2.4-0.1z"/>
<path color="#00422f" d="M135.1 90.4l2.5-3.3l-1.2 1l-2.5 3.3z"/>
<path color="#0c1751" d="M115.9 105.1l2.4-2l-1.5 0l-2.4 2z"/>
<path color="#083410" d="M150.2 71l2.5-4.2l-0.6 0.8l-2.6 4.2z"/>
<path color="#0e1254" d="M96.7 107.2l2.5-0.7l-1.7-1.3l-2.5 0.7z"/>
<path color="#0d1152" d="M106.5 107.8l2.4-1.4l-1.6-0.5l-2.4 1.3z"/>
<path color="#063715" d="M145.4 77.9l2.6-4l-1 1.2l-2.5 3.9z"/>
<path color="#072c58" d="M82.4 100.6l2.5 0.3l-1.9-2.3l-2.4-0.4z"/>
<path color="#083210" d="M150.5 70.5l2.6-4.3l-0.4 0.6l-2.5 4.2z"/>
<path color="#092351" d="M121.2 102.5l2.5-2.4l-1.5 0.4l-2.4 2.3z"/>
<path color="#043a1c" d="M141 83.8l2.5-3.7l-1.1 1.2l-2.5 3.6z"/>
<path color="#02324a" d="M126.4 98.9l2.4-2.8l-1.3 0.7l-2.5 2.7z"/>
<path color="#0d1351" d="M92.6 106.3l2.4-0.4l-1.7-1.5l-2.4 0.3z"/>
<path color="#0c124d" d="M112 106.9l2.4-1.8l-1.5-0.1l-2.4 1.7z"/>
<path color="#013d28" d="M136.3 89.4l2.5-3.4l-1.2 1.1l-2.5 3.3z"/>
<path color="#003c3a" d="M131.4 94.5l2.5-3.1l-1.3 0.9l-2.4 3.1z"/>
<path color="#0d1050" d="M102.5 108.3l2.4-1.1l-1.6-0.8l-2.5 1.1z"/>
<path color="#063413" d="M146.3 76.8l2.5-4l-0.8 1.1l-2.6 4z"/>
<path color="#0a1a4d" d="M117.4 105l2.4-2.2l-1.5 0.3l-2.4 2z"/>
<path color="#0b1a52" d="M88.4 104.8l2.5-0.1l-1.8-1.8l-2.4 0.1z"/>
<path color="#043618" d="M142 82.7l2.5-3.7l-1 1.1l-2.5 3.7z"/>
<path color="#0c104c" d="M108 108.2l2.5-1.5l-1.6-0.3l-2.4 1.4z"/>
<path color="#0d104e" d="M98.4 108.3l2.4-0.8l-1.6-1l-2.5 0.7z"/>
<path color="#063111" d="M147 75.9l2.5-4.1l-0.7 1l-2.5 4z"/>
<path color="#06264b" d="M122.6 102l2.4-2.5l-1.3 0.6l-2.5 2.4z"/>
<path color="#023822" d="M137.4 88.4l2.5-3.5l-1.1 1.1l-2.5 3.4z"/>
<path color="#003443" d="M127.7 98.2l2.5-2.8l-1.4 0.7l-2.4 2.8z"/>
<path color="#092352" d="M84.2 102.8l2.5 0.2l-1.8-2.1l-2.5-0.3z"/>
<path color="#003a31" d="M132.7 93.6l2.4-3.2l-1.2 1l-2.5 3.1z"/>
<path color="#0b1348" d="M113.5 107l2.4-1.9l-1.5 0l-2.4 1.8z"/>
<path color="#072f10" d="M147.6 75.1l2.6-4.1l-0.7 0.8l-2.5 4.1z"/>
<path color="#0c114b" d="M94.3 107.7l2.4-0.5l-1.7-1.3l-2.4 0.4z"/>
<path color="#0c0f4a" d="M104.1 109l2.4-1.2l-1.6-0.6l-2.4 1.1z"/>
<path color="#053314" d="M142.9 81.7l2.5-3.8l-0.9 1.1l-2.5 3.7z"/>
<path color="#072e0f" d="M148 74.6l2.5-4.1l-0.3 0.5l-2.6 4.1z"/>
<path color="#091b48" d="M118.8 104.7l2.4-2.2l-1.4 0.3l-2.4 2.2z"/>
<path color="#03341d" d="M138.5 87.3l2.5-3.5l-1.1 1.1l-2.5 3.5z"/>
<path color="#042845" d="M124 101.5l2.4-2.6l-1.4 0.6l-2.4 2.5z"/>
<path color="#0b154a" d="M90.2 106.5l2.4-0.2l-1.7-1.6l-2.5 0.1z"/>
<path color="#0b0f45" d="M109.6 108.5l2.4-1.6l-1.5-0.2l-2.5 1.5z"/>
<path color="#003729" d="M133.8 92.6l2.5-3.2l-1.2 1l-2.4 3.2z"/>
<path color="#003339" d="M129 97.4l2.4-2.9l-1.2 0.9l-2.5 2.8z"/>
<path color="#0c0f48" d="M100 109.2l2.5-0.9l-1.7-0.8l-2.4 0.8z"/>
<path color="#052f12" d="M143.8 80.6l2.5-3.8l-0.9 1.1l-2.5 3.8z"/>
<path color="#091443" d="M114.9 106.9l2.5-1.9l-1.5 0.1l-2.4 1.9z"/>
<path color="#091c4b" d="M86 104.7l2.4 0.1l-1.7-1.8l-2.5-0.2z"/>
<path color="#033018" d="M139.5 86.3l2.5-3.6l-1 1.1l-2.5 3.5z"/>
<path color="#0b0e43" d="M105.6 109.5l2.4-1.3l-1.5-0.4l-2.4 1.2z"/>
<path color="#0b0f45" d="M96 108.9l2.4-0.6l-1.7-1.1l-2.4 0.5z"/>
<path color="#052d11" d="M144.5 79.7l2.5-3.8l-0.7 0.9l-2.5 3.8z"/>
<path color="#071e43" d="M120.2 104.3l2.4-2.3l-1.4 0.5l-2.4 2.2z"/>
<path color="#013322" d="M135 91.7l2.4-3.3l-1.1 1l-2.5 3.2z"/>
<path color="#02293d" d="M125.3 100.8l2.4-2.6l-1.3 0.7l-2.4 2.6z"/>
<path color="#003131" d="M130.2 96.6l2.5-3l-1.3 0.9l-2.4 2.9z"/>
<path color="#0a0f3f" d="M111.1 108.7l2.4-1.7l-1.5-0.1l-2.4 1.6z"/>
<path color="#052a0f" d="M145.1 79l2.5-3.9l-0.6 0.8l-2.5 3.8z"/>
<path color="#0a1143" d="M91.9 108l2.4-0.3l-1.7-1.4l-2.4 0.2z"/>
<path color="#0b0e41" d="M101.6 110l2.5-1l-1.6-0.7l-2.5 0.9z"/>
<path color="#032d15" d="M140.4 85.3l2.5-3.6l-0.9 1l-2.5 3.6z"/>
<path color="#05290e" d="M145.5 78.5l2.5-3.9l-0.4 0.5l-2.5 3.9z"/>
<path color="#08163f" d="M116.4 106.7l2.4-2l-1.4 0.3l-2.5 1.9z"/>
<path color="#022e1d" d="M136 90.6l2.5-3.3l-1.1 1.1l-2.4 3.3z"/>
<path color="#051f3c" d="M121.5 103.8l2.5-2.3l-1.4 0.5l-2.4 2.3z"/>
<path color="#091743" d="M87.7 106.5l2.5 0l-1.8-1.7l-2.4-0.1z"/>
<path color="#0a0d3d" d="M107.1 109.9l2.5-1.4l-1.6-0.3l-2.4 1.3z"/>
<path color="#002f28" d="M131.4 95.7l2.4-3.1l-1.1 1l-2.5 3z"/>
<path color="#002a36" d="M126.5 100.1l2.5-2.7l-1.3 0.8l-2.4 2.6z"/>
<path color="#0a0e3f" d="M97.6 109.9l2.4-0.7l-1.6-0.9l-2.4 0.6z"/>
<path color="#042a12" d="M141.3 84.3l2.5-3.7l-0.9 1.1l-2.5 3.6z"/>
<path color="#08103a" d="M112.5 108.7l2.4-1.8l-1.4 0.1l-2.4 1.7z"/>
<path color="#022a18" d="M137 89.6l2.5-3.3l-1 1l-2.5 3.3z"/>
<path color="#090d3b" d="M103.2 110.6l2.4-1.1l-1.5-0.5l-2.5 1z"/>
<path color="#090e3c" d="M93.5 109.3l2.5-0.4l-1.7-1.2l-2.4 0.3z"/>
<path color="#042710" d="M142 83.4l2.5-3.7l-0.7 0.9l-2.5 3.7z"/>
<path color="#07173a" d="M117.7 106.4l2.5-2.1l-1.4 0.4l-2.4 2z"/>
<path color="#002c21" d="M132.5 94.7l2.5-3l-1.2 0.9l-2.4 3.1z"/>
<path color="#032036" d="M122.8 103.3l2.5-2.5l-1.3 0.7l-2.5 2.3z"/>
<path color="#00282e" d="M127.7 99.3l2.5-2.7l-1.2 0.8l-2.5 2.7z"/>
<path color="#090d36" d="M108.6 110.1l2.5-1.4l-1.5-0.2l-2.5 1.4z"/>
<path color="#04250e" d="M142.6 82.7l2.5-3.7l-0.6 0.7l-2.5 3.7z"/>
<path color="#08123b" d="M89.4 108.1l2.5-0.1l-1.7-1.5l-2.5 0z"/>
<path color="#090c38" d="M99.2 110.8l2.4-0.8l-1.6-0.8l-2.4 0.7z"/>
<path color="#022714" d="M137.9 88.7l2.5-3.4l-0.9 1l-2.5 3.3z"/>
<path color="#04230d" d="M142.9 82.2l2.6-3.7l-0.4 0.5l-2.5 3.7z"/>
<path color="#071135" d="M113.9 108.6l2.5-1.9l-1.5 0.2l-2.4 1.8z"/>
<path color="#00281b" d="M133.5 93.8l2.5-3.2l-1 1.1l-2.5 3z"/>
<path color="#051834" d="M119.1 106l2.4-2.2l-1.3 0.5l-2.5 2.1z"/>
<path color="#080c34" d="M104.7 111.1l2.4-1.2l-1.5-0.4l-2.4 1.1z"/>
<path color="#002626" d="M128.9 98.5l2.5-2.8l-1.2 0.9l-2.5 2.7z"/>
<path color="#01202f" d="M124.1 102.6l2.4-2.5l-1.2 0.7l-2.5 2.5z"/>
<path color="#080c36" d="M95.2 110.4l2.4-0.5l-1.6-1l-2.5 0.4z"/>
<path color="#032412" d="M138.8 87.7l2.5-3.4l-0.9 1l-2.5 3.4z"/>
<path color="#070d31" d="M110.1 110.2l2.4-1.5l-1.4 0l-2.5 1.4z"/>
<path color="#012417" d="M134.5 92.8l2.5-3.2l-1 1l-2.5 3.2z"/>
<path color="#080b32" d="M100.8 111.5l2.4-0.9l-1.6-0.6l-2.4 0.8z"/>
<path color="#070f34" d="M91.1 109.5l2.4-0.2l-1.6-1.3l-2.5 0.1z"/>
<path color="#03210f" d="M139.5 86.9l2.5-3.5l-0.7 0.9l-2.5 3.4z"/>
<path color="#061230" d="M115.3 108.3l2.4-1.9l-1.3 0.3l-2.5 1.9z"/>
<path color="#00241f" d="M130 97.6l2.5-2.9l-1.1 1l-2.5 2.8z"/>
<path color="#03192e" d="M120.4 105.5l2.4-2.2l-1.3 0.5l-2.4 2.2z"/>
<path color="#002029" d="M125.3 101.9l2.4-2.6l-1.2 0.8l-2.4 2.5z"/>
<path color="#070b2e" d="M106.2 111.4l2.4-1.3l-1.5-0.2l-2.4 1.2z"/>
<path color="#031f0d" d="M140.1 86.2l2.5-3.5l-0.6 0.7l-2.5 3.5z"/>
<path color="#070b2f" d="M96.8 111.4l2.4-0.6l-1.6-0.9l-2.4 0.5z"/>
<path color="#022113" d="M135.4 91.9l2.5-3.2l-0.9 0.9l-2.5 3.2z"/>
<path color="#031d0c" d="M140.4 85.7l2.5-3.5l-0.3 0.5l-2.5 3.5z"/>
<path color="#060d2c" d="M111.5 110.2l2.4-1.6l-1.4 0.1l-2.4 1.5z"/>
<path color="#002119" d="M131.1 96.7l2.4-2.9l-1 0.9l-2.5 2.9z"/>
<path color="#05122b" d="M116.7 108l2.4-2l-1.4 0.4l-2.4 1.9z"/>
<path color="#070a2b" d="M102.3 112l2.4-0.9l-1.5-0.5l-2.4 0.9z"/>
<path color="#001e21" d="M126.5 101.1l2.4-2.6l-1.2 0.8l-2.4 2.6z"/>
<path color="#021827" d="M121.6 104.9l2.5-2.3l-1.3 0.7l-2.4 2.2z"/>
<path color="#070c2d" d="M92.7 110.7l2.5-0.3l-1.7-1.1l-2.4 0.2z"/>
<path color="#021d10" d="M136.3 91l2.5-3.3l-0.9 1l-2.5 3.2z"/>
<path color="#060a28" d="M107.7 111.5l2.4-1.3l-1.5-0.1l-2.4 1.3z"/>
<path color="#001d14" d="M132.1 95.8l2.4-3l-1 1l-2.4 2.9z"/>
<path color="#060928" d="M98.3 112.1l2.5-0.6l-1.6-0.7l-2.4 0.6z"/>
<path color="#021b0e" d="M137 90.2l2.5-3.3l-0.7 0.8l-2.5 3.3z"/>
<path color="#050d26" d="M112.9 110l2.4-1.7l-1.4 0.3l-2.4 1.6z"/>
<path color="#001b1b" d="M127.6 100.3l2.4-2.7l-1.1 0.9l-2.4 2.6z"/>
<path color="#031224" d="M117.9 107.6l2.5-2.1l-1.3 0.5l-2.4 2z"/>
<path color="#011721" d="M122.9 104.3l2.4-2.4l-1.2 0.7l-2.5 2.3z"/>
<path color="#060924" d="M103.8 112.4l2.4-1l-1.5-0.3l-2.4 0.9z"/>
<path color="#02180c" d="M137.6 89.5l2.5-3.3l-0.6 0.7l-2.5 3.3z"/>
<path color="#060a26" d="M94.3 111.7l2.5-0.3l-1.6-1l-2.5 0.3z"/>
<path color="#011a10" d="M133 94.9l2.4-3l-0.9 0.9l-2.4 3z"/>
<path color="#02170a" d="M137.9 89.1l2.5-3.4l-0.3 0.5l-2.5 3.3z"/>
<path color="#050a22" d="M109.1 111.6l2.4-1.4l-1.4 0l-2.4 1.3z"/>
<path color="#001815" d="M128.6 99.5l2.5-2.8l-1.1 0.9l-2.4 2.7z"/>
<path color="#040d21" d="M114.2 109.7l2.5-1.7l-1.4 0.3l-2.4 1.7z"/>
<path color="#050821" d="M99.9 112.8l2.4-0.8l-1.5-0.5l-2.5 0.6z"/>
<path color="#00161b" d="M124 103.5l2.5-2.4l-1.2 0.8l-2.4 2.4z"/>
<path color="#02111e" d="M119.2 107l2.4-2.1l-1.2 0.6l-2.5 2.1z"/>
<path color="#01160d" d="M133.8 94.1l2.5-3.1l-0.9 0.9l-2.4 3z"/>
<path color="#04081e" d="M105.2 112.7l2.5-1.2l-1.5-0.1l-2.4 1z"/>
<path color="#001510" d="M129.6 98.6l2.5-2.8l-1 0.9l-2.5 2.8z"/>
<path color="#05081f" d="M95.9 112.6l2.4-0.5l-1.5-0.7l-2.5 0.3z"/>
<path color="#01130b" d="M134.5 93.3l2.5-3.1l-0.7 0.8l-2.5 3.1z"/>
<path color="#040a1c" d="M110.5 111.5l2.4-1.5l-1.4 0.2l-2.4 1.4z"/>
<path color="#001315" d="M125.1 102.8l2.5-2.5l-1.1 0.8l-2.5 2.4z"/>
<path color="#030c1a" d="M115.5 109.4l2.4-1.8l-1.2 0.4l-2.5 1.7z"/>
<path color="#011018" d="M120.4 106.4l2.5-2.1l-1.3 0.6l-2.4 2.1z"/>
<path color="#04071b" d="M101.4 113.2l2.4-0.8l-1.5-0.4l-2.4 0.8z"/>
<path color="#011109" d="M135.1 92.7l2.5-3.2l-0.6 0.7l-2.5 3.1z"/>
<path color="#00120d" d="M130.5 97.8l2.5-2.9l-0.9 0.9l-2.5 2.8z"/>
<path color="#010f08" d="M135.5 92.2l2.4-3.1l-0.3 0.4l-2.5 3.2z"/>
<path color="#030718" d="M106.6 112.8l2.5-1.2l-1.4-0.1l-2.5 1.2z"/>
<path color="#00100f" d="M126.2 102l2.4-2.5l-1 0.8l-2.5 2.5z"/>
<path color="#030816" d="M111.8 111.3l2.4-1.6l-1.3 0.3l-2.4 1.5z"/>
<path color="#030718" d="M97.4 113.3l2.5-0.5l-1.6-0.7l-2.4 0.5z"/>
<path color="#000d12" d="M121.6 105.8l2.4-2.3l-1.1 0.8l-2.5 2.1z"/>
<path color="#010b14" d="M116.8 108.9l2.4-1.9l-1.3 0.6l-2.4 1.8z"/>
<path color="#000e09" d="M131.3 97l2.5-2.9l-0.8 0.8l-2.5 2.9z"/>
<path color="#030614" d="M102.8 113.6l2.4-0.9l-1.4-0.3l-2.4 0.8z"/>
<path color="#000c0b" d="M127.1 101.2l2.5-2.6l-1 0.9l-2.4 2.5z"/>
<path color="#000b07" d="M132 96.2l2.5-2.9l-0.7 0.8l-2.5 2.9z"/>
<path color="#020611" d="M108 112.8l2.5-1.3l-1.4 0.1l-2.5 1.2z"/>
<path color="#000a0c" d="M122.7 105.1l2.4-2.3l-1.1 0.7l-2.4 2.3z"/>
<path color="#02070f" d="M113.1 111l2.4-1.6l-1.3 0.3l-2.4 1.6z"/>
<path color="#01080e" d="M118 108.4l2.4-2l-1.2 0.6l-2.4 1.9z"/>
<path color="#020510" d="M98.9 113.8l2.5-0.6l-1.5-0.4l-2.5 0.5z"/>
<path color="#000905" d="M132.6 95.6l2.5-2.9l-0.6 0.6l-2.5 2.9z"/>
<path color="#000907" d="M128 100.4l2.5-2.6l-0.9 0.8l-2.5 2.6z"/>
<path color="#000704" d="M133 95.2l2.5-3l-0.4 0.5l-2.5 2.9z"/>
<path color="#02040d" d="M104.2 113.7l2.4-0.9l-1.4-0.1l-2.4 0.9z"/>
<path color="#000607" d="M123.7 104.3l2.5-2.3l-1.1 0.8l-2.4 2.3z"/>
<path color="#01040a" d="M109.4 112.6l2.4-1.3l-1.3 0.2l-2.5 1.3z"/>
<path color="#000507" d="M119.1 107.8l2.5-2l-1.2 0.6l-2.4 2z"/>
<path color="#010408" d="M114.3 110.6l2.5-1.7l-1.3 0.5l-2.4 1.6z"/>
<path color="#000604" d="M128.9 99.6l2.4-2.6l-0.8 0.8l-2.5 2.6z"/>
<path color="#010208" d="M100.4 114.2l2.4-0.6l-1.4-0.4l-2.5 0.6z"/>
<path color="#000605" d="M124.7 103.6l2.4-2.4l-0.9 0.8l-2.5 2.3z"/>
<path color="#000604" d="M129.6 98.9l2.4-2.7l-0.7 0.8l-2.4 2.6z"/>
<path color="#010206" d="M105.6 113.8l2.4-1l-1.4 0l-2.4 0.9z"/>
<path color="#000506" d="M120.2 107.1l2.5-2l-1.1 0.7l-2.5 2z"/>
<path color="#010306" d="M110.7 112.4l2.4-1.4l-1.3 0.3l-2.4 1.3z"/>
<path color="#000406" d="M115.5 110.1l2.5-1.7l-1.2 0.5l-2.5 1.7z"/>
<path color="#000604" d="M130.2 98.3l2.4-2.7l-0.6 0.6l-2.4 2.7z"/>
<path color="#000605" d="M125.6 102.8l2.4-2.4l-0.9 0.8l-2.4 2.4z"/>
<path color="#000604" d="M130.5 98l2.5-2.8l-0.4 0.4l-2.4 2.7z"/>
<path color="#010206" d="M101.8 114.5l2.4-0.8l-1.4-0.1l-2.4 0.6z"/>
<path color="#000506" d="M121.3 106.5l2.4-2.2l-1 0.8l-2.5 2z"/>
<path color="#010206" d="M106.9 113.7l2.5-1.1l-1.4 0.2l-2.4 1z"/>
<path color="#000406" d="M116.7 109.6l2.4-1.8l-1.1 0.6l-2.5 1.7z"/>
<path color="#010306" d="M111.9 112.1l2.4-1.5l-1.2 0.4l-2.4 1.4z"/>
<path color="#000605" d="M126.4 102.1l2.5-2.5l-0.9 0.8l-2.4 2.4z"/>
<path color="#000606" d="M122.2 105.8l2.5-2.2l-1 0.7l-2.4 2.2z"/>
<path color="#000604" d="M127.1 101.4l2.5-2.5l-0.7 0.7l-2.5 2.5z"/>
<path color="#010206" d="M103.2 114.6l2.4-0.8l-1.4-0.1l-2.4 0.8z"/>
<path color="#000506" d="M117.8 109l2.4-1.9l-1.1 0.7l-2.4 1.8z"/>
<path color="#010306" d="M108.2 113.6l2.5-1.2l-1.3 0.2l-2.5 1.1z"/>
<path color="#000406" d="M113.1 111.7l2.4-1.6l-1.2 0.5l-2.4 1.5z"/>
<path color="#000604" d="M127.7 100.9l2.5-2.6l-0.6 0.6l-2.5 2.5z"/>
<path color="#000605" d="M123.1 105l2.5-2.2l-0.9 0.8l-2.5 2.2z"/>
<path color="#000604" d="M128.1 100.5l2.4-2.5l-0.3 0.3l-2.5 2.6z"/>
<path color="#000506" d="M118.8 108.4l2.5-1.9l-1.1 0.6l-2.4 1.9z"/>
<path color="#010206" d="M104.5 114.6l2.4-0.9l-1.3 0.1l-2.4 0.8z"/>
<path color="#000406" d="M114.3 111.2l2.4-1.6l-1.2 0.5l-2.4 1.6z"/>
<path color="#010306" d="M109.5 113.3l2.4-1.2l-1.2 0.3l-2.5 1.2z"/>
<path color="#000605" d="M124 104.4l2.4-2.3l-0.8 0.7l-2.5 2.2z"/>
<path color="#000506" d="M119.8 107.7l2.4-1.9l-0.9 0.7l-2.5 1.9z"/>
<path color="#000605" d="M124.7 103.7l2.4-2.3l-0.7 0.7l-2.4 2.3z"/>
<path color="#000406" d="M115.3 110.6l2.5-1.6l-1.1 0.6l-2.4 1.6z"/>
<path color="#010306" d="M105.8 114.5l2.4-0.9l-1.3 0.1l-2.4 0.9z"/>
<path color="#000406" d="M110.7 113l2.4-1.3l-1.2 0.4l-2.4 1.2z"/>
<path color="#020702" d="M125.2 103.2l2.5-2.3l-0.6 0.5l-2.4 2.3z"/>
<path color="#000606" d="M120.7 107.1l2.4-2.1l-0.9 0.8l-2.4 1.9z"/>
<path color="#020702" d="M125.6 102.9l2.5-2.4l-0.4 0.4l-2.5 2.3z"/>
<path color="#000506" d="M116.4 110.1l2.4-1.7l-1 0.6l-2.5 1.6z"/>
<path color="#000406" d="M111.8 112.6l2.5-1.4l-1.2 0.5l-2.4 1.3z"/>
<path color="#000306" d="M107 114.3l2.5-1l-1.3 0.3l-2.4 0.9z"/>
<path color="#000605" d="M121.5 106.4l2.5-2l-0.9 0.6l-2.4 2.1z"/>
<path color="#000506" d="M117.4 109.5l2.4-1.8l-1 0.7l-2.4 1.7z"/>
<path color="#020702" d="M122.2 105.8l2.5-2.1l-0.7 0.7l-2.5 2z"/>
<path color="#000406" d="M112.9 112.1l2.4-1.5l-1 0.6l-2.5 1.4z"/>
<path color="#000406" d="M108.2 114.1l2.5-1.1l-1.2 0.3l-2.5 1z"/>
<path color="#020702" d="M122.8 105.3l2.4-2.1l-0.5 0.5l-2.5 2.1z"/>
<path color="#000606" d="M118.2 108.9l2.5-1.8l-0.9 0.6l-2.4 1.8z"/>
<path color="#020702" d="M123.1 105l2.5-2.1l-0.4 0.3l-2.4 2.1z"/>
<path color="#000506" d="M113.9 111.6l2.5-1.5l-1.1 0.5l-2.4 1.5z"/>
<path color="#000406" d="M109.4 113.7l2.4-1.1l-1.1 0.4l-2.5 1.1z"/>
<path color="#020702" d="M119.1 108.3l2.4-1.9l-0.8 0.7l-2.5 1.8z"/>
<path color="#000506" d="M114.9 111l2.5-1.5l-1 0.6l-2.5 1.5z"/>
<path color="#020702" d="M119.8 107.7l2.4-1.9l-0.7 0.6l-2.4 1.9z"/>
<path color="#000406" d="M110.5 113.3l2.4-1.2l-1.1 0.5l-2.4 1.1z"/>
<path color="#020702" d="M120.3 107.2l2.5-1.9l-0.6 0.5l-2.4 1.9z"/>
<path color="#020702" d="M115.8 110.4l2.4-1.5l-0.8 0.6l-2.5 1.5z"/>
<path color="#020702" d="M120.7 106.9l2.4-1.9l-0.3 0.3l-2.5 1.9z"/>
<path color="#000506" d="M111.5 112.8l2.4-1.2l-1 0.5l-2.4 1.2z"/>
<path color="#020702" d="M116.6 109.9l2.5-1.6l-0.9 0.6l-2.4 1.5z"/>
<path color="#020702" d="M112.5 112.3l2.4-1.3l-1 0.6l-2.4 1.2z"/>
<path color="#020702" d="M117.3 109.3l2.5-1.6l-0.7 0.6l-2.5 1.6z"/>
<path color="#020702" d="M117.9 108.9l2.4-1.7l-0.5 0.5l-2.5 1.6z"/>
<path color="#020702" d="M113.4 111.8l2.4-1.4l-0.9 0.6l-2.4 1.3z"/>
<path color="#020702" d="M118.2 108.6l2.5-1.7l-0.4 0.3l-2.4 1.7z"/>
<path color="#020702" d="M114.2 111.3l2.4-1.4l-0.8 0.5l-2.4 1.4z"/>
<path color="#020702" d="M114.9 110.8l2.4-1.5l-0.7 0.6l-2.4 1.4z"/>
<path color="#020702" d="M115.4 110.4l2.5-1.5l-0.6 0.4l-2.4 1.5z"/>
<path color="#020702" d="M115.8 110.1l2.4-1.5l-0.3 0.3l-2.5 1.5z"/>
</g>
<circle cx="166.1" cy="41.7" r="1.05" fill="#e00"/>
<circle cx="66.7" cy="75.2" r="1.05" fill="#f3a0b0"/>
<circle cx="115.8" cy="96.1" r="1.05" fill="#e00"/>
<g font-size="3.3" fill="#1a1a1a" stroke="#1a1a1a" stroke-width="0.07">
<text x="65.9" y="111.5" text-anchor="end">8</text>
<circle cx="67.8" cy="112.4" r="0.5" fill="#222"/>
<text x="65.5" y="96.8" text-anchor="end">9</text>
<circle cx="67.4" cy="97.7" r="0.5" fill="#222"/>
<text x="65.1" y="82.1" text-anchor="end">10</text>
<circle cx="67.0" cy="83.0" r="0.5" fill="#222"/>
<text x="64.6" y="67.4" text-anchor="end">11</text>
<circle cx="66.5" cy="68.3" r="0.5" fill="#222"/>
<text x="64.2" y="52.6" text-anchor="end">12</text>
<circle cx="66.1" cy="53.5" r="0.5" fill="#222"/>
<text x="63.8" y="37.9" text-anchor="end">13</text>
<circle cx="65.7" cy="38.8" r="0.5" fill="#222"/>
<circle cx="115.8" cy="169.6" r="0.45" fill="#222"/>
<text x="118.6" y="172.7">150.00</text>
<circle cx="120.5" cy="166.2" r="0.45" fill="#222"/>
<text x="123.3" y="169.3">155.00</text>
<circle cx="125.2" cy="162.8" r="0.45" fill="#222"/>
<text x="128.0" y="165.9">160.00</text>
<circle cx="130.0" cy="159.4" r="0.45" fill="#222"/>
<text x="132.8" y="162.5">165.00</text>
<circle cx="134.7" cy="156.0" r="0.45" fill="#222"/>
<text x="137.5" y="159.1">170.00</text>
<circle cx="139.4" cy="152.6" r="0.45" fill="#222"/>
<text x="142.2" y="155.7">175.00</text>
<circle cx="144.1" cy="149.2" r="0.45" fill="#222"/>
<text x="146.9" y="152.3">180.00</text>
<circle cx="148.8" cy="145.8" r="0.45" fill="#222"/>
<text x="151.6" y="148.9">185.00</text>
<circle cx="153.6" cy="142.4" r="0.45" fill="#222"/>
<text x="156.4" y="145.5">190.00</text>
<circle cx="158.3" cy="139.0" r="0.45" fill="#222"/>
<text x="161.1" y="142.1">195.00</text>
<circle cx="163.0" cy="135.6" r="0.45" fill="#222"/>
<text x="165.8" y="138.7">200.00</text>
<circle cx="115.8" cy="169.6" r="0.45" fill="#222"/>
<text x="113.8" y="172.7" text-anchor="end">0.12</text>
<circle cx="104.0" cy="161.1" r="0.45" fill="#222"/>
<text x="102.0" y="164.2" text-anchor="end">0.14</text>
<circle cx="92.2" cy="152.6" r="0.45" fill="#222"/>
<text x="90.2" y="155.7" text-anchor="end">0.15</text>
<circle cx="80.3" cy="144.1" r="0.45" fill="#222"/>
<text x="78.3" y="147.2" text-anchor="end">0.16</text>
<circle cx="68.5" cy="135.6" r="0.45" fill="#222"/>
<text x="66.5" y="138.7" text-anchor="end">0.18</text>
</g>
<g font-size="5" fill="#222" stroke="#222" stroke-width="0.18">
<text x="157.8" y="167.2" text-anchor="middle">B: LP</text>
<text x="73.8" y="167.2" text-anchor="middle">D: LT</text>
<text transform="translate(53.0 89.0) rotate(-90)" text-anchor="middle">R2</text>
</g>
</g>
<text x="276.8" y="382.2" text-anchor="middle" font-family="'Liberation Serif',serif" font-size="11.5" font-weight="bold" fill="#111">(e)</text></g>
<g><g transform="translate(374.55 196.6) scale(0.9786 0.9767)">
<g font-size="3.75" stroke-width="0.06">
<circle cx="7.0" cy="9.1" r="0.95" fill="#e00"/>
<text x="10.6" y="10.8" fill="#e8202a" stroke="#e8202a">Design points above predicted value</text>
<circle cx="7.0" cy="13.4" r="0.85" fill="#f3b0b8"/>
<text x="10.6" y="14.7" fill="#f8c4cc">Design points below predicted value</text>
<rect x="5.7" y="16.0" width="3.3" height="14.6" fill="url(#cb)"/>
<rect x="5.7" y="16.0" width="3.3" height="14.6" fill="url(#ce)"/>
<text x="10.8" y="19.8" fill="#e8202a" stroke="#e8202a">12.78</text>
<text x="10.8" y="29.1" fill="#2030e0">9.01</text>
<g fill="#2a2a2a"><text x="5.0" y="38.0">X1 = C: SS</text>
<text x="5.0" y="42.6">X2 = D: LT</text>
<text x="5.0" y="52.2">Actual Factors</text>
<text x="5.0" y="56.4">A: DA = -1.00</text>
<text x="5.0" y="61.2">B: LP = 175.00</text></g></g>
<path d="M67.8 112.4L65.7 38.8M79.8 106.5L78.2 34.5M91.8 100.6L90.7 30.3M103.8 94.6L103.3 26.1M115.8 88.7L115.8 21.8M163.8 112.5L166.2 38.8M151.8 106.5L153.6 34.5M139.8 100.6L141.0 30.3M127.8 94.6L128.4 26.1" stroke="#6a6a6a" stroke-width="0.4" fill="none"/>
<path d="M67.8 112.4L115.8 88.7M115.8 88.7L163.8 112.5M67.4 97.7L115.8 75.3M115.8 75.3L164.3 97.7M67.0 83.0L115.8 61.9M115.8 61.9L164.7 83.0M66.5 68.3L115.8 48.6M115.8 48.6L165.2 68.3M66.1 53.5L115.8 35.2M115.8 35.2L165.7 53.5M65.7 38.8L115.8 21.8M115.8 21.8L166.2 38.8M68.5 135.6L65.7 38.8M163.0 135.6L163.8 112.5" stroke="#555" stroke-width="0.42" fill="none"/>
<polygon points="115.8,169.6 163.0,135.6 115.8,109.7 68.5,135.6" fill="#ffff00"/>
<path d="M96.4 154.5L95.7 154.6M95.7 154.6L95.0 154.6M69.7 135.4L69.1 136.0M97.7 154.4L97.6 154.5M97.6 154.5L96.4 154.5M70.3 134.8L69.7 135.4M99.1 154.3L97.7 154.4M70.9 134.3L70.3 134.8M100.4 154.2L99.5 154.3M99.5 154.3L99.1 154.3M71.1 134.1L70.9 134.3M101.7 154.1L101.4 154.1M101.4 154.1L100.4 154.2M103.0 153.9L101.7 154.1M104.3 153.7L103.4 153.9M103.4 153.9L103.0 153.9M105.6 153.6L105.5 153.6M105.5 153.6L104.3 153.7M106.8 153.4L105.6 153.6M108.1 153.2L107.6 153.2M107.6 153.2L106.8 153.4M109.3 152.9L108.1 153.2M110.5 152.7L109.8 152.9M109.8 152.9L109.3 152.9M111.8 152.5L110.5 152.7M113.0 152.2L112.0 152.4M112.0 152.4L111.8 152.5M114.1 152.0L113.0 152.2M115.3 151.7L114.3 151.9M114.3 151.9L114.1 152.0M116.5 151.5L115.3 151.7M117.6 151.2L116.7 151.4M116.7 151.4L116.5 151.5M118.8 150.9L117.6 151.2M119.9 150.6L119.2 150.8M119.2 150.8L118.8 150.9M121.1 150.3L119.9 150.6M122.2 150.0L121.8 150.1M121.8 150.1L121.1 150.3M123.3 149.6L122.2 150.0M124.4 149.3L123.3 149.6M125.5 149.0L124.5 149.3M124.5 149.3L124.4 149.3M126.6 148.6L125.5 149.0M127.7 148.3L127.3 148.4M127.3 148.4L126.6 148.6M89.9 124.0L89.1 124.3M128.8 147.9L127.7 148.3M90.8 123.6L89.9 124.0M129.9 147.6L128.8 147.9M91.7 123.3L90.8 123.6M130.9 147.2L130.2 147.5M130.2 147.5L129.9 147.6M92.6 122.9L91.7 123.3M132.0 146.8L130.9 147.2M93.5 122.6L92.6 122.9M133.0 146.5L132.0 146.8M94.5 122.2L93.5 122.6M134.1 146.1L133.3 146.4M133.3 146.4L133.0 146.5M95.4 121.9L94.7 122.1M94.7 122.1L94.5 122.2M135.1 145.7L134.1 146.1M96.4 121.6L95.4 121.9M136.1 145.3L135.1 145.7M97.3 121.2L96.4 121.6M137.1 144.9L136.6 145.1M136.6 145.1L136.1 145.3M98.3 120.9L97.3 121.2M138.2 144.5L137.1 144.9M99.2 120.6L99.2 120.6M99.2 120.6L98.3 120.9M139.2 144.1L138.2 144.5M100.2 120.3L99.2 120.6M140.2 143.7L139.2 144.1M101.2 119.9L100.2 120.3M141.2 143.2L140.2 143.6M140.2 143.6L140.2 143.7M102.2 119.6L101.2 119.9M142.1 142.8L141.2 143.2M103.2 119.3L103.2 119.3M103.2 119.3L102.2 119.6M143.1 142.4L142.1 142.8M104.2 119.0L103.2 119.3M144.1 141.9L143.1 142.4M105.2 118.7L104.2 119.0M145.1 141.5L144.2 141.9M144.2 141.9L144.1 141.9M106.2 118.4L105.2 118.7M146.0 141.0L145.1 141.5M107.2 118.1L106.7 118.2M106.7 118.2L106.2 118.4M147.0 140.6L146.0 141.0M108.3 117.8L107.2 118.1M147.9 140.1L147.0 140.6M109.3 117.5L108.3 117.8M148.9 139.7L148.7 139.7M148.7 139.7L147.9 140.1M110.4 117.2L110.0 117.3M110.0 117.3L109.3 117.5M149.8 139.2L148.9 139.7M111.4 116.9L110.4 117.2M150.7 138.7L149.8 139.2M112.5 116.6L111.4 116.9M151.6 138.2L150.7 138.7M113.5 116.3L113.1 116.4M113.1 116.4L112.5 116.6M152.5 137.8L151.6 138.2M114.6 116.1L113.5 116.3M153.4 137.3L152.5 137.8M115.7 115.8L114.6 116.1M154.3 136.8L153.4 137.3M116.8 115.5L116.1 115.7M116.1 115.7L115.7 115.8M155.2 136.3L154.4 136.7M154.4 136.7L154.3 136.8M117.9 115.2L116.8 115.5M156.1 135.8L155.2 136.3M119.0 115.0L118.9 115.0M118.9 115.0L117.9 115.2M157.0 135.3L156.1 135.8M120.1 114.7L119.0 115.0M157.8 134.7L157.0 135.3M121.2 114.4L120.1 114.7M158.7 134.2L157.8 134.7M122.3 114.2L121.6 114.3M121.6 114.3L121.2 114.4M159.5 133.7L158.7 134.2M123.5 113.9L122.3 114.2" stroke="#6fe04a" stroke-width="0.5" fill="none" stroke-linecap="round"/>
<path d="M99.3 156.6L99.2 156.6M99.2 156.6L98.0 156.8M100.6 156.5L99.3 156.6M101.9 156.3L101.2 156.4M101.2 156.4L100.6 156.5M103.2 156.1L101.9 156.3M104.4 156.0L103.2 156.1M103.2 156.1L103.2 156.1M105.7 155.8L105.3 155.8M105.3 155.8L104.4 156.0M106.9 155.6L105.7 155.8M108.1 155.3L107.5 155.5M107.5 155.5L106.9 155.6M109.4 155.1L108.1 155.3M110.6 154.9L109.7 155.1M109.7 155.1L109.4 155.1M111.8 154.6L110.6 154.9M113.0 154.4L112.0 154.6M112.0 154.6L111.8 154.6M114.2 154.1L113.0 154.4M115.3 153.9L114.3 154.1M114.3 154.1L114.2 154.1M116.5 153.6L115.3 153.9M117.6 153.3L116.7 153.5M116.7 153.5L116.5 153.6M118.8 153.0L117.6 153.3M119.9 152.7L119.2 152.9M119.2 152.9L118.8 153.0M121.1 152.4L119.9 152.7M122.2 152.1L121.8 152.2M121.8 152.2L121.1 152.4M123.3 151.8L122.2 152.1M124.4 151.4L123.3 151.8M125.5 151.1L124.5 151.4M124.5 151.4L124.4 151.4M126.6 150.7L125.5 151.1M127.7 150.4L127.3 150.5M127.3 150.5L126.6 150.7M128.8 150.0L127.7 150.4M129.9 149.7L128.8 150.0M130.9 149.3L130.2 149.6M130.2 149.6L129.9 149.7M132.0 149.0L130.9 149.3M133.1 148.6L132.0 149.0M134.1 148.2L133.2 148.5M133.2 148.5L133.1 148.6M135.1 147.8L134.1 148.2M136.2 147.4L135.1 147.8M137.2 147.0L136.4 147.3M136.4 147.3L136.2 147.4M138.2 146.6L137.2 147.0M139.3 146.2L138.2 146.6M140.3 145.8L139.9 145.9M139.9 145.9L139.3 146.2M141.3 145.4L140.3 145.8M142.3 144.9L141.3 145.4M143.3 144.5L142.3 144.9M100.1 118.4L99.8 118.4M144.3 144.1L143.6 144.4M143.6 144.4L143.3 144.5M101.1 118.0L100.1 118.4M145.2 143.6L144.3 144.1M102.1 117.7L101.1 118.0M146.2 143.2L145.2 143.6M103.1 117.4L102.1 117.7M147.2 142.7L146.2 143.2M104.1 117.1L103.5 117.3M103.5 117.3L103.1 117.4M148.1 142.3L147.7 142.5M147.7 142.5L147.2 142.7M105.1 116.8L104.1 117.1M149.1 141.8L148.1 142.3M106.2 116.6L105.1 116.8M150.0 141.4L149.1 141.8M107.2 116.3L106.9 116.3M106.9 116.3L106.2 116.6M151.0 140.9L150.0 141.4M108.2 116.0L107.2 116.3M151.9 140.4L151.0 140.9M109.3 115.7L108.2 116.0M152.9 139.9L152.3 140.2M152.3 140.2L151.9 140.4M110.3 115.4L110.1 115.4M110.1 115.4L109.3 115.7M153.8 139.5L152.9 139.9M111.4 115.1L110.3 115.4M154.7 139.0L153.8 139.5M112.4 114.8L111.4 115.1M155.6 138.5L154.7 139.0M113.5 114.6L113.2 114.6M113.2 114.6L112.4 114.8M156.5 138.0L155.6 138.5M114.6 114.3L113.5 114.6M157.4 137.5L156.5 138.0M115.7 114.0L114.6 114.3M158.3 137.0L158.2 137.1M158.2 137.1L157.4 137.5M116.8 113.7L116.1 113.9M116.1 113.9L115.7 114.0M159.2 136.5L158.3 137.0M117.9 113.5L116.8 113.7M160.1 136.0L159.2 136.5M119.0 113.2L118.9 113.2M118.9 113.2L117.9 113.5M160.9 135.5L160.1 136.0M120.1 112.9L119.0 113.2M161.8 134.9L160.9 135.5M121.2 112.7L120.1 112.9" stroke="#6fe04a" stroke-width="0.5" fill="none" stroke-linecap="round"/>
<path d="M101.6 158.3L101.6 158.3M101.6 158.3L100.3 158.5M102.9 158.1L101.6 158.3M104.1 157.9L103.7 158.0M103.7 158.0L102.9 158.1M105.4 157.7L104.1 157.9M106.6 157.5L105.8 157.7M105.8 157.7L105.4 157.7M107.8 157.3L106.6 157.5M109.1 157.1L108.0 157.3M108.0 157.3L107.8 157.3M110.3 156.8L109.1 157.1M111.5 156.6L110.3 156.8M110.3 156.8L110.3 156.8M112.6 156.3L112.6 156.3M112.6 156.3L111.5 156.6M113.8 156.0L112.6 156.3M115.0 155.8L115.0 155.8M115.0 155.8L113.8 156.0M116.2 155.5L115.0 155.8M117.3 155.2L116.2 155.5M118.5 154.9L117.4 155.2M117.4 155.2L117.3 155.2M119.6 154.6L118.5 154.9M120.7 154.3L120.0 154.5M120.0 154.5L119.6 154.6M121.9 154.0L120.7 154.3M123.0 153.7L122.6 153.8M122.6 153.8L121.9 154.0M124.1 153.3L123.0 153.7M125.2 153.0L124.1 153.3M126.3 152.7L125.3 153.0M125.3 153.0L125.2 153.0M127.4 152.3L126.3 152.7M128.5 152.0L128.1 152.1M128.1 152.1L127.4 152.3M129.6 151.6L128.5 152.0M130.6 151.2L129.6 151.6M131.7 150.9L131.0 151.1M131.0 151.1L130.6 151.2M132.8 150.5L131.7 150.9M133.8 150.1L132.8 150.5M134.9 149.7L134.0 150.1M134.0 150.1L133.8 150.1M135.9 149.3L134.9 149.7M137.0 149.0L135.9 149.3M138.0 148.5L137.2 148.8M137.2 148.8L137.0 149.0M139.0 148.1L138.0 148.5M140.1 147.7L139.0 148.1M141.1 147.3L140.6 147.5M140.6 147.5L140.1 147.7M142.1 146.9L141.1 147.3M143.1 146.5L142.1 146.9M144.1 146.0L143.1 146.5M145.1 145.6L144.3 146.0M144.3 146.0L144.1 146.0M146.1 145.2L145.1 145.6M147.0 144.7L146.1 145.2M148.0 144.3L147.0 144.7M149.0 143.8L148.2 144.2M148.2 144.2L148.0 144.3M149.9 143.4L149.0 143.8M150.9 142.9L149.9 143.4M151.9 142.4L150.9 142.9M152.8 142.0L152.6 142.1M152.6 142.1L151.9 142.4M106.4 114.9L106.1 115.0M153.7 141.5L152.8 142.0M107.4 114.6L106.4 114.9M154.7 141.0L153.7 141.5M108.5 114.3L107.4 114.6M155.6 140.5L154.7 141.0M109.5 114.1L109.3 114.1M109.3 114.1L108.5 114.3M156.5 140.0L155.6 140.5M110.6 113.8L109.5 114.1M157.5 139.5L156.5 140.0M111.7 113.5L110.6 113.8M157.8 139.4L157.5 139.5M112.7 113.2L112.4 113.3M112.4 113.3L111.7 113.5M113.8 113.0L112.7 113.2M114.9 112.7L113.8 113.0M116.0 112.4L115.3 112.6M115.3 112.6L114.9 112.7M117.1 112.1L116.0 112.4M118.2 111.9L118.1 111.9M118.1 111.9L117.1 112.1M119.3 111.6L118.2 111.9" stroke="#6fe04a" stroke-width="0.5" fill="none" stroke-linecap="round"/>
<path d="M103.8 159.9L102.6 160.1M105.1 159.7L104.2 159.8M104.2 159.8L103.8 159.9M106.3 159.5L105.1 159.7M107.5 159.2L106.4 159.4M106.4 159.4L106.3 159.5M108.7 159.0L108.7 159.0M108.7 159.0L107.5 159.2M109.9 158.7L108.7 159.0M111.1 158.5L111.0 158.5M111.0 158.5L109.9 158.7M112.3 158.2L111.1 158.5M113.5 158.0L113.3 158.0M113.3 158.0L112.3 158.2M114.6 157.7L113.5 158.0M115.8 157.4L115.7 157.4M115.7 157.4L114.6 157.7M117.0 157.1L115.8 157.4M118.1 156.8L117.0 157.1M119.3 156.5L118.2 156.8M118.2 156.8L118.1 156.8M120.4 156.2L119.3 156.5M121.5 155.9L120.8 156.1M120.8 156.1L120.4 156.2M122.6 155.6L121.5 155.9M123.8 155.3L123.4 155.4M123.4 155.4L122.6 155.6M124.9 154.9L123.8 155.3M126.0 154.6L124.9 154.9M127.1 154.2L126.1 154.5M126.1 154.5L126.0 154.6M128.2 153.9L127.1 154.2M129.2 153.5L129.0 153.6M129.0 153.6L128.2 153.9M130.3 153.2L129.2 153.5M131.4 152.8L130.3 153.2M132.5 152.4L131.9 152.6M131.9 152.6L131.4 152.8M133.5 152.0L132.5 152.4M134.6 151.7L133.5 152.0M135.6 151.3L134.9 151.5M134.9 151.5L134.6 151.7M136.7 150.9L135.6 151.3M137.7 150.5L136.7 150.9M138.8 150.1L138.1 150.3M138.1 150.3L137.7 150.5M139.8 149.7L138.8 150.1M140.8 149.3L139.8 149.7M141.8 148.8L141.5 149.0M141.5 149.0L140.8 149.3M142.8 148.4L141.8 148.8M143.9 148.0L142.8 148.4M144.9 147.6L143.9 148.0M145.9 147.1L145.1 147.5M145.1 147.5L144.9 147.6M146.8 146.7L145.9 147.1M147.8 146.2L146.8 146.7M148.8 145.8L147.8 146.2M148.9 145.7L148.8 145.8M112.0 111.9L111.5 112.1M113.1 111.7L112.0 111.9M114.2 111.4L113.1 111.7M115.2 111.1L114.4 111.3M114.4 111.3L114.2 111.4M116.3 110.9L115.2 111.1M117.4 110.6L117.2 110.6M117.2 110.6L116.3 110.9" stroke="#6fe04a" stroke-width="0.5" fill="none" stroke-linecap="round"/>
<path d="M106.7 161.9L105.7 162.1M105.7 162.1L105.5 162.2M107.9 161.7L106.7 161.9M109.1 161.4L108.0 161.7M108.0 161.7L107.9 161.7M110.3 161.2L110.3 161.2M110.3 161.2L109.1 161.4M111.5 160.9L110.3 161.2M112.6 160.7L112.6 160.7M112.6 160.7L111.5 160.9M113.8 160.4L112.6 160.7M115.0 160.1L113.8 160.4M116.1 159.8L115.0 160.1M115.0 160.1L115.0 160.1M117.3 159.5L116.1 159.8M118.4 159.2L117.5 159.5M117.5 159.5L117.3 159.5M119.6 158.9L118.4 159.2M120.7 158.6L120.1 158.8M120.1 158.8L119.6 158.9M121.8 158.3L120.7 158.6M123.0 158.0L122.7 158.0M122.7 158.0L121.8 158.3M124.1 157.6L123.0 158.0M125.2 157.3L124.1 157.6M126.3 156.9L125.4 157.2M125.4 157.2L125.2 157.3M127.4 156.6L126.3 156.9M128.5 156.2L128.1 156.4M128.1 156.4L127.4 156.6M129.6 155.9L128.5 156.2M130.6 155.5L129.6 155.9M131.7 155.1L131.0 155.4M131.0 155.4L130.6 155.5M132.8 154.8L131.7 155.1M133.9 154.4L132.8 154.8M134.9 154.0L134.0 154.4M134.0 154.4L133.9 154.4M136.0 153.6L134.9 154.0M137.0 153.2L136.0 153.6M138.1 152.8L137.1 153.2M137.1 153.2L137.0 153.2M139.1 152.4L138.1 152.8M140.2 152.0L139.1 152.4M140.3 152.0L140.2 152.0" stroke="#6fe04a" stroke-width="0.5" fill="none" stroke-linecap="round"/>
<path d="M115.8 169.6L163.0 135.6M115.8 169.6L68.5 135.6" stroke="#333" stroke-width="0.4" fill="none"/>
<g fill="currentColor" stroke="currentColor" stroke-width="0.8" stroke-linejoin="round">
<path color="#069d5f" d="M115.4 61.8l2.4-2.2l-2-3.4l-2.4 2.2z"/>
<path color="#009c6f" d="M117.3 64.9l2.5-2.2l-2-3.1l-2.4 2.2z"/>
<path color="#039c67" d="M112.9 63.9l2.5-2.1l-2-3.4l-2.5 2.2z"/>
<path color="#009481" d="M119.3 67.8l2.4-2.2l-1.9-2.9l-2.5 2.2z"/>
<path color="#009878" d="M114.9 67l2.4-2.1l-1.9-3.1l-2.5 2.1z"/>
<path color="#019c6e" d="M110.5 66l2.4-2.1l-2-3.3l-2.4 2.1z"/>
<path color="#008890" d="M121.2 70.5l2.4-2.1l-1.9-2.8l-2.4 2.2z"/>
<path color="#008f89" d="M116.8 69.9l2.5-2.1l-2-2.9l-2.4 2.1z"/>
<path color="#009480" d="M112.5 69l2.4-2l-2-3.1l-2.4 2.1z"/>
<path color="#009a75" d="M108 67.9l2.5-1.9l-2-3.3l-2.5 2z"/>
<path color="#017a9c" d="M123.1 73l2.4-2.1l-1.9-2.5l-2.4 2.1z"/>
<path color="#008197" d="M118.8 72.5l2.4-2l-1.9-2.7l-2.5 2.1z"/>
<path color="#008890" d="M114.4 71.8l2.4-1.9l-1.9-2.9l-2.4 2z"/>
<path color="#009088" d="M110 71l2.5-2l-2-3l-2.5 1.9z"/>
<path color="#05689e" d="M125 75.3l2.4-2.1l-1.9-2.3l-2.4 2.1z"/>
<path color="#00967d" d="M105.6 69.8l2.4-1.9l-2-3.2l-2.4 1.9z"/>
<path color="#046f9d" d="M120.7 75l2.4-2l-1.9-2.5l-2.4 2z"/>
<path color="#01799c" d="M116.3 74.5l2.5-2l-2-2.6l-2.4 1.9z"/>
<path color="#008197" d="M112 73.8l2.4-2l-1.9-2.8l-2.5 2z"/>
<path color="#0a589e" d="M126.8 77.4l2.4-2l-1.8-2.2l-2.4 2.1z"/>
<path color="#008a8e" d="M107.6 72.8l2.4-1.8l-2-3.1l-2.4 1.9z"/>
<path color="#085ea0" d="M122.5 77.2l2.5-1.9l-1.9-2.3l-2.4 2z"/>
<path color="#009384" d="M103.2 71.7l2.4-1.9l-2-3.2l-2.5 1.9z"/>
<path color="#06669f" d="M118.2 76.9l2.5-1.9l-1.9-2.5l-2.5 2z"/>
<path color="#046f9d" d="M113.9 76.4l2.4-1.9l-1.9-2.7l-2.4 2z"/>
<path color="#0e499b" d="M128.6 79.3l2.4-2l-1.8-1.9l-2.4 2z"/>
<path color="#017b9b" d="M109.5 75.6l2.5-1.8l-2-2.8l-2.4 1.8z"/>
<path color="#0d4e9c" d="M124.4 79.3l2.4-1.9l-1.8-2.1l-2.5 1.9z"/>
<path color="#008494" d="M105.2 74.6l2.4-1.8l-2-3l-2.4 1.9z"/>
<path color="#0b559e" d="M120.1 79.1l2.4-1.9l-1.8-2.2l-2.5 1.9z"/>
<path color="#008f89" d="M100.7 73.4l2.5-1.7l-2.1-3.2l-2.4 1.8z"/>
<path color="#085da0" d="M115.8 78.7l2.4-1.8l-1.9-2.4l-2.4 1.9z"/>
<path color="#123c98" d="M130.4 81l2.4-1.9l-1.8-1.8l-2.4 2z"/>
<path color="#06679f" d="M111.5 78.2l2.4-1.8l-1.9-2.6l-2.5 1.8z"/>
<path color="#114099" d="M126.2 81.2l2.4-1.9l-1.8-1.9l-2.4 1.9z"/>
<path color="#03739d" d="M107.1 77.4l2.4-1.8l-1.9-2.8l-2.4 1.8z"/>
<path color="#0f459a" d="M121.9 81.1l2.5-1.8l-1.9-2.1l-2.4 1.9z"/>
<path color="#008098" d="M102.7 76.3l2.5-1.7l-2-2.9l-2.5 1.7z"/>
<path color="#133492" d="M132.1 82.5l2.4-1.9l-1.7-1.5l-2.4 1.9z"/>
<path color="#0d4c9c" d="M117.7 80.9l2.4-1.8l-1.9-2.2l-2.4 1.8z"/>
<path color="#008a8e" d="M98.3 75.1l2.4-1.7l-2-3.1l-2.4 1.7z"/>
<path color="#0b559e" d="M113.4 80.5l2.4-1.8l-1.9-2.3l-2.4 1.8z"/>
<path color="#123693" d="M127.9 82.8l2.5-1.8l-1.8-1.7l-2.4 1.9z"/>
<path color="#0760a0" d="M109 79.9l2.5-1.7l-2-2.6l-2.4 1.8z"/>
<path color="#123995" d="M123.7 83l2.5-1.8l-1.8-1.9l-2.5 1.8z"/>
<path color="#046c9e" d="M104.7 79l2.4-1.6l-1.9-2.8l-2.5 1.7z"/>
<path color="#132e8d" d="M133.8 83.9l2.5-1.9l-1.8-1.4l-2.4 1.9z"/>
<path color="#123d98" d="M119.5 82.9l2.4-1.8l-1.8-2l-2.4 1.8z"/>
<path color="#017a9b" d="M100.3 78l2.4-1.7l-2-2.9l-2.4 1.7z"/>
<path color="#132e8d" d="M129.7 84.3l2.4-1.8l-1.7-1.5l-2.5 1.8z"/>
<path color="#0f459a" d="M115.2 82.6l2.5-1.7l-1.9-2.2l-2.4 1.8z"/>
<path color="#008692" d="M95.9 76.7l2.4-1.6l-2-3.1l-2.5 1.6z"/>
<path color="#0d4e9c" d="M110.9 82.2l2.5-1.7l-1.9-2.3l-2.5 1.7z"/>
<path color="#13308e" d="M125.5 84.6l2.4-1.8l-1.7-1.6l-2.5 1.8z"/>
<path color="#132989" d="M135.5 85.1l2.4-1.8l-1.6-1.3l-2.5 1.9z"/>
<path color="#09599f" d="M106.6 81.5l2.4-1.6l-1.9-2.5l-2.4 1.6z"/>
<path color="#133391" d="M121.3 84.7l2.4-1.7l-1.8-1.9l-2.4 1.8z"/>
<path color="#06669f" d="M102.3 80.6l2.4-1.6l-2-2.7l-2.4 1.7z"/>
<path color="#132888" d="M131.4 85.7l2.4-1.8l-1.7-1.4l-2.4 1.8z"/>
<path color="#123894" d="M117.1 84.6l2.4-1.7l-1.8-2l-2.5 1.7z"/>
<path color="#02749c" d="M97.9 79.5l2.4-1.5l-2-2.9l-2.4 1.6z"/>
<path color="#132988" d="M127.2 86.1l2.5-1.8l-1.8-1.5l-2.4 1.8z"/>
<path color="#113e99" d="M112.8 84.3l2.4-1.7l-1.8-2.1l-2.5 1.7z"/>
<path color="#008296" d="M93.4 78.2l2.5-1.5l-2.1-3.1l-2.4 1.6z"/>
<path color="#142586" d="M137.2 86.1l2.4-1.8l-1.7-1l-2.4 1.8z"/>
<path color="#0f489b" d="M108.5 83.8l2.4-1.6l-1.9-2.3l-2.4 1.6z"/>
<path color="#132b8a" d="M123.1 86.3l2.4-1.7l-1.8-1.6l-2.4 1.7z"/>
<path color="#142484" d="M133.1 86.8l2.4-1.7l-1.7-1.2l-2.4 1.8z"/>
<path color="#0b549e" d="M104.2 83.1l2.4-1.6l-1.9-2.5l-2.4 1.6z"/>
<path color="#132e8d" d="M118.9 86.3l2.4-1.6l-1.8-1.8l-2.4 1.7z"/>
<path color="#07619f" d="M99.8 82.1l2.5-1.5l-2-2.6l-2.4 1.5z"/>
<path color="#142384" d="M129 87.3l2.4-1.6l-1.7-1.4l-2.5 1.8z"/>
<path color="#133391" d="M114.6 86.2l2.5-1.6l-1.9-2l-2.4 1.7z"/>
<path color="#142384" d="M138.8 87l2.4-1.8l-1.6-0.9l-2.4 1.8z"/>
<path color="#03709d" d="M95.4 81l2.5-1.5l-2-2.8l-2.5 1.5z"/>
<path color="#142485" d="M124.8 87.7l2.4-1.6l-1.7-1.5l-2.4 1.7z"/>
<path color="#123996" d="M110.4 85.8l2.4-1.5l-1.9-2.1l-2.4 1.6z"/>
<path color="#007f99" d="M91 79.6l2.4-1.4l-2-3l-2.4 1.5z"/>
<path color="#142182" d="M134.7 87.8l2.5-1.7l-1.7-1l-2.4 1.7z"/>
<path color="#10439a" d="M106.1 85.3l2.4-1.5l-1.9-2.3l-2.4 1.6z"/>
<path color="#132687" d="M120.6 87.9l2.5-1.6l-1.8-1.6l-2.4 1.6z"/>
<path color="#141f81" d="M130.7 88.5l2.4-1.7l-1.7-1.1l-2.4 1.6z"/>
<path color="#142384" d="M140.4 87.7l2.4-1.7l-1.6-0.8l-2.4 1.8z"/>
<path color="#0c4f9c" d="M101.8 84.5l2.4-1.4l-1.9-2.5l-2.5 1.5z"/>
<path color="#132a8a" d="M116.4 87.9l2.5-1.6l-1.8-1.7l-2.5 1.6z"/>
<path color="#085da0" d="M97.4 83.6l2.4-1.5l-1.9-2.6l-2.5 1.5z"/>
<path color="#141f81" d="M126.5 88.9l2.5-1.6l-1.8-1.2l-2.4 1.6z"/>
<path color="#132f8e" d="M112.2 87.7l2.4-1.5l-1.8-1.9l-2.4 1.5z"/>
<path color="#141f81" d="M136.4 88.6l2.4-1.6l-1.6-0.9l-2.5 1.7z"/>
<path color="#046c9e" d="M93 82.4l2.4-1.4l-2-2.8l-2.4 1.4z"/>
<path color="#142082" d="M122.4 89.3l2.4-1.6l-1.7-1.4l-2.5 1.6z"/>
<path color="#123693" d="M107.9 87.3l2.5-1.5l-1.9-2l-2.4 1.5z"/>
<path color="#007d9b" d="M88.6 81l2.4-1.4l-2-2.9l-2.4 1.3z"/>
<path color="#132383" d="M142 88.2l2.4-1.6l-1.6-0.6l-2.4 1.7z"/>
<path color="#141e80" d="M132.3 89.4l2.4-1.6l-1.6-1l-2.4 1.7z"/>
<path color="#113f99" d="M103.7 86.7l2.4-1.4l-1.9-2.2l-2.4 1.4z"/>
<path color="#142384" d="M118.2 89.4l2.4-1.5l-1.7-1.6l-2.5 1.6z"/>
<path color="#141d7f" d="M128.2 90l2.5-1.5l-1.7-1.2l-2.5 1.6z"/>
<path color="#141f81" d="M138 89.3l2.4-1.6l-1.6-0.7l-2.4 1.6z"/>
<path color="#0e4b9c" d="M99.3 85.9l2.5-1.4l-2-2.4l-2.4 1.5z"/>
<path color="#132787" d="M114 89.4l2.4-1.5l-1.8-1.7l-2.4 1.5z"/>
<path color="#095a9f" d="M95 84.9l2.4-1.3l-2-2.6l-2.4 1.4z"/>
<path color="#141d7f" d="M124.1 90.5l2.4-1.6l-1.7-1.2l-2.4 1.6z"/>
<path color="#112073" d="M143.5 88.7l2.4-1.7l-1.5-0.4l-2.4 1.6z"/>
<path color="#132c8c" d="M109.8 89.1l2.4-1.4l-1.8-1.9l-2.5 1.5z"/>
<path color="#141d7f" d="M133.9 90.2l2.5-1.6l-1.7-0.8l-2.4 1.6z"/>
<path color="#05699e" d="M90.6 83.7l2.4-1.3l-2-2.8l-2.4 1.4z"/>
<path color="#141e80" d="M120 90.7l2.4-1.4l-1.8-1.4l-2.4 1.5z"/>
<path color="#133391" d="M105.5 88.7l2.4-1.4l-1.8-2l-2.4 1.4z"/>
<path color="#017a9b" d="M86.2 82.2l2.4-1.2l-2-3l-2.5 1.3z"/>
<path color="#121d75" d="M139.5 89.8l2.5-1.6l-1.6-0.5l-2.4 1.6z"/>
<path color="#141d7e" d="M129.9 90.9l2.4-1.5l-1.6-0.9l-2.5 1.5z"/>
<path color="#123c98" d="M101.2 88.1l2.5-1.4l-1.9-2.2l-2.5 1.4z"/>
<path color="#142082" d="M115.8 90.8l2.4-1.4l-1.8-1.5l-2.4 1.5z"/>
<path color="#0e1e64" d="M145 88.9l2.4-1.5l-1.5-0.4l-2.4 1.7z"/>
<path color="#141c7e" d="M125.8 91.5l2.4-1.5l-1.7-1.1l-2.4 1.6z"/>
<path color="#131c77" d="M135.5 90.8l2.5-1.5l-1.6-0.7l-2.5 1.6z"/>
<path color="#0e499b" d="M96.9 87.2l2.4-1.3l-1.9-2.3l-2.4 1.3z"/>
<path color="#142585" d="M111.6 90.7l2.4-1.3l-1.8-1.7l-2.4 1.4z"/>
<path color="#0a579e" d="M92.5 86.2l2.5-1.3l-2-2.5l-2.4 1.3z"/>
<path color="#141d7e" d="M121.7 91.9l2.4-1.4l-1.7-1.2l-2.4 1.4z"/>
<path color="#0f1b66" d="M141.1 90.2l2.4-1.5l-1.5-0.5l-2.5 1.6z"/>
<path color="#132a8a" d="M107.4 90.5l2.4-1.4l-1.9-1.8l-2.4 1.4z"/>
<path color="#141c7b" d="M131.5 91.6l2.4-1.4l-1.6-0.8l-2.4 1.5z"/>
<path color="#06679f" d="M88.1 84.9l2.5-1.2l-2-2.7l-2.4 1.2z"/>
<path color="#0c1b55" d="M146.5 89.1l2.4-1.5l-1.5-0.2l-2.4 1.5z"/>
<path color="#141d7f" d="M117.5 92.1l2.5-1.4l-1.8-1.3l-2.4 1.4z"/>
<path color="#133290" d="M103.1 90l2.4-1.3l-1.8-2l-2.5 1.4z"/>
<path color="#01799c" d="M83.7 83.4l2.5-1.2l-2.1-2.9l-2.4 1.2z"/>
<path color="#101867" d="M137.1 91.3l2.4-1.5l-1.5-0.5l-2.5 1.5z"/>
<path color="#141c7e" d="M127.5 92.3l2.4-1.4l-1.7-0.9l-2.4 1.5z"/>
<path color="#123a97" d="M98.8 89.3l2.4-1.2l-1.9-2.2l-2.4 1.3z"/>
<path color="#141f81" d="M113.4 92.2l2.4-1.4l-1.8-1.4l-2.4 1.3z"/>
<path color="#0c1956" d="M142.6 90.4l2.4-1.5l-1.5-0.2l-2.4 1.5z"/>
<path color="#141c7d" d="M123.4 92.9l2.4-1.4l-1.7-1l-2.4 1.4z"/>
<path color="#11186b" d="M133.1 92.2l2.4-1.4l-1.6-0.6l-2.4 1.4z"/>
<path color="#0f479b" d="M94.5 88.4l2.4-1.2l-1.9-2.3l-2.5 1.3z"/>
<path color="#142384" d="M109.2 92l2.4-1.3l-1.8-1.6l-2.4 1.4z"/>
<path color="#091845" d="M147.9 89.2l2.4-1.5l-1.4-0.1l-2.4 1.5z"/>
<path color="#0a569e" d="M90.1 87.3l2.4-1.1l-1.9-2.5l-2.5 1.2z"/>
<path color="#141c7e" d="M119.3 93.2l2.4-1.3l-1.7-1.2l-2.5 1.4z"/>
<path color="#0d1658" d="M138.7 91.6l2.4-1.4l-1.6-0.4l-2.4 1.5z"/>
<path color="#132989" d="M104.9 91.7l2.5-1.2l-1.9-1.8l-2.4 1.3z"/>
<path color="#12196f" d="M129.1 93l2.4-1.4l-1.6-0.7l-2.4 1.4z"/>
<path color="#06669f" d="M85.7 86l2.4-1.1l-1.9-2.7l-2.5 1.2z"/>
<path color="#0a1647" d="M144.1 90.5l2.4-1.4l-1.5-0.2l-2.4 1.5z"/>
<path color="#141d7f" d="M115.1 93.4l2.4-1.3l-1.7-1.3l-2.4 1.4z"/>
<path color="#13318f" d="M100.7 91.2l2.4-1.2l-1.9-1.9l-2.4 1.2z"/>
<path color="#01789c" d="M81.3 84.5l2.4-1.1l-2-2.9l-2.4 1.2z"/>
<path color="#0e155b" d="M134.7 92.7l2.4-1.4l-1.6-0.5l-2.4 1.4z"/>
<path color="#131a74" d="M125 93.7l2.5-1.4l-1.7-0.8l-2.4 1.4z"/>
<path color="#071436" d="M149.3 89.1l2.4-1.5l-1.4 0.1l-2.4 1.5z"/>
<path color="#123a96" d="M96.4 90.5l2.4-1.2l-1.9-2.1l-2.4 1.2z"/>
<path color="#141e80" d="M111 93.4l2.4-1.2l-1.8-1.5l-2.4 1.3z"/>
<path color="#0b1449" d="M140.2 91.8l2.4-1.4l-1.5-0.2l-2.4 1.4z"/>
<path color="#131b79" d="M121 94.2l2.4-1.3l-1.7-1l-2.4 1.3z"/>
<path color="#0f165f" d="M130.7 93.6l2.4-1.4l-1.6-0.6l-2.4 1.4z"/>
<path color="#0f469a" d="M92 89.5l2.5-1.1l-2-2.2l-2.4 1.1z"/>
<path color="#142384" d="M106.8 93.3l2.4-1.3l-1.8-1.5l-2.5 1.2z"/>
<path color="#071337" d="M145.5 90.5l2.4-1.3l-1.4-0.1l-2.4 1.4z"/>
<path color="#0a569e" d="M87.7 88.4l2.4-1.1l-2-2.4l-2.4 1.1z"/>
<path color="#040f25" d="M150.7 88.9l2.4-1.4l-1.4 0.1l-2.4 1.5z"/>
<path color="#141c7d" d="M116.8 94.5l2.5-1.3l-1.8-1.1l-2.4 1.3z"/>
<path color="#0b134b" d="M136.2 93l2.5-1.4l-1.6-0.3l-2.4 1.4z"/>
<path color="#132989" d="M102.5 92.9l2.4-1.2l-1.8-1.7l-2.4 1.2z"/>
<path color="#101663" d="M126.7 94.3l2.4-1.3l-1.6-0.7l-2.5 1.4z"/>
<path color="#06669f" d="M83.3 87l2.4-1l-2-2.6l-2.4 1.1z"/>
<path color="#081239" d="M141.6 91.9l2.5-1.4l-1.5-0.1l-2.4 1.4z"/>
<path color="#141d7e" d="M112.7 94.6l2.4-1.2l-1.7-1.2l-2.4 1.2z"/>
<path color="#13318f" d="M98.2 92.3l2.5-1.1l-1.9-1.9l-2.4 1.2z"/>
<path color="#01789c" d="M78.8 85.5l2.5-1l-2-2.8l-2.5 1z"/>
<path color="#0c124e" d="M132.3 94l2.4-1.3l-1.6-0.5l-2.4 1.4z"/>
<path color="#111768" d="M122.6 94.9l2.4-1.2l-1.6-0.8l-2.4 1.3z"/>
<path color="#050f27" d="M146.9 90.4l2.4-1.3l-1.4 0.1l-2.4 1.3z"/>
<path color="#123a96" d="M93.9 91.6l2.5-1.1l-1.9-2.1l-2.5 1.1z"/>
<path color="#020914" d="M152 88.7l2.4-1.4l-1.3 0.2l-2.4 1.4z"/>
<path color="#141e80" d="M108.5 94.6l2.5-1.2l-1.8-1.4l-2.4 1.3z"/>
<path color="#09103c" d="M137.7 93.1l2.5-1.3l-1.5-0.2l-2.5 1.4z"/>
<path color="#12186e" d="M118.5 95.4l2.5-1.2l-1.7-1l-2.5 1.3z"/>
<path color="#0d1353" d="M128.3 94.8l2.4-1.2l-1.6-0.6l-2.4 1.3z"/>
<path color="#0f479b" d="M89.6 90.6l2.4-1.1l-1.9-2.2l-2.4 1.1z"/>
<path color="#142384" d="M104.3 94.4l2.5-1.1l-1.9-1.6l-2.4 1.2z"/>
<path color="#050e29" d="M143.1 91.9l2.4-1.4l-1.4 0l-2.5 1.4z"/>
<path color="#0a579e" d="M85.3 89.4l2.4-1l-2-2.4l-2.4 1z"/>
<path color="#020916" d="M148.2 90.2l2.5-1.3l-1.4 0.2l-2.4 1.3z"/>
<path color="#121a73" d="M114.4 95.6l2.4-1.1l-1.7-1.1l-2.4 1.2z"/>
<path color="#0a103e" d="M133.8 94.2l2.4-1.2l-1.5-0.3l-2.4 1.3z"/>
<path color="#000306" d="M153.3 88.3l2.4-1.3l-1.3 0.3l-2.4 1.4z"/>
<path color="#132989" d="M100.1 94l2.4-1.1l-1.8-1.7l-2.5 1.1z"/>
<path color="#0e1457" d="M124.3 95.5l2.4-1.2l-1.7-0.6l-2.4 1.2z"/>
<path color="#06679f" d="M80.8 88l2.5-1l-2-2.5l-2.5 1z"/>
<path color="#060d2c" d="M139.2 93.2l2.4-1.3l-1.4-0.1l-2.5 1.3z"/>
<path color="#131c7a" d="M110.3 95.7l2.4-1.1l-1.7-1.2l-2.5 1.2z"/>
<path color="#133190" d="M95.8 93.3l2.4-1l-1.8-1.8l-2.5 1.1z"/>
<path color="#01799c" d="M76.4 86.4l2.4-0.9l-2-2.8l-2.4 0.9z"/>
<path color="#0a0f42" d="M129.8 95.2l2.5-1.2l-1.6-0.4l-2.4 1.2z"/>
<path color="#0f155d" d="M120.2 96.1l2.4-1.2l-1.6-0.7l-2.5 1.2z"/>
<path color="#030918" d="M144.5 91.7l2.4-1.3l-1.4 0.1l-2.4 1.4z"/>
<path color="#123b97" d="M91.5 92.5l2.4-0.9l-1.9-2.1l-2.4 1.1z"/>
<path color="#010306" d="M149.6 89.9l2.4-1.2l-1.3 0.2l-2.5 1.3z"/>
<path color="#141f80" d="M106.1 95.7l2.4-1.1l-1.7-1.3l-2.5 1.1z"/>
<path color="#000406" d="M154.5 87.9l2.4-1.3l-1.2 0.4l-2.4 1.3z"/>
<path color="#070d2e" d="M135.3 94.3l2.4-1.2l-1.5-0.1l-2.4 1.2z"/>
<path color="#101662" d="M116.1 96.5l2.4-1.1l-1.7-0.9l-2.4 1.1z"/>
<path color="#0b1047" d="M125.9 96l2.4-1.2l-1.6-0.5l-2.4 1.2z"/>
<path color="#0e499b" d="M87.2 91.5l2.4-0.9l-1.9-2.2l-2.4 1z"/>
<path color="#142485" d="M101.9 95.4l2.4-1l-1.8-1.5l-2.4 1.1z"/>
<path color="#04091b" d="M140.6 93.1l2.5-1.2l-1.5 0l-2.4 1.3z"/>
<path color="#0a589f" d="M82.8 90.3l2.5-0.9l-2-2.4l-2.5 1z"/>
<path color="#010306" d="M145.8 91.5l2.4-1.3l-1.3 0.2l-2.4 1.3z"/>
<path color="#111868" d="M112 96.7l2.4-1.1l-1.7-1l-2.4 1.1z"/>
<path color="#080d32" d="M131.4 95.4l2.4-1.2l-1.5-0.2l-2.5 1.2z"/>
<path color="#000406" d="M155.7 87.5l2.4-1.3l-1.2 0.4l-2.4 1.3z"/>
<path color="#000306" d="M150.8 89.6l2.5-1.3l-1.3 0.4l-2.4 1.2z"/>
<path color="#132b8a" d="M97.7 94.9l2.4-0.9l-1.9-1.7l-2.4 1z"/>
<path color="#0c114b" d="M121.8 96.7l2.5-1.2l-1.7-0.6l-2.4 1.2z"/>
<path color="#05699e" d="M78.4 88.8l2.4-0.8l-2-2.5l-2.4 0.9z"/>
<path color="#04091e" d="M136.8 94.3l2.4-1.1l-1.5-0.1l-2.4 1.2z"/>
<path color="#111a6f" d="M107.9 96.8l2.4-1.1l-1.8-1.1l-2.4 1.1z"/>
<path color="#133391" d="M93.4 94.3l2.4-1l-1.9-1.7l-2.4 0.9z"/>
<path color="#007c9b" d="M74 87.2l2.4-0.8l-2-2.8l-2.5 0.9z"/>
<path color="#080d36" d="M127.4 96.3l2.4-1.1l-1.5-0.4l-2.4 1.2z"/>
<path color="#0d1251" d="M117.8 97.2l2.4-1.1l-1.7-0.7l-2.4 1.1z"/>
<path color="#010308" d="M142 92.9l2.5-1.2l-1.4 0.2l-2.5 1.2z"/>
<path color="#000506" d="M156.8 86.9l2.4-1.2l-1.1 0.5l-2.4 1.3z"/>
<path color="#123d98" d="M89.1 93.4l2.4-0.9l-1.9-1.9l-2.4 0.9z"/>
<path color="#010306" d="M147.1 91.1l2.5-1.2l-1.4 0.3l-2.4 1.3z"/>
<path color="#121e76" d="M103.7 96.6l2.4-0.9l-1.8-1.3l-2.4 1z"/>
<path color="#000406" d="M152.1 89.1l2.4-1.2l-1.2 0.4l-2.5 1.3z"/>
<path color="#050a21" d="M132.9 95.4l2.4-1.1l-1.5-0.1l-2.4 1.2z"/>
<path color="#0e1457" d="M113.7 97.5l2.4-1l-1.7-0.9l-2.4 1.1z"/>
<path color="#090d3a" d="M123.4 97.1l2.5-1.1l-1.6-0.5l-2.5 1.2z"/>
<path color="#0e4b9c" d="M84.8 92.4l2.4-0.9l-1.9-2.1l-2.5 0.9z"/>
<path color="#132480" d="M99.5 96.3l2.4-0.9l-1.8-1.4l-2.4 0.9z"/>
<path color="#02040c" d="M138.2 94.2l2.4-1.1l-1.4 0.1l-2.4 1.1z"/>
<path color="#020702" d="M157.9 86.4l2.4-1.2l-1.1 0.5l-2.4 1.2z"/>
<path color="#095b9f" d="M80.4 91.1l2.4-0.8l-2-2.3l-2.4 0.8z"/>
<path color="#010306" d="M143.4 92.6l2.4-1.1l-1.3 0.2l-2.5 1.2z"/>
<path color="#0f155d" d="M109.6 97.7l2.4-1l-1.7-1l-2.4 1.1z"/>
<path color="#060a25" d="M129 96.4l2.4-1l-1.6-0.2l-2.4 1.1z"/>
<path color="#000406" d="M153.2 88.6l2.5-1.1l-1.2 0.4l-2.4 1.2z"/>
<path color="#000306" d="M148.4 90.7l2.4-1.1l-1.2 0.3l-2.5 1.2z"/>
<path color="#132d8b" d="M95.2 95.8l2.5-0.9l-1.9-1.6l-2.4 1z"/>
<path color="#0a0e3f" d="M119.4 97.7l2.4-1l-1.6-0.6l-2.4 1.1z"/>
<path color="#046c9e" d="M76 89.6l2.4-0.8l-2-2.4l-2.4 0.8z"/>
<path color="#020510" d="M134.4 95.4l2.4-1.1l-1.5 0l-2.4 1.1z"/>
<path color="#101864" d="M105.4 97.7l2.5-0.9l-1.8-1.1l-2.4 0.9z"/>
<path color="#123693" d="M91 95.1l2.4-0.8l-1.9-1.8l-2.4 0.9z"/>
<path color="#007e9a" d="M71.5 87.9l2.5-0.7l-2.1-2.7l-2.4 0.8z"/>
<path color="#020702" d="M158.9 85.8l2.4-1.1l-1 0.5l-2.4 1.2z"/>
<path color="#060a29" d="M125 97.3l2.4-1l-1.5-0.3l-2.5 1.1z"/>
<path color="#0b1045" d="M115.4 98.1l2.4-0.9l-1.7-0.7l-2.4 1z"/>
<path color="#010206" d="M139.6 94l2.4-1.1l-1.4 0.2l-2.4 1.1z"/>
<path color="#020702" d="M154.4 88.1l2.4-1.2l-1.1 0.6l-2.5 1.1z"/>
<path color="#114099" d="M86.7 94.2l2.4-0.8l-1.9-1.9l-2.4 0.9z"/>
<path color="#010306" d="M144.7 92.2l2.4-1.1l-1.3 0.4l-2.4 1.1z"/>
<path color="#101d6c" d="M101.3 97.5l2.4-0.9l-1.8-1.2l-2.4 0.9z"/>
<path color="#000406" d="M149.6 90.2l2.5-1.1l-1.3 0.5l-2.4 1.1z"/>
<path color="#030613" d="M130.5 96.5l2.4-1.1l-1.5 0l-2.4 1z"/>
<path color="#0c114b" d="M111.3 98.4l2.4-0.9l-1.7-0.8l-2.4 1z"/>
<path color="#070b2e" d="M121 98l2.4-0.9l-1.6-0.4l-2.4 1z"/>
<path color="#020702" d="M159.8 85.3l2.4-1.2l-0.9 0.6l-2.4 1.1z"/>
<path color="#0c4f9c" d="M82.3 93.1l2.5-0.7l-2-2.1l-2.4 0.8z"/>
<path color="#112376" d="M97 97.2l2.5-0.9l-1.8-1.4l-2.5 0.9z"/>
<path color="#010206" d="M135.8 95.2l2.4-1l-1.4 0.1l-2.4 1.1z"/>
<path color="#020702" d="M155.4 87.5l2.5-1.1l-1.1 0.5l-2.4 1.2z"/>
<path color="#085fa0" d="M77.9 91.8l2.5-0.7l-2-2.3l-2.4 0.8z"/>
<path color="#010306" d="M141 93.6l2.4-1l-1.4 0.3l-2.4 1.1z"/>
<path color="#0d1351" d="M107.2 98.6l2.4-0.9l-1.7-0.9l-2.5 0.9z"/>
<path color="#030718" d="M126.5 97.4l2.5-1l-1.6-0.1l-2.4 1z"/>
<path color="#000406" d="M150.8 89.7l2.4-1.1l-1.1 0.5l-2.5 1.1z"/>
<path color="#000406" d="M146 91.8l2.4-1.1l-1.3 0.4l-2.4 1.1z"/>
<path color="#112c81" d="M92.8 96.6l2.4-0.8l-1.8-1.5l-2.4 0.8z"/>
<path color="#080c33" d="M117 98.6l2.4-0.9l-1.6-0.5l-2.4 0.9z"/>
<path color="#020702" d="M160.6 84.7l2.5-1.1l-0.9 0.5l-2.4 1.2z"/>
<path color="#03709d" d="M73.5 90.2l2.5-0.6l-2-2.4l-2.5 0.7z"/>
<path color="#010206" d="M131.9 96.4l2.5-1l-1.5 0l-2.4 1.1z"/>
<path color="#0d1759" d="M103 98.5l2.4-0.8l-1.7-1.1l-2.4 0.9z"/>
<path color="#11368d" d="M88.5 95.9l2.5-0.8l-1.9-1.7l-2.4 0.8z"/>
<path color="#008197" d="M69.1 88.5l2.4-0.6l-2-2.6l-2.5 0.6z"/>
<path color="#020702" d="M156.4 86.9l2.5-1.1l-1 0.6l-2.5 1.1z"/>
<path color="#04071c" d="M122.6 98.2l2.4-0.9l-1.6-0.2l-2.4 0.9z"/>
<path color="#090d39" d="M112.9 99l2.5-0.9l-1.7-0.6l-2.4 0.9z"/>
<path color="#020702" d="M161.4 84.2l2.4-1.1l-0.7 0.5l-2.5 1.1z"/>
<path color="#010206" d="M137.2 94.9l2.4-0.9l-1.4 0.2l-2.4 1z"/>
<path color="#020702" d="M151.9 89.1l2.5-1l-1.2 0.5l-2.4 1.1z"/>
<path color="#0f4497" d="M84.2 94.9l2.5-0.7l-1.9-1.8l-2.5 0.7z"/>
<path color="#000306" d="M142.3 93.2l2.4-1l-1.3 0.4l-2.4 1z"/>
<path color="#0e1c62" d="M98.8 98.3l2.5-0.8l-1.8-1.2l-2.5 0.9z"/>
<path color="#000406" d="M147.2 91.2l2.4-1l-1.2 0.5l-2.4 1.1z"/>
<path color="#010206" d="M128 97.4l2.5-0.9l-1.5-0.1l-2.5 1z"/>
<path color="#020702" d="M162 83.7l2.4-1l-0.6 0.4l-2.4 1.1z"/>
<path color="#0a0f3f" d="M108.8 99.3l2.5-0.9l-1.7-0.7l-2.4 0.9z"/>
<path color="#050821" d="M118.6 98.9l2.4-0.9l-1.6-0.3l-2.4 0.9z"/>
<path color="#020702" d="M157.4 86.3l2.4-1l-0.9 0.5l-2.5 1.1z"/>
<path color="#0b549e" d="M79.9 93.8l2.4-0.7l-1.9-2l-2.5 0.7z"/>
<path color="#0f226c" d="M94.6 97.9l2.4-0.7l-1.8-1.4l-2.4 0.8z"/>
<path color="#020702" d="M162.3 83.4l2.5-1l-0.4 0.3l-2.4 1z"/>
<path color="#010206" d="M133.4 96.2l2.4-1l-1.4 0.2l-2.5 1z"/>
<path color="#020702" d="M153 88.5l2.4-1l-1 0.6l-2.5 1z"/>
<path color="#07649f" d="M75.5 92.4l2.4-0.6l-1.9-2.2l-2.5 0.6z"/>
<path color="#010306" d="M138.5 94.6l2.5-1l-1.4 0.4l-2.4 0.9z"/>
<path color="#0b1246" d="M104.7 99.4l2.5-0.8l-1.8-0.9l-2.4 0.8z"/>
<path color="#010309" d="M124.1 98.3l2.4-0.9l-1.5-0.1l-2.4 0.9z"/>
<path color="#020702" d="M148.4 90.7l2.4-1l-1.2 0.5l-2.4 1z"/>
<path color="#000406" d="M143.6 92.7l2.4-0.9l-1.3 0.4l-2.4 1z"/>
<path color="#0f2b77" d="M90.4 97.3l2.4-0.7l-1.8-1.5l-2.5 0.8z"/>
<path color="#060a27" d="M114.6 99.4l2.4-0.8l-1.6-0.5l-2.5 0.9z"/>
<path color="#020702" d="M158.2 85.7l2.4-1l-0.8 0.6l-2.4 1z"/>
<path color="#02759c" d="M71.1 90.8l2.4-0.6l-2-2.3l-2.4 0.6z"/>
<path color="#010206" d="M129.5 97.3l2.4-0.9l-1.4 0.1l-2.5 0.9z"/>
<path color="#0b164e" d="M100.6 99.3l2.4-0.8l-1.7-1l-2.5 0.8z"/>
<path color="#0f3583" d="M86.1 96.5l2.4-0.6l-1.8-1.7l-2.5 0.7z"/>
<path color="#020702" d="M154 87.8l2.4-0.9l-1 0.6l-2.4 1z"/>
<path color="#02040e" d="M120.2 99.1l2.4-0.9l-1.6-0.2l-2.4 0.9z"/>
<path color="#070b2d" d="M110.5 99.8l2.4-0.8l-1.6-0.6l-2.5 0.9z"/>
<path color="#020702" d="M158.9 85.1l2.5-0.9l-0.8 0.5l-2.4 1z"/>
<path color="#010306" d="M134.8 95.8l2.4-0.9l-1.4 0.3l-2.4 1z"/>
<path color="#020702" d="M149.5 90l2.4-0.9l-1.1 0.6l-2.4 1z"/>
<path color="#0c438c" d="M81.8 95.5l2.4-0.6l-1.9-1.8l-2.4 0.7z"/>
<path color="#000306" d="M139.9 94.1l2.4-0.9l-1.3 0.4l-2.5 1z"/>
<path color="#0c1b57" d="M96.4 99l2.4-0.7l-1.8-1.1l-2.4 0.7z"/>
<path color="#020702" d="M144.8 92.1l2.4-0.9l-1.2 0.6l-2.4 0.9z"/>
<path color="#010206" d="M125.6 98.2l2.4-0.8l-1.5 0l-2.4 0.9z"/>
<path color="#020702" d="M159.5 84.7l2.5-1l-0.6 0.5l-2.5 0.9z"/>
<path color="#080e33" d="M106.4 100l2.4-0.7l-1.6-0.7l-2.5 0.8z"/>
<path color="#030614" d="M116.2 99.7l2.4-0.8l-1.6-0.3l-2.4 0.8z"/>
<path color="#020702" d="M154.9 87.2l2.5-0.9l-1 0.6l-2.4 0.9z"/>
<path color="#095495" d="M77.4 94.3l2.5-0.5l-2-2l-2.4 0.6z"/>
<path color="#0d2162" d="M92.2 98.6l2.4-0.7l-1.8-1.3l-2.4 0.7z"/>
<path color="#020702" d="M159.9 84.4l2.4-1l-0.3 0.3l-2.5 1z"/>
<path color="#010206" d="M130.9 97l2.5-0.8l-1.5 0.2l-2.4 0.9z"/>
<path color="#020702" d="M150.6 89.4l2.4-0.9l-1.1 0.6l-2.4 0.9z"/>
<path color="#056699" d="M73 92.9l2.5-0.5l-2-2.2l-2.4 0.6z"/>
<path color="#010306" d="M136.1 95.4l2.4-0.8l-1.3 0.3l-2.4 0.9z"/>
<path color="#09113b" d="M102.3 100l2.4-0.6l-1.7-0.9l-2.4 0.8z"/>
<path color="#010206" d="M121.7 99.1l2.4-0.8l-1.5-0.1l-2.4 0.9z"/>
<path color="#020702" d="M146 91.5l2.4-0.8l-1.2 0.5l-2.4 0.9z"/>
<path color="#020702" d="M141.1 93.6l2.5-0.9l-1.3 0.5l-2.4 0.9z"/>
<path color="#0d296d" d="M87.9 97.9l2.5-0.6l-1.9-1.4l-2.4 0.6z"/>
<path color="#04071a" d="M112.1 100.2l2.5-0.8l-1.7-0.4l-2.4 0.8z"/>
<path color="#020702" d="M155.8 86.6l2.4-0.9l-0.8 0.6l-2.5 0.9z"/>
<path color="#010206" d="M127.1 98l2.4-0.7l-1.5 0.1l-2.4 0.8z"/>
<path color="#091543" d="M98.1 99.9l2.5-0.6l-1.8-1l-2.4 0.7z"/>
<path color="#0c3477" d="M83.7 97.1l2.4-0.6l-1.9-1.6l-2.4 0.6z"/>
<path color="#020702" d="M151.6 88.7l2.4-0.9l-1 0.7l-2.4 0.9z"/>
<path color="#010206" d="M117.7 99.8l2.5-0.7l-1.6-0.2l-2.4 0.8z"/>
<path color="#050920" d="M108.1 100.5l2.4-0.7l-1.7-0.5l-2.4 0.7z"/>
<path color="#020702" d="M156.5 86l2.4-0.9l-0.7 0.6l-2.4 0.9z"/>
<path color="#010306" d="M132.3 96.6l2.5-0.8l-1.4 0.4l-2.5 0.8z"/>
<path color="#020702" d="M147.1 90.9l2.4-0.9l-1.1 0.7l-2.4 0.8z"/>
<path color="#0a4280" d="M79.3 96l2.5-0.5l-1.9-1.7l-2.5 0.5z"/>
<path color="#020702" d="M137.4 94.9l2.5-0.8l-1.4 0.5l-2.4 0.8z"/>
<path color="#0a1a4c" d="M94 99.6l2.4-0.6l-1.8-1.1l-2.4 0.7z"/>
<path color="#020702" d="M142.4 93l2.4-0.9l-1.2 0.6l-2.5 0.9z"/>
<path color="#010206" d="M123.2 99l2.4-0.8l-1.5 0.1l-2.4 0.8z"/>
<path color="#020802" d="M157.1 85.5l2.4-0.8l-0.6 0.4l-2.4 0.9z"/>
<path color="#060b27" d="M104 100.6l2.4-0.6l-1.7-0.6l-2.4 0.6z"/>
<path color="#010206" d="M113.7 100.4l2.5-0.7l-1.6-0.3l-2.5 0.8z"/>
<path color="#020702" d="M152.5 88l2.4-0.8l-0.9 0.6l-2.4 0.9z"/>
<path color="#065289" d="M75 94.8l2.4-0.5l-1.9-1.9l-2.5 0.5z"/>
<path color="#0b2056" d="M89.7 99.1l2.5-0.5l-1.8-1.3l-2.5 0.6z"/>
<path color="#051104" d="M157.5 85.2l2.4-0.8l-0.4 0.3l-2.4 0.8z"/>
<path color="#010306" d="M128.5 97.7l2.4-0.7l-1.4 0.3l-2.4 0.7z"/>
<path color="#020702" d="M148.1 90.2l2.5-0.8l-1.1 0.6l-2.4 0.9z"/>
<path color="#020702" d="M133.7 96.2l2.4-0.8l-1.3 0.4l-2.5 0.8z"/>
<path color="#060f2e" d="M99.9 100.6l2.4-0.6l-1.7-0.7l-2.5 0.6z"/>
<path color="#010206" d="M119.3 99.8l2.4-0.7l-1.5 0l-2.5 0.7z"/>
<path color="#020702" d="M143.5 92.3l2.5-0.8l-1.2 0.6l-2.4 0.9z"/>
<path color="#020702" d="M138.7 94.3l2.4-0.7l-1.2 0.5l-2.5 0.8z"/>
<path color="#0b2861" d="M85.5 98.4l2.4-0.5l-1.8-1.4l-2.4 0.6z"/>
<path color="#02030b" d="M109.7 100.8l2.4-0.6l-1.6-0.4l-2.4 0.7z"/>
<path color="#020702" d="M153.3 87.4l2.5-0.8l-0.9 0.6l-2.4 0.8z"/>
<path color="#010206" d="M124.7 98.7l2.4-0.7l-1.5 0.2l-2.4 0.8z"/>
<path color="#071237" d="M95.7 100.4l2.4-0.5l-1.7-0.9l-2.4 0.6z"/>
<path color="#09336a" d="M81.2 97.5l2.5-0.4l-1.9-1.6l-2.5 0.5z"/>
<path color="#020702" d="M149.1 89.5l2.5-0.8l-1 0.7l-2.5 0.8z"/>
<path color="#010206" d="M115.3 100.4l2.4-0.6l-1.5-0.1l-2.5 0.7z"/>
<path color="#020612" d="M105.7 101.1l2.4-0.6l-1.7-0.5l-2.4 0.6z"/>
<path color="#051104" d="M154.1 86.8l2.4-0.8l-0.7 0.6l-2.5 0.8z"/>
<path color="#010306" d="M129.9 97.3l2.4-0.7l-1.4 0.4l-2.4 0.7z"/>
<path color="#020702" d="M144.7 91.6l2.4-0.7l-1.1 0.6l-2.5 0.8z"/>
<path color="#074074" d="M76.9 96.4l2.4-0.4l-1.9-1.7l-2.4 0.5z"/>
<path color="#020702" d="M135 95.6l2.4-0.7l-1.3 0.5l-2.4 0.8z"/>
<path color="#081740" d="M91.5 100.1l2.5-0.5l-1.8-1l-2.5 0.5z"/>
<path color="#020702" d="M139.9 93.7l2.5-0.7l-1.3 0.6l-2.4 0.7z"/>
<path color="#010206" d="M120.8 99.6l2.4-0.6l-1.5 0.1l-2.4 0.7z"/>
<path color="#081c07" d="M154.7 86.3l2.4-0.8l-0.6 0.5l-2.4 0.8z"/>
<path color="#030819" d="M101.6 101.2l2.4-0.6l-1.7-0.6l-2.4 0.6z"/>
<path color="#010206" d="M111.3 100.9l2.4-0.5l-1.6-0.2l-2.4 0.6z"/>
<path color="#020702" d="M150.1 88.8l2.4-0.8l-0.9 0.7l-2.5 0.8z"/>
<path color="#091e4a" d="M87.3 99.5l2.4-0.4l-1.8-1.2l-2.4 0.5z"/>
<path color="#0a2309" d="M155 86l2.5-0.8l-0.4 0.3l-2.4 0.8z"/>
<path color="#010306" d="M126.1 98.4l2.4-0.7l-1.4 0.3l-2.4 0.7z"/>
<path color="#020702" d="M145.7 90.9l2.4-0.7l-1 0.7l-2.4 0.7z"/>
<path color="#020702" d="M131.3 96.8l2.4-0.6l-1.4 0.4l-2.4 0.7z"/>
<path color="#040b21" d="M97.4 101.1l2.5-0.5l-1.8-0.7l-2.4 0.5z"/>
<path color="#010206" d="M116.8 100.3l2.5-0.5l-1.6 0l-2.4 0.6z"/>
<path color="#020702" d="M141.1 93l2.4-0.7l-1.1 0.7l-2.5 0.7z"/>
<path color="#020702" d="M136.3 95l2.4-0.7l-1.3 0.6l-2.4 0.7z"/>
<path color="#082654" d="M83 98.8l2.5-0.4l-1.8-1.3l-2.5 0.4z"/>
<path color="#010206" d="M107.3 101.3l2.4-0.5l-1.6-0.3l-2.4 0.6z"/>
<path color="#071706" d="M150.9 88.1l2.4-0.7l-0.8 0.6l-2.4 0.8z"/>
<path color="#010306" d="M122.2 99.3l2.5-0.6l-1.5 0.3l-2.4 0.6z"/>
<path color="#050f2a" d="M93.3 100.9l2.4-0.5l-1.7-0.8l-2.5 0.5z"/>
<path color="#07315d" d="M78.8 97.9l2.4-0.4l-1.9-1.5l-2.4 0.4z"/>
<path color="#030902" d="M146.7 90.1l2.4-0.6l-1 0.7l-2.4 0.7z"/>
<path color="#010206" d="M112.9 101l2.4-0.6l-1.6 0l-2.4 0.5z"/>
<path color="#010206" d="M103.2 101.5l2.5-0.4l-1.7-0.5l-2.4 0.6z"/>
<path color="#0a2309" d="M151.6 87.5l2.5-0.7l-0.8 0.6l-2.4 0.7z"/>
<path color="#020702" d="M127.5 97.9l2.4-0.6l-1.4 0.4l-2.4 0.7z"/>
<path color="#020702" d="M142.2 92.2l2.5-0.6l-1.2 0.7l-2.4 0.7z"/>
<path color="#020702" d="M132.6 96.2l2.4-0.6l-1.3 0.6l-2.4 0.6z"/>
<path color="#061433" d="M89.1 100.5l2.4-0.4l-1.8-1l-2.4 0.4z"/>
<path color="#020702" d="M137.5 94.3l2.4-0.6l-1.2 0.6l-2.4 0.7z"/>
<path color="#010306" d="M118.3 100.1l2.5-0.5l-1.5 0.2l-2.5 0.5z"/>
<path color="#0d2d0b" d="M152.2 86.9l2.5-0.6l-0.6 0.5l-2.5 0.7z"/>
<path color="#010309" d="M99.1 101.6l2.5-0.4l-1.7-0.6l-2.5 0.5z"/>
<path color="#010206" d="M108.9 101.4l2.4-0.5l-1.6-0.1l-2.4 0.5z"/>
<path color="#081b07" d="M147.6 89.4l2.5-0.6l-1 0.7l-2.4 0.6z"/>
<path color="#061b3c" d="M84.9 99.9l2.4-0.4l-1.8-1.1l-2.5 0.4z"/>
<path color="#0f340d" d="M152.6 86.6l2.4-0.6l-0.3 0.3l-2.5 0.6z"/>
<path color="#020702" d="M123.7 98.9l2.4-0.5l-1.4 0.3l-2.5 0.6z"/>
<path color="#030b03" d="M143.3 91.5l2.4-0.6l-1 0.7l-2.5 0.6z"/>
<path color="#020702" d="M128.8 97.3l2.5-0.5l-1.4 0.5l-2.4 0.6z"/>
<path color="#020712" d="M95 101.5l2.4-0.4l-1.7-0.7l-2.4 0.5z"/>
<path color="#010306" d="M114.4 100.8l2.4-0.5l-1.5 0.1l-2.4 0.6z"/>
<path color="#020702" d="M138.7 93.5l2.4-0.5l-1.2 0.7l-2.4 0.6z"/>
<path color="#020702" d="M133.8 95.5l2.5-0.5l-1.3 0.6l-2.4 0.6z"/>
<path color="#052446" d="M80.6 99.1l2.4-0.3l-1.8-1.3l-2.4 0.4z"/>
<path color="#010206" d="M104.8 101.8l2.5-0.5l-1.6-0.2l-2.5 0.4z"/>
<path color="#0c280a" d="M148.5 88.7l2.4-0.6l-0.8 0.7l-2.5 0.6z"/>
<path color="#020702" d="M119.8 99.8l2.4-0.5l-1.4 0.3l-2.5 0.5z"/>
<path color="#030b1b" d="M90.8 101.2l2.5-0.3l-1.8-0.8l-2.4 0.4z"/>
<path color="#091d07" d="M144.3 90.7l2.4-0.6l-1 0.8l-2.4 0.6z"/>
<path color="#010306" d="M110.4 101.4l2.5-0.4l-1.6-0.1l-2.4 0.5z"/>
<path color="#010206" d="M100.8 101.9l2.4-0.4l-1.6-0.3l-2.5 0.4z"/>
<path color="#0f340d" d="M149.2 88l2.4-0.5l-0.7 0.6l-2.4 0.6z"/>
<path color="#020702" d="M125.1 98.4l2.4-0.5l-1.4 0.5l-2.4 0.5z"/>
<path color="#030b03" d="M139.8 92.8l2.4-0.6l-1.1 0.8l-2.4 0.5z"/>
<path color="#020702" d="M130.1 96.7l2.5-0.5l-1.3 0.6l-2.5 0.5z"/>
<path color="#041024" d="M86.6 100.8l2.5-0.3l-1.8-1l-2.4 0.4z"/>
<path color="#020702" d="M135.1 94.8l2.4-0.5l-1.2 0.7l-2.5 0.5z"/>
<path color="#010306" d="M115.9 100.6l2.4-0.5l-1.5 0.2l-2.4 0.5z"/>
<path color="#123d0f" d="M149.8 87.5l2.4-0.6l-0.6 0.6l-2.4 0.5z"/>
<path color="#010206" d="M96.7 101.9l2.4-0.3l-1.7-0.5l-2.4 0.4z"/>
<path color="#010306" d="M106.4 101.8l2.5-0.4l-1.6-0.1l-2.5 0.5z"/>
<path color="#0d2c0b" d="M145.2 89.9l2.4-0.5l-0.9 0.7l-2.4 0.6z"/>
<path color="#04172d" d="M82.4 100.1l2.5-0.2l-1.9-1.1l-2.4 0.3z"/>
<path color="#134311" d="M150.1 87.1l2.5-0.5l-0.4 0.3l-2.4 0.6z"/>
<path color="#020702" d="M121.2 99.3l2.5-0.4l-1.5 0.4l-2.4 0.5z"/>
<path color="#091f08" d="M140.9 91.9l2.4-0.4l-1.1 0.7l-2.4 0.6z"/>
<path color="#020702" d="M126.4 97.8l2.4-0.5l-1.3 0.6l-2.4 0.5z"/>
<path color="#010306" d="M92.6 101.8l2.4-0.3l-1.7-0.6l-2.5 0.3z"/>
<path color="#010306" d="M112 101.2l2.4-0.4l-1.5 0.2l-2.5 0.4z"/>
<path color="#030a02" d="M136.2 94l2.5-0.5l-1.2 0.8l-2.4 0.5z"/>
<path color="#020702" d="M131.4 96l2.4-0.5l-1.2 0.7l-2.5 0.5z"/>
<path color="#010306" d="M102.4 102.1l2.4-0.3l-1.6-0.3l-2.4 0.4z"/>
<path color="#10390e" d="M146 89.2l2.5-0.5l-0.9 0.7l-2.4 0.5z"/>
<path color="#020702" d="M117.4 100.2l2.4-0.4l-1.5 0.3l-2.4 0.5z"/>
<path color="#01050a" d="M88.4 101.5l2.4-0.3l-1.7-0.7l-2.5 0.3z"/>
<path color="#0e2f0c" d="M141.8 91.1l2.5-0.4l-1 0.8l-2.4 0.4z"/>
<path color="#010306" d="M108 101.7l2.4-0.3l-1.5 0l-2.5 0.4z"/>
<path color="#010306" d="M98.3 102.2l2.5-0.3l-1.7-0.3l-2.4 0.3z"/>
<path color="#134311" d="M146.8 88.5l2.4-0.5l-0.7 0.7l-2.5 0.5z"/>
<path color="#020702" d="M122.6 98.8l2.5-0.4l-1.4 0.5l-2.5 0.4z"/>
<path color="#091f08" d="M137.4 93.2l2.4-0.4l-1.1 0.7l-2.5 0.5z"/>
<path color="#020702" d="M127.7 97.1l2.4-0.4l-1.3 0.6l-2.4 0.5z"/>
<path color="#020a14" d="M84.2 100.9l2.4-0.1l-1.7-0.9l-2.5 0.2z"/>
<path color="#020702" d="M132.6 95.2l2.5-0.4l-1.3 0.7l-2.4 0.5z"/>
<path color="#020702" d="M113.5 100.9l2.4-0.3l-1.5 0.2l-2.4 0.4z"/>
<path color="#164b13" d="M147.4 87.9l2.4-0.4l-0.6 0.5l-2.4 0.5z"/>
<path color="#010306" d="M94.2 102.2l2.5-0.3l-1.7-0.4l-2.4 0.3z"/>
<path color="#010306" d="M104 102.1l2.4-0.3l-1.6 0l-2.4 0.3z"/>
<path color="#123c0f" d="M142.8 90.3l2.4-0.4l-0.9 0.8l-2.5 0.4z"/>
<path color="#185115" d="M147.7 87.6l2.4-0.5l-0.3 0.4l-2.4 0.4z"/>
<path color="#020702" d="M118.8 99.7l2.4-0.4l-1.4 0.5l-2.4 0.4z"/>
<path color="#0e300c" d="M138.4 92.3l2.5-0.4l-1.1 0.9l-2.4 0.4z"/>
<path color="#020702" d="M124 98.1l2.4-0.3l-1.3 0.6l-2.5 0.4z"/>
<path color="#010306" d="M90.1 102l2.5-0.2l-1.8-0.6l-2.4 0.3z"/>
<path color="#020702" d="M109.5 101.5l2.5-0.3l-1.6 0.2l-2.4 0.3z"/>
<path color="#091e08" d="M133.8 94.4l2.4-0.4l-1.1 0.8l-2.5 0.4z"/>
<path color="#020702" d="M129 96.3l2.4-0.3l-1.3 0.7l-2.4 0.4z"/>
<path color="#010306" d="M100 102.3l2.4-0.2l-1.6-0.2l-2.5 0.3z"/>
<path color="#154812" d="M143.6 89.6l2.4-0.4l-0.8 0.7l-2.4 0.4z"/>
<path color="#020702" d="M114.9 100.4l2.5-0.2l-1.5 0.4l-2.4 0.3z"/>
<path color="#000306" d="M85.9 101.6l2.5-0.1l-1.8-0.7l-2.4 0.1z"/>
<path color="#123f10" d="M139.4 91.5l2.4-0.4l-0.9 0.8l-2.5 0.4z"/>
<path color="#000306" d="M105.6 101.9l2.4-0.2l-1.6 0.1l-2.4 0.3z"/>
<path color="#010306" d="M95.9 102.4l2.4-0.2l-1.6-0.3l-2.5 0.3z"/>
<path color="#185115" d="M144.3 88.8l2.5-0.3l-0.8 0.7l-2.4 0.4z"/>
<path color="#020702" d="M120.2 99l2.4-0.2l-1.4 0.5l-2.4 0.4z"/>
<path color="#0e300c" d="M134.9 93.5l2.5-0.3l-1.2 0.8l-2.4 0.4z"/>
<path color="#020702" d="M125.3 97.4l2.4-0.3l-1.3 0.7l-2.4 0.3z"/>
<path color="#081d07" d="M130.2 95.5l2.4-0.3l-1.2 0.8l-2.4 0.3z"/>
<path color="#020702" d="M111 101.1l2.5-0.2l-1.5 0.3l-2.5 0.3z"/>
<path color="#1a5917" d="M144.9 88.2l2.5-0.3l-0.6 0.6l-2.5 0.3z"/>
<path color="#000306" d="M91.8 102.3l2.4-0.1l-1.6-0.4l-2.5 0.2z"/>
<path color="#000306" d="M101.6 102.2l2.4-0.1l-1.6 0l-2.4 0.2z"/>
<path color="#164b13" d="M140.3 90.6l2.5-0.3l-1 0.8l-2.4 0.4z"/>
<path color="#1b5e18" d="M145.3 87.9l2.4-0.3l-0.3 0.3l-2.5 0.3z"/>
<path color="#020702" d="M116.4 99.9l2.4-0.2l-1.4 0.5l-2.5 0.2z"/>
<path color="#134010" d="M136 92.6l2.4-0.3l-1 0.9l-2.5 0.3z"/>
<path color="#020702" d="M121.5 98.3l2.5-0.2l-1.4 0.7l-2.4 0.2z"/>
<path color="#000406" d="M87.7 102l2.4 0l-1.7-0.5l-2.5 0.1z"/>
<path color="#020702" d="M107.1 101.6l2.4-0.1l-1.5 0.2l-2.4 0.2z"/>
<path color="#0e300c" d="M131.4 94.6l2.4-0.2l-1.2 0.8l-2.4 0.3z"/>
<path color="#081a07" d="M126.6 96.6l2.4-0.3l-1.3 0.8l-2.4 0.3z"/>
<path color="#000306" d="M97.5 102.4l2.5-0.1l-1.7-0.1l-2.4 0.2z"/>
<path color="#195616" d="M141.2 89.8l2.4-0.2l-0.8 0.7l-2.5 0.3z"/>
<path color="#020702" d="M112.5 100.6l2.4-0.2l-1.4 0.5l-2.5 0.2z"/>
<path color="#164d14" d="M137 91.7l2.4-0.2l-1 0.8l-2.4 0.3z"/>
<path color="#020702" d="M103.1 102l2.5-0.1l-1.6 0.2l-2.4 0.1z"/>
<path color="#000406" d="M93.5 102.4l2.4 0l-1.7-0.2l-2.4 0.1z"/>
<path color="#1b5f18" d="M141.9 89.1l2.4-0.3l-0.7 0.8l-2.4 0.2z"/>
<path color="#020702" d="M117.8 99.2l2.4-0.2l-1.4 0.7l-2.4 0.2z"/>
<path color="#134010" d="M132.5 93.7l2.4-0.2l-1.1 0.9l-2.4 0.2z"/>
<path color="#061606" d="M122.8 97.5l2.5-0.1l-1.3 0.7l-2.5 0.2z"/>
<path color="#0e2f0c" d="M127.8 95.7l2.4-0.2l-1.2 0.8l-2.4 0.3z"/>
<path color="#020702" d="M108.6 101.2l2.4-0.1l-1.5 0.4l-2.4 0.1z"/>
<path color="#1e661a" d="M142.5 88.5l2.4-0.3l-0.6 0.6l-2.4 0.3z"/>
<path color="#000406" d="M89.3 102.3l2.5 0l-1.7-0.3l-2.4 0z"/>
<path color="#020702" d="M99.1 102.3l2.5-0.1l-1.6 0.1l-2.5 0.1z"/>
<path color="#1a5917" d="M137.9 90.8l2.4-0.2l-0.9 0.9l-2.4 0.2z"/>
<path color="#1f6b1b" d="M142.8 88.1l2.5-0.2l-0.4 0.3l-2.4 0.3z"/>
<path color="#020702" d="M113.9 100l2.5-0.1l-1.5 0.5l-2.4 0.2z"/>
<path color="#174f14" d="M133.5 92.8l2.5-0.2l-1.1 0.9l-2.4 0.2z"/>
<path color="#051104" d="M119.1 98.5l2.4-0.2l-1.3 0.7l-2.4 0.2z"/>
<path color="#020702" d="M104.7 101.7l2.4-0.1l-1.5 0.3l-2.5 0.1z"/>
<path color="#134010" d="M128.9 94.8l2.5-0.2l-1.2 0.9l-2.4 0.2z"/>
<path color="#0d2c0b" d="M124.1 96.7l2.5-0.1l-1.3 0.8l-2.5 0.1z"/>
<path color="#000406" d="M95.1 102.4l2.4 0l-1.6 0l-2.4 0z"/>
<path color="#1d6319" d="M138.7 90l2.5-0.2l-0.9 0.8l-2.4 0.2z"/>
<path color="#020702" d="M110.1 100.6l2.4 0l-1.5 0.5l-2.4 0.1z"/>
<path color="#1b5b17" d="M134.5 91.8l2.5-0.1l-1 0.9l-2.5 0.2z"/>
<path color="#020702" d="M100.7 102l2.4 0l-1.5 0.2l-2.5 0.1z"/>
<path color="#000406" d="M91 102.4l2.5 0l-1.7-0.1l-2.5 0z"/>
<path color="#1f6b1b" d="M139.5 89.2l2.4-0.1l-0.7 0.7l-2.5 0.2z"/>
<path color="#030b03" d="M115.3 99.3l2.5-0.1l-1.4 0.7l-2.5 0.1z"/>
<path color="#174f14" d="M130.1 93.8l2.4-0.1l-1.1 0.9l-2.5 0.2z"/>
<path color="#0c290a" d="M120.4 97.6l2.4-0.1l-1.3 0.8l-2.4 0.2z"/>
<path color="#123f10" d="M125.3 95.8l2.5-0.1l-1.2 0.9l-2.5 0.1z"/>
<path color="#020702" d="M106.2 101.2l2.4 0l-1.5 0.4l-2.4 0.1z"/>
<path color="#21721d" d="M140 88.6l2.5-0.1l-0.6 0.6l-2.4 0.1z"/>
<path color="#020702" d="M96.7 102.2l2.4 0.1l-1.6 0.1l-2.4 0z"/>
<path color="#1e661a" d="M135.5 90.9l2.4-0.1l-0.9 0.9l-2.5 0.1z"/>
<path color="#22771e" d="M140.4 88.2l2.4-0.1l-0.3 0.4l-2.5 0.1z"/>
<path color="#020702" d="M111.5 100l2.4 0l-1.4 0.6l-2.4 0z"/>
<path color="#1b5c18" d="M131.1 92.8l2.4 0l-1 0.9l-2.4 0.1z"/>
<path color="#0b2509" d="M116.7 98.5l2.4 0l-1.3 0.7l-2.5 0.1z"/>
<path color="#020702" d="M102.2 101.6l2.5 0.1l-1.6 0.3l-2.4 0z"/>
<path color="#174f14" d="M126.5 94.8l2.4 0l-1.1 0.9l-2.5 0.1z"/>
<path color="#123d0f" d="M121.7 96.7l2.4 0l-1.3 0.8l-2.4 0.1z"/>
<path color="#020702" d="M92.6 102.3l2.5 0.1l-1.6 0l-2.5 0z"/>
<path color="#206f1c" d="M136.3 90.1l2.4-0.1l-0.8 0.8l-2.4 0.1z"/>
<path color="#020702" d="M107.6 100.6l2.5 0l-1.5 0.6l-2.4 0z"/>
<path color="#1e681a" d="M132.1 91.9l2.4-0.1l-1 1l-2.4 0z"/>
<path color="#020702" d="M98.2 101.9l2.5 0.1l-1.6 0.3l-2.4-0.1z"/>
<path color="#23771e" d="M137 89.3l2.5-0.1l-0.8 0.8l-2.4 0.1z"/>
<path color="#092008" d="M112.9 99.2l2.4 0.1l-1.4 0.7l-2.4 0z"/>
<path color="#1b5d18" d="M127.6 93.8l2.5 0l-1.2 1l-2.4 0z"/>
<path color="#113a0f" d="M118 97.6l2.4 0l-1.3 0.9l-2.4 0z"/>
<path color="#174e14" d="M122.9 95.7l2.4 0.1l-1.2 0.9l-2.4 0z"/>
<path color="#020702" d="M103.7 101.1l2.5 0.1l-1.5 0.5l-2.5-0.1z"/>
<path color="#247d20" d="M137.6 88.6l2.4 0l-0.5 0.6l-2.5 0.1z"/>
<path color="#020702" d="M94.2 102.1l2.5 0.1l-1.6 0.2l-2.5-0.1z"/>
<path color="#21721d" d="M133 90.9l2.5 0l-1 0.9l-2.4 0.1z"/>
<path color="#268221" d="M138 88.2l2.4 0l-0.4 0.4l-2.4 0z"/>
<path color="#071a06" d="M109 99.9l2.5 0.1l-1.4 0.6l-2.5 0z"/>
<path color="#1f691b" d="M128.7 92.8l2.4 0l-1 1l-2.5 0z"/>
<path color="#10360e" d="M114.2 98.4l2.5 0.1l-1.4 0.8l-2.4-0.1z"/>
<path color="#020702" d="M99.8 101.5l2.4 0.1l-1.5 0.4l-2.5-0.1z"/>
<path color="#1b5d18" d="M124.1 94.7l2.4 0.1l-1.2 1l-2.4-0.1z"/>
<path color="#164c13" d="M119.2 96.6l2.5 0.1l-1.3 0.9l-2.4 0z"/>
<path color="#247b1f" d="M133.8 90l2.5 0.1l-0.8 0.8l-2.5 0z"/>
<path color="#051205" d="M105.2 100.4l2.4 0.2l-1.4 0.6l-2.5-0.1z"/>
<path color="#22741e" d="M129.7 91.8l2.4 0.1l-1 0.9l-2.4 0z"/>
<path color="#020702" d="M95.8 101.7l2.4 0.2l-1.5 0.3l-2.5-0.1z"/>
<path color="#268221" d="M134.6 89.2l2.4 0.1l-0.7 0.8l-2.5-0.1z"/>
<path color="#0e320d" d="M110.4 99l2.5 0.2l-1.4 0.8l-2.5-0.1z"/>
<path color="#1f6a1b" d="M125.2 93.7l2.4 0.1l-1.1 1l-2.4-0.1z"/>
<path color="#154a13" d="M115.5 97.4l2.5 0.2l-1.3 0.9l-2.5-0.1z"/>
<path color="#1b5c17" d="M120.4 95.6l2.5 0.1l-1.2 1l-2.5-0.1z"/>
<path color="#020902" d="M101.3 100.9l2.4 0.2l-1.5 0.5l-2.4-0.1z"/>
<path color="#288823" d="M135.2 88.5l2.4 0.1l-0.6 0.7l-2.4-0.1z"/>
<path color="#257e20" d="M130.6 90.8l2.4 0.1l-0.9 1l-2.4-0.1z"/>
<path color="#298c24" d="M135.5 88.1l2.5 0.1l-0.4 0.4l-2.4-0.1z"/>
<path color="#0d2c0b" d="M106.6 99.6l2.4 0.3l-1.4 0.7l-2.4-0.2z"/>
<path color="#22761e" d="M126.2 92.6l2.5 0.2l-1.1 1l-2.4-0.1z"/>
<path color="#144612" d="M111.8 98.1l2.4 0.3l-1.3 0.8l-2.5-0.2z"/>
<path color="#020702" d="M97.3 101.2l2.5 0.3l-1.6 0.4l-2.4-0.2z"/>
<path color="#1f6a1b" d="M121.6 94.5l2.5 0.2l-1.2 1l-2.5-0.1z"/>
<path color="#1a5a17" d="M116.8 96.4l2.4 0.2l-1.2 1l-2.5-0.2z"/>
<path color="#278622" d="M131.4 89.8l2.4 0.2l-0.8 0.9l-2.4-0.1z"/>
<path color="#0b260a" d="M102.7 100.1l2.5 0.3l-1.5 0.7l-2.4-0.2z"/>
<path color="#258021" d="M127.2 91.6l2.5 0.2l-1 1l-2.5-0.2z"/>
<path color="#298d24" d="M132.1 89l2.5 0.2l-0.8 0.8l-2.4-0.2z"/>
<path color="#134211" d="M108 98.8l2.4 0.2l-1.4 0.9l-2.4-0.3z"/>
<path color="#22761e" d="M122.7 93.4l2.5 0.3l-1.1 1l-2.5-0.2z"/>
<path color="#1a5816" d="M113.1 97.1l2.4 0.3l-1.3 1l-2.4-0.3z"/>
<path color="#1f691b" d="M118 95.3l2.4 0.3l-1.2 1l-2.4-0.2z"/>
<path color="#091e08" d="M98.8 100.5l2.5 0.4l-1.5 0.6l-2.5-0.3z"/>
<path color="#2b9325" d="M132.7 88.3l2.5 0.2l-0.6 0.7l-2.5-0.2z"/>
<path color="#288923" d="M128.1 90.5l2.5 0.3l-0.9 1l-2.5-0.2z"/>
<path color="#2c9626" d="M133.1 87.8l2.4 0.3l-0.3 0.4l-2.5-0.2z"/>
<path color="#123d10" d="M104.1 99.3l2.5 0.3l-1.4 0.8l-2.5-0.3z"/>
<path color="#268121" d="M123.8 92.3l2.4 0.3l-1 1.1l-2.5-0.3z"/>
<path color="#195516" d="M109.3 97.8l2.5 0.3l-1.4 0.9l-2.4-0.2z"/>
<path color="#22761e" d="M119.2 94.2l2.4 0.3l-1.2 1.1l-2.4-0.3z"/>
<path color="#1e681a" d="M114.3 96.1l2.5 0.3l-1.3 1l-2.4-0.3z"/>
<path color="#2a9025" d="M128.9 89.6l2.5 0.2l-0.8 1l-2.5-0.3z"/>
<path color="#10380e" d="M100.2 99.7l2.5 0.4l-1.4 0.8l-2.5-0.4z"/>
<path color="#288b23" d="M124.8 91.2l2.4 0.4l-1 1l-2.4-0.3z"/>
<path color="#2c9726" d="M129.7 88.7l2.4 0.3l-0.7 0.8l-2.5-0.2z"/>
<path color="#185115" d="M105.5 98.4l2.5 0.4l-1.4 0.8l-2.5-0.3z"/>
<path color="#268221" d="M120.3 93.1l2.4 0.3l-1.1 1.1l-2.4-0.3z"/>
<path color="#1e661a" d="M110.6 96.7l2.5 0.4l-1.3 1l-2.5-0.3z"/>
<path color="#22761e" d="M115.5 95l2.5 0.3l-1.2 1.1l-2.5-0.3z"/>
<path color="#2d9c28" d="M130.3 87.9l2.4 0.4l-0.6 0.7l-2.4-0.3z"/>
<path color="#2b9325" d="M125.7 90.2l2.4 0.3l-0.9 1.1l-2.4-0.4z"/>
<path color="#2fa029" d="M130.6 87.5l2.5 0.3l-0.4 0.5l-2.4-0.4z"/>
<path color="#164d14" d="M101.7 98.8l2.4 0.5l-1.4 0.8l-2.5-0.4z"/>
<path color="#298c24" d="M121.3 91.9l2.5 0.4l-1.1 1.1l-2.4-0.3z"/>
<path color="#1d6319" d="M106.9 97.3l2.4 0.5l-1.3 1l-2.5-0.4z"/>
<path color="#268221" d="M116.7 93.8l2.5 0.4l-1.2 1.1l-2.5-0.3z"/>
<path color="#22741e" d="M111.9 95.6l2.4 0.5l-1.2 1l-2.5-0.4z"/>
<path color="#2d9a27" d="M126.5 89.2l2.4 0.4l-0.8 0.9l-2.4-0.3z"/>
<path color="#2b9526" d="M122.3 90.8l2.5 0.4l-1 1.1l-2.5-0.4z"/>
<path color="#2fa129" d="M127.2 88.3l2.5 0.4l-0.8 0.9l-2.4-0.4z"/>
<path color="#1c6018" d="M103 97.9l2.5 0.5l-1.4 0.9l-2.4-0.5z"/>
<path color="#298d24" d="M117.8 92.6l2.5 0.5l-1.1 1.1l-2.5-0.4z"/>
<path color="#21731d" d="M108.2 96.2l2.4 0.5l-1.3 1.1l-2.4-0.5z"/>
<path color="#268121" d="M113.1 94.5l2.4 0.5l-1.2 1.1l-2.4-0.5z"/>
<path color="#30a52a" d="M127.8 87.5l2.5 0.4l-0.6 0.8l-2.5-0.4z"/>
<path color="#2e9d28" d="M123.2 89.7l2.5 0.5l-0.9 1l-2.5-0.4z"/>
<path color="#30a52a" d="M128.2 87l2.4 0.5l-0.3 0.4l-2.5-0.4z"/>
<path color="#2c9626" d="M118.9 91.4l2.4 0.5l-1 1.2l-2.5-0.5z"/>
<path color="#21701d" d="M104.4 96.8l2.5 0.5l-1.4 1.1l-2.5-0.5z"/>
<path color="#298d24" d="M114.2 93.3l2.5 0.5l-1.2 1.2l-2.4-0.5z"/>
<path color="#258021" d="M109.4 95.1l2.5 0.5l-1.3 1.1l-2.4-0.5z"/>
<path color="#30a42a" d="M124 88.7l2.5 0.5l-0.8 1l-2.5-0.5z"/>
<path color="#2e9f28" d="M119.8 90.2l2.5 0.6l-1 1.1l-2.4-0.5z"/>
<path color="#30a52a" d="M124.8 87.7l2.4 0.6l-0.7 0.9l-2.5-0.5z"/>
<path color="#2c9726" d="M115.3 92l2.5 0.6l-1.1 1.2l-2.5-0.5z"/>
<path color="#257f20" d="M105.7 95.6l2.5 0.6l-1.3 1.1l-2.5-0.5z"/>
<path color="#298d24" d="M110.6 93.9l2.5 0.6l-1.2 1.1l-2.5-0.5z"/>
<path color="#30a52a" d="M125.3 86.9l2.5 0.6l-0.6 0.8l-2.4-0.6z"/>
<path color="#30a52a" d="M120.7 89.1l2.5 0.6l-0.9 1.1l-2.5-0.6z"/>
<path color="#30a52a" d="M125.7 86.4l2.5 0.6l-0.4 0.5l-2.5-0.6z"/>
<path color="#2fa029" d="M116.4 90.8l2.5 0.6l-1.1 1.2l-2.5-0.6z"/>
<path color="#2c9727" d="M111.8 92.6l2.4 0.7l-1.1 1.2l-2.5-0.6z"/>
<path color="#298c24" d="M106.9 94.4l2.5 0.7l-1.2 1.1l-2.5-0.6z"/>
<path color="#30a52a" d="M121.6 88l2.4 0.7l-0.8 1l-2.5-0.6z"/>
<path color="#30a52a" d="M117.4 89.6l2.4 0.6l-0.9 1.2l-2.5-0.6z"/>
<path color="#30a52a" d="M122.3 87l2.5 0.7l-0.8 1l-2.4-0.7z"/>
<path color="#2fa129" d="M112.9 91.3l2.4 0.7l-1.1 1.3l-2.4-0.7z"/>
<path color="#2c9726" d="M108.1 93.1l2.5 0.8l-1.2 1.2l-2.5-0.7z"/>
<path color="#30a52a" d="M122.9 86.2l2.4 0.7l-0.5 0.8l-2.5-0.7z"/>
<path color="#30a52a" d="M118.3 88.4l2.4 0.7l-0.9 1.1l-2.4-0.6z"/>
<path color="#30a52a" d="M123.2 85.7l2.5 0.7l-0.4 0.5l-2.4-0.7z"/>
<path color="#30a52a" d="M113.9 90l2.5 0.8l-1.1 1.2l-2.4-0.7z"/>
<path color="#2fa129" d="M109.3 91.8l2.5 0.8l-1.2 1.3l-2.5-0.8z"/>
<path color="#30a52a" d="M119.1 87.3l2.5 0.7l-0.9 1.1l-2.4-0.7z"/>
<path color="#30a52a" d="M114.9 88.8l2.5 0.8l-1 1.2l-2.5-0.8z"/>
<path color="#30a52a" d="M119.8 86.2l2.5 0.8l-0.7 1l-2.5-0.7z"/>
<path color="#30a52a" d="M110.4 90.5l2.5 0.8l-1.1 1.3l-2.5-0.8z"/>
<path color="#30a52a" d="M120.4 85.4l2.5 0.8l-0.6 0.8l-2.5-0.8z"/>
<path color="#30a52a" d="M115.8 87.5l2.5 0.9l-0.9 1.2l-2.5-0.8z"/>
<path color="#30a52a" d="M120.8 84.9l2.4 0.8l-0.3 0.5l-2.5-0.8z"/>
<path color="#30a52a" d="M111.4 89.1l2.5 0.9l-1 1.3l-2.5-0.8z"/>
<path color="#30a52a" d="M116.6 86.4l2.5 0.9l-0.8 1.1l-2.5-0.9z"/>
<path color="#30a52a" d="M112.4 87.8l2.5 1l-1 1.2l-2.5-0.9z"/>
<path color="#30a52a" d="M117.3 85.3l2.5 0.9l-0.7 1.1l-2.5-0.9z"/>
<path color="#30a52a" d="M117.9 84.5l2.5 0.9l-0.6 0.8l-2.5-0.9z"/>
<path color="#30a52a" d="M113.3 86.6l2.5 0.9l-0.9 1.3l-2.5-1z"/>
<path color="#30a52a" d="M118.3 83.9l2.5 1l-0.4 0.5l-2.5-0.9z"/>
<path color="#30a52a" d="M114.1 85.4l2.5 1l-0.8 1.1l-2.5-0.9z"/>
<path color="#30a52a" d="M114.9 84.3l2.4 1l-0.7 1.1l-2.5-1z"/>
<path color="#30a52a" d="M115.4 83.4l2.5 1.1l-0.6 0.8l-2.4-1z"/>
<path color="#30a52a" d="M115.8 82.8l2.5 1.1l-0.4 0.6l-2.5-1.1z"/>
</g>
<circle cx="164.8" cy="82.4" r="1.05" fill="#f3a0b0"/>
<circle cx="67.0" cy="85.9" r="1.05" fill="#e00"/>
<circle cx="115.8" cy="56.2" r="1.05" fill="#e00"/>
<g font-size="3.3" fill="#1a1a1a" stroke="#1a1a1a" stroke-width="0.07">
<text x="65.9" y="111.5" text-anchor="end">8</text>
<circle cx="67.8" cy="112.4" r="0.5" fill="#222"/>
<text x="65.5" y="96.8" text-anchor="end">9</text>
<circle cx="67.4" cy="97.7" r="0.5" fill="#222"/>
<text x="65.1" y="82.1" text-anchor="end">10</text>
<circle cx="67.0" cy="83.0" r="0.5" fill="#222"/>
<text x="64.6" y="67.4" text-anchor="end">11</text>
<circle cx="66.5" cy="68.3" r="0.5" fill="#222"/>
<text x="64.2" y="52.6" text-anchor="end">12</text>
<circle cx="66.1" cy="53.5" r="0.5" fill="#222"/>
<text x="63.8" y="37.9" text-anchor="end">13</text>
<circle cx="65.7" cy="38.8" r="0.5" fill="#222"/>
<circle cx="115.8" cy="169.6" r="0.45" fill="#222"/>
<text x="118.6" y="172.7">1100.00</text>
<circle cx="127.6" cy="161.1" r="0.45" fill="#222"/>
<text x="130.4" y="164.2">1150.00</text>
<circle cx="139.4" cy="152.6" r="0.45" fill="#222"/>
<text x="142.2" y="155.7">1200.00</text>
<circle cx="151.2" cy="144.1" r="0.45" fill="#222"/>
<text x="154.0" y="147.2">1250.00</text>
<circle cx="163.0" cy="135.6" r="0.45" fill="#222"/>
<text x="165.8" y="138.7">1300.00</text>
<circle cx="115.8" cy="169.6" r="0.45" fill="#222"/>
<text x="113.8" y="172.7" text-anchor="end">0.12</text>
<circle cx="104.0" cy="161.1" r="0.45" fill="#222"/>
<text x="102.0" y="164.2" text-anchor="end">0.14</text>
<circle cx="92.2" cy="152.6" r="0.45" fill="#222"/>
<text x="90.2" y="155.7" text-anchor="end">0.15</text>
<circle cx="80.3" cy="144.1" r="0.45" fill="#222"/>
<text x="78.3" y="147.2" text-anchor="end">0.16</text>
<circle cx="68.5" cy="135.6" r="0.45" fill="#222"/>
<text x="66.5" y="138.7" text-anchor="end">0.18</text>
</g>
<g font-size="5" fill="#222" stroke="#222" stroke-width="0.18">
<text x="157.8" y="167.2" text-anchor="middle">C: SS</text>
<text x="73.8" y="167.2" text-anchor="middle">D: LT</text>
<text transform="translate(53.0 89.0) rotate(-90)" text-anchor="middle">R2</text>
</g>
</g>
<text x="464" y="382.0" text-anchor="middle" font-family="'Liberation Serif',serif" font-size="11.5" font-weight="bold" fill="#111">(f)</text></g>
</svg>
</body></html>
